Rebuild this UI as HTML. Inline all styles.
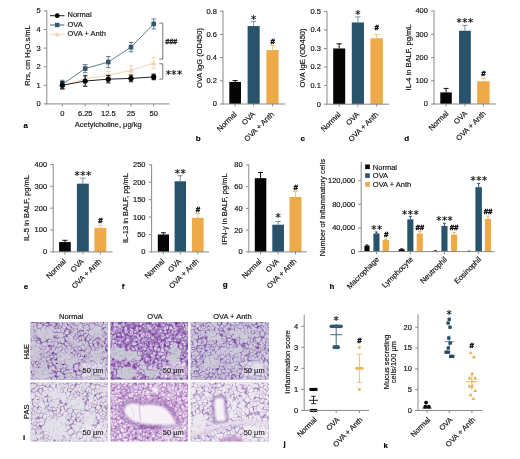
<!DOCTYPE html>
<html><head><meta charset="utf-8"><title>Figure</title>
<style>
html,body{margin:0;padding:0;background:#fff;}
body{width:520px;height:459px;overflow:hidden;}
svg{display:block;font-family:'Liberation Sans', 'DejaVu Sans', sans-serif;filter:blur(0.25px);}
text{stroke:#161616;stroke-width:0.18px;}
</style></head><body>
<svg width="520" height="459" viewBox="0 0 520 459">
<defs><filter id="sb"><feGaussianBlur stdDeviation="0.5"/></filter><filter id="sb2" x="-20%" y="-20%" width="140%" height="140%"><feGaussianBlur stdDeviation="0.9"/></filter><filter id="m0" x="0" y="0" width="1" height="1" color-interpolation-filters="sRGB"><feTurbulence type="fractalNoise" baseFrequency="0.38" numOctaves="2" seed="11"/><feColorMatrix type="matrix" values="0.854 0 0 0 0.196  0.910 0 0 0 0.043  0.672 0 0 0 0.393  0 0 0 0 1"/><feGaussianBlur stdDeviation="0.3"/></filter><filter id="m1" x="0" y="0" width="1" height="1" color-interpolation-filters="sRGB"><feTurbulence type="fractalNoise" baseFrequency="0.36" numOctaves="2" seed="12"/><feColorMatrix type="matrix" values="0.771 0 0 0 0.238  0.810 0 0 0 0.058  0.588 0 0 0 0.439  0 0 0 0 1"/><feGaussianBlur stdDeviation="0.3"/></filter><filter id="m2" x="0" y="0" width="1" height="1" color-interpolation-filters="sRGB"><feTurbulence type="fractalNoise" baseFrequency="0.38" numOctaves="2" seed="13"/><feColorMatrix type="matrix" values="0.854 0 0 0 0.189  0.910 0 0 0 0.051  0.672 0 0 0 0.401  0 0 0 0 1"/><feGaussianBlur stdDeviation="0.3"/></filter><filter id="m3" x="0" y="0" width="1" height="1" color-interpolation-filters="sRGB"><feTurbulence type="fractalNoise" baseFrequency="0.4" numOctaves="2" seed="14"/><feColorMatrix type="matrix" values="0.714 0 0 0 0.361  0.910 0 0 0 0.176  0.560 0 0 0 0.496  0 0 0 0 1"/><feGaussianBlur stdDeviation="0.3"/></filter><filter id="m4" x="0" y="0" width="1" height="1" color-interpolation-filters="sRGB"><feTurbulence type="fractalNoise" baseFrequency="0.4" numOctaves="2" seed="15"/><feColorMatrix type="matrix" values="0.575 0 0 0 0.473  0.784 0 0 0 0.216  0.458 0 0 0 0.583  0 0 0 0 1"/><feGaussianBlur stdDeviation="0.3"/></filter><filter id="m5" x="0" y="0" width="1" height="1" color-interpolation-filters="sRGB"><feTurbulence type="fractalNoise" baseFrequency="0.4" numOctaves="2" seed="16"/><feColorMatrix type="matrix" values="0.665 0 0 0 0.422  0.875 0 0 0 0.231  0.511 0 0 0 0.554  0 0 0 0 1"/><feGaussianBlur stdDeviation="0.3"/></filter></defs>
<rect width="520" height="459" fill="#fff"/>
<line x1="46.80" y1="10.40" x2="46.80" y2="104.40" stroke="#8a8a8a" stroke-width="1"/>
<line x1="43.80" y1="103.90" x2="46.80" y2="103.90" stroke="#8a8a8a" stroke-width="1"/>
<text x="40.70" y="106.30" font-size="7.5" text-anchor="end" fill="#161616">0</text>
<line x1="43.80" y1="85.30" x2="46.80" y2="85.30" stroke="#8a8a8a" stroke-width="1"/>
<text x="40.70" y="87.70" font-size="7.5" text-anchor="end" fill="#161616">1</text>
<line x1="43.80" y1="66.70" x2="46.80" y2="66.70" stroke="#8a8a8a" stroke-width="1"/>
<text x="40.70" y="69.10" font-size="7.5" text-anchor="end" fill="#161616">2</text>
<line x1="43.80" y1="48.10" x2="46.80" y2="48.10" stroke="#8a8a8a" stroke-width="1"/>
<text x="40.70" y="50.50" font-size="7.5" text-anchor="end" fill="#161616">3</text>
<line x1="43.80" y1="29.50" x2="46.80" y2="29.50" stroke="#8a8a8a" stroke-width="1"/>
<text x="40.70" y="31.90" font-size="7.5" text-anchor="end" fill="#161616">4</text>
<line x1="43.80" y1="10.90" x2="46.80" y2="10.90" stroke="#8a8a8a" stroke-width="1"/>
<text x="40.70" y="13.30" font-size="7.5" text-anchor="end" fill="#161616">5</text>
<line x1="46.30" y1="103.90" x2="169.50" y2="103.90" stroke="#8a8a8a" stroke-width="1"/>
<line x1="62.30" y1="103.90" x2="62.30" y2="106.40" stroke="#8a8a8a" stroke-width="1"/>
<line x1="85.20" y1="103.90" x2="85.20" y2="106.40" stroke="#8a8a8a" stroke-width="1"/>
<line x1="108.30" y1="103.90" x2="108.30" y2="106.40" stroke="#8a8a8a" stroke-width="1"/>
<line x1="131.00" y1="103.90" x2="131.00" y2="106.40" stroke="#8a8a8a" stroke-width="1"/>
<line x1="153.70" y1="103.90" x2="153.70" y2="106.40" stroke="#8a8a8a" stroke-width="1"/>
<text x="62.30" y="115.60" font-size="7.5" text-anchor="middle" fill="#161616">0</text>
<text x="85.20" y="115.60" font-size="7.5" text-anchor="middle" fill="#161616">6.25</text>
<text x="108.30" y="115.60" font-size="7.5" text-anchor="middle" fill="#161616">12.5</text>
<text x="131.00" y="115.60" font-size="7.5" text-anchor="middle" fill="#161616">25</text>
<text x="153.70" y="115.60" font-size="7.5" text-anchor="middle" fill="#161616">50</text>
<text x="108.20" y="126.70" font-size="7.5" text-anchor="middle" fill="#161616">Acetylcholine, μg/kg</text>
<text x="29.80" y="55.50" font-size="7.5" text-anchor="middle" fill="#161616" transform="rotate(-90 29.80 55.50)">Rrs, cm H<tspan font-size="5" dy="1.5">2</tspan><tspan dy="-1.5">O.s/mL</tspan></text>
<text x="23.50" y="127.90" font-size="8" text-anchor="start" fill="#000" font-weight="bold">a</text>
<polyline points="62.30,85.30 85.20,78.79 108.30,75.07 131.00,70.42 153.70,62.98" fill="none" stroke="#f5dcc2" stroke-width="1.2"/>
<line x1="62.30" y1="81.95" x2="62.30" y2="88.65" stroke="#f2d3b0" stroke-width="1"/>
<line x1="60.10" y1="81.95" x2="64.50" y2="81.95" stroke="#f2d3b0" stroke-width="1"/>
<line x1="60.10" y1="88.65" x2="64.50" y2="88.65" stroke="#f2d3b0" stroke-width="1"/>
<path d="M59.50,87.30 L65.10,87.30 L62.30,82.70Z" fill="#f2d3b0"/>
<line x1="85.20" y1="74.70" x2="85.20" y2="82.88" stroke="#f2d3b0" stroke-width="1"/>
<line x1="83.00" y1="74.70" x2="87.40" y2="74.70" stroke="#f2d3b0" stroke-width="1"/>
<line x1="83.00" y1="82.88" x2="87.40" y2="82.88" stroke="#f2d3b0" stroke-width="1"/>
<path d="M82.40,80.79 L88.00,80.79 L85.20,76.19Z" fill="#f2d3b0"/>
<line x1="108.30" y1="71.35" x2="108.30" y2="78.79" stroke="#f2d3b0" stroke-width="1"/>
<line x1="106.10" y1="71.35" x2="110.50" y2="71.35" stroke="#f2d3b0" stroke-width="1"/>
<line x1="106.10" y1="78.79" x2="110.50" y2="78.79" stroke="#f2d3b0" stroke-width="1"/>
<path d="M105.50,77.07 L111.10,77.07 L108.30,72.47Z" fill="#f2d3b0"/>
<line x1="131.00" y1="65.77" x2="131.00" y2="75.07" stroke="#f2d3b0" stroke-width="1"/>
<line x1="128.80" y1="65.77" x2="133.20" y2="65.77" stroke="#f2d3b0" stroke-width="1"/>
<line x1="128.80" y1="75.07" x2="133.20" y2="75.07" stroke="#f2d3b0" stroke-width="1"/>
<path d="M128.20,72.42 L133.80,72.42 L131.00,67.82Z" fill="#f2d3b0"/>
<line x1="153.70" y1="57.40" x2="153.70" y2="68.56" stroke="#f2d3b0" stroke-width="1"/>
<line x1="151.50" y1="57.40" x2="155.90" y2="57.40" stroke="#f2d3b0" stroke-width="1"/>
<line x1="151.50" y1="68.56" x2="155.90" y2="68.56" stroke="#f2d3b0" stroke-width="1"/>
<path d="M150.90,64.98 L156.50,64.98 L153.70,60.38Z" fill="#f2d3b0"/>
<polyline points="62.30,84.37 85.20,68.56 108.30,62.05 131.00,47.17 153.70,23.92" fill="none" stroke="#5f7d8f" stroke-width="1"/>
<line x1="62.30" y1="80.28" x2="62.30" y2="88.46" stroke="#5f7d8f" stroke-width="1"/>
<line x1="60.10" y1="80.28" x2="64.50" y2="80.28" stroke="#5f7d8f" stroke-width="1"/>
<line x1="60.10" y1="88.46" x2="64.50" y2="88.46" stroke="#5f7d8f" stroke-width="1"/>
<rect x="60.00" y="82.07" width="4.60" height="4.60" fill="#34566c"/>
<line x1="85.20" y1="64.47" x2="85.20" y2="72.65" stroke="#5f7d8f" stroke-width="1"/>
<line x1="83.00" y1="64.47" x2="87.40" y2="64.47" stroke="#5f7d8f" stroke-width="1"/>
<line x1="83.00" y1="72.65" x2="87.40" y2="72.65" stroke="#5f7d8f" stroke-width="1"/>
<rect x="82.90" y="66.26" width="4.60" height="4.60" fill="#34566c"/>
<line x1="108.30" y1="56.47" x2="108.30" y2="67.63" stroke="#5f7d8f" stroke-width="1"/>
<line x1="106.10" y1="56.47" x2="110.50" y2="56.47" stroke="#5f7d8f" stroke-width="1"/>
<line x1="106.10" y1="67.63" x2="110.50" y2="67.63" stroke="#5f7d8f" stroke-width="1"/>
<rect x="106.00" y="59.75" width="4.60" height="4.60" fill="#34566c"/>
<line x1="131.00" y1="42.52" x2="131.00" y2="51.82" stroke="#5f7d8f" stroke-width="1"/>
<line x1="128.80" y1="42.52" x2="133.20" y2="42.52" stroke="#5f7d8f" stroke-width="1"/>
<line x1="128.80" y1="51.82" x2="133.20" y2="51.82" stroke="#5f7d8f" stroke-width="1"/>
<rect x="128.70" y="44.87" width="4.60" height="4.60" fill="#34566c"/>
<line x1="153.70" y1="18.90" x2="153.70" y2="28.94" stroke="#5f7d8f" stroke-width="1"/>
<line x1="151.50" y1="18.90" x2="155.90" y2="18.90" stroke="#5f7d8f" stroke-width="1"/>
<line x1="151.50" y1="28.94" x2="155.90" y2="28.94" stroke="#5f7d8f" stroke-width="1"/>
<rect x="151.40" y="21.62" width="4.60" height="4.60" fill="#34566c"/>
<polyline points="62.30,85.30 85.20,81.02 108.30,79.16 131.00,78.42 153.70,76.93" fill="none" stroke="#222" stroke-width="1"/>
<line x1="62.30" y1="81.58" x2="62.30" y2="89.02" stroke="#111" stroke-width="1"/>
<line x1="60.10" y1="81.58" x2="64.50" y2="81.58" stroke="#111" stroke-width="1"/>
<line x1="60.10" y1="89.02" x2="64.50" y2="89.02" stroke="#111" stroke-width="1"/>
<circle cx="62.30" cy="85.30" r="2.6" fill="#000"/>
<line x1="85.20" y1="75.81" x2="85.20" y2="86.23" stroke="#111" stroke-width="1"/>
<line x1="83.00" y1="75.81" x2="87.40" y2="75.81" stroke="#111" stroke-width="1"/>
<line x1="83.00" y1="86.23" x2="87.40" y2="86.23" stroke="#111" stroke-width="1"/>
<circle cx="85.20" cy="81.02" r="2.6" fill="#000"/>
<line x1="108.30" y1="75.44" x2="108.30" y2="82.88" stroke="#111" stroke-width="1"/>
<line x1="106.10" y1="75.44" x2="110.50" y2="75.44" stroke="#111" stroke-width="1"/>
<line x1="106.10" y1="82.88" x2="110.50" y2="82.88" stroke="#111" stroke-width="1"/>
<circle cx="108.30" cy="79.16" r="2.6" fill="#000"/>
<line x1="131.00" y1="75.07" x2="131.00" y2="81.77" stroke="#111" stroke-width="1"/>
<line x1="128.80" y1="75.07" x2="133.20" y2="75.07" stroke="#111" stroke-width="1"/>
<line x1="128.80" y1="81.77" x2="133.20" y2="81.77" stroke="#111" stroke-width="1"/>
<circle cx="131.00" cy="78.42" r="2.6" fill="#000"/>
<line x1="153.70" y1="74.14" x2="153.70" y2="79.72" stroke="#111" stroke-width="1"/>
<line x1="151.50" y1="74.14" x2="155.90" y2="74.14" stroke="#111" stroke-width="1"/>
<line x1="151.50" y1="79.72" x2="155.90" y2="79.72" stroke="#111" stroke-width="1"/>
<circle cx="153.70" cy="76.93" r="2.6" fill="#000"/>
<line x1="50.00" y1="15.70" x2="64.40" y2="15.70" stroke="#222" stroke-width="1"/>
<circle cx="57.2" cy="15.7" r="2.4" fill="#000"/>
<line x1="50.00" y1="25.00" x2="64.40" y2="25.00" stroke="#5f7d8f" stroke-width="1.2"/>
<rect x="55.00" y="22.80" width="4.40" height="4.40" fill="#34566c"/>
<line x1="50.00" y1="34.40" x2="64.40" y2="34.40" stroke="#f5dcc2" stroke-width="1.2"/>
<path d="M54.6,36.199999999999996 L59.8,36.199999999999996 L57.2,32.0Z" fill="#f2d3b0"/>
<text x="67.50" y="17.30" font-size="7.5" text-anchor="start" fill="#161616">Normal</text>
<text x="67.50" y="26.80" font-size="7.5" text-anchor="start" fill="#161616">OVA</text>
<text x="67.50" y="36.40" font-size="7.5" text-anchor="start" fill="#161616">OVA + Anth</text>
<path d="M159.3,23.1 H162.8 V59.1 H159.3" fill="none" stroke="#666" stroke-width="0.9"/>
<path d="M159.3,63.8 H162.8 V79.1 H159.3" fill="none" stroke="#666" stroke-width="0.9"/>
<text x="165.30" y="44.30" font-size="7.4" text-anchor="start" fill="#161616" font-weight="bold" font-style="italic" letter-spacing="-0.2" style="stroke-width:0.3px">###</text>
<text x="164.90" y="74.50" font-size="8.0" text-anchor="start" fill="#161616" font-family="DejaVu Sans" letter-spacing="-1.0">∗∗∗</text>
<rect x="229.30" y="81.96" width="11.70" height="22.04" fill="#050505"/>
<line x1="235.15" y1="80.57" x2="235.15" y2="81.96" stroke="#111" stroke-width="1"/>
<line x1="232.58" y1="80.57" x2="237.72" y2="80.57" stroke="#111" stroke-width="1"/>
<rect x="247.60" y="26.05" width="12.10" height="77.95" fill="#28536b"/>
<line x1="253.65" y1="21.41" x2="253.65" y2="26.05" stroke="#7f919e" stroke-width="1"/>
<line x1="250.99" y1="21.41" x2="256.31" y2="21.41" stroke="#7f919e" stroke-width="1"/>
<rect x="266.40" y="50.06" width="12.20" height="53.94" fill="#eeaa48"/>
<line x1="272.50" y1="45.42" x2="272.50" y2="50.06" stroke="#f2c87e" stroke-width="1"/>
<line x1="269.82" y1="45.42" x2="275.18" y2="45.42" stroke="#f2c87e" stroke-width="1"/>
<text x="253.15" y="19.50" font-size="8.0" text-anchor="middle" fill="#161616" font-family="DejaVu Sans" letter-spacing="-1.0">∗</text>
<text x="272.50" y="43.50" font-size="7.6" text-anchor="middle" fill="#161616" font-weight="bold" font-style="italic" style="stroke-width:0.5px">#</text>
<line x1="223.00" y1="10.70" x2="223.00" y2="104.50" stroke="#8a8a8a" stroke-width="1"/>
<line x1="220.00" y1="104.00" x2="223.00" y2="104.00" stroke="#8a8a8a" stroke-width="1"/>
<text x="216.90" y="106.40" font-size="7.5" text-anchor="end" fill="#161616">0</text>
<line x1="220.00" y1="80.80" x2="223.00" y2="80.80" stroke="#8a8a8a" stroke-width="1"/>
<text x="216.90" y="83.20" font-size="7.5" text-anchor="end" fill="#161616">0.2</text>
<line x1="220.00" y1="57.60" x2="223.00" y2="57.60" stroke="#8a8a8a" stroke-width="1"/>
<text x="216.90" y="60.00" font-size="7.5" text-anchor="end" fill="#161616">0.4</text>
<line x1="220.00" y1="34.40" x2="223.00" y2="34.40" stroke="#8a8a8a" stroke-width="1"/>
<text x="216.90" y="36.80" font-size="7.5" text-anchor="end" fill="#161616">0.6</text>
<line x1="220.00" y1="11.20" x2="223.00" y2="11.20" stroke="#8a8a8a" stroke-width="1"/>
<text x="216.90" y="13.60" font-size="7.5" text-anchor="end" fill="#161616">0.8</text>
<line x1="222.50" y1="104.00" x2="285.60" y2="104.00" stroke="#8a8a8a" stroke-width="1"/>
<line x1="235.15" y1="104.00" x2="235.15" y2="106.50" stroke="#8a8a8a" stroke-width="1"/>
<line x1="253.65" y1="104.00" x2="253.65" y2="106.50" stroke="#8a8a8a" stroke-width="1"/>
<line x1="272.50" y1="104.00" x2="272.50" y2="106.50" stroke="#8a8a8a" stroke-width="1"/>
<text x="237.15" y="114.80" font-size="7.5" text-anchor="end" fill="#161616" transform="rotate(-45 237.15 114.80)">Normal</text>
<text x="255.65" y="114.80" font-size="7.5" text-anchor="end" fill="#161616" transform="rotate(-45 255.65 114.80)">OVA</text>
<text x="274.50" y="114.80" font-size="7.5" text-anchor="end" fill="#161616" transform="rotate(-45 274.50 114.80)">OVA + Anth</text>
<text x="202.00" y="58.00" font-size="7.5" text-anchor="middle" fill="#161616" transform="rotate(-90 202.00 58.00)">OVA IgG (OD450)</text>
<text x="195.80" y="141.00" font-size="8" text-anchor="start" fill="#000" font-weight="bold">b</text>
<rect x="333.20" y="48.46" width="12.00" height="55.74" fill="#050505"/>
<line x1="339.20" y1="43.81" x2="339.20" y2="48.46" stroke="#111" stroke-width="1"/>
<line x1="336.56" y1="43.81" x2="341.84" y2="43.81" stroke="#111" stroke-width="1"/>
<rect x="351.80" y="22.45" width="12.20" height="81.75" fill="#28536b"/>
<line x1="357.90" y1="16.87" x2="357.90" y2="22.45" stroke="#7f919e" stroke-width="1"/>
<line x1="355.22" y1="16.87" x2="360.58" y2="16.87" stroke="#7f919e" stroke-width="1"/>
<rect x="370.40" y="38.24" width="12.50" height="65.96" fill="#eeaa48"/>
<line x1="376.65" y1="34.52" x2="376.65" y2="38.24" stroke="#f2c87e" stroke-width="1"/>
<line x1="373.90" y1="34.52" x2="379.40" y2="34.52" stroke="#f2c87e" stroke-width="1"/>
<text x="357.40" y="15.30" font-size="8.0" text-anchor="middle" fill="#161616" font-family="DejaVu Sans" letter-spacing="-1.0">∗</text>
<text x="376.65" y="30.30" font-size="7.6" text-anchor="middle" fill="#161616" font-weight="bold" font-style="italic" style="stroke-width:0.5px">#</text>
<line x1="327.00" y1="10.80" x2="327.00" y2="104.70" stroke="#8a8a8a" stroke-width="1"/>
<line x1="324.00" y1="104.20" x2="327.00" y2="104.20" stroke="#8a8a8a" stroke-width="1"/>
<text x="320.90" y="106.60" font-size="7.5" text-anchor="end" fill="#161616">0</text>
<line x1="324.00" y1="85.62" x2="327.00" y2="85.62" stroke="#8a8a8a" stroke-width="1"/>
<text x="320.90" y="88.02" font-size="7.5" text-anchor="end" fill="#161616">0.1</text>
<line x1="324.00" y1="67.04" x2="327.00" y2="67.04" stroke="#8a8a8a" stroke-width="1"/>
<text x="320.90" y="69.44" font-size="7.5" text-anchor="end" fill="#161616">0.2</text>
<line x1="324.00" y1="48.46" x2="327.00" y2="48.46" stroke="#8a8a8a" stroke-width="1"/>
<text x="320.90" y="50.86" font-size="7.5" text-anchor="end" fill="#161616">0.3</text>
<line x1="324.00" y1="29.88" x2="327.00" y2="29.88" stroke="#8a8a8a" stroke-width="1"/>
<text x="320.90" y="32.28" font-size="7.5" text-anchor="end" fill="#161616">0.4</text>
<line x1="324.00" y1="11.30" x2="327.00" y2="11.30" stroke="#8a8a8a" stroke-width="1"/>
<text x="320.90" y="13.70" font-size="7.5" text-anchor="end" fill="#161616">0.5</text>
<line x1="326.50" y1="104.20" x2="389.00" y2="104.20" stroke="#8a8a8a" stroke-width="1"/>
<line x1="339.20" y1="104.20" x2="339.20" y2="106.70" stroke="#8a8a8a" stroke-width="1"/>
<line x1="357.90" y1="104.20" x2="357.90" y2="106.70" stroke="#8a8a8a" stroke-width="1"/>
<line x1="376.65" y1="104.20" x2="376.65" y2="106.70" stroke="#8a8a8a" stroke-width="1"/>
<text x="341.20" y="115.00" font-size="7.5" text-anchor="end" fill="#161616" transform="rotate(-45 341.20 115.00)">Normal</text>
<text x="359.90" y="115.00" font-size="7.5" text-anchor="end" fill="#161616" transform="rotate(-45 359.90 115.00)">OVA</text>
<text x="378.65" y="115.00" font-size="7.5" text-anchor="end" fill="#161616" transform="rotate(-45 378.65 115.00)">OVA + Anth</text>
<text x="304.50" y="58.00" font-size="7.5" text-anchor="middle" fill="#161616" transform="rotate(-90 304.50 58.00)">OVA IgE (OD450)</text>
<text x="300.40" y="140.60" font-size="8" text-anchor="start" fill="#000" font-weight="bold">c</text>
<rect x="440.30" y="92.38" width="11.50" height="11.62" fill="#050505"/>
<line x1="446.05" y1="88.42" x2="446.05" y2="92.38" stroke="#111" stroke-width="1"/>
<line x1="443.52" y1="88.42" x2="448.58" y2="88.42" stroke="#111" stroke-width="1"/>
<rect x="459.00" y="30.76" width="11.80" height="73.24" fill="#28536b"/>
<line x1="464.90" y1="25.41" x2="464.90" y2="30.76" stroke="#7f919e" stroke-width="1"/>
<line x1="462.30" y1="25.41" x2="467.50" y2="25.41" stroke="#7f919e" stroke-width="1"/>
<rect x="477.20" y="81.22" width="12.40" height="22.78" fill="#eeaa48"/>
<line x1="483.40" y1="78.42" x2="483.40" y2="81.22" stroke="#f2c87e" stroke-width="1"/>
<line x1="480.67" y1="78.42" x2="486.13" y2="78.42" stroke="#f2c87e" stroke-width="1"/>
<text x="464.40" y="23.40" font-size="8.0" text-anchor="middle" fill="#161616" font-family="DejaVu Sans" letter-spacing="-1.0">∗∗∗</text>
<text x="483.40" y="76.10" font-size="7.6" text-anchor="middle" fill="#161616" font-weight="bold" font-style="italic" style="stroke-width:0.5px">#</text>
<line x1="434.00" y1="10.50" x2="434.00" y2="104.50" stroke="#8a8a8a" stroke-width="1"/>
<line x1="431.00" y1="104.00" x2="434.00" y2="104.00" stroke="#8a8a8a" stroke-width="1"/>
<text x="427.90" y="106.40" font-size="7.5" text-anchor="end" fill="#161616">0</text>
<line x1="431.00" y1="80.75" x2="434.00" y2="80.75" stroke="#8a8a8a" stroke-width="1"/>
<text x="427.90" y="83.15" font-size="7.5" text-anchor="end" fill="#161616">100</text>
<line x1="431.00" y1="57.50" x2="434.00" y2="57.50" stroke="#8a8a8a" stroke-width="1"/>
<text x="427.90" y="59.90" font-size="7.5" text-anchor="end" fill="#161616">200</text>
<line x1="431.00" y1="34.25" x2="434.00" y2="34.25" stroke="#8a8a8a" stroke-width="1"/>
<text x="427.90" y="36.65" font-size="7.5" text-anchor="end" fill="#161616">300</text>
<line x1="431.00" y1="11.00" x2="434.00" y2="11.00" stroke="#8a8a8a" stroke-width="1"/>
<text x="427.90" y="13.40" font-size="7.5" text-anchor="end" fill="#161616">400</text>
<line x1="433.50" y1="104.00" x2="496.00" y2="104.00" stroke="#8a8a8a" stroke-width="1"/>
<line x1="446.05" y1="104.00" x2="446.05" y2="106.50" stroke="#8a8a8a" stroke-width="1"/>
<line x1="464.90" y1="104.00" x2="464.90" y2="106.50" stroke="#8a8a8a" stroke-width="1"/>
<line x1="483.40" y1="104.00" x2="483.40" y2="106.50" stroke="#8a8a8a" stroke-width="1"/>
<text x="448.85" y="114.00" font-size="7.5" text-anchor="end" fill="#161616" transform="rotate(-45 448.85 114.00)">Normal</text>
<text x="467.70" y="114.00" font-size="7.5" text-anchor="end" fill="#161616" transform="rotate(-45 467.70 114.00)">OVA</text>
<text x="486.20" y="114.00" font-size="7.5" text-anchor="end" fill="#161616" transform="rotate(-45 486.20 114.00)">OVA + Anth</text>
<text x="411.20" y="57.50" font-size="7.5" text-anchor="middle" fill="#161616" transform="rotate(-90 411.20 57.50)">IL-4 in BALF, pg/mL</text>
<text x="404.20" y="140.60" font-size="8" text-anchor="start" fill="#000" font-weight="bold">d</text>
<rect x="59.10" y="242.06" width="11.70" height="9.84" fill="#050505"/>
<line x1="64.95" y1="240.31" x2="64.95" y2="242.06" stroke="#111" stroke-width="1"/>
<line x1="62.38" y1="240.31" x2="67.52" y2="240.31" stroke="#111" stroke-width="1"/>
<rect x="76.90" y="183.65" width="11.90" height="68.25" fill="#28536b"/>
<line x1="82.85" y1="178.18" x2="82.85" y2="183.65" stroke="#7f919e" stroke-width="1"/>
<line x1="80.23" y1="178.18" x2="85.47" y2="178.18" stroke="#7f919e" stroke-width="1"/>
<rect x="94.40" y="227.84" width="11.90" height="24.06" fill="#eeaa48"/>
<line x1="100.35" y1="225.21" x2="100.35" y2="227.84" stroke="#f2c87e" stroke-width="1"/>
<line x1="97.73" y1="225.21" x2="102.97" y2="225.21" stroke="#f2c87e" stroke-width="1"/>
<text x="82.35" y="176.10" font-size="8.0" text-anchor="middle" fill="#161616" font-family="DejaVu Sans" letter-spacing="-1.0">∗∗∗</text>
<text x="100.35" y="223.10" font-size="7.6" text-anchor="middle" fill="#161616" font-weight="bold" font-style="italic" style="stroke-width:0.5px">#</text>
<line x1="53.20" y1="163.90" x2="53.20" y2="252.40" stroke="#8a8a8a" stroke-width="1"/>
<line x1="50.20" y1="251.90" x2="53.20" y2="251.90" stroke="#8a8a8a" stroke-width="1"/>
<text x="47.10" y="254.30" font-size="7.5" text-anchor="end" fill="#161616">0</text>
<line x1="50.20" y1="230.03" x2="53.20" y2="230.03" stroke="#8a8a8a" stroke-width="1"/>
<text x="47.10" y="232.43" font-size="7.5" text-anchor="end" fill="#161616">100</text>
<line x1="50.20" y1="208.15" x2="53.20" y2="208.15" stroke="#8a8a8a" stroke-width="1"/>
<text x="47.10" y="210.55" font-size="7.5" text-anchor="end" fill="#161616">200</text>
<line x1="50.20" y1="186.28" x2="53.20" y2="186.28" stroke="#8a8a8a" stroke-width="1"/>
<text x="47.10" y="188.68" font-size="7.5" text-anchor="end" fill="#161616">300</text>
<line x1="50.20" y1="164.40" x2="53.20" y2="164.40" stroke="#8a8a8a" stroke-width="1"/>
<text x="47.10" y="166.80" font-size="7.5" text-anchor="end" fill="#161616">400</text>
<line x1="52.70" y1="251.90" x2="112.50" y2="251.90" stroke="#8a8a8a" stroke-width="1"/>
<line x1="64.95" y1="251.90" x2="64.95" y2="254.40" stroke="#8a8a8a" stroke-width="1"/>
<line x1="82.85" y1="251.90" x2="82.85" y2="254.40" stroke="#8a8a8a" stroke-width="1"/>
<line x1="100.35" y1="251.90" x2="100.35" y2="254.40" stroke="#8a8a8a" stroke-width="1"/>
<text x="66.45" y="261.90" font-size="7.5" text-anchor="end" fill="#161616" transform="rotate(-45 66.45 261.90)">Normal</text>
<text x="84.35" y="261.90" font-size="7.5" text-anchor="end" fill="#161616" transform="rotate(-45 84.35 261.90)">OVA</text>
<text x="101.85" y="261.90" font-size="7.5" text-anchor="end" fill="#161616" transform="rotate(-45 101.85 261.90)">OVA + Anth</text>
<text x="28.90" y="208.00" font-size="7.5" text-anchor="middle" fill="#161616" transform="rotate(-90 28.90 208.00)">IL-5 in BALF, pg/mL</text>
<text x="23.80" y="288.50" font-size="8" text-anchor="start" fill="#000" font-weight="bold">e</text>
<rect x="157.80" y="234.50" width="11.20" height="17.40" fill="#050505"/>
<line x1="163.40" y1="232.76" x2="163.40" y2="234.50" stroke="#111" stroke-width="1"/>
<line x1="160.94" y1="232.76" x2="165.86" y2="232.76" stroke="#111" stroke-width="1"/>
<rect x="174.60" y="181.26" width="11.40" height="70.64" fill="#28536b"/>
<line x1="180.30" y1="175.69" x2="180.30" y2="181.26" stroke="#7f919e" stroke-width="1"/>
<line x1="177.79" y1="175.69" x2="182.81" y2="175.69" stroke="#7f919e" stroke-width="1"/>
<rect x="191.90" y="217.80" width="11.70" height="34.10" fill="#eeaa48"/>
<line x1="197.75" y1="213.62" x2="197.75" y2="217.80" stroke="#f2c87e" stroke-width="1"/>
<line x1="195.18" y1="213.62" x2="200.32" y2="213.62" stroke="#f2c87e" stroke-width="1"/>
<text x="179.80" y="173.90" font-size="8.0" text-anchor="middle" fill="#161616" font-family="DejaVu Sans" letter-spacing="-1.0">∗∗</text>
<text x="197.75" y="211.60" font-size="7.6" text-anchor="middle" fill="#161616" font-weight="bold" font-style="italic" style="stroke-width:0.5px">#</text>
<line x1="151.60" y1="164.40" x2="151.60" y2="252.40" stroke="#8a8a8a" stroke-width="1"/>
<line x1="148.60" y1="251.90" x2="151.60" y2="251.90" stroke="#8a8a8a" stroke-width="1"/>
<text x="145.50" y="254.30" font-size="7.5" text-anchor="end" fill="#161616">0</text>
<line x1="148.60" y1="234.50" x2="151.60" y2="234.50" stroke="#8a8a8a" stroke-width="1"/>
<text x="145.50" y="236.90" font-size="7.5" text-anchor="end" fill="#161616">50</text>
<line x1="148.60" y1="217.10" x2="151.60" y2="217.10" stroke="#8a8a8a" stroke-width="1"/>
<text x="145.50" y="219.50" font-size="7.5" text-anchor="end" fill="#161616">100</text>
<line x1="148.60" y1="199.70" x2="151.60" y2="199.70" stroke="#8a8a8a" stroke-width="1"/>
<text x="145.50" y="202.10" font-size="7.5" text-anchor="end" fill="#161616">150</text>
<line x1="148.60" y1="182.30" x2="151.60" y2="182.30" stroke="#8a8a8a" stroke-width="1"/>
<text x="145.50" y="184.70" font-size="7.5" text-anchor="end" fill="#161616">200</text>
<line x1="148.60" y1="164.90" x2="151.60" y2="164.90" stroke="#8a8a8a" stroke-width="1"/>
<text x="145.50" y="167.30" font-size="7.5" text-anchor="end" fill="#161616">250</text>
<line x1="151.10" y1="251.90" x2="209.00" y2="251.90" stroke="#8a8a8a" stroke-width="1"/>
<line x1="163.40" y1="251.90" x2="163.40" y2="254.40" stroke="#8a8a8a" stroke-width="1"/>
<line x1="180.30" y1="251.90" x2="180.30" y2="254.40" stroke="#8a8a8a" stroke-width="1"/>
<line x1="197.75" y1="251.90" x2="197.75" y2="254.40" stroke="#8a8a8a" stroke-width="1"/>
<text x="164.90" y="261.90" font-size="7.5" text-anchor="end" fill="#161616" transform="rotate(-45 164.90 261.90)">Normal</text>
<text x="181.80" y="261.90" font-size="7.5" text-anchor="end" fill="#161616" transform="rotate(-45 181.80 261.90)">OVA</text>
<text x="199.25" y="261.90" font-size="7.5" text-anchor="end" fill="#161616" transform="rotate(-45 199.25 261.90)">OVA + Anth</text>
<text x="128.00" y="208.00" font-size="7.5" text-anchor="middle" fill="#161616" transform="rotate(-90 128.00 208.00)">IL-13 in BALF, pg/mL</text>
<text x="121.80" y="289.00" font-size="8" text-anchor="start" fill="#000" font-weight="bold">f</text>
<rect x="254.80" y="178.17" width="11.50" height="73.73" fill="#050505"/>
<line x1="260.55" y1="172.51" x2="260.55" y2="178.17" stroke="#111" stroke-width="1"/>
<line x1="258.02" y1="172.51" x2="263.08" y2="172.51" stroke="#111" stroke-width="1"/>
<rect x="272.30" y="224.71" width="11.70" height="27.19" fill="#28536b"/>
<line x1="278.15" y1="221.45" x2="278.15" y2="224.71" stroke="#7f919e" stroke-width="1"/>
<line x1="275.58" y1="221.45" x2="280.72" y2="221.45" stroke="#7f919e" stroke-width="1"/>
<rect x="289.50" y="196.98" width="12.00" height="54.92" fill="#eeaa48"/>
<line x1="295.50" y1="191.54" x2="295.50" y2="196.98" stroke="#f2c87e" stroke-width="1"/>
<line x1="292.86" y1="191.54" x2="298.14" y2="191.54" stroke="#f2c87e" stroke-width="1"/>
<text x="277.65" y="218.00" font-size="8.0" text-anchor="middle" fill="#161616" font-family="DejaVu Sans" letter-spacing="-1.0">∗</text>
<text x="295.50" y="190.00" font-size="7.6" text-anchor="middle" fill="#161616" font-weight="bold" font-style="italic" style="stroke-width:0.5px">#</text>
<line x1="248.80" y1="164.40" x2="248.80" y2="252.40" stroke="#8a8a8a" stroke-width="1"/>
<line x1="245.80" y1="251.90" x2="248.80" y2="251.90" stroke="#8a8a8a" stroke-width="1"/>
<text x="242.70" y="254.30" font-size="7.5" text-anchor="end" fill="#161616">0</text>
<line x1="245.80" y1="230.15" x2="248.80" y2="230.15" stroke="#8a8a8a" stroke-width="1"/>
<text x="242.70" y="232.55" font-size="7.5" text-anchor="end" fill="#161616">20</text>
<line x1="245.80" y1="208.40" x2="248.80" y2="208.40" stroke="#8a8a8a" stroke-width="1"/>
<text x="242.70" y="210.80" font-size="7.5" text-anchor="end" fill="#161616">40</text>
<line x1="245.80" y1="186.65" x2="248.80" y2="186.65" stroke="#8a8a8a" stroke-width="1"/>
<text x="242.70" y="189.05" font-size="7.5" text-anchor="end" fill="#161616">60</text>
<line x1="245.80" y1="164.90" x2="248.80" y2="164.90" stroke="#8a8a8a" stroke-width="1"/>
<text x="242.70" y="167.30" font-size="7.5" text-anchor="end" fill="#161616">80</text>
<line x1="248.30" y1="251.90" x2="307.00" y2="251.90" stroke="#8a8a8a" stroke-width="1"/>
<line x1="260.55" y1="251.90" x2="260.55" y2="254.40" stroke="#8a8a8a" stroke-width="1"/>
<line x1="278.15" y1="251.90" x2="278.15" y2="254.40" stroke="#8a8a8a" stroke-width="1"/>
<line x1="295.50" y1="251.90" x2="295.50" y2="254.40" stroke="#8a8a8a" stroke-width="1"/>
<text x="262.05" y="261.90" font-size="7.5" text-anchor="end" fill="#161616" transform="rotate(-45 262.05 261.90)">Normal</text>
<text x="279.65" y="261.90" font-size="7.5" text-anchor="end" fill="#161616" transform="rotate(-45 279.65 261.90)">OVA</text>
<text x="297.00" y="261.90" font-size="7.5" text-anchor="end" fill="#161616" transform="rotate(-45 297.00 261.90)">OVA + Anth</text>
<text x="227.00" y="209.00" font-size="7.5" text-anchor="middle" fill="#161616" transform="rotate(-90 227.00 209.00)">IFN-γ in BALF, pg/mL</text>
<text x="222.70" y="287.30" font-size="8" text-anchor="start" fill="#000" font-weight="bold">g</text>
<line x1="361.20" y1="162.00" x2="361.20" y2="252.10" stroke="#8a8a8a" stroke-width="1"/>
<line x1="358.20" y1="251.60" x2="361.20" y2="251.60" stroke="#8a8a8a" stroke-width="1"/>
<text x="355.10" y="254.00" font-size="7.5" text-anchor="end" fill="#161616">0</text>
<line x1="358.20" y1="227.97" x2="361.20" y2="227.97" stroke="#8a8a8a" stroke-width="1"/>
<text x="355.10" y="230.37" font-size="7.5" text-anchor="end" fill="#161616">40,000</text>
<line x1="358.20" y1="204.33" x2="361.20" y2="204.33" stroke="#8a8a8a" stroke-width="1"/>
<text x="355.10" y="206.73" font-size="7.5" text-anchor="end" fill="#161616">80,000</text>
<line x1="358.20" y1="180.70" x2="361.20" y2="180.70" stroke="#8a8a8a" stroke-width="1"/>
<text x="355.10" y="183.10" font-size="7.5" text-anchor="end" fill="#161616">120,000</text>
<rect x="364.40" y="245.69" width="5.20" height="5.91" fill="#050505"/>
<line x1="367.00" y1="244.98" x2="367.00" y2="245.69" stroke="#050505" stroke-width="1"/>
<line x1="365.50" y1="244.98" x2="368.50" y2="244.98" stroke="#050505" stroke-width="1"/>
<rect x="373.40" y="233.46" width="6.10" height="18.14" fill="#28536b"/>
<line x1="376.45" y1="231.98" x2="376.45" y2="233.46" stroke="#28536b" stroke-width="1"/>
<line x1="374.95" y1="231.98" x2="377.95" y2="231.98" stroke="#28536b" stroke-width="1"/>
<rect x="382.60" y="240.05" width="6.40" height="11.55" fill="#eeaa48"/>
<line x1="385.80" y1="239.16" x2="385.80" y2="240.05" stroke="#eeaa48" stroke-width="1"/>
<line x1="384.30" y1="239.16" x2="387.30" y2="239.16" stroke="#eeaa48" stroke-width="1"/>
<text x="376.30" y="230.40" font-size="8.0" text-anchor="middle" fill="#161616" font-family="DejaVu Sans" letter-spacing="-1.0">∗∗</text>
<text x="386.20" y="236.50" font-size="7.6" text-anchor="middle" fill="#161616" font-weight="bold" font-style="italic" style="stroke-width:0.5px">#</text>
<rect x="398.70" y="249.24" width="6.00" height="2.36" fill="#050505"/>
<line x1="401.70" y1="248.88" x2="401.70" y2="249.24" stroke="#050505" stroke-width="1"/>
<line x1="400.20" y1="248.88" x2="403.20" y2="248.88" stroke="#050505" stroke-width="1"/>
<rect x="407.30" y="219.34" width="6.10" height="32.26" fill="#28536b"/>
<line x1="410.35" y1="216.39" x2="410.35" y2="219.34" stroke="#28536b" stroke-width="1"/>
<line x1="408.85" y1="216.39" x2="411.85" y2="216.39" stroke="#28536b" stroke-width="1"/>
<rect x="416.70" y="233.48" width="6.10" height="18.12" fill="#eeaa48"/>
<line x1="419.75" y1="231.41" x2="419.75" y2="233.48" stroke="#eeaa48" stroke-width="1"/>
<line x1="418.25" y1="231.41" x2="421.25" y2="231.41" stroke="#eeaa48" stroke-width="1"/>
<text x="409.80" y="214.70" font-size="8.0" text-anchor="middle" fill="#161616" font-family="DejaVu Sans" letter-spacing="-1.0">∗∗∗</text>
<text x="419.80" y="229.70" font-size="7.6" text-anchor="middle" fill="#161616" font-weight="bold" font-style="italic" style="stroke-width:0.5px">##</text>
<rect x="432.40" y="251.01" width="6.00" height="0.59" fill="#050505"/>
<line x1="435.40" y1="250.83" x2="435.40" y2="251.01" stroke="#050505" stroke-width="1"/>
<line x1="433.90" y1="250.83" x2="436.90" y2="250.83" stroke="#050505" stroke-width="1"/>
<rect x="441.40" y="225.91" width="6.10" height="25.69" fill="#28536b"/>
<line x1="444.45" y1="223.31" x2="444.45" y2="225.91" stroke="#28536b" stroke-width="1"/>
<line x1="442.95" y1="223.31" x2="445.95" y2="223.31" stroke="#28536b" stroke-width="1"/>
<rect x="451.00" y="234.67" width="6.10" height="16.93" fill="#eeaa48"/>
<line x1="454.05" y1="232.37" x2="454.05" y2="234.67" stroke="#eeaa48" stroke-width="1"/>
<line x1="452.55" y1="232.37" x2="455.55" y2="232.37" stroke="#eeaa48" stroke-width="1"/>
<text x="444.00" y="221.30" font-size="8.0" text-anchor="middle" fill="#161616" font-family="DejaVu Sans" letter-spacing="-1.0">∗∗∗</text>
<text x="454.10" y="229.70" font-size="7.6" text-anchor="middle" fill="#161616" font-weight="bold" font-style="italic" style="stroke-width:0.5px">##</text>
<rect x="466.00" y="251.30" width="6.00" height="0.30" fill="#050505"/>
<line x1="469.00" y1="251.19" x2="469.00" y2="251.30" stroke="#050505" stroke-width="1"/>
<line x1="467.50" y1="251.19" x2="470.50" y2="251.19" stroke="#050505" stroke-width="1"/>
<rect x="475.40" y="187.20" width="6.50" height="64.40" fill="#28536b"/>
<line x1="478.65" y1="183.42" x2="478.65" y2="187.20" stroke="#28536b" stroke-width="1"/>
<line x1="477.15" y1="183.42" x2="480.15" y2="183.42" stroke="#28536b" stroke-width="1"/>
<rect x="484.90" y="219.05" width="6.10" height="32.55" fill="#eeaa48"/>
<line x1="487.95" y1="216.09" x2="487.95" y2="219.05" stroke="#eeaa48" stroke-width="1"/>
<line x1="486.45" y1="216.09" x2="489.45" y2="216.09" stroke="#eeaa48" stroke-width="1"/>
<text x="478.30" y="180.80" font-size="8.0" text-anchor="middle" fill="#161616" font-family="DejaVu Sans" letter-spacing="-1.0">∗∗∗</text>
<text x="488.00" y="214.40" font-size="7.6" text-anchor="middle" fill="#161616" font-weight="bold" font-style="italic" style="stroke-width:0.5px">##</text>
<line x1="360.70" y1="251.60" x2="494.70" y2="251.60" stroke="#8a8a8a" stroke-width="1"/>
<line x1="376.45" y1="251.60" x2="376.45" y2="254.10" stroke="#8a8a8a" stroke-width="1"/>
<line x1="410.35" y1="251.60" x2="410.35" y2="254.10" stroke="#8a8a8a" stroke-width="1"/>
<line x1="444.45" y1="251.60" x2="444.45" y2="254.10" stroke="#8a8a8a" stroke-width="1"/>
<line x1="478.65" y1="251.60" x2="478.65" y2="254.10" stroke="#8a8a8a" stroke-width="1"/>
<text x="379.45" y="259.90" font-size="7.5" text-anchor="end" fill="#161616" transform="rotate(-45 379.45 259.90)">Macrophage</text>
<text x="413.35" y="259.90" font-size="7.5" text-anchor="end" fill="#161616" transform="rotate(-45 413.35 259.90)">Lymphocyte</text>
<text x="447.45" y="259.90" font-size="7.5" text-anchor="end" fill="#161616" transform="rotate(-45 447.45 259.90)">Neutrophil</text>
<text x="481.65" y="259.90" font-size="7.5" text-anchor="end" fill="#161616" transform="rotate(-45 481.65 259.90)">Eosinophil</text>
<text x="324.60" y="207.60" font-size="7.5" text-anchor="middle" fill="#161616" transform="rotate(-90 324.60 207.60)">Number of inflammatory cells</text>
<rect x="365.20" y="164.50" width="4.60" height="4.60" fill="#050505"/>
<text x="372.80" y="169.50" font-size="7.5" text-anchor="start" fill="#161616">Normal</text>
<rect x="365.20" y="173.30" width="4.60" height="4.60" fill="#28536b"/>
<text x="372.80" y="178.30" font-size="7.5" text-anchor="start" fill="#161616">OVA</text>
<rect x="365.20" y="182.10" width="4.60" height="4.60" fill="#eeaa48"/>
<text x="372.80" y="187.10" font-size="7.5" text-anchor="start" fill="#161616">OVA + Anth</text>
<text x="329.40" y="288.80" font-size="8" text-anchor="start" fill="#000" font-weight="bold">h</text>
<clipPath id="c0"><rect x="30.6" y="322.1" width="77.2" height="57.7"/></clipPath>
<g clip-path="url(#c0)">
<rect x="30.6" y="322.1" width="77.2" height="57.7" filter="url(#m0)"/>
<g filter="url(#sb)"><path d="M68.1,348.7 67.0,347.8 67.0,346.8 67.7,346.3 69.7,345.9 70.7,346.5 71.2,347.6ZM98.3,345.5 98.9,347.2 99.4,347.5 101.1,345.8 100.8,345.4ZM65.5,367.8 66.5,365.3 65.3,364.3 63.0,365.4 63.3,367.3 63.5,367.4ZM41.7,381.6 45.6,383.4 46.9,382.2 45.1,379.5 41.7,381.4ZM109.9,342.1 109.8,342.6 106.7,343.3 106.1,342.5 106.0,342.1 108.5,341.6ZM46.1,346.2 47.0,345.5 47.0,344.7 46.7,343.3 45.9,342.1 42.2,342.9 41.5,343.9 42.6,345.7ZM65.1,353.7 64.7,349.5 62.7,349.2 61.0,351.7ZM45.7,347.1 45.0,348.7 43.5,349.8 42.0,349.3 43.0,347.6ZM82.2,330.1 80.4,329.9 80.3,329.6 82.6,327.2 83.3,328.4 83.5,329.4 82.9,330.1ZM34.3,338.9 34.7,338.4 36.5,338.3 36.7,339.7 36.5,340.0 35.5,340.8 34.5,340.2ZM87.7,366.5 89.7,367.1 91.0,367.2 91.4,365.2 88.0,364.9 87.4,365.3 87.5,366.0ZM98.5,361.7 98.8,361.6 100.6,363.3 100.6,363.3 100.3,363.5 97.6,364.0 97.6,364.0 97.4,363.0ZM52.9,357.2 53.0,356.9 52.8,356.2 51.9,355.3 50.5,356.1 50.4,357.9 50.5,358.0 52.7,357.8ZM102.6,374.4 103.1,374.1 104.8,374.1 104.9,374.3 105.2,376.8 103.9,377.3 102.9,376.7ZM97.2,345.0 94.8,345.9 94.2,345.7 94.1,344.7 96.6,343.3ZM40.8,353.9 40.2,353.1 38.6,354.5 38.6,355.5 40.3,355.2ZM87.5,362.1 88.2,363.7 87.8,364.6 87.3,364.9 86.1,364.1 87.4,362.1ZM57.8,345.4 56.2,347.1 58.1,347.6 58.2,346.0ZM69.7,372.8 68.6,370.2 69.5,369.6 71.6,369.8 72.9,370.0 73.4,370.9 70.4,373.0ZM70.5,342.8 70.1,343.6 70.4,344.7 71.2,345.2 71.5,344.8 71.5,342.9ZM29.9,364.3 28.2,367.8 27.7,362.8 29.9,364.1ZM58.4,328.0 58.8,326.5 59.0,326.2 60.7,327.1 60.7,327.4 60.0,329.0ZM71.3,381.2 69.6,383.5 71.3,384.4 72.1,381.6ZM77.4,350.1 77.4,349.2 76.4,346.8 74.0,348.3 75.1,349.9 76.2,350.5 76.8,350.5ZM48.1,354.2 47.7,354.9 47.9,355.4 49.3,355.3 48.9,354.0ZM94.3,374.3 92.1,373.2 92.3,370.9 95.3,373.3 95.4,373.5ZM102.7,368.2 102.7,367.6 103.2,366.8 104.4,366.7 104.6,367.4 104.3,368.0 102.7,368.3ZM75.3,344.1 75.8,344.2 76.3,345.8 76.1,346.2 73.5,347.8 73.2,347.7ZM29.2,379.4 30.5,379.3 29.8,375.4 29.0,375.0 26.3,375.8 26.9,376.8ZM75.5,330.4 76.8,329.1 74.2,329.1 74.8,330.4ZM70.1,351.3 71.8,348.1 71.7,347.9 68.1,349.2 68.4,351.1ZM56.9,341.7 55.7,341.6 55.3,341.1 55.7,338.9 55.8,338.8 56.3,338.6 57.0,338.9ZM76.6,362.6 74.3,358.2 70.4,360.1 71.9,363.9 73.4,364.3 76.6,362.7ZM79.7,349.7 80.8,349.3 80.5,347.8 80.2,346.9 79.5,346.7 79.3,346.7 78.3,349.1 78.3,349.9ZM40.2,358.7 38.0,357.9 37.8,357.1 38.5,356.1 40.4,355.8 40.9,356.3 41.7,357.7 41.0,358.8ZM99.4,372.4 102.5,371.3 102.6,373.3 102.0,373.6 101.1,373.5 99.5,372.7ZM95.9,373.9 96.9,371.8 95.4,373.3 95.4,373.5ZM84.8,321.9 86.0,320.5 83.4,319.8 81.4,320.5ZM55.6,322.7 53.7,322.1 54.4,318.2 59.0,319.5 59.3,320.3 57.9,322.2ZM90.3,348.1 88.5,346.2 86.4,348.7 86.9,348.8 90.2,348.4ZM50.9,348.3 51.6,349.1 54.3,350.3 55.0,349.7 54.9,347.6 53.9,346.9ZM60.7,329.5 61.6,327.8 62.8,328.4 61.5,331.7 61.3,331.6ZM32.4,378.5 34.4,379.9 34.8,379.0 32.8,378.0ZM77.0,374.1 76.2,372.0 78.8,371.1 79.5,371.6 80.7,374.0 80.5,374.8ZM37.4,365.4 36.7,367.5 37.0,367.9 37.5,367.7 38.1,366.4ZM40.1,364.2 38.8,363.9 37.4,364.6 37.6,365.1 38.4,366.2 38.9,366.0 40.1,364.2ZM85.1,354.9 86.0,354.3 85.2,352.7ZM42.4,361.1 44.7,363.1 46.1,361.6 46.2,361.3 46.2,360.6 45.8,359.9 42.4,361.0ZM59.8,355.3 60.7,356.6 59.8,357.1 58.4,357.4 58.4,357.3ZM53.1,359.0 51.6,361.0 51.9,362.1 52.5,362.6 54.3,360.5 53.5,359.4ZM50.0,374.9 50.0,376.4 51.0,377.3 52.5,376.7 52.6,376.4 50.8,374.3 50.1,374.6ZM50.8,380.3 54.0,380.9 53.2,386.4 53.1,386.6 49.4,382.5 50.3,380.6ZM91.3,347.0 89.6,345.2 89.6,345.1 89.9,343.8 92.0,343.9 92.6,344.8 92.6,345.6 91.5,346.9ZM77.1,328.7 77.8,328.5 77.6,326.1 75.5,325.5 73.7,328.5 73.9,328.7ZM85.0,350.9 86.0,349.8 86.0,349.8 86.5,349.9 89.7,352.6 89.6,353.1 88.8,353.0 85.5,351.4ZM57.5,341.8 57.6,338.9 58.4,338.8 59.4,341.8 59.4,342.0 58.2,342.2ZM42.0,361.0 44.8,363.4 44.6,364.5 44.1,365.1 42.9,365.9 42.5,365.8 40.4,364.0 40.4,363.9 41.2,362.1ZM61.7,331.9 63.2,332.9 65.6,328.5 65.6,328.4 63.1,328.4ZM34.7,361.9 34.8,361.9 34.8,362.7 32.8,364.0 31.8,363.4 31.7,363.2 31.9,362.9ZM50.2,349.2 49.5,350.7 51.5,351.3 51.1,349.8 50.7,349.3ZM52.7,376.8 53.4,378.0 55.1,376.7 54.0,376.0 52.9,376.5ZM44.3,336.7 40.9,338.4 40.8,340.3 41.9,341.8 45.7,341.0 46.0,339.5ZM55.8,329.5 54.3,328.9 52.8,330.5 54.2,332.2 56.2,331.7ZM86.0,373.9 85.2,372.5 82.1,374.4 81.8,375.5 82.1,376.3 84.7,376.4ZM108.3,340.9 106.0,341.5 105.7,341.1 105.8,340.5 106.2,339.6 106.7,339.0 107.0,338.9 109.3,338.1 109.4,338.2ZM103.0,362.7 102.0,363.6 102.0,363.7 103.0,365.5 104.3,365.4 105.1,364.7ZM44.2,365.3 46.1,367.2 44.3,368.0 43.3,366.0ZM32.7,326.6 30.1,326.1 29.9,326.6 32.7,329.3 33.1,329.3 32.9,326.9ZM106.5,333.3 108.0,333.1 108.6,330.5 107.8,329.5 104.8,330.0 105.0,332.4ZM98.2,341.6 98.1,341.2 100.0,340.2 101.4,341.4 99.4,342.3ZM101.4,357.0 102.0,356.6 104.0,358.0 102.7,359.8 101.6,359.2ZM109.1,380.5 107.8,377.9 109.6,376.5 113.6,382.4 109.2,380.6ZM30.0,375.7 32.8,375.9 32.2,377.5 31.8,378.0 30.9,378.8 30.5,378.7ZM95.9,374.7 95.2,375.0 94.5,374.2 95.3,373.7 95.7,374.0 96.0,374.6ZM96.1,342.7 93.9,343.9 93.1,342.9 93.6,341.5 95.2,340.4 96.3,341.4 96.4,341.8ZM75.6,330.6 77.5,332.5 76.4,333.8 75.8,334.0 75.7,334.0 74.1,332.1 74.5,330.7ZM30.4,333.3 32.3,333.4 32.5,334.9 30.2,334.8 29.8,334.5ZM103.0,352.4 105.5,352.2 107.0,352.8 107.2,353.6 106.9,357.2 106.8,357.3 104.6,357.6 102.3,355.8 102.6,353.0ZM84.7,322.0 81.7,320.7 81.5,320.8 81.3,321.1 81.5,323.1 85.2,322.9ZM33.6,375.8 36.7,377.8 34.9,378.9 32.8,377.7 33.4,375.9ZM27.6,331.7 29.2,330.4 29.5,330.6 30.1,332.9 29.3,334.5 28.5,334.8 28.5,334.8 27.3,332.1ZM33.3,326.9 33.5,329.3 34.9,330.4 35.6,330.3 36.2,330.1 37.2,328.9 36.5,326.2ZM46.1,367.5 46.6,367.5 45.7,369.0 44.8,369.5 44.7,368.2ZM31.8,379.5 32.5,378.9 34.2,380.0 34.3,382.1 34.0,382.5 32.7,381.7ZM106.3,334.3 106.5,338.1 106.2,338.3 105.1,335.8ZM46.3,347.0 45.5,349.0 47.5,351.1 48.4,350.7 48.5,350.5 49.5,348.2 47.6,345.9 46.6,346.7ZM34.6,361.5 32.7,360.7 31.7,362.7ZM77.1,346.4 78.8,346.6 77.8,348.9 77.0,346.7ZM51.6,323.0 49.9,321.5 50.5,319.3 53.5,317.0 54.3,317.7 53.5,322.4ZM42.3,360.7 45.7,359.6 45.5,358.2 45.0,357.9 43.0,357.8 42.3,358.1 41.6,359.1ZM47.8,353.3 47.1,352.4 45.9,353.1 47.5,354.9 47.8,354.1ZM32.9,336.2 33.1,335.8 32.7,335.1 30.0,335.0 31.4,337.4ZM82.3,360.6 82.5,359.9 83.0,359.5 84.0,361.0 84.0,361.4 83.6,362.3 83.0,362.4ZM107.2,343.7 110.0,344.2 109.8,342.8 107.0,343.4ZM52.6,339.6 52.6,338.0 49.6,337.9 49.0,338.5 52.4,340.0ZM52.8,376.2 51.0,374.3 53.1,373.1 53.8,375.8ZM105.2,338.5 105.6,338.0 104.8,336.2 103.8,336.5ZM76.5,362.6 74.2,358.2 74.1,357.8 74.9,356.3 77.0,355.9 78.6,357.5 78.3,359.6ZM45.7,319.7 44.4,320.8 44.0,322.5 44.9,323.6 47.1,321.7ZM31.0,362.2 30.8,362.5 28.7,361.3 26.9,360.0 29.7,358.2 30.0,358.0 31.3,358.2 31.6,358.7 32.0,360.3ZM50.0,373.5 50.6,373.3 52.3,372.2 52.7,371.7 50.5,369.5 49.5,373.0ZM68.9,377.3 66.8,377.2 66.7,377.2 69.8,375.8ZM94.2,322.7 97.2,320.3 96.7,319.5 95.6,318.8 95.4,318.9 93.6,322.4ZM107.9,329.4 107.5,327.5 108.5,326.1 114.4,328.3 108.9,330.5ZM106.5,334.4 106.7,338.0 109.2,337.2 109.2,335.2 107.9,334.0 106.7,334.2ZM105.3,325.2 103.7,324.3 102.0,326.6 102.6,327.2 103.4,327.4 105.3,326.7ZM51.5,380.0 53.5,380.4 53.8,380.1 53.0,378.8 51.8,379.0ZM95.5,378.3 97.6,379.7 95.8,381.1 95.1,378.4ZM97.7,367.4 97.5,367.8 97.2,369.0 97.8,369.6 101.5,368.4 101.4,367.6 99.3,367.1ZM88.3,326.7 84.7,328.2 84.8,329.4 88.7,329.9 89.1,329.4ZM61.6,327.2 61.5,326.8 62.8,325.6 66.1,327.1 66.0,327.9 63.1,327.9ZM87.7,362.0 88.4,363.6 90.5,362.2 90.5,361.0 89.7,360.7 87.7,361.9ZM46.6,319.1 45.8,319.2 45.8,319.3 47.5,321.7 48.5,321.3 47.0,319.1ZM109.9,373.5 110.4,374.3 111.3,374.3 112.7,373.3 110.9,371.2ZM73.1,354.4 74.0,354.7 74.4,353.8 73.0,353.7 73.0,354.3ZM101.2,346.4 101.6,346.6 101.9,347.0 101.8,347.8 99.8,347.7 99.8,347.7ZM62.4,337.0 59.9,342.1 58.6,338.4 59.9,337.7ZM81.4,345.8 82.3,343.9 83.9,345.2 83.8,345.4ZM74.8,320.0 75.3,321.4 77.3,320.6 75.2,318.9ZM36.2,335.3 35.6,331.2 35.1,331.3 34.6,332.1 34.9,334.9ZM70.6,351.3 71.1,352.1 72.2,352.2 74.1,350.7 72.9,348.9 72.6,348.8 72.0,348.6ZM80.5,346.4 81.1,347.7 84.5,346.2 84.5,345.5 81.0,346.0ZM86.3,370.0 87.4,366.7 87.2,366.2 84.0,367.6 84.2,368.8 85.9,370.1ZM43.8,350.4 44.9,352.4 45.3,352.5 45.5,352.4 46.7,351.8 47.2,351.2 45.4,349.3ZM65.0,334.3 67.7,334.2 68.8,333.7 69.0,333.1 67.8,330.1 66.7,329.3 64.6,333.3ZM106.3,381.6 104.6,379.2 104.6,378.9 105.9,378.4 106.7,378.7 107.8,380.9 106.5,381.5ZM47.2,361.3 50.6,362.4 51.0,362.4 50.7,361.2 49.7,360.1 47.1,360.6ZM27.8,321.5 27.4,321.6 29.1,319.0 29.4,319.0 29.6,319.2 29.5,321.0ZM69.0,377.7 70.4,379.7 72.2,376.9 70.7,375.0 70.5,375.3ZM101.9,336.2 103.4,336.3 105.3,339.3 104.8,340.3 101.7,336.7ZM86.7,374.5 86.8,374.5 87.2,376.1 86.2,376.9 85.8,376.7ZM57.3,363.8 58.5,364.6 58.2,366.1 58.1,366.3 57.2,366.3 56.0,366.0 55.4,365.2ZM90.9,360.1 90.8,360.1 90.0,359.9 88.8,358.4 88.6,357.5 90.5,355.0 90.7,355.2 91.5,356.7ZM108.4,357.0 108.6,354.1 110.9,355.3 111.8,355.9 111.0,357.0 108.7,357.2ZM43.2,356.9 44.7,357.0 44.6,356.7 43.7,354.6 43.5,354.8 43.3,355.1ZM92.6,322.4 94.9,318.1 90.0,317.6 89.5,318.6 89.3,320.5 89.9,322.4ZM84.2,367.3 84.0,367.1 85.4,364.7 85.7,364.7 86.9,365.5 87.0,366.1ZM58.2,351.9 55.3,350.3 54.7,350.8 54.0,352.2 56.3,353.5ZM48.0,378.9 46.4,379.1 46.3,379.4 47.6,381.4 48.3,381.6 49.0,381.6 49.6,380.4ZM108.7,324.9 111.4,324.9 116.4,327.3 115.0,327.8 113.8,327.9 108.8,326.0ZM95.1,375.3 93.8,377.4 91.8,377.5 91.2,376.0 91.2,375.9 92.3,373.4 94.3,374.4ZM83.0,363.1 84.0,362.9 85.5,364.2 83.6,367.3 83.1,367.0 80.3,364.4ZM64.9,378.3 65.6,381.3 64.2,383.5 63.1,380.0ZM97.7,345.0 97.7,345.1 96.5,347.7 96.3,347.8 94.4,346.2 97.7,345.0ZM36.2,381.0 36.7,378.1 36.7,378.1 35.1,379.1 34.7,380.0 34.9,382.6 35.9,382.1ZM109.1,324.0 109.1,322.4 110.6,323.6 111.2,324.5 109.3,324.5ZM79.5,342.0 77.1,342.5 76.0,343.8 76.7,345.8 79.3,346.1 79.6,346.0ZM34.3,336.9 36.3,336.2 35.8,335.9 34.8,335.6 33.8,336.0 33.7,336.4ZM48.5,368.4 47.3,367.5 46.8,367.6 45.9,369.2 48.1,368.8ZM81.1,356.2 78.9,357.6 78.6,359.4 82.1,359.1 82.7,358.6 83.0,357.3ZM51.5,354.6 51.5,353.5 49.8,352.9 49.3,353.8 49.3,353.9 49.6,355.1 50.1,355.3ZM49.6,356.3 49.2,356.1 48.1,356.3 47.7,356.7 47.5,357.3 49.6,357.7ZM45.0,364.4 47.2,365.2 47.8,364.3 47.9,364.0 46.6,362.1 45.1,363.5ZM97.1,371.6 97.7,370.8 97.2,370.0 96.4,369.2 92.5,370.2 92.3,370.6 92.3,370.9 95.3,373.3ZM65.0,375.6 65.5,377.2 66.1,377.3 70.2,375.5 70.4,375.2 70.2,374.0 69.4,373.8 67.2,374.3 65.0,375.5ZM58.1,332.9 57.2,335.0 59.9,337.5 62.8,336.7 63.9,335.9 64.0,335.6 63.4,334.2 61.3,332.7 61.1,332.6ZM31.8,371.2 32.5,370.8 34.1,371.1 35.1,373.3 33.6,374.6ZM36.3,368.0 36.6,368.4 36.2,369.5 34.2,370.1 32.4,369.7 33.7,366.8 34.7,366.8ZM77.2,338.0 75.5,339.0 74.2,338.8 73.9,337.3 75.3,336.3 77.2,337.9ZM68.3,341.1 69.5,339.6 69.6,339.6 69.8,341.8ZM65.6,346.9 63.6,345.1 62.9,345.2 62.4,346.6 63.0,348.4 64.7,348.6 65.6,347.8ZM47.6,344.6 53.7,344.9 51.4,342.2 47.2,342.9ZM94.8,362.6 93.5,364.4 96.2,364.2 96.0,363.4ZM57.8,328.5 59.9,329.7 60.6,332.3 58.1,332.5 57.0,331.8 56.5,329.2ZM75.5,377.8 75.5,377.6 75.6,377.4 81.0,377.3 80.9,378.4ZM98.2,344.9 98.2,344.9 98.6,345.1 100.4,345.0 100.4,344.3 99.7,343.9ZM48.7,327.4 51.3,325.4 53.8,328.0 53.9,328.1 52.0,330.0 51.1,330.1ZM80.7,354.3 79.9,351.5 78.6,351.7 78.2,352.1 78.5,353.1 80.7,354.5ZM58.5,343.7 58.4,344.1 58.1,345.2 58.5,345.8 59.8,346.7 61.1,346.1 61.7,344.6 59.7,343.4ZM63.8,375.7 61.1,377.2 59.0,376.4 61.8,373.6 62.2,373.7 63.8,375.6ZM77.9,364.8 76.6,364.0 74.4,365.2 74.4,365.4 74.7,369.1 75.0,369.9 75.5,370.1 78.2,369.3 78.3,368.7 78.4,365.2ZM105.0,367.7 106.3,368.9 105.9,369.5 105.3,369.8 104.6,369.5 104.8,368.2ZM66.8,369.1 66.9,369.1 68.3,369.6 69.2,369.1 69.1,367.9 68.3,365.6 67.7,365.6 66.6,368.3ZM81.9,360.7 79.6,362.9 80.1,363.3 80.9,363.3 82.6,362.5ZM80.6,346.4 79.6,346.0 79.5,342.0 80.4,341.2 81.3,341.1 82.2,343.4 81.0,346.1ZM81.6,360.3 81.8,359.6 79.1,359.8 77.9,361.8 77.9,361.9 79.2,362.6ZM108.2,371.7 106.8,370.2 107.3,369.4 109.1,368.4 110.5,369.3 110.5,370.3ZM98.3,370.6 97.9,370.0 101.6,368.8 101.6,368.8 101.9,369.5 99.2,371.6ZM56.6,332.5 54.3,333.0 53.8,334.5 56.4,335.6 57.0,334.9 57.8,333.1ZM89.3,379.6 87.6,379.7 86.7,377.3 87.6,376.6 89.9,376.5 90.3,377.6ZM71.9,327.1 73.7,324.2 73.7,324.1 73.8,324.1 75.0,325.5 73.4,328.2 72.4,328.2ZM102.0,351.2 97.7,350.5 98.4,349.4 99.4,348.6 101.8,350.8ZM69.5,369.2 71.8,369.3 70.2,368.0 69.4,367.8ZM63.5,336.8 64.6,341.3 63.1,343.4 62.4,343.5 60.4,342.3 60.4,342.1 62.6,337.5ZM70.4,380.1 71.5,380.9 69.4,383.7 68.7,383.5 68.4,381.4 69.2,380.6ZM88.0,342.4 88.5,343.2 88.1,344.8 84.9,345.0 86.1,341.6ZM84.4,357.4 84.4,357.5 86.4,359.1 87.7,358.5 87.6,357.8 86.6,357.3ZM103.5,333.4 104.6,333.2 105.8,333.9 105.7,334.1 104.6,335.4 103.5,335.7 102.3,335.6 102.0,334.7ZM68.2,364.8 72.0,363.7 73.5,364.2 73.5,364.5 70.2,367.9 69.3,367.8ZM40.5,362.0 40.1,363.1 39.0,362.9 38.6,361.7 39.2,361.4ZM88.7,371.7 88.8,374.0 88.1,373.8 88.1,371.7ZM49.7,358.3 49.6,359.5 47.1,360.0 46.7,359.4 46.5,358.2 47.0,357.8 49.7,358.2ZM45.2,353.2 44.8,353.2 43.8,354.0 45.2,356.9 45.5,354.6ZM101.6,336.9 104.6,340.4 104.4,341.1 102.7,341.2 102.2,341.0 100.3,339.4 100.5,338.1ZM90.2,375.8 88.7,374.6 87.9,374.4 87.1,374.5 87.5,376.0 90.2,375.9ZM80.8,336.4 79.7,336.9 78.8,338.1 78.8,338.1 80.4,340.0 80.9,340.0 81.2,339.8 80.9,336.5ZM62.4,371.7 61.1,370.6 61.3,369.6 62.9,368.3 63.1,368.4 63.5,370.7 62.7,371.8ZM83.0,326.3 83.0,326.2 80.7,323.3 77.8,325.9 78.1,328.6 79.3,330.2ZM106.9,365.0 107.9,364.9 108.2,365.0 108.6,367.8 107.0,368.7 105.3,367.1 105.0,366.2 105.8,365.4ZM80.3,335.0 79.1,335.4 77.3,333.9 77.9,333.1 79.0,332.4 80.3,334.9ZM69.6,325.5 70.4,324.6 72.9,324.2 73.1,324.2 71.6,326.7ZM37.2,365.3 36.5,367.6 35.1,366.4 36.7,364.7 37.0,364.7ZM44.0,365.0 44.6,364.4 47.3,365.5 47.7,367.0 47.0,367.2 46.2,367.2ZM89.1,337.9 90.0,335.8 88.7,334.7 88.7,334.8 86.9,337.5ZM68.0,324.6 68.7,324.5 69.4,323.7 69.3,321.9 69.2,321.8 69.2,321.7 68.5,321.2 68.4,321.2 67.1,322.0ZM38.1,321.5 42.4,322.7 42.9,320.6 39.6,314.5 38.1,319.6 37.8,321.2ZM75.5,377.9 80.9,378.5 80.9,379.7 76.5,378.7 75.5,378.0ZM86.3,370.3 86.9,370.4 88.0,370.8 88.0,374.2 86.8,374.3 86.8,374.3 86.1,373.8 85.1,372.2 85.9,370.4ZM108.6,358.4 110.7,360.2 112.1,360.0 112.7,359.6 111.1,357.7 108.5,358.0ZM33.2,364.7 33.9,365.9 34.8,365.9 36.1,364.4 35.3,363.3ZM69.7,342.4 69.6,342.2 69.5,342.1 68.3,341.5 67.4,341.8 67.1,341.9 67.9,342.7 69.3,343.3ZM99.3,348.4 99.2,347.8 99.2,347.8 98.7,347.4 97.2,347.8 98.2,349.2ZM78.3,330.6 78.1,331.1 77.0,331.8 75.9,330.6 76.9,329.5 77.4,329.4 78.2,330.3ZM89.7,339.4 88.5,341.0 86.9,340.3 86.4,339.7 86.7,338.3 86.9,338.1 89.0,338.5ZM76.6,379.0 77.8,381.2 79.5,381.0 80.5,380.2 80.5,379.9ZM96.2,375.1 96.5,377.1 95.5,377.7 95.1,377.8 94.2,377.4 95.3,375.5ZM52.8,341.4 51.8,342.3 53.5,344.3 53.5,344.3 54.7,342.5 54.2,341.9ZM75.3,378.2 74.2,381.1 75.7,382.5 77.6,381.4 76.3,379.0ZM61.0,377.4 60.4,379.0 57.8,377.2 58.9,376.6ZM95.5,325.7 91.6,329.2 90.5,329.2 89.7,326.2 89.6,324.4 89.6,324.3 90.1,323.6 92.6,323.5 93.3,324.0ZM38.2,363.2 37.8,362.0 36.8,361.2 36.1,361.9 36.1,362.7 36.9,363.6 37.2,363.7ZM30.9,341.3 31.0,342.3 30.3,344.1 28.7,344.0 28.3,341.2 28.4,340.9 30.7,341.0ZM100.9,381.4 101.2,381.2 99.8,378.0 99.3,378.0 98.7,379.6 99.3,380.7ZM83.3,367.8 83.1,367.5 82.7,367.2 79.6,369.0 79.5,369.6 80.4,370.1 83.5,368.8ZM86.8,374.2 85.5,377.0 84.6,376.7 86.1,373.7ZM85.7,341.2 84.4,344.9 84.4,344.9 82.5,343.4 81.7,341.4 82.1,341.2 85.1,340.6ZM81.3,334.9 81.4,335.0 82.6,334.8 83.7,333.1 83.2,331.2 82.2,331.2 81.3,334.9ZM27.5,381.6 27.7,382.3 29.2,383.1 31.9,382.4 30.7,379.8 30.3,379.7 29.3,379.7ZM79.6,341.0 77.8,338.7 75.9,339.8 77.2,342.0 78.9,341.6ZM80.5,355.2 77.8,353.5 77.4,355.8 78.6,357.0 80.6,355.7ZM72.2,318.8 69.5,321.1 69.6,321.2 72.4,320.9 72.5,320.3ZM57.2,342.5 55.4,342.3 53.7,344.9 53.9,346.2 58.1,343.6 58.3,343.0ZM61.1,362.0 61.3,363.6 62.1,364.2 62.4,364.3 64.9,363.1 64.3,360.0 64.2,360.1ZM87.1,369.5 87.4,369.6 89.3,367.6 87.9,367.1ZM87.6,369.9 88.3,370.2 88.9,370.3 91.3,370.1 91.5,369.8 90.6,367.7 89.6,367.7ZM36.6,381.1 39.0,379.5 40.5,381.1 40.6,381.1 40.5,381.3 40.3,381.7 36.3,382.1ZM101.0,374.3 100.4,377.0 102.2,376.9 101.8,374.5ZM30.2,322.9 28.0,321.9 29.6,321.5 30.3,322.7ZM97.5,350.1 97.5,350.2 96.9,350.1 96.3,349.9 96.2,349.4 96.5,348.0 96.7,347.9 97.2,348.0 98.1,349.2ZM30.2,351.5 25.3,350.1 29.0,357.1 29.6,356.8ZM63.2,325.1 63.1,322.5 65.7,326.2 65.7,326.3ZM61.6,364.9 60.8,364.2 59.1,364.6 58.7,366.4 60.7,365.8ZM73.1,323.4 73.4,323.4 73.5,323.4 72.2,321.1 69.9,321.3 70.0,321.5ZM96.2,324.1 97.0,324.2 97.3,320.7 97.2,320.7 94.6,322.8ZM92.0,336.9 91.1,336.3 90.4,335.9 89.5,338.1 90.3,339.1 90.6,339.0ZM96.4,375.2 96.6,377.0 98.1,376.8 97.8,374.9 96.4,375.1ZM45.3,353.1 45.6,354.5 47.0,356.4 47.5,355.7 47.4,355.1 45.6,353.1ZM52.8,339.7 55.3,338.4 54.6,341.3 52.9,340.8 52.7,340.1ZM77.8,321.3 79.6,321.3 79.9,323.3 79.9,323.3 77.6,325.3 75.7,324.8 74.5,323.5 75.6,322.2ZM83.8,349.9 83.6,349.9 81.9,349.3 81.6,347.6 84.1,346.4 84.8,348.8 83.9,349.9ZM97.4,366.9 97.3,364.5 100.7,363.9 99.2,366.6ZM71.0,379.8 71.7,380.4 72.4,380.7 73.5,380.5 74.4,378.2 74.4,378.1 74.4,377.9 72.2,377.5 71.0,379.5ZM37.4,340.8 38.7,342.9 39.7,343.1 40.0,342.9 40.5,342.2 39.7,341.1 37.6,340.6ZM70.2,323.8 70.1,321.7 72.8,323.4ZM56.1,354.8 53.7,356.0 53.9,356.7 56.9,357.3ZM28.9,374.7 30.3,371.0 28.1,369.9 13.8,370.9 26.6,375.3ZM81.8,336.3 82.1,339.7 84.4,339.3 84.7,337.9 82.8,336.2ZM52.0,340.3 49.4,339.2 48.1,339.9 47.9,341.1 48.6,342.1 51.3,341.7 52.2,340.8ZM54.1,366.1 54.8,366.9 54.5,370.7 53.6,370.9 51.3,368.6 51.2,368.3 52.0,367.1 53.1,365.8ZM70.2,351.4 70.9,352.4 69.6,354.9 65.9,355.4 65.6,355.4 65.4,354.5 68.3,351.2ZM37.8,378.5 37.4,378.4 37.2,378.5 36.7,380.9 38.8,379.5 38.1,378.7ZM53.0,339.4 53.0,338.3 53.5,337.8 54.7,338.4 54.7,338.5ZM66.2,378.0 68.9,380.5 68.2,381.2 66.3,381.2 65.5,378.0 65.5,377.8 66.0,378.0ZM96.3,381.3 97.7,380.1 98.1,380.0 98.7,381.0 97.7,381.6 96.7,381.8 96.3,381.3ZM108.1,373.1 105.9,373.4 105.8,373.2 106.0,371.1 106.7,370.7 107.9,371.9ZM96.5,366.7 96.3,367.1 93.1,364.9 93.3,364.8 96.5,364.6 96.5,364.6ZM92.9,341.2 92.3,342.9 89.4,342.7 88.9,341.8 90.5,339.9 90.9,339.8ZM108.2,358.8 110.3,360.7 109.2,363.5 108.7,363.8 108.4,363.6 108.2,362.7ZM59.9,351.2 60.4,351.1 62.0,348.8 61.4,346.7 60.1,347.3 59.2,348.3 59.5,351.1ZM42.8,325.7 42.7,325.5 41.8,324.3 37.8,323.3 37.5,326.1 38.1,328.3 40.0,328.3ZM85.4,355.2 84.7,355.8 84.4,356.5 86.5,356.4 86.5,354.8 86.2,354.7ZM105.1,329.6 103.9,328.3 105.6,327.6 107.0,327.9 107.2,329.1ZM60.4,369.2 62.6,367.5 62.2,365.2 61.9,365.2 61.0,366.0 60.2,368.7ZM30.2,323.1 27.8,322.1 27.5,322.1 26.4,322.6 29.4,324.5ZM70.6,334.0 70.3,334.7 73.1,336.6 74.8,335.3 75.3,334.1 75.3,334.0 70.7,333.9ZM33.3,335.6 32.9,334.9 32.7,333.2 34.3,332.0 34.6,335.0ZM81.1,354.4 80.2,351.2 81.4,350.7 83.1,351.3ZM33.4,321.6 31.1,322.3 30.4,321.0 30.4,319.4 31.8,319.9 33.5,321.5ZM99.2,360.2 101.2,359.7 102.6,360.5 102.8,361.4 102.5,362.0 101.2,363.2 99.0,360.9ZM99.4,366.6 101.6,367.2 102.3,366.1 101.2,363.8 100.8,364.0ZM49.7,376.9 50.6,377.7 50.9,378.7 50.6,379.9 50.2,380.2 48.2,378.2ZM76.1,377.1 80.4,377.1 80.6,376.6 80.4,376.0 76.7,375.2ZM104.1,346.4 104.8,344.0 105.1,343.6 105.6,344.3 105.7,344.6 105.8,346.0 105.2,346.8ZM85.0,354.9 84.3,355.5 84.3,351.5 84.4,351.5 84.9,352.0 85.2,352.7ZM109.3,373.6 110.6,370.7 110.5,370.5 108.4,371.9 108.5,373.2ZM90.6,375.3 89.2,374.1 89.0,371.5 91.7,371.2 91.7,371.4 91.5,373.2ZM69.4,343.8 67.5,343.0 67.4,345.8 69.7,345.3ZM104.9,371.1 104.7,373.0 103.1,373.0 103.0,371.4 103.2,370.6 104.1,370.7ZM102.2,350.9 102.3,347.9 99.3,347.8 99.4,348.5ZM34.8,337.7 34.3,337.1 36.3,336.4 36.4,336.5 36.6,336.8 36.2,337.7ZM102.3,368.5 102.6,369.2 103.2,369.7 104.2,369.9 104.5,368.1ZM76.5,352.5 76.0,352.5 75.1,354.0 74.8,355.0 75.2,355.7 76.5,355.5 76.9,353.6ZM72.2,354.4 70.3,354.6 70.2,354.6 71.1,352.9 72.0,353.0 72.2,353.7ZM98.5,383.2 96.3,383.4 96.2,382.1 97.7,381.9ZM39.9,359.4 37.9,358.7 37.1,360.0 37.0,360.3 38.3,361.4 39.0,361.0ZM59.7,382.5 60.9,380.9 61.2,383.9ZM103.7,362.0 104.7,362.1 106.2,363.8 105.3,364.2 103.5,362.4ZM106.3,382.0 104.1,378.8 102.7,381.4 104.4,382.8ZM99.8,343.6 100.9,344.3 102.9,341.6 102.3,341.3 99.2,342.6ZM65.1,374.0 66.6,373.2 66.2,370.3 66.2,370.3 64.6,371.6 63.8,372.6ZM59.9,369.5 59.7,370.8 57.6,371.1 57.1,367.1 58.2,367.1 59.7,369.0ZM65.3,337.0 67.8,336.9 68.3,338.5 67.0,340.7 66.8,340.8 66.1,340.7 65.2,337.2ZM63.0,321.8 66.4,326.5 67.3,325.5 66.0,321.9 63.5,321.4 63.0,321.6ZM57.4,345.0 57.7,343.9 54.4,346.0 54.4,346.3 55.3,346.9 55.8,346.8ZM77.8,337.5 75.8,335.7 76.2,334.5 76.7,334.4 78.7,336.1ZM72.8,369.3 72.6,365.5 70.2,367.9 71.6,369.1ZM85.5,349.3 85.4,349.3 84.4,346.2 84.4,345.5 84.5,345.2 84.5,345.2 88.7,345.0 88.7,345.3ZM92.5,348.9 92.4,349.2 92.5,350.1 94.5,350.7 95.3,350.1 95.2,349.8 92.7,348.8ZM90.7,349.0 86.7,349.6 90.1,352.4 90.1,352.3 90.8,350.2ZM34.2,322.5 31.2,323.3 31.1,323.5 30.1,325.2 30.2,325.6 32.8,326.2ZM60.0,368.7 58.6,366.8 58.7,366.6 60.8,366.0ZM98.1,325.2 101.0,320.9 98.2,320.4 97.8,325.0ZM72.7,353.5 72.5,352.7 74.5,351.1 75.8,351.7 74.6,353.6ZM72.3,347.3 71.8,346.0 72.1,345.6 74.3,343.8 75.1,344.0 73.0,347.6 72.4,347.3ZM85.2,323.4 87.7,323.9 87.7,324.0 83.5,325.6 81.9,323.6 81.9,323.6ZM67.1,373.5 66.6,369.9 68.1,370.4 69.1,373.1ZM99.8,371.7 102.0,370.1 102.4,370.4 102.1,371.2 99.9,371.9ZM84.8,321.9 86.1,320.3 88.8,320.6 89.6,323.0 89.1,323.9 85.4,323.1ZM58.7,360.9 58.0,360.7 57.5,363.1 59.0,364.1 60.7,363.8 60.5,362.0ZM51.6,351.5 52.1,352.4 51.7,352.9 50.1,352.3 49.1,351.0 49.2,350.9ZM105.2,321.6 105.5,321.6 107.6,321.8 107.6,321.9 107.5,323.9 105.6,324.7 103.9,323.8 104.1,322.0ZM101.6,321.1 101.4,321.2 98.5,325.4 98.7,325.6 101.1,326.1 102.8,323.6 103.1,321.8ZM60.3,379.3 60.5,379.8 57.9,381.3 56.7,379.9 57.4,377.4 57.5,377.4ZM43.2,350.7 44.3,352.8 43.4,353.6 43.1,353.8 41.4,353.5 40.8,352.6 40.6,351.6 41.1,350.2 41.6,350.1ZM63.9,376.2 64.3,377.6 64.3,377.7 62.5,379.4 61.3,379.6 61.0,379.5 60.8,379.0 61.3,377.6ZM69.0,377.6 70.5,379.7 70.5,380.2 69.2,380.6 65.9,377.6ZM72.1,331.7 73.8,331.6 74.1,330.7 73.5,329.5 73.4,329.4 72.6,329.4 72.4,329.8ZM94.8,339.5 93.1,340.7 91.2,339.5 92.7,337.3 93.0,337.3 94.7,339.0ZM48.0,353.4 48.8,353.7 48.8,353.8 48.0,354.1ZM65.7,369.3 65.6,368.5 63.3,368.1 63.8,371.0ZM59.5,325.2 59.3,323.2 60.4,321.7 62.1,322.2 62.1,322.4 62.2,325.2 61.3,326.2ZM42.7,354.8 42.8,354.4 41.4,354.2 40.9,355.5 41.3,355.9ZM73.9,357.9 71.9,357.2 71.5,357.3 71.1,357.8 70.2,359.4 70.6,360.0 74.0,358.3ZM51.4,363.8 50.9,363.4 50.5,363.4 48.5,364.3 48.5,364.5 50.8,366.0 51.9,364.8ZM58.8,351.1 58.4,348.5 57.9,348.2 56.1,347.7 55.7,347.8 55.8,349.6 58.5,351.1ZM53.7,357.5 55.1,358.5 53.9,358.9 53.5,358.6 53.4,358.1ZM85.5,352.5 85.2,351.8 88.7,353.5 86.8,354.3 86.3,354.2ZM30.7,340.2 28.4,340.1 27.8,339.5 28.6,337.9 30.9,338.0 31.0,338.3ZM87.5,361.9 87.4,362.0 84.5,361.5 84.6,361.0 86.1,360.1 87.6,361.8ZM96.7,377.5 98.5,377.2 99.0,377.6 98.2,379.5 97.8,379.6 95.5,378.1ZM52.1,351.2 52.5,352.0 53.2,351.7 53.9,350.5 51.7,349.6ZM54.7,325.0 51.9,325.0 52.1,323.4 53.6,322.9 55.3,323.4ZM38.3,333.6 37.2,335.9 37.0,335.8 36.4,335.4 35.8,331.0 36.4,330.7 38.3,333.4ZM86.9,356.5 88.0,356.9 89.7,354.7 89.5,354.0 88.8,354.0 87.0,354.8ZM84.6,332.8 88.0,333.2 88.0,333.2 88.7,330.7 84.7,330.2 84.0,331.0ZM42.7,357.1 42.8,354.9 41.3,356.1 42.1,357.3ZM103.8,346.3 102.9,346.2 102.7,345.9 104.5,344.0ZM29.7,330.8 30.2,332.7 32.4,332.9 34.1,331.6 34.6,330.8 33.2,329.8 32.8,329.8ZM56.6,358.0 56.6,358.1 56.6,358.4 55.1,358.4 53.9,357.5 54.0,357.3 56.5,357.8ZM54.8,325.2 51.8,325.2 51.8,325.2 54.1,327.5 54.8,326.2ZM30.9,364.6 29.0,368.4 28.9,368.6 30.9,369.5 30.9,369.5 31.7,369.2 32.9,366.5 32.1,365.3ZM34.0,338.7 34.4,338.1 33.9,337.3 33.2,336.7 31.9,337.7 31.8,337.8 31.9,338.2ZM47.0,318.8 49.0,321.6 50.0,321.5 50.6,319.3 48.9,317.7ZM81.3,334.6 79.9,331.8 80.1,331.3 82.1,331.4ZM83.7,335.2 85.6,336.9 85.9,336.7 87.5,334.2 84.6,333.8ZM110.0,341.6 111.7,339.9 109.8,338.5 108.8,341.0ZM101.5,344.9 101.7,345.3 102.1,345.5 104.1,343.4 104.5,343.0 104.4,342.7 104.1,342.4 102.7,342.4 101.4,344.3ZM84.1,357.8 86.1,359.5 85.9,359.9 84.8,360.5 83.8,358.9 84.0,357.9ZM72.7,354.7 71.8,357.1 71.4,357.2 69.6,354.9 72.6,354.6ZM72.0,342.9 73.0,342.3 73.7,343.4 71.9,344.9ZM106.8,358.0 104.7,358.3 103.2,360.4 103.3,361.2 104.8,361.4 105.8,360.7ZM72.8,318.9 73.2,318.3 74.2,317.8 74.5,318.8 74.2,319.8 72.9,320.0 72.8,319.1ZM67.4,328.1 67.5,327.4 67.5,327.3 68.4,326.4 69.1,326.2 71.2,327.5 71.7,328.5 71.3,328.8 68.6,329.0 67.4,328.1ZM45.4,346.6 43.0,347.1 42.7,345.9 45.7,346.4ZM70.5,333.7 75.4,333.8 74.0,332.3 71.8,332.4ZM48.1,353.2 47.4,352.3 47.9,351.8 48.6,351.5 49.5,352.7 48.9,353.5ZM66.5,345.8 64.5,344.0 65.8,342.4 66.5,342.5 67.2,343.3 67.2,345.4ZM84.0,351.0 83.7,351.0 81.3,354.9 81.3,355.1 81.4,355.7 83.4,356.8 83.4,356.7 83.5,356.7 83.9,355.7ZM71.0,374.0 74.1,371.8 74.6,372.0 75.5,374.7 74.8,376.9 74.7,377.1 72.4,376.6 71.2,375.1ZM88.5,364.5 90.7,364.6 90.8,364.6 90.2,362.9 88.7,363.8ZM88.3,324.5 83.5,326.3 83.5,326.4 84.4,327.9 88.4,326.3ZM107.8,324.2 105.7,325.1 105.7,326.9 107.4,327.2 108.2,326.0 108.1,325.0ZM102.2,330.4 102.4,329.0 103.1,329.2 104.2,330.3 104.3,332.0 103.3,332.1ZM99.2,373.2 100.8,374.1 100.1,377.1 99.8,377.2 99.3,377.2 98.8,376.8 98.4,374.6ZM54.5,380.0 56.0,379.7 56.6,377.4 56.5,377.3 55.2,377.0 53.6,378.2 53.5,378.4ZM58.4,346.1 59.6,346.9 58.7,347.9 58.2,347.6ZM47.2,361.7 47.2,362.0 48.3,363.6 50.2,362.8ZM107.1,358.6 106.2,360.9 107.7,362.5 107.7,359.0 107.6,358.8 107.2,358.5ZM59.5,352.4 59.6,354.8 57.7,357.5 57.5,357.3 56.7,354.5 56.8,354.2 58.9,352.4 59.2,352.3ZM102.7,350.5 103.0,350.9 105.1,350.7 105.0,347.6 103.8,347.1 102.8,347.1 102.6,347.9 102.6,350.1ZM61.8,384.7 62.7,386.1 63.9,384.3 64.0,384.0 62.7,380.0 61.3,380.2 61.3,380.6ZM29.8,350.7 26.5,349.8 24.8,348.9 26.7,347.8 31.3,348.2 31.4,348.8 30.4,350.3ZM27.9,367.9 16.4,368.7 -1.9,366.8 -12.3,365.3 25.8,361.7 27.5,362.9 28.0,367.7ZM34.5,323.2 33.3,326.1 33.5,326.4 35.9,325.9 36.2,323.2 36.0,323.0 34.6,323.1ZM70.0,341.9 71.2,340.1 69.6,339.7 69.8,341.7ZM106.0,361.0 104.9,361.6 106.9,364.0 107.9,363.9 107.6,362.9ZM96.3,374.3 97.5,374.1 98.0,373.1 97.9,372.9 97.9,372.6 97.2,371.9 96.8,372.3 96.1,373.8ZM46.8,356.4 46.4,357.1 45.9,357.6 45.4,357.3 45.3,356.9 45.6,354.6ZM57.3,327.8 57.8,326.1 55.5,326.5 54.9,327.7 54.9,327.8 56.3,328.4ZM94.9,378.1 95.7,381.4 95.7,381.5 92.7,382.1 90.3,381.3 90.0,380.8 91.5,377.7 93.8,377.6ZM51.5,377.6 52.5,377.1 53.0,378.0 53.0,378.2 51.7,378.4ZM57.1,360.6 57.1,360.8 56.7,362.8 54.6,364.4 53.6,364.1 53.1,363.0 54.8,361.0ZM31.2,347.0 31.1,347.3 27.0,347.0 28.3,345.5 28.8,345.2 30.0,345.2ZM59.2,337.1 58.3,337.6 57.6,337.6 57.0,337.3 57.1,336.1 57.5,335.5ZM97.7,345.7 96.9,347.3 97.3,347.4 98.4,347.1 98.0,345.9ZM87.6,361.8 90.0,360.4 88.5,358.6 86.5,359.5 86.1,360.1ZM82.4,379.5 82.4,379.7 84.1,380.9 85.6,380.8 86.7,380.2 85.7,377.7 85.3,377.5 84.7,377.2 82.6,377.2 82.5,377.7 82.4,378.5ZM41.7,361.0 41.0,362.0 39.2,361.2 40.1,359.3 40.9,359.4 41.7,361.0ZM67.0,341.1 68.6,338.3 69.2,339.5 68.1,340.8ZM61.3,373.3 59.7,371.9 57.9,372.2 57.1,372.5 57.4,376.4 57.5,376.5 57.6,376.5 58.7,376.0ZM40.4,364.4 42.0,365.9 40.5,367.5 39.2,366.2ZM33.9,339.0 31.7,338.4 31.3,340.4 31.6,340.7 34.1,340.4ZM93.0,348.1 94.1,346.8 94.6,347.0 95.7,347.9 95.4,349.1ZM68.0,351.1 65.6,353.8 65.6,353.8 65.3,349.4 66.4,348.4 67.7,349.3ZM92.2,367.1 93.0,369.0 95.5,368.3 95.7,367.3 93.0,365.5 92.5,365.6 92.4,365.7ZM42.4,347.2 41.5,348.6 41.1,348.7 39.9,347.7 39.8,347.3 40.9,344.9 41.3,344.7 42.1,346.1ZM72.8,354.9 72.0,356.9 74.0,357.5 74.6,356.3 74.1,355.3ZM109.1,374.1 109.8,375.1 109.3,375.9 107.2,377.4 106.1,377.1 105.7,374.0 108.3,373.6ZM28.7,329.0 28.9,327.8 29.7,326.7 32.6,329.4 29.7,330.3 29.5,330.2ZM93.4,361.1 91.7,361.3 91.6,361.4 91.6,362.3 92.2,364.2 92.8,364.1 93.0,364.0 94.3,362.2 93.8,361.2ZM98.5,383.0 97.8,382.0 99.1,381.2 100.8,382.0 99.9,383.8ZM80.7,365.6 82.4,367.2 79.8,368.6 79.9,365.5Z" fill="#cccad7"/>
<path d="M37.6,373.3 35.5,373.5 33.3,375.4 33.2,375.5 37.0,378.0 37.1,378.0 37.4,377.9ZM92.8,336.8 91.3,335.8 93.8,331.1 96.6,332.3 93.2,336.8ZM45.8,328.7 47.5,333.1 44.5,335.7 42.9,334.4 42.5,333.1ZM96.3,355.3 96.9,355.9 98.8,357.0 101.2,356.6 102.1,355.9 102.5,352.4 98.3,353.4ZM64.9,357.3 65.4,355.2 65.7,355.2 71.1,357.8 70.0,359.7 65.0,358.3ZM96.3,355.1 94.8,352.8 90.3,352.8 90.2,352.9 90.0,353.5 90.2,354.5 90.5,354.7 96.3,355.1ZM101.0,330.4 100.4,334.4 101.2,334.9 103.5,332.9 101.4,329.8ZM96.0,355.2 96.7,350.3 97.5,350.4 98.5,353.6 96.5,355.5 96.3,355.5 96.1,355.2ZM49.9,374.7 44.6,376.8 43.6,375.0 48.5,373.1 49.3,373.5 50.0,374.2ZM91.3,329.6 93.8,331.1 91.4,335.8 90.3,335.4 88.4,333.7 89.3,330.2 89.9,329.5ZM35.4,361.6 35.5,361.6 36.6,360.3 36.7,359.9 31.8,357.6 32.4,360.3ZM37.2,353.6 38.0,354.6 40.6,352.6 40.4,351.3 37.4,352.1ZM38.4,333.5 37.1,336.3 37.3,336.8 39.4,337.0 41.4,334.9ZM96.1,355.2 94.6,352.9 94.7,351.2 96.1,350.0 96.8,350.3ZM93.7,360.5 90.8,360.8 91.7,356.3 93.4,357.1ZM37.5,357.3 38.3,356.0 38.2,354.5 37.4,353.5 34.6,353.6 34.1,354.1 33.8,355.7ZM49.1,373.8 50.7,368.4 50.4,368.1 49.4,368.1 48.8,368.7 47.4,371.5 48.3,373.4ZM49.1,333.1 50.4,335.2 53.0,335.2 53.6,334.6 54.2,332.8 52.1,330.2 50.9,330.2ZM37.2,352.0 37.3,349.3 39.0,347.9 41.1,349.6 40.5,351.5 37.5,352.3ZM34.3,354.3 34.8,353.8 35.3,351.6 34.7,349.9 32.4,348.5 30.8,350.9ZM58.5,360.7 57.5,360.5 57.4,360.3 57.4,358.6 57.4,358.0 59.9,357.5 61.1,359.3ZM59.6,351.7 60.3,351.6 65.7,354.4 65.8,354.4 66.1,355.3 65.6,357.4 61.3,357.0 59.7,354.7ZM37.5,368.1 40.5,368.6 40.8,369.5 37.7,371.6 36.3,369.7 36.8,368.3ZM42.9,333.0 43.3,334.3 41.4,335.0 38.3,333.6 38.3,333.4 41.6,331.7ZM95.0,359.7 96.8,358.9 99.0,359.8 99.1,360.1 98.9,361.0 98.5,361.3ZM101.2,330.5 96.2,332.6 97.9,325.9 101.2,326.7 102.0,327.6 101.6,330.0ZM96.3,354.9 90.5,354.6 91.6,356.5 93.4,357.2 95.8,356.1 96.6,355.2ZM35.1,351.7 34.5,349.9 37.4,349.3 37.3,352.0ZM64.7,359.1 65.5,363.6 67.4,365.1 68.2,365.1 72.2,364.0 70.6,360.0 70.1,359.4 65.1,358.0ZM102.6,351.3 103.1,351.9 102.6,352.7 98.4,353.7 97.4,350.5 97.4,350.4ZM99.0,356.7 98.9,360.0 96.7,359.1 97.0,355.6ZM46.0,328.8 42.7,333.2 41.3,331.9 40.0,329.0 44.3,325.2 46.2,326.9ZM70.0,342.5 70.0,342.2 71.4,339.8 73.4,339.4 73.4,341.7 71.8,342.7ZM42.9,374.1 43.3,371.7 40.7,369.4 37.6,371.5 37.8,373.3 40.8,374.1ZM96.2,325.2 97.7,325.5 98.1,325.8 98.3,326.0 96.5,332.6 96.5,332.7 96.5,332.7 93.6,331.5 91.1,329.9ZM35.7,342.5 33.1,342.9 33.8,346.7 35.3,346.0 36.1,343.5ZM32.5,347.6 30.3,344.5 31.3,342.1 33.1,342.9 33.9,346.7ZM40.3,328.9 37.5,328.9 36.1,330.3 38.3,333.5 41.6,331.8ZM39.0,347.5 35.1,345.6 33.6,346.3 32.3,347.3 32.1,347.9 32.2,348.8 34.5,350.1 37.5,349.5 39.2,348.1ZM45.0,376.5 45.6,378.6 45.4,379.2 41.3,381.6 41.2,381.5 41.3,376.3 42.7,373.7 44.0,374.7ZM37.7,373.6 35.6,373.8 34.0,370.4 36.5,369.5 38.0,371.4 38.1,373.3ZM101.4,334.6 101.9,336.0 101.7,336.6 100.4,338.1 97.4,336.8 97.6,333.4 100.6,334.1ZM35.1,351.6 37.3,351.8 37.6,352.1 37.4,353.6 34.6,353.7ZM42.9,373.8 41.5,376.4 38.2,378.2 37.7,377.9 40.8,373.7 42.8,373.7ZM42.5,365.6 43.0,365.6 44.3,368.2 44.4,370.2 44.1,371.0 43.1,371.9 40.5,369.6 40.2,368.8 40.5,367.8ZM91.2,350.1 90.3,353.0 94.8,352.9 94.9,351.2ZM43.2,334.0 41.3,334.7 39.3,336.8 40.6,338.5 45.0,336.3 44.8,335.3ZM58.4,360.6 61.1,359.2 65.1,359.2 60.7,362.0ZM52.7,338.0 53.6,337.2 53.0,334.9 50.4,334.9 49.1,337.8ZM71.6,357.1 69.7,354.8 69.6,354.7 65.7,355.2 71.1,357.8ZM75.4,343.9 76.1,344.0 77.3,342.6 75.5,339.5 73.2,339.2 73.1,339.4 73.1,341.7 74.3,343.5ZM49.9,374.6 49.9,376.5 47.8,378.3 45.2,378.8 44.6,376.7ZM44.3,335.5 44.5,336.4 46.6,339.9 48.7,338.7 49.4,337.9 50.7,335.0 49.4,332.9 47.3,332.9ZM101.1,330.4 96.1,332.4 96.1,332.5 97.5,333.8 100.5,334.4ZM39.1,343.5 40.7,343.9 38.9,347.8 35.0,345.9 35.8,343.4ZM45.6,328.8 47.3,333.2 49.4,333.3 51.2,330.4 48.3,327.1 45.7,326.9ZM41.4,376.3 41.4,381.5 39.2,379.4 38.2,378.1ZM34.1,355.7 34.4,354.1 31.0,350.7 30.0,351.4 29.4,357.0 31.4,357.4ZM47.5,371.6 43.7,370.9 44.0,370.1 45.4,369.4 49.0,368.8ZM69.4,334.4 73.2,337.1 73.6,339.4 73.4,339.6 71.5,340.0 69.5,339.5 69.4,339.5 68.6,337.9 67.7,335.3ZM93.9,360.4 94.8,362.1 96.7,363.3 98.5,361.2 95.0,359.7 94.8,359.7ZM98.8,356.7 101.1,356.3 101.4,359.6 98.9,360.2 98.7,359.9ZM34.3,340.5 35.8,341.3 35.8,342.6 33.1,343.0 31.3,342.3 31.1,340.9ZM40.9,373.8 37.9,373.0 37.5,373.3 37.2,377.9 37.8,378.0ZM37.8,358.1 36.7,360.0 31.7,357.8 31.2,357.0 33.9,355.4 37.6,357.0ZM96.4,355.0 95.6,355.9 94.8,359.9 95.0,359.9 96.9,359.1 97.2,355.6 96.6,355.0ZM93.5,360.5 93.3,357.1 95.7,356.0 94.9,359.9 94.0,360.6ZM61.1,359.3 59.8,357.6 61.3,356.7 65.6,357.2 65.7,358.2 65.3,359.3 65.1,359.4ZM48.5,373.3 47.6,371.4 43.7,370.7 42.8,371.5 42.3,374.0 42.4,374.1 43.7,375.1ZM97.8,333.4 96.4,332.1 96.4,332.1 92.9,336.6 95.3,339.0 97.6,336.8Z" fill="#cccad7"/>
</g>
<rect x="81.3" y="362.8" width="25" height="15.5" rx="2" fill="#fff" opacity="0.42" filter="url(#sb2)"/>
<text x="103.5" y="373.2" font-size="7.5" text-anchor="end" fill="#1a1a1a" style="stroke-width:0.1px">50 μm</text>
<line x1="91.3" y1="375.8" x2="101.0" y2="375.8" stroke="#8a8a8a" stroke-width="0.8"/>
</g>
<clipPath id="c1"><rect x="110.4" y="322.1" width="77.7" height="57.7"/></clipPath>
<g clip-path="url(#c1)">
<rect x="110.4" y="322.1" width="77.7" height="57.7" filter="url(#m1)"/>
<g filter="url(#sb)"><path d="M188.2,382.2 188.2,382.4 189.5,383.1 190.3,381.5 189.5,381.1 188.6,381.5ZM110.0,320.8 108.3,321.6 108.2,321.6 108.3,321.7 109.0,322.5 109.8,322.9 110.0,320.8ZM158.7,358.8 158.9,358.1 158.7,357.9 158.0,358.3ZM157.4,326.7 156.7,326.7 155.4,327.7 154.9,328.4 156.6,328.6 157.1,328.5ZM145.2,334.6 145.0,334.2 144.6,334.0 143.7,334.9 143.7,335.3 144.8,335.5ZM146.5,337.9 146.7,338.1 145.9,338.9 145.0,338.5 145.5,337.9ZM140.0,377.1 138.8,376.7 137.9,377.1 137.4,379.0 138.8,379.3 140.3,377.4ZM152.2,354.0 150.4,354.6 151.4,356.7 153.4,355.9ZM185.4,371.1 184.0,370.7 183.4,371.1 183.2,371.5 184.9,372.5 185.1,372.3 185.7,371.4ZM170.7,371.9 170.7,371.4 172.6,370.1 174.1,370.2 174.2,370.4 171.9,372.1 170.9,372.1ZM145.5,352.2 145.2,353.5 145.9,354.6 145.9,354.6 146.6,352.1 146.5,351.5 145.7,351.8ZM148.6,379.9 148.4,379.7 147.5,380.2 148.6,381.4 148.8,380.8ZM136.4,376.6 136.1,376.6 135.3,379.2 135.9,379.1 136.7,378.7 137.2,376.9ZM184.8,349.2 184.8,347.1 184.9,347.1 186.0,348.8 185.4,349.3ZM155.7,379.5 154.1,380.0 154.1,381.0 156.3,382.3ZM167.0,329.1 167.2,329.2 168.1,328.8 168.4,326.4 167.3,325.8 166.7,326.1 166.1,326.8ZM187.5,336.8 187.4,336.7 185.8,336.8 183.8,338.4 183.8,338.4 185.4,339.6ZM189.3,365.7 190.7,364.7 191.2,365.2 191.1,365.4 190.0,365.7ZM164.7,355.9 164.0,355.2 161.6,356.3 161.6,357.7 162.1,359.0 162.3,359.1 164.9,358.1 165.1,358.0 165.3,356.9ZM132.8,329.3 132.5,329.2 132.3,331.2 133.0,331.3 133.5,330.5ZM149.8,381.1 149.6,381.7 149.6,381.8 150.8,381.9 151.4,381.5 150.3,380.7ZM178.2,366.7 178.1,367.0 176.8,366.0 177.2,365.4 177.4,365.3 177.8,365.5ZM184.3,328.1 184.1,328.3 183.4,328.9 184.1,330.4 186.1,330.1 186.5,329.1ZM170.6,318.8 171.4,318.1 171.6,318.4 172.5,321.4 172.4,321.5 170.3,320.6ZM164.4,334.7 163.6,335.7 162.9,335.7 161.5,334.1 162.8,333.4 164.4,334.4ZM177.0,328.0 176.8,326.9 177.8,327.0 177.1,328.0 177.1,328.1ZM136.7,317.7 137.6,314.8 139.1,317.1 139.6,320.2 137.1,318.8ZM107.0,340.4 105.1,338.7 105.5,338.6 108.7,340.4 108.2,340.7ZM173.3,366.9 173.9,367.0 174.0,368.4 172.8,368.3 172.4,367.4ZM181.1,366.4 180.9,366.2 180.4,364.8 181.6,363.7 183.4,365.9 183.3,366.1 181.7,366.4ZM147.4,332.5 146.6,332.5 146.3,331.5 147.6,331.0 147.9,330.9 147.5,332.4ZM162.9,339.2 164.4,338.9 163.6,337.8 162.5,338.2 162.7,338.8ZM113.3,345.5 114.5,347.3 114.4,347.8 112.0,347.0 112.0,347.0 112.7,345.6 112.8,345.5ZM183.5,326.9 183.3,327.1 182.0,324.5 182.6,323.8 183.1,323.6 183.5,324.0 184.2,325.8ZM149.8,325.4 151.6,325.4 151.6,325.4 151.8,327.0 149.5,326.3ZM195.5,335.8 189.6,336.0 188.9,335.6 188.8,335.5 188.5,333.5 188.7,333.2 189.9,332.2 190.6,332.2 198.4,335.0 198.0,335.1ZM160.2,373.2 159.9,373.4 159.3,372.6 160.6,370.9 160.8,370.8 160.9,371.1ZM139.5,324.8 141.2,325.3 142.2,324.0 142.2,323.4 142.0,322.6 141.9,322.6 140.8,322.7 139.6,323.9 139.3,324.6ZM124.9,330.9 125.7,331.6 125.6,331.7 125.1,331.9 124.8,330.9ZM149.3,348.7 149.4,348.4 152.2,347.8 152.2,348.2 150.7,349.0 150.0,349.1 149.3,348.9ZM131.8,360.8 131.7,360.7 131.7,360.6 132.6,359.6 133.5,359.5 133.7,360.4 133.6,361.0 132.9,361.1ZM124.0,378.6 125.6,379.5 125.0,380.6 124.0,380.4 122.8,378.7ZM190.3,366.5 191.3,366.1 191.4,366.3 191.4,367.0 190.8,367.6 190.8,367.6ZM142.8,351.5 143.4,351.1 144.2,351.3 144.1,351.6 143.2,352.0 142.9,351.8ZM156.0,321.1 157.0,319.9 155.5,317.4 155.3,320.1 156.0,321.1ZM142.0,351.8 141.9,351.8 141.3,352.0 141.3,354.0 141.9,353.5 142.2,352.1ZM150.6,379.6 151.0,379.3 151.9,378.9 152.3,380.0 152.4,381.2 152.0,381.4 150.5,380.3ZM113.0,336.8 113.0,336.8 112.9,338.6 113.2,338.6 114.5,337.9ZM179.8,364.1 181.1,363.1 181.1,362.6 179.8,360.8 178.4,362.2 177.8,363.6 178.4,363.9ZM141.3,349.6 140.2,350.2 140.1,350.3 141.0,350.8 141.6,350.7ZM112.5,335.4 111.0,334.3 110.3,334.6 110.2,334.8 110.0,336.4 110.3,336.7 112.1,336.3 112.1,336.3ZM111.2,367.2 111.6,369.0 111.0,369.3 110.4,368.0 110.6,367.5ZM170.6,344.3 170.4,342.9 172.3,341.6 172.3,341.6 173.1,342.5 173.1,342.6 172.7,344.2ZM115.1,326.4 113.7,325.7 113.5,325.2 113.4,324.6 114.4,322.5 115.0,322.8 116.5,326.3ZM163.6,370.9 162.5,369.9 162.5,369.8 164.1,369.7ZM137.5,347.4 137.6,347.7 137.3,349.7 136.7,350.1 134.8,346.9 136.2,346.5 137.5,347.4ZM150.8,349.5 152.9,350.0 152.6,348.5ZM189.0,372.2 190.1,372.4 190.8,371.5 190.6,371.1 190.6,371.0 189.5,371.1 188.5,371.6ZM131.2,333.1 131.0,331.8 131.4,332.0 131.3,333.1ZM147.7,334.7 148.0,333.5 148.1,333.5 149.1,334.3 148.1,335.0ZM163.1,326.0 162.5,324.7 161.0,324.9 161.0,325.0 162.3,326.5 163.0,326.1ZM130.9,333.9 131.2,333.5 131.0,331.5 129.6,330.7 129.5,330.8 129.5,331.2 129.5,331.9ZM165.2,363.2 165.7,364.0 164.7,364.8 164.4,364.7 163.2,363.5 163.2,363.5 163.3,363.3ZM143.4,352.5 143.5,353.1 144.2,353.3 144.5,352.0ZM168.8,335.1 168.3,334.5 168.4,333.6 169.9,334.7 169.3,335.6ZM168.0,345.3 167.1,343.5 166.5,343.6 166.1,344.1 166.0,344.6 166.1,345.7 166.4,345.7 167.0,345.7ZM155.6,326.0 156.2,326.3 155.3,327.0ZM167.7,380.3 167.4,380.9 168.0,382.3 168.9,382.0 169.3,381.5 168.2,380.3ZM168.1,349.0 167.2,348.0 166.7,348.0 167.8,349.5ZM174.3,374.8 171.7,374.0 170.5,374.0 170.9,375.2 173.7,376.0 173.8,375.9 174.3,374.9ZM124.9,359.5 124.5,358.8 123.5,359.5 123.5,359.9 123.5,359.9 124.6,360.2ZM185.7,376.5 185.1,376.1 183.9,376.8 185.2,378.4 185.9,378.3ZM173.0,329.0 171.8,330.4 171.9,330.5 173.6,330.6 173.6,330.6 173.3,329.1ZM142.8,333.3 142.6,333.8 143.4,334.5 144.3,333.7 143.6,332.7ZM153.9,347.7 154.1,347.2 154.7,346.7 155.8,347.0 156.6,347.9 156.1,349.9 154.8,350.2 154.3,350.1 154.2,349.8 153.9,348.2ZM164.4,369.1 165.1,368.7 164.5,366.9 164.0,366.8 162.4,367.9 162.1,369.1 162.1,369.2ZM134.4,333.9 133.8,335.1 134.8,335.7 135.6,335.6 136.4,334.1ZM113.0,366.7 111.2,366.5 111.1,366.6 111.8,369.1 112.5,369.0 113.3,367.7 113.1,366.9ZM120.6,367.0 120.1,366.8 119.3,367.0 118.7,369.2 121.5,369.2 121.5,369.2 121.5,368.2 120.6,367.0ZM164.0,371.3 164.1,371.6 165.4,373.0 165.8,373.0 166.4,372.9 167.7,372.2 167.7,371.5 167.3,370.6 165.5,369.3 164.8,369.8ZM120.0,343.4 120.7,342.3 120.6,342.1 119.7,341.5 118.9,341.7 118.7,341.7 118.0,342.8 119.5,343.7ZM191.6,340.9 191.3,340.9 190.3,341.8 190.3,342.2 191.2,342.1 191.3,342.1ZM131.8,361.1 132.7,361.3 132.0,361.5ZM187.7,321.0 186.3,322.1 185.7,321.3 187.6,320.9ZM163.9,344.1 162.5,343.7 162.6,342.6 163.9,343.7ZM131.7,333.4 133.0,332.6 132.9,332.0 132.2,331.8 131.8,331.9ZM116.1,373.0 115.8,372.2 114.5,372.4 114.4,374.1 115.0,375.0 115.1,375.0 115.8,374.6ZM139.2,340.7 140.0,340.8 140.0,341.0 139.5,342.1 139.1,342.5 138.0,342.5 137.8,342.1 137.8,341.9ZM132.0,321.2 131.9,320.4 132.8,319.8 133.3,321.4 133.1,322.1ZM146.6,327.5 145.2,328.6 144.9,328.7 144.2,328.0 145.5,326.8 145.5,326.8 145.7,326.9ZM144.5,336.7 144.5,337.0 144.1,337.5 143.0,337.8 142.8,337.1 143.7,336.1 144.5,336.2 144.5,336.2ZM184.8,379.5 185.1,381.2 184.1,381.2 183.7,380.1ZM113.5,334.0 114.3,333.6 113.3,332.1 112.7,331.8 112.2,332.6 112.0,333.1 113.3,334.0ZM122.5,363.5 122.1,362.0 121.0,363.0 120.9,363.4 121.8,363.9ZM138.9,340.5 137.6,341.5 137.5,340.9 137.9,340.3ZM175.2,332.6 176.0,333.1 176.9,332.9 177.0,332.3 176.2,331.4 175.3,331.8ZM139.2,373.0 141.0,372.8 140.7,373.8 139.2,373.1ZM186.6,352.7 186.2,350.4 186.9,349.8 188.6,349.5 189.8,350.8 189.7,350.9 187.1,352.8 187.1,352.8ZM182.4,380.4 181.0,380.9 181.0,381.0 181.1,381.9 182.3,382.4 183.1,381.6 182.7,380.6ZM140.5,329.2 141.0,328.2 140.5,327.5 139.0,327.1 139.3,329.7 139.8,329.6ZM146.8,377.1 147.9,377.3 147.9,377.9 147.8,378.6 146.9,379.1 146.2,379.1 145.9,379.0 145.8,378.9ZM128.0,361.8 128.0,361.8 129.9,359.9 130.9,360.5 130.8,360.7 129.1,362.0ZM119.1,338.4 118.1,337.9 117.7,337.9 118.3,339.4 119.2,339.2ZM129.4,340.8 129.1,341.5 126.0,341.6 125.5,341.2 126.7,338.8 128.7,339.0 129.4,340.2 129.5,340.4ZM126.3,332.4 126.7,333.8 126.9,333.7 127.9,332.2 127.8,331.5 126.4,332.3ZM137.6,371.3 137.2,371.2 137.2,371.2 136.9,370.2 136.9,367.4 138.8,367.7 139.8,368.9ZM179.1,347.1 179.1,346.8 179.5,345.7 180.9,344.9 181.5,345.3 181.8,345.7 179.3,347.2ZM172.6,325.4 173.8,323.9 173.9,323.9 174.3,323.9 175.1,324.9 174.9,325.7 173.3,326.1ZM146.4,357.4 146.8,357.5 148.6,359.0 148.6,359.3 148.5,359.4 147.6,359.8 146.0,359.4 145.4,358.2 146.4,357.4ZM157.6,357.7 157.6,357.7 156.7,357.6 156.4,356.7 156.9,356.2 158.3,355.6 158.4,355.8 158.3,357.3ZM145.0,345.2 145.8,344.9 145.8,344.8 144.8,344.7ZM115.4,382.1 115.5,382.1 116.7,381.3 115.9,379.4 115.8,379.4 115.0,379.9ZM111.9,337.1 110.8,337.3 111.3,338.6 111.4,338.6 111.9,338.2ZM114.7,342.5 113.3,342.9 112.6,342.9 112.1,340.4 113.0,339.6 113.3,339.6 114.8,340.6ZM120.9,325.7 120.3,325.2 119.2,325.0 118.7,325.9 121.1,327.1 121.3,326.9ZM165.5,322.2 164.1,322.0 163.7,322.2 163.9,323.1 165.4,323.7 165.9,323.5 165.9,322.7ZM149.4,321.5 148.3,319.7 149.9,319.8 150.5,321.0 150.4,321.1ZM122.3,379.2 121.4,378.9 121.5,380.3 122.5,380.7 123.3,380.6ZM164.7,376.1 165.0,375.5 165.5,375.1 165.9,375.1 165.7,377.7ZM117.6,325.3 118.1,324.3 117.9,323.7 117.0,323.0 115.3,322.7 116.7,326.2 116.9,326.2 117.0,326.2ZM114.4,330.1 112.8,330.7 112.8,331.1 113.5,331.4 115.0,331.5 115.0,330.6ZM169.9,352.2 168.3,350.8 168.3,350.8 167.7,351.1 168.0,351.5ZM187.6,326.7 187.7,327.5 187.5,328.2 186.7,328.4 184.9,327.6 185.5,326.7 187.3,326.3ZM113.5,374.0 114.1,372.2 114.3,372.2 114.1,374.5ZM159.3,330.4 159.7,331.8 160.1,332.4 160.4,332.5 160.8,332.4 161.9,331.8 162.0,330.7 161.4,329.4ZM137.9,335.3 137.3,336.5 137.5,337.4 139.6,336.9 139.0,335.8 138.1,335.2ZM138.6,372.4 138.2,372.1 140.6,369.4 143.3,370.5 141.3,372.1ZM146.7,336.3 146.8,336.4 147.5,335.8 147.5,335.7 147.1,335.4 146.9,335.4 146.5,336.1ZM155.6,359.4 157.5,361.3 157.2,362.4 155.0,361.7 155.0,360.4 155.1,360.1ZM160.5,367.1 161.3,367.7 161.1,368.6 160.2,368.2 160.2,367.2ZM167.1,350.4 167.8,350.0 167.9,349.8 166.2,347.5 165.8,347.5 165.1,348.2 165.7,350.4ZM109.7,369.9 109.7,370.3 108.0,370.7 107.5,369.6 109.1,368.5ZM124.5,323.2 124.4,322.7 124.0,322.5 122.3,322.8 121.1,324.3 121.6,324.7ZM163.5,354.3 161.1,355.4 159.7,354.4 159.5,354.2 159.8,353.0 160.4,352.6 163.3,353.3ZM120.0,382.6 120.0,382.4 120.8,381.4 122.1,382.0 121.8,382.6ZM168.5,335.8 165.9,334.9 167.0,337.1 167.1,337.4 169.1,336.5 169.1,336.5ZM185.5,354.6 183.8,354.8 184.0,355.2 184.9,356.8 185.3,356.3ZM140.9,345.6 141.4,346.3 142.1,345.1 142.1,344.8 141.0,343.7 140.4,344.2 140.5,344.8ZM164.6,325.5 165.2,324.8 163.4,324.0 163.0,324.4 163.7,326.0ZM168.4,335.6 166.1,334.9 166.0,334.7 166.0,334.5 166.5,334.2 167.8,335.0ZM139.3,351.3 138.4,351.4 137.8,351.7 137.8,351.8 138.2,354.7 140.0,355.0 140.4,354.1 140.4,352.0ZM187.8,329.3 188.7,330.9 187.7,331.7 186.6,330.3 186.9,329.4ZM172.1,364.0 173.6,365.6 174.7,365.8 175.2,365.1 175.7,364.1 173.7,362.5 173.2,362.9 172.2,363.9ZM144.5,340.9 143.7,340.3 143.6,340.1 143.7,339.8 144.7,339.5 145.4,339.9 146.0,340.5 145.9,340.5ZM147.2,334.6 146.9,334.6 146.0,334.3 145.9,333.9 146.6,333.3 147.5,333.3ZM161.0,362.0 161.0,360.8 160.9,360.8 159.6,360.9 158.9,361.4 158.7,361.6 158.4,362.6 158.6,363.1 160.9,362.8 160.9,362.6ZM184.0,365.5 182.2,363.3 182.3,362.8 184.5,362.1 185.8,364.5 185.7,364.9ZM131.3,330.9 130.0,330.1 130.4,328.4 132.4,329.1 132.1,331.2 131.8,331.2ZM179.2,337.9 181.7,338.2 181.1,336.1 178.7,335.2 178.4,335.6ZM168.0,339.0 169.8,338.2 171.2,340.3 169.5,341.5 169.0,341.3 167.9,339.3ZM143.8,345.8 144.2,346.4 144.6,345.6 144.2,344.7 144.1,344.5 143.8,344.6ZM136.8,320.2 138.2,322.6 139.6,321.3 139.3,320.8 136.7,319.3ZM156.8,379.0 156.8,379.0 156.6,379.3 157.2,381.8 157.3,381.9 158.2,380.4 158.6,379.5ZM163.7,352.3 160.5,351.5 161.6,348.4 163.6,348.5 164.3,350.8ZM176.3,379.2 176.6,379.6 176.6,380.0 175.9,380.8 175.1,380.2 175.6,379.7ZM117.7,337.3 117.4,337.1 117.6,336.5 118.3,336.6 118.1,337.3ZM123.5,365.3 122.2,365.6 123.0,364.1 123.5,364.4ZM183.8,357.5 182.7,355.9 182.1,358.2 183.7,358.1 183.8,357.7ZM110.6,364.2 109.5,362.8 110.6,361.5 111.0,361.6ZM166.0,321.1 164.1,320.8 164.2,319.2 165.9,319.8 166.0,319.9ZM169.0,345.1 168.2,345.3 167.2,343.3 168.4,342.9 169.0,343.1 169.1,344.5ZM150.2,351.5 149.7,353.2 150.9,351.9ZM167.6,365.7 167.2,365.8 166.1,366.7 166.5,368.0 168.0,369.1 168.7,366.8 168.6,366.3ZM147.6,326.3 148.0,325.8 148.2,325.0 147.9,324.5 146.7,325.7 147.4,326.2ZM117.7,339.4 117.8,339.4 117.3,338.2 117.0,338.0 116.5,338.4 116.7,338.9ZM153.7,359.4 151.7,358.3 151.0,358.9 151.0,359.1 152.1,359.5 153.6,359.6ZM143.5,327.2 144.7,326.0 143.4,324.9 142.3,326.2 142.9,327.1ZM132.7,363.9 133.6,363.6 133.8,362.8 133.7,361.7 132.9,361.7 132.1,361.9 131.9,363.0ZM146.7,380.8 146.0,380.7 147.0,382.9 147.9,382.2 147.9,382.2 147.9,382.1ZM137.3,339.6 136.5,338.7 134.8,339.9 136.7,340.4ZM187.4,357.8 187.8,358.0 188.0,358.4 187.8,359.0 187.7,359.1 186.1,359.2 185.7,358.6 185.8,358.2ZM115.8,370.5 115.1,370.0 113.6,370.7 113.5,371.1 114.2,371.3 114.3,371.3 115.7,371.0ZM139.4,383.7 136.2,380.5 135.5,380.6 134.2,381.1 134.3,381.9 139.0,383.6 139.4,383.7ZM160.9,372.9 161.3,372.8 161.7,372.1 161.5,371.8ZM182.7,321.1 181.4,320.2 180.7,320.7 180.8,321.4 181.1,322.0 182.1,322.5 182.5,322.4ZM174.5,328.0 175.9,328.5 175.7,327.0 175.6,326.9ZM110.3,357.1 109.7,355.9 108.0,356.7 107.6,358.9 107.7,359.0 107.9,358.9ZM166.1,337.5 165.1,335.3 165.0,335.2 164.2,336.1 164.1,336.9ZM185.2,342.4 186.3,344.2 184.7,345.4 184.7,345.4 183.8,345.4 183.4,345.0 183.2,344.5 185.1,342.4ZM187.3,325.1 187.4,325.0 186.1,323.2 184.4,323.6 185.1,325.5ZM125.0,329.9 126.9,329.7 127.0,329.6 127.2,328.4 127.1,328.2 126.3,327.7 124.8,328.6 124.7,329.0 124.8,329.8 124.8,329.8ZM148.4,335.6 148.4,335.6 149.6,337.8 150.7,336.3 150.2,334.8 149.7,334.7ZM151.1,352.2 151.8,352.4 151.7,353.2 150.4,353.6 150.2,353.5 150.1,353.4 150.1,353.3ZM115.9,344.0 116.9,346.6 115.4,346.9 113.8,344.5 115.3,344.0ZM144.9,342.8 145.9,343.0 146.5,341.3 144.4,341.8ZM144.4,381.9 144.5,380.5 144.3,380.3 143.5,380.3 141.5,382.7 141.3,383.7 141.3,383.7 142.3,385.9 143.9,382.9ZM116.0,341.7 116.3,341.6 117.0,340.6 116.0,340.0 115.6,340.6 115.6,341.7ZM145.2,350.0 146.3,349.6 146.7,349.0 146.7,348.9 144.2,347.3 142.7,347.9 142.8,348.2 143.6,349.7ZM143.0,335.4 141.8,336.7 141.4,336.2 140.7,334.8 142.2,334.2 143.0,334.9ZM189.7,374.2 189.3,373.6 189.0,372.8 190.0,373.0 190.0,373.1ZM155.0,363.0 154.3,363.7 154.0,364.2 154.2,364.5 156.2,364.5 156.4,364.3 156.6,363.9 156.4,363.5ZM137.7,373.7 137.3,373.5 137.0,373.4 137.0,373.4 136.8,375.7 137.5,375.9 138.2,375.6 137.7,373.8ZM154.0,351.9 153.3,352.5 153.2,353.5 154.2,355.0 154.7,355.1 155.2,354.6 154.4,352.0ZM145.2,382.0 145.3,381.0 145.5,381.1 146.5,383.1 146.5,383.1 145.7,382.5ZM149.2,379.0 148.9,378.8 149.0,378.0 150.5,378.8 150.1,379.1ZM190.3,342.9 189.3,344.0 189.9,344.6 190.7,344.5 191.2,342.9ZM160.3,369.7 160.5,369.5 160.5,369.4 160.5,369.3 159.8,369.0 159.0,369.1 158.6,369.3 158.5,369.7 160.2,369.8ZM166.8,340.1 167.7,341.8 166.8,342.1 166.3,342.3 166.1,340.6ZM175.5,339.5 174.2,340.5 174.8,341.2 176.8,340.5 176.6,340.0ZM161.8,345.2 161.8,345.3 161.9,346.0 162.0,346.0 163.3,346.1 163.8,345.6 163.8,344.7 162.3,344.2 162.1,344.5ZM176.3,345.6 176.0,345.4 176.1,343.6 177.2,343.5 177.2,343.5ZM185.9,354.6 185.7,356.4 186.4,356.0 186.5,354.6 186.2,354.5ZM165.2,362.4 163.2,362.2 163.1,362.9 165.2,362.8ZM145.3,325.0 145.3,325.0 144.3,324.1 144.3,323.6 145.7,324.0ZM133.5,322.5 133.4,322.2 133.6,321.5 134.1,321.9ZM134.0,348.2 133.0,348.0 132.5,349.0 132.5,349.7 133.0,350.4 135.1,350.2 135.2,350.2ZM183.6,359.8 183.9,360.3 183.8,361.0 182.3,361.5 181.4,360.3 181.4,360.1 182.3,359.8ZM153.8,365.8 153.9,366.7 156.2,367.3 156.4,365.8ZM146.2,335.9 146.5,335.3 145.9,335.1 145.6,335.7 145.6,335.8ZM181.1,355.8 180.5,357.5 180.9,358.1 181.7,357.8 182.1,356.0 182.0,355.7 181.7,355.5 181.3,355.7ZM148.5,327.5 149.3,329.4 151.0,329.6 152.5,328.8 152.1,327.5 149.1,326.7ZM136.4,327.9 137.0,327.2 137.2,327.2 137.4,327.3 137.7,329.9 137.4,330.2 136.8,329.7ZM122.6,364.1 122.0,364.4 121.4,365.7 121.4,365.7 122.1,365.4 122.8,364.2ZM116.0,330.7 116.0,331.3 116.5,332.0 116.8,331.9 116.9,331.2 116.5,330.4ZM111.7,371.7 110.9,370.6 110.9,370.0 111.9,369.7 112.6,369.5 112.8,370.6 112.7,371.1ZM139.0,373.6 139.4,375.2 140.3,375.5 140.5,374.5 140.4,374.3ZM188.8,328.6 189.9,330.4 190.5,330.4 190.9,328.3 189.0,327.8ZM177.9,376.6 176.6,378.1 175.4,376.9 175.1,376.5 175.7,375.4ZM148.8,321.9 147.7,320.1 147.2,319.8 146.5,320.6 147.5,322.5 148.2,322.7ZM145.1,329.5 145.3,329.5 147.4,330.2 145.9,330.8 145.2,330.6ZM106.4,338.9 108.6,340.1 109.1,339.9 107.2,338.7ZM173.4,327.8 173.1,326.8 175.4,326.2 175.5,326.5 174.0,328.0 173.8,328.0ZM125.0,359.4 125.8,358.6 125.2,358.0 125.2,358.0 124.5,358.6ZM160.6,373.5 161.6,371.6 161.2,371.0 160.5,373.5ZM149.2,379.7 150.0,379.7 150.0,380.3 149.4,380.7ZM188.1,366.4 189.1,366.4 190.0,366.4 190.8,368.0 190.1,367.8 188.4,366.8ZM180.8,368.6 181.9,369.8 181.6,367.3 181.1,367.3 180.6,368.3ZM117.5,368.6 117.9,366.9 117.5,366.6 115.3,366.7 115.4,367.4 116.3,368.5 117.0,369.0ZM147.0,336.7 147.9,335.9 149.1,338.1 149.1,338.3 147.2,337.5 147.0,337.3ZM111.0,360.5 111.5,358.3 111.1,358.0 108.5,359.9 110.6,360.5 111.0,360.5ZM190.9,325.0 190.9,325.0 192.3,323.7 190.9,322.8 190.2,322.7 189.9,323.5ZM179.3,377.1 179.1,378.5 177.4,379.1 177.0,378.5 177.0,378.5 178.3,377.0ZM136.5,373.2 135.3,375.5 136.0,375.7 136.4,375.7ZM152.4,324.0 151.4,321.8 151.5,321.7 153.5,321.0 154.5,322.6 154.1,323.1 152.4,324.1ZM187.1,354.2 187.2,354.2 188.1,355.1 187.6,356.6 187.0,356.0ZM134.0,323.1 135.1,323.4 134.7,322.2 134.4,322.3 134.0,322.8ZM110.1,364.7 109.0,363.2 107.7,362.4 107.7,364.1 108.6,365.1 109.3,365.5 110.1,365.0 110.2,365.0ZM171.5,331.1 171.6,332.0 172.1,333.8 172.4,333.8 172.9,333.3 173.7,331.2ZM185.8,322.4 185.8,322.6 184.7,322.9 184.4,322.6 184.6,321.5 184.6,321.5 184.7,321.5 185.3,321.6ZM180.2,366.5 179.7,365.1 178.2,364.9 178.7,366.6ZM160.3,365.9 160.8,364.7 160.8,364.6 159.2,364.8 159.1,365.2 159.9,365.9 160.0,366.0ZM151.1,338.4 151.9,337.2 152.2,337.2 153.4,338.5 153.3,339.3 151.2,339.3 151.1,338.5ZM144.8,343.6 144.6,344.3 144.7,344.5 146.0,344.7 146.0,344.1 145.7,343.8ZM136.5,343.0 136.9,343.5 135.9,345.1 134.3,345.5 132.6,345.1 132.2,343.0 132.6,342.0ZM134.5,331.2 134.1,331.9 134.1,332.3 134.6,332.7 136.2,332.8 136.3,332.7 136.4,331.9 135.7,331.5ZM121.1,327.2 118.6,326.0 118.0,326.9 119.4,327.8 120.4,327.9ZM113.6,335.7 114.9,337.7 114.6,337.8 113.0,336.7 113.4,335.7ZM140.6,337.8 140.9,338.9 140.8,339.4 139.6,339.3 138.0,339.0 137.2,338.0 137.2,337.9 140.2,337.2ZM119.7,335.4 118.5,335.5 117.6,335.4 117.2,334.4 117.4,334.1 117.7,333.9 119.4,334.1 119.7,334.3 119.7,335.4ZM129.4,335.3 127.7,334.2 128.5,332.9 129.6,334.5 129.6,334.9ZM177.6,338.1 177.3,338.5 176.2,338.0 176.2,338.0 177.3,337.3ZM141.9,350.6 141.9,350.6 141.5,349.6 142.1,348.8 142.8,350.0ZM180.1,369.1 179.4,370.5 178.4,370.2 178.3,369.9 179.1,369.1 180.0,368.8ZM177.2,336.8 175.6,337.8 175.5,337.4 176.9,335.9 177.6,335.7ZM146.0,323.0 144.5,322.6 144.3,321.9 145.7,321.3 146.4,322.8ZM180.4,353.0 181.0,352.8 181.3,350.3 181.2,350.2 179.0,349.3 179.0,351.6ZM147.2,360.9 147.7,360.3 145.7,359.9 145.7,360.2 146.9,361.0ZM177.7,367.8 177.7,367.3 176.7,366.5 176.4,366.8 176.6,368.1 176.6,368.2 177.1,368.5ZM150.5,377.2 149.7,376.8 149.5,376.9 149.0,377.1 149.1,377.8 150.6,378.6 151.4,378.1 151.5,377.9ZM119.9,321.3 119.4,319.3 118.2,321.8 118.8,322.4ZM148.5,369.3 147.4,368.9 147.7,367.1 150.7,365.2 151.7,365.4 152.1,365.8 152.2,366.9 151.9,369.1 150.0,369.6 150.0,369.6ZM165.8,330.6 163.9,331.0 163.8,332.1 165.2,333.0 165.6,332.8 166.4,332.0 166.5,330.8 166.3,330.7ZM174.3,320.7 174.7,320.7 175.6,320.0 176.1,319.4 175.9,319.0 173.6,318.1ZM153.6,377.7 155.8,378.4 155.6,378.8 153.7,379.4 153.2,378.3 153.2,378.0ZM154.1,336.2 152.4,336.7 153.9,338.3 154.0,338.0 154.4,336.3ZM187.7,356.6 188.2,355.2 189.0,355.6 188.4,357.2 187.9,356.9ZM160.6,345.2 160.6,345.4 159.5,344.4 160.0,343.3ZM173.8,328.8 174.1,328.9 175.9,329.4 176.0,329.6 176.1,330.2 174.9,330.7 174.2,330.6ZM109.9,341.1 110.2,342.7 110.1,342.8 108.4,342.3 108.6,341.4 108.9,341.2 109.4,341.1 109.8,341.1ZM109.9,339.3 109.4,339.3 107.7,338.2 109.0,337.6 109.3,337.8ZM141.5,330.8 143.0,332.0 143.0,332.1 142.3,332.6 140.7,331.3ZM139.0,362.9 137.1,363.6 137.0,364.4 137.6,364.8 139.0,365.0 139.6,364.3 139.6,363.9ZM117.4,364.0 116.2,363.4 114.9,364.9 114.8,365.3 115.0,365.4 117.5,365.3ZM129.5,362.3 131.1,361.0 131.2,361.1 131.6,361.8 131.3,363.4ZM141.8,372.8 143.9,371.1 144.4,371.1 144.2,373.5 141.3,374.6 141.3,374.2ZM181.2,370.1 181.1,370.0 180.4,369.2 179.6,370.6 180.4,370.9 181.0,370.5ZM140.6,331.8 140.1,332.0 139.8,332.3 139.7,333.1 140.6,333.7 141.7,333.2 141.9,332.9ZM183.4,377.6 184.4,378.9 184.4,379.0 183.4,379.5 183.1,379.3 183.1,377.7ZM170.1,353.2 170.7,353.3 170.9,353.6 168.8,355.4 167.2,355.9 166.7,354.9 168.2,353.5ZM125.3,362.6 125.4,362.5 125.5,362.5 124.2,361.9 123.2,361.6 123.1,362.1 123.4,363.1 123.5,363.2 123.9,363.3ZM166.0,329.6 164.1,327.4 164.2,327.3 165.4,326.8 166.5,329.6ZM166.7,378.3 166.0,378.0 166.0,377.9 166.2,374.7 166.8,374.6 167.0,377.4ZM125.1,325.5 124.5,324.1 122.1,325.4 122.4,326.3 123.5,326.5ZM173.5,333.8 173.1,334.2 174.3,334.8 175.9,333.6 174.9,333.0ZM121.9,331.1 121.7,332.0 121.0,332.3 120.8,332.1 120.6,331.1 121.1,330.5 121.4,330.6ZM132.8,323.1 131.6,323.6 131.9,321.8 132.7,322.5 132.8,322.7ZM147.2,361.5 147.3,362.1 146.9,362.4 146.7,361.8 147.0,361.5ZM157.7,341.0 158.1,340.4 158.9,340.6 159.3,341.5 158.5,341.6ZM153.4,360.6 152.0,360.5 152.7,362.3 153.4,361.5ZM157.4,350.2 158.9,351.4 159.5,351.1 160.4,348.3 160.3,348.2 157.9,348.2ZM118.6,328.9 118.4,329.9 118.2,330.0 117.5,329.4 117.7,328.3 117.7,328.3ZM138.8,361.6 138.7,361.1 136.6,360.7 136.6,361.4 136.7,362.6 138.7,361.9ZM108.3,325.3 108.5,325.4 110.0,324.3 109.5,323.8 108.4,323.3 108.2,324.6ZM188.6,367.6 189.1,368.6 189.6,368.3ZM172.4,328.2 172.1,327.2 171.1,326.1 169.8,326.2 169.5,329.1 170.9,329.9ZM186.2,379.2 186.8,380.0 187.1,380.8 186.7,381.5 185.6,381.1 185.4,379.4 185.4,379.3 186.0,379.2ZM177.9,320.5 179.4,320.7 179.5,321.4 178.6,322.5 177.3,321.3ZM146.8,361.1 145.8,360.4 145.7,361.1 146.3,361.4ZM134.3,321.6 133.8,321.2 133.4,319.8 134.7,318.7 135.1,319.7 135.2,320.5 134.6,321.6ZM184.0,334.1 185.1,336.0 183.3,337.4 183.3,337.4 182.8,335.7 183.8,334.3ZM171.4,376.1 172.7,376.8 173.2,376.3 171.4,375.8ZM120.3,328.8 120.6,329.8 119.8,330.6 119.0,330.2 119.3,328.7ZM184.0,341.8 182.4,343.5 181.9,343.2 181.5,341.9 182.6,340.7 183.8,341.6ZM181.7,348.8 182.6,346.5 182.2,345.9 179.2,347.7 179.5,348.0ZM146.7,347.6 144.9,346.5 144.9,346.5 145.2,345.8 146.1,345.5 146.9,346.5 146.8,347.3ZM168.5,363.4 169.0,361.3 169.5,361.4 169.7,361.9 169.9,362.4ZM176.4,345.6 177.2,343.6 178.0,345.0 177.5,346.4ZM160.7,375.8 160.7,375.7 163.0,376.0 162.4,377.6 161.3,377.7ZM114.2,335.5 115.0,335.1 115.8,334.9 116.2,336.0 116.0,336.8 115.4,337.3 115.4,337.3ZM170.8,377.2 170.9,376.8 172.3,377.6 172.0,378.6 170.8,377.5ZM184.4,373.5 184.1,374.5 183.1,375.0 182.8,375.0 182.0,374.7 181.8,373.0 182.5,372.4ZM118.7,364.0 119.1,363.7 119.7,364.0 119.6,365.0 119.1,365.1 118.8,364.9ZM182.3,369.9 182.1,369.7 181.9,367.4 183.3,367.1 183.1,369.3ZM139.9,346.1 138.8,346.7 138.8,346.6 139.6,345.6ZM117.8,360.7 117.7,360.5 115.9,360.2 115.8,360.7 116.3,361.5ZM179.5,380.4 179.2,378.9 177.5,379.4 177.6,380.0 179.4,380.5ZM136.6,323.5 136.8,322.8 135.9,321.1 135.4,322.0 135.8,323.2 136.3,323.5ZM181.9,323.3 180.7,322.6 179.4,324.3 179.8,324.8 181.3,324.0ZM124.3,335.0 124.2,335.7 123.6,335.8 121.9,335.3 121.9,334.2 122.6,333.8 123.8,334.1ZM190.4,381.7 190.7,381.8 190.5,383.5 189.7,383.0ZM107.8,344.0 107.5,344.1 107.4,345.0 109.0,345.4 109.5,344.4 107.9,343.9ZM152.0,362.8 151.3,362.7 151.0,361.9 150.8,360.5 150.8,360.4 151.7,360.7 152.3,362.4ZM114.5,348.8 111.8,349.5 111.4,349.5 111.1,348.8 111.4,347.2 114.5,348.3ZM178.0,328.6 179.9,328.2 179.1,327.2 178.7,327.5ZM115.0,329.5 115.2,327.9 116.4,327.8 116.6,327.8 116.5,329.3 116.2,329.6 115.5,330.0ZM160.9,345.2 160.2,343.2 160.2,342.8 161.3,344.2ZM187.7,365.3 187.8,364.9 189.0,364.0 190.3,364.0 190.8,364.5 189.1,365.8 188.3,365.8 188.0,365.7ZM110.8,372.8 108.9,374.3 108.8,374.3 107.6,373.2 107.9,371.8 110.1,371.3 110.9,372.3Z" fill="#d2cede"/>
<path d="M147.4,369.9 149.2,376.3 149.5,376.2 150.8,373.6 149.8,370.3ZM168.0,350.4 167.9,350.4 168.0,350.0 168.7,348.9 170.7,348.6 171.1,350.5ZM124.3,378.2 123.7,375.7 124.5,375.2 129.4,378.3 127.3,380.0ZM115.7,351.3 114.0,351.4 113.0,353.7 113.1,353.7 116.4,352.4ZM121.3,376.0 123.8,375.7 124.4,378.2 122.0,378.4 120.1,377.7 119.8,377.3ZM144.7,370.4 145.4,370.4 146.3,369.9 146.8,367.1 146.0,365.6 145.3,365.0 144.5,364.9 140.2,365.0 139.0,366.7 140.7,368.8ZM125.2,357.5 126.1,358.5 127.2,359.3 129.7,357.0 129.6,356.6 129.4,356.5ZM121.5,358.1 121.4,357.7 123.2,355.5 125.0,354.7 125.1,354.7 125.1,356.0 121.8,358.6ZM121.5,357.8 120.4,356.9 119.4,355.2 119.6,354.6 123.4,355.6ZM171.1,353.0 172.1,353.2 171.9,352.1 171.1,350.4 168.0,350.3 171.0,352.9ZM141.5,363.0 144.4,365.1 145.3,365.2 144.2,362.2 142.9,361.6 141.6,362.9ZM116.4,352.3 116.4,352.3 116.1,354.6 114.4,354.6 113.0,353.6ZM113.0,353.7 110.4,354.2 109.7,352.5 110.4,349.9 111.0,349.9 114.1,351.4ZM123.0,351.7 118.8,350.8 118.4,352.1 119.8,354.0 123.2,352.5 123.2,352.0ZM171.7,364.0 173.3,362.4 169.9,361.3 170.3,362.4ZM141.7,363.1 140.4,364.5 139.1,362.2 139.4,361.6 140.6,361.8 141.8,363.0ZM168.8,356.1 172.3,359.3 169.5,360.6 168.6,360.5 165.8,358.4 166.1,356.8ZM172.3,353.1 172.5,353.2 173.2,359.3 173.2,359.3 172.1,359.4 168.7,356.2ZM124.2,370.9 121.8,373.6 120.1,372.6 122.1,369.5 122.2,369.4 124.2,370.8ZM116.2,357.9 114.6,358.9 114.7,359.2 117.7,359.0 117.3,357.9ZM144.9,373.9 146.3,376.2 148.5,376.6 149.3,376.2 147.5,369.8 145.9,369.2 145.0,369.8 144.8,373.3ZM173.4,345.4 174.0,346.0 175.7,345.9 175.9,343.1 173.7,341.8 173.0,344.5ZM152.2,374.1 150.7,376.7 152.4,377.9 153.1,377.4 154.6,374.8 154.6,374.2 153.2,374.1ZM176.8,357.5 177.1,357.6 176.2,360.6 173.4,360.8 172.8,359.1 172.8,359.0 176.7,357.4ZM177.0,357.6 176.1,360.5 178.0,362.0 180.0,359.9 180.1,359.5 179.1,358.0ZM129.7,357.0 133.2,358.1 131.2,360.5 129.8,359.7ZM173.6,345.2 174.2,345.8 173.4,348.1 170.8,347.9 170.5,346.9ZM152.2,374.1 150.6,373.6 149.4,376.1 150.7,376.7ZM134.0,373.5 132.5,373.4 132.2,374.2 132.5,377.2 134.0,376.0ZM177.8,354.1 180.7,354.4 181.1,354.0 178.9,351.9 177.1,351.6 177.6,354.1ZM119.3,348.9 119.1,350.9 118.6,352.2 116.2,352.5 116.2,352.5 115.4,351.5 115.4,349.7 119.2,348.4ZM139.4,360.8 141.8,357.5 140.3,356.0 137.4,355.5 135.1,357.1 134.6,358.0 135.1,360.0ZM177.9,353.9 176.7,357.8 176.6,357.8 174.8,354.2 177.7,353.8ZM124.1,370.8 121.7,373.4 121.8,373.7 124.8,374.3 125.1,373.7 124.3,371.0ZM137.7,356.0 136.9,351.2 131.2,351.6 131.2,352.8 135.4,357.5ZM178.2,347.9 178.1,347.4 176.2,346.0 175.7,345.7 174.0,345.7 173.2,348.1 173.5,348.5 176.3,349.7ZM122.6,350.8 119.0,349.0 118.9,348.5 118.9,348.4 122.8,349.3ZM122.8,349.4 118.9,348.4 118.9,348.2 123.4,347.2 123.6,347.7ZM121.8,358.0 118.9,359.0 118.9,358.4 120.6,356.7 121.6,357.6ZM119.0,358.4 118.0,357.1 117.2,357.9 117.6,359.1 118.7,360.2 119.1,359.0ZM114.7,359.2 117.7,359.0 118.8,360.1 118.8,360.4 114.9,359.8ZM153.2,374.3 149.6,370.4 152.4,369.6 155.6,371.4 154.6,374.4ZM176.8,357.7 172.9,359.3 172.2,353.2 173.3,353.1 175.0,354.1ZM113.0,353.5 110.3,354.0 110.3,354.8 111.4,357.1 112.2,357.7 113.1,357.8 114.5,354.5 113.1,353.5ZM137.0,372.0 134.9,375.9 133.9,376.0 133.9,373.5 135.0,372.3 137.0,372.0 137.0,372.0ZM123.8,371.0 124.0,371.2 128.9,372.4 128.9,370.8 125.4,369.4 123.8,370.9ZM176.5,364.3 173.5,362.0 173.4,360.7 176.2,360.4 178.0,362.0 177.0,364.1ZM119.6,355.1 118.2,355.7 117.9,357.2 118.9,358.4 120.6,356.8ZM125.4,366.7 126.3,367.6 125.6,369.6 124.0,371.1 122.0,369.7 122.0,368.1 124.6,366.5ZM132.3,374.2 128.6,373.8 128.9,378.5 131.1,379.1 132.6,377.1ZM169.4,345.6 170.5,347.0 173.6,345.3 173.3,344.4 169.7,344.6ZM169.4,360.3 172.1,359.0 173.1,359.0 173.8,360.7 173.9,362.0 173.3,362.4 169.9,361.3ZM122.0,373.6 121.6,376.3 120.1,377.6 116.8,376.5 117.5,372.8 120.2,372.4 121.9,373.4ZM132.3,374.3 128.6,373.8 128.6,373.7 128.8,373.0 131.6,372.2 132.6,373.4ZM124.5,374.2 124.4,375.3 129.3,378.5 129.4,378.5 129.0,373.7 129.0,373.7 124.9,373.6ZM124.0,371.1 124.9,373.8 129.0,373.8 129.2,373.1 128.9,372.3ZM158.5,373.3 155.8,371.3 156.7,370.0 160.9,370.2ZM129.3,357.1 129.2,356.7 129.5,355.5 131.4,352.7 135.6,357.4 135.2,358.2 133.1,358.4 129.6,357.3ZM177.7,354.0 177.2,351.6 175.8,350.4 173.1,353.4 174.8,354.4ZM116.6,355.3 116.4,355.2 113.0,357.7 114.7,359.0 116.3,358.0ZM125.1,354.9 123.1,352.2 119.7,353.8 119.6,354.7 123.3,355.7ZM156.5,378.3 156.4,378.4 152.8,377.2 154.4,374.7 156.6,376.2ZM141.7,363.0 143.0,361.8 142.4,360.3 140.5,361.8ZM131.6,351.6 130.2,349.8 127.6,351.3 126.7,353.1 129.8,355.7 131.7,352.8ZM157.0,370.3 157.3,369.2 157.0,367.8 152.8,366.6 152.2,370.0 155.4,371.8 156.2,371.5ZM124.7,354.9 126.8,353.1 129.9,355.6 129.6,356.8 129.3,356.7ZM141.6,363.0 144.5,365.0 140.2,365.2 140.3,364.4ZM124.9,355.1 124.9,355.1 127.0,353.3 127.9,351.5 125.0,350.6 122.9,351.9 122.8,352.4 124.8,355.1ZM177.1,351.7 175.7,350.5 176.0,349.4 177.9,347.6 178.3,347.8 178.8,348.2 178.9,352.0ZM120.2,372.7 122.3,369.5 117.8,369.5 116.9,370.4 116.9,371.4 117.5,373.1ZM171.7,352.2 173.7,348.3 173.4,347.9 170.9,347.7 170.4,348.7 170.9,350.6ZM115.7,351.5 115.7,349.7 115.0,348.9 111.0,350.0 114.0,351.5ZM177.8,353.9 180.7,354.2 179.0,358.4 176.9,357.9 176.6,357.8ZM119.1,347.4 117.4,346.7 115.2,347.2 114.8,348.2 114.8,349.0 115.5,349.8 119.3,348.6 119.3,348.4 119.3,348.2ZM118.4,355.7 116.6,355.3 116.2,358.0 117.3,358.0 118.1,357.2ZM130.1,367.6 128.6,370.8 128.5,372.4 128.8,373.3 131.7,372.4 132.8,370.9 132.6,369.2 131.9,367.2ZM121.8,373.6 121.4,376.2 123.9,375.9 124.6,375.4 124.8,374.3ZM113.0,357.8 114.4,354.5 116.1,354.5 116.5,355.3 113.1,357.8ZM158.7,373.0 156.0,371.0 155.2,371.3 154.2,374.3 154.2,374.9 156.5,376.4 159.7,375.5 159.7,375.4 159.9,374.3ZM127.0,359.1 129.6,356.8 129.8,357.0 129.9,359.7 127.1,362.4ZM135.2,372.4 132.6,370.7 131.5,372.3 132.5,373.5 134.0,373.7ZM128.7,367.0 130.4,367.8 128.8,370.9 125.4,369.5 126.0,367.5ZM123.0,351.7 118.8,350.9 119.0,348.9 122.6,350.6ZM122.8,351.8 122.4,350.7 122.7,349.3 123.4,347.6 125.1,348.6 125.1,350.7 123.0,352.1ZM152.2,374.3 150.6,373.7 149.6,370.4 149.6,370.4 153.2,374.3ZM121.7,357.9 118.9,359.0 118.5,360.2 118.5,360.4 118.7,360.7 118.9,360.9 122.5,360.5 122.6,359.6 122.1,358.4ZM120.0,354.8 120.1,353.8 118.6,351.9 116.1,352.2 115.9,354.6 116.2,355.4 116.5,355.6 118.3,356.0 119.7,355.3ZM137.0,372.3 136.5,370.6 132.3,369.3 132.5,370.9 135.1,372.6ZM124.8,354.8 124.8,354.8 129.4,356.5 125.2,357.5 125.1,357.5 124.8,356.0ZM121.8,358.5 122.3,359.7 124.4,358.4 125.4,357.5 125.1,355.9ZM173.4,353.6 172.3,353.8 172.1,353.7 171.8,353.2 171.6,352.2 173.6,348.3 176.4,349.5 176.1,350.6Z" fill="#c8c9d4"/>
</g>
<rect x="161.6" y="362.8" width="25" height="15.5" rx="2" fill="#fff" opacity="0.42" filter="url(#sb2)"/>
<text x="183.8" y="373.2" font-size="7.5" text-anchor="end" fill="#1a1a1a" style="stroke-width:0.1px">50 μm</text>
<line x1="171.6" y1="375.8" x2="181.3" y2="375.8" stroke="#8a8a8a" stroke-width="0.8"/>
</g>
<clipPath id="c2"><rect x="190.7" y="322.1" width="78.3" height="57.7"/></clipPath>
<g clip-path="url(#c2)">
<rect x="190.7" y="322.1" width="78.3" height="57.7" filter="url(#m2)"/>
<g filter="url(#sb)"><path d="M204.5,353.4 204.6,353.2 205.9,351.5 206.7,352.5 208.1,355.7 206.6,356.1ZM217.7,358.1 217.5,359.2 218.0,359.5 218.2,358.0ZM241.4,322.5 240.1,322.2 239.3,321.1 241.1,319.8 242.4,321.8ZM206.0,332.5 206.0,332.2 206.1,331.5 206.1,331.4 208.2,330.6 208.3,330.6 209.5,331.6 209.1,333.7ZM260.7,350.8 260.8,348.4 259.5,348.5 258.9,349.8 258.8,350.2 258.8,350.8 259.5,351.0 260.5,351.0ZM242.0,324.8 241.4,326.6 241.6,327.9 243.4,327.7 243.9,326.2ZM231.2,369.8 230.9,370.0 230.5,369.5 231.6,366.2 232.0,366.4 232.3,367.4ZM247.0,321.1 246.1,318.0 244.5,316.1 244.1,317.0 243.7,321.8 243.7,321.8 247.0,321.1ZM252.9,361.2 255.3,357.8 254.0,356.0 252.6,355.9 252.3,356.2 251.7,358.5 252.5,361.1 252.8,361.3ZM262.5,348.1 262.2,348.1 262.5,349.1 264.1,350.1 264.6,350.1 264.5,349.4 263.9,348.6ZM249.7,379.9 248.3,380.8 248.4,381.0 249.2,381.8 250.2,381.2 250.4,380.7ZM222.2,373.0 221.0,373.5 217.6,371.6 219.3,369.5 220.3,370.0ZM223.8,381.2 223.7,380.3 225.1,379.7 226.9,381.3 226.8,381.8 225.2,382.5ZM265.1,323.4 265.1,321.5 262.9,321.8 262.5,322.4 262.5,322.4 264.8,323.5ZM195.8,328.8 195.2,330.0 195.1,330.6 195.4,332.0 197.0,332.9 198.0,332.2 198.6,331.2 196.9,328.9ZM271.4,345.6 270.6,345.9 270.6,346.8 271.8,347.5 272.9,347.2 273.5,346.6 273.1,346.3ZM231.2,344.1 232.0,343.2 232.4,342.3 232.4,340.9 229.6,342.3 229.5,343.8 230.0,344.2ZM213.9,356.8 216.4,357.7 217.2,357.1 218.1,355.3 215.4,354.1 213.4,355.6ZM236.3,380.2 236.3,380.2 236.7,380.4 238.5,379.6 239.1,378.8 239.0,378.7 236.4,378.9 236.1,379.6ZM246.3,381.9 247.6,381.3 247.6,380.9 246.7,379.2 245.8,379.8 245.7,381.8ZM245.3,326.0 244.4,326.4 244.0,327.8 245.2,329.2 246.4,328.8 247.5,328.1 247.6,327.9 245.9,326.2ZM266.7,353.8 265.2,355.2 268.5,357.9 269.0,354.5ZM250.5,332.8 251.4,329.6 251.3,329.3 249.3,327.6 248.1,328.0 248.0,328.2 249.1,333.2ZM258.7,356.4 259.6,356.8 261.2,356.4 261.5,356.0 259.8,355.5 258.7,356.4ZM210.7,319.6 211.3,320.0 210.5,321.8 210.5,321.8 209.1,321.4 208.9,320.8 209.2,319.7ZM194.0,371.0 193.5,372.7 191.2,373.1 190.1,372.3 189.9,371.9 191.2,370.5ZM221.8,324.6 221.7,324.6 220.3,325.8 220.4,326.4 223.2,327.8 223.8,326.9 223.9,326.6 222.6,325.1ZM212.3,368.6 212.4,369.2 211.9,372.2 210.1,372.2 209.4,370.9 210.7,367.9 211.4,367.9ZM250.2,339.4 250.6,338.5 249.0,338.2 248.4,339.0 250.2,339.4ZM215.1,319.5 214.0,322.6 212.6,324.1 210.6,322.8 211.9,319.7 213.4,319.4ZM203.9,344.6 202.9,345.5 202.6,345.4 202.3,344.0ZM240.1,328.6 240.9,327.7 240.7,326.7 239.4,326.3 238.8,328.0 238.9,328.3ZM189.9,378.8 187.6,378.1 187.5,376.4 188.4,375.7 190.0,378.4ZM229.8,351.1 229.1,350.1 226.7,350.7 224.8,351.9 225.6,353.2 229.5,352.2ZM241.7,358.7 241.2,358.3 240.8,357.4 242.2,355.4 244.5,356.2 244.1,357.3 241.8,358.6ZM237.4,357.5 234.5,358.1 233.0,359.0 234.1,362.0 234.5,362.2 236.8,361.1ZM268.6,350.5 269.5,353.1 271.1,351.6 271.2,351.4 269.2,350.4 268.8,350.3ZM220.1,356.1 222.3,354.7 222.6,354.7 224.7,356.3 224.7,356.4 222.1,358.7 221.2,358.8 220.3,356.8ZM243.1,321.6 243.4,317.4 241.9,318.7 241.3,319.7 242.6,321.8ZM242.8,349.8 241.8,351.5 241.1,352.2 239.7,351.6 237.4,347.8 237.6,346.6 237.8,346.3 239.0,345.1 239.5,344.8 242.1,347.6ZM247.1,341.8 247.4,340.1 247.2,339.3 244.5,338.8 244.1,339.2 244.0,341.3 244.0,342.8 244.5,343.0 246.3,342.7ZM249.8,369.3 249.5,366.4 247.1,365.8 246.4,366.1 249.5,369.6ZM207.0,345.6 208.2,347.2 206.7,349.9 206.2,350.2 205.5,349.3 206.8,345.6ZM239.0,337.5 239.4,338.2 238.4,339.3 236.0,338.9 236.1,338.7 236.8,337.8ZM212.5,341.2 210.7,342.2 211.3,343.9 211.6,343.8 212.9,342.0 212.8,341.4ZM236.5,370.4 234.6,368.5 234.4,366.2 235.5,365.0 237.3,365.5 238.0,369.1ZM214.0,330.9 213.8,330.4 212.3,330.3 211.2,331.2 212.3,332.1ZM256.3,333.2 255.5,332.9 255.8,331.1 255.9,331.0 259.1,332.4 259.1,333.1ZM202.2,347.8 202.4,346.2 202.2,346.0 201.1,345.6 199.0,346.5 199.0,346.6 201.7,347.9ZM247.1,323.3 247.4,321.8 247.4,321.7 248.4,321.9 248.6,322.2 248.2,323.9 247.6,323.8ZM260.8,347.4 260.9,347.3 260.9,345.9 259.3,344.6 258.6,345.3 259.4,347.6ZM260.8,327.1 262.7,328.8 263.3,326.8 263.1,326.5 261.6,325.9 260.6,326.6ZM264.5,346.4 264.7,346.0 264.9,345.9 265.2,346.1 265.6,347.5 264.9,348.7 264.4,348.1ZM204.0,323.9 203.1,324.9 203.0,325.0 203.5,325.2 205.2,325.6 206.2,323.6 205.7,323.5ZM231.1,329.3 232.8,329.6 232.5,328.6 231.4,328.3 231.3,328.5ZM257.1,372.1 258.3,372.2 258.4,372.3 258.5,376.2 257.7,376.2 255.7,373.7 256.8,372.2ZM200.6,334.9 200.2,335.7 201.8,336.8 203.1,336.6 203.3,335.8 203.1,335.6ZM259.3,337.4 255.7,338.1 256.2,340.8 258.7,342.9 260.8,340.4 261.6,338.2 260.2,337.3ZM197.6,338.7 196.6,339.5 195.9,339.3 195.8,339.1 195.2,336.2 197.0,334.2 198.0,336.0ZM259.1,336.7 255.6,337.5 255.3,337.3 254.6,335.3 254.3,334.1 255.1,333.2 256.0,333.6ZM216.4,344.0 216.2,343.7 215.3,344.8 215.5,346.4 215.8,346.3ZM222.5,343.6 221.0,346.2 223.5,346.0 223.4,344.0ZM268.8,327.0 267.5,325.7 267.1,327.4 268.0,327.4ZM222.1,384.2 223.4,381.1 225.4,382.9 223.0,385.7ZM269.8,333.2 270.4,331.5 269.5,330.4 269.1,330.4 268.0,330.6 266.6,332.9 266.7,333.5ZM254.8,373.6 249.5,371.7 248.8,372.4 248.8,374.3 251.5,376.6 254.2,375.0ZM242.8,351.8 242.3,352.2 242.4,352.4 245.0,352.4 244.9,351.6ZM204.4,321.0 204.3,320.9 204.6,319.9 204.7,319.7 204.9,319.6 205.8,320.5 204.8,321.3ZM256.9,320.5 257.3,321.0 258.1,320.7 259.0,318.5 258.4,318.2 258.0,318.2 256.9,320.1ZM265.9,361.5 264.7,362.2 263.7,363.6 264.4,365.0 264.5,365.2 266.8,365.7 268.3,363.7 267.7,361.4ZM268.3,376.6 268.6,376.6 269.4,377.3 268.8,380.1 268.1,380.6 266.3,379.6 266.3,377.7 268.3,376.6ZM268.0,357.5 267.9,359.4 267.7,359.6 265.8,359.7 264.2,356.1 265.4,355.4ZM199.8,338.3 201.3,337.0 200.0,336.1 198.9,336.3 198.6,338.3ZM245.5,355.2 245.0,355.3 242.3,354.3 241.6,352.5 245.1,352.5 245.5,353.3ZM222.1,383.6 221.2,383.0 220.0,381.9 219.9,381.3 220.2,380.3 220.8,379.8 223.0,380.3 223.0,381.3ZM240.2,340.1 239.6,340.6 239.1,339.8 240.0,338.8 240.6,339.1ZM206.1,377.7 208.5,375.4 208.4,374.8 207.9,374.8 205.8,377.1ZM225.5,371.9 228.6,372.6 230.3,371.1 230.4,371.0 230.3,370.6 229.9,370.0 228.7,369.3 225.5,371.1ZM215.9,331.2 217.5,329.3 215.8,328.1 215.1,329.9 215.3,330.3ZM233.7,374.2 234.2,372.3 231.5,371.7 231.5,371.8 232.6,374.3ZM199.1,373.3 201.7,371.3 201.2,370.6 199.9,370.4 198.5,371.5 199.1,373.2ZM268.1,370.7 269.3,370.9 269.7,372.3 268.5,374.3 268.2,374.3 267.7,371.6ZM242.5,375.3 241.3,374.5 240.7,374.8 239.9,376.0 240.5,377.6 240.6,377.7 240.7,377.8 240.9,377.7ZM189.4,333.5 189.8,336.1 187.9,336.6 186.0,335.0 187.7,333.3 189.3,333.3ZM210.4,354.5 210.3,353.3 209.9,352.5 207.5,352.3 208.7,355.1 209.2,355.2ZM222.6,350.4 220.7,349.9 220.2,349.0 220.5,347.4 220.6,347.4 223.8,347.2 224.2,347.4 224.1,348.5ZM188.9,323.7 188.0,325.7 188.2,326.7 189.3,326.7 191.2,325.5 191.0,324.6 189.9,322.8ZM197.1,322.2 195.9,322.7 194.8,322.0 194.0,320.9 194.8,320.3 196.4,320.2 197.4,321.7ZM191.6,352.3 192.7,350.1 194.6,350.1 192.3,352.6ZM239.1,343.6 238.8,341.2 238.2,340.3 235.7,339.8 235.5,339.9 238.6,343.9 239.0,343.7ZM196.0,354.2 197.8,355.1 195.9,356.4 195.2,355.8 195.3,354.0 195.4,354.0ZM250.7,342.7 250.5,343.4 250.1,343.6 248.8,342.2 249.2,342.1 250.6,342.6ZM194.6,327.2 191.9,326.1 189.5,327.6 190.0,328.4 193.1,329.3 194.1,329.4 194.9,327.8ZM218.3,358.0 218.1,359.5 219.1,360.2 220.1,358.8 219.4,357.4ZM256.9,343.8 256.8,343.8 254.7,342.9 254.7,342.9 254.5,342.4 255.8,341.5 257.5,343.0 257.5,343.1ZM256.9,360.3 256.8,358.3 257.9,359.2 257.6,360.1ZM223.0,342.6 223.7,343.0 224.9,342.2 225.1,341.3 222.8,341.3 222.8,342.2 222.9,342.6ZM229.1,365.9 229.0,363.5 230.0,363.2 230.7,363.6 231.1,365.7 229.3,366.1ZM219.4,364.5 219.3,364.9 219.7,365.7 221.9,365.9 223.8,364.9 225.1,363.4 220.1,363.2ZM224.8,331.7 227.6,333.2 226.0,335.1 224.6,332.3ZM232.0,366.1 234.5,366.2 235.6,365.1 234.5,362.1 234.2,361.9 231.0,363.1 231.4,365.9 231.4,365.9ZM190.8,344.9 192.7,345.0 191.1,346.5ZM223.2,378.9 224.3,378.4 224.4,378.0 222.8,377.0 221.6,377.7 221.6,378.5ZM269.6,341.2 269.6,342.7 269.3,343.2 268.7,342.5ZM267.4,370.2 266.9,371.2 266.0,372.1 264.5,370.7 264.6,370.3 264.9,370.1 267.1,370.0ZM208.4,347.4 209.1,347.8 209.1,349.5 206.9,350.0ZM194.9,373.5 194.7,373.0 195.1,371.5 195.6,371.2 196.8,372.2 197.4,373.7ZM245.5,379.3 244.2,379.4 243.7,378.2 245.2,376.6 246.7,377.0 246.8,377.9 246.5,378.7ZM251.8,355.9 249.6,355.7 250.6,354.0 250.9,354.0 251.8,355.2 252.0,355.7ZM193.0,356.0 191.4,357.8 194.9,359.0 195.4,357.0 194.7,356.4ZM252.5,318.9 254.8,318.5 255.7,319.1 256.0,320.3 256.0,320.7 253.1,320.1ZM191.1,321.5 191.3,321.4 192.5,321.2 193.4,321.6 194.0,322.4 192.0,324.0 191.0,322.3ZM263.1,330.2 263.9,330.6 265.9,328.2 264.1,326.9 263.8,326.8 263.1,329.1ZM198.0,375.3 197.8,374.4 197.8,374.4 194.7,374.2 194.2,375.9 196.5,376.5 197.6,376.0ZM244.0,374.6 246.3,372.7 247.8,373.1 247.8,374.4 246.6,376.1 245.4,375.8 244.1,374.9ZM269.1,354.4 273.3,355.4 275.9,357.7 271.4,359.8 268.3,360.2 268.4,357.9 268.9,354.5ZM254.2,350.7 256.7,352.0 256.2,352.8 255.2,353.2 254.3,353.0 253.1,352.3 253.4,351.2ZM249.0,322.0 248.5,324.2 249.9,325.6 251.6,324.2 249.1,322.0ZM254.1,382.2 253.8,382.5 252.8,382.6 251.4,381.5 251.5,381.1 252.5,380.4 254.1,382.0ZM190.9,339.9 190.5,337.3 190.1,337.2 188.2,337.8 188.4,339.0ZM234.5,374.5 235.1,372.5 235.9,372.0 236.5,375.3 235.8,375.6 235.6,375.5ZM205.7,330.5 207.8,329.7 207.2,327.4 206.0,327.2 205.4,328.6ZM251.7,343.0 251.5,343.6 252.2,344.2 253.8,343.2 253.6,342.6 253.0,342.3ZM219.0,343.0 218.1,341.5 217.5,341.4 216.4,343.2 216.5,343.5 216.7,343.8 218.7,345.9 219.2,346.0 219.2,343.9ZM217.8,345.9 216.0,346.0 216.4,344.4ZM191.5,352.4 190.9,352.2 190.4,351.8 190.4,351.8 191.3,349.9 192.6,350.0ZM252.1,325.4 252.1,325.4 252.9,325.7 253.3,326.8 251.6,328.5 250.5,327.5 250.9,326.4ZM248.8,369.9 248.6,370.6 248.1,370.9 246.9,370.6 244.7,368.5 244.9,367.8 245.9,366.8 246.1,366.8ZM245.1,351.4 245.2,352.5 245.6,353.2 247.4,350.0ZM226.6,362.4 226.5,361.6 227.2,360.1 229.4,359.8 229.6,362.2 228.7,362.4 226.7,362.4ZM267.3,325.0 267.3,325.1 266.7,327.7 266.3,328.2 266.1,328.2 264.1,326.7ZM190.6,368.6 190.6,369.8 194.7,370.6 195.6,370.0 196.2,367.0 192.4,366.7ZM268.0,350.8 266.2,351.3 266.2,351.9 267.0,353.3 268.5,353.8 268.6,353.7 268.8,353.2ZM226.0,367.0 224.6,368.1 224.4,367.8 224.2,365.3 225.4,363.9 225.5,363.9 225.6,363.9 226.0,365.5ZM200.8,334.4 201.1,334.2 202.6,335.0 202.9,335.4 200.8,334.8ZM246.7,383.0 246.6,382.3 247.7,381.8 248.6,382.6 248.5,382.7 247.3,383.4ZM220.5,377.7 220.6,377.9 222.5,376.7 224.0,374.3 220.6,376.5ZM228.7,343.6 227.3,343.6 226.7,342.5 226.8,341.6 227.1,341.3 228.8,342.3ZM199.8,339.8 201.4,341.0 201.4,341.4 201.0,341.9 198.5,342.0 197.9,340.4 198.6,339.8ZM213.0,369.5 212.7,371.7 213.7,372.1 215.4,371.2 215.6,371.0 215.2,370.6ZM227.9,356.9 225.9,357.0 226.8,359.4 229.6,359.1 230.1,358.4ZM225.0,373.7 225.1,374.1 225.7,375.0 228.2,374.9 228.1,373.4 225.8,372.9ZM259.1,352.7 259.6,355.2 258.5,356.1 257.8,356.0 257.3,353.6 257.8,352.8 258.2,352.5ZM229.0,366.0 226.4,365.3 226.4,367.2 228.4,368.2 229.3,366.3ZM264.1,344.7 261.4,341.0 259.4,343.4 259.4,343.5 261.5,345.2ZM228.7,331.1 228.1,332.7 227.6,332.9 225.1,331.5 225.1,331.5 227.8,330.8ZM261.0,335.6 262.1,336.2 263.4,335.9 264.5,334.0 264.4,333.4 263.2,331.6 262.6,331.3 262.1,331.4 260.5,332.4 260.4,332.5 260.4,333.1ZM201.0,334.1 201.7,332.6 203.0,335.1ZM202.0,366.7 199.2,365.8 199.0,365.7 202.3,363.3 203.2,362.9 203.3,362.9 203.4,363.9 202.9,366.3ZM264.7,377.6 264.2,377.3 261.5,377.1 260.5,377.8 260.4,378.7 262.0,380.8 263.6,380.7 264.7,379.8ZM211.7,344.8 211.6,344.9 211.9,346.3 212.5,346.5 213.7,346.6 213.4,344.9 213.4,344.9 212.0,344.7ZM249.3,321.9 252.1,321.4 251.8,324.0 251.8,324.0ZM193.6,375.8 192.4,376.4 191.1,373.7 193.7,373.3 194.1,374.0ZM212.4,340.9 212.0,340.2 209.3,340.8 209.9,341.5 210.5,341.9ZM238.2,362.3 238.6,362.9 238.6,364.1 237.2,364.8 236.0,364.5 235.3,362.5 236.9,361.7ZM222.6,350.7 224.3,348.3 224.8,349.6 223.8,351.7ZM203.2,355.9 203.3,359.3 203.7,359.7 205.2,357.1ZM271.0,344.6 270.0,344.9 269.9,344.8 269.9,344.2 272.3,341.7 272.8,342.2 272.1,343.5ZM234.3,322.7 235.1,325.3 234.8,325.8 232.9,325.3ZM194.1,376.9 193.2,377.4 192.4,379.0 192.3,379.4 193.0,380.9 193.3,381.3 194.6,380.8 196.1,377.4ZM267.3,324.4 267.5,324.3 268.5,322.7 268.1,320.7 266.9,320.0 265.7,321.1 265.7,323.6ZM269.7,341.1 269.7,342.8 271.3,341.0 270.9,340.3 270.1,340.4ZM243.3,374.2 246.1,371.9 243.2,369.1 242.7,369.5 241.6,373.3 243.2,374.2ZM209.9,367.9 209.2,367.3 208.3,367.3 208.1,367.4 206.9,368.7 206.9,369.4 209.0,370.4ZM269.1,360.8 271.5,360.5 272.6,363.2 271.2,365.0 271.1,364.9 269.6,363.3 268.9,361.0ZM234.1,322.7 234.1,322.3 230.5,321.6 230.2,322.1 230.2,322.8 231.7,325.1 232.8,325.1ZM231.8,340.3 231.9,340.1 230.4,338.8 227.8,339.1 227.6,339.4 227.4,340.4 229.3,341.6ZM252.2,361.6 252.4,363.9 252.3,364.1 249.9,365.3 246.9,364.6 248.7,361.4 252.0,361.5ZM237.9,328.9 237.7,328.5 237.4,328.2 235.3,326.9 234.7,328.4 235.0,330.4 236.3,330.5ZM242.2,360.5 241.9,359.4 242.0,359.4 243.8,359.7 244.1,360.1 243.5,361.5ZM199.7,378.7 199.1,377.0 199.4,376.3 199.8,376.4 201.4,378.0 201.4,378.4ZM244.9,324.0 243.6,322.6 243.6,322.6 243.1,322.8 242.1,323.5 242.4,324.5 244.1,325.8 245.0,325.4ZM269.8,325.6 268.2,325.0 268.0,325.1 267.9,325.4 268.0,325.4 269.1,326.6 269.6,326.6 270.0,325.6ZM240.6,353.0 241.2,354.6 239.7,356.8 237.7,356.8 237.6,356.5 238.1,353.3 239.5,352.3 240.5,352.7ZM244.7,348.1 243.0,349.0 242.6,347.8 244.4,347.5ZM214.8,327.3 214.7,327.1 212.9,326.1 211.5,327.4 212.3,329.5 213.9,329.6ZM189.2,365.1 190.8,364.6 191.2,364.7 191.8,366.5 190.7,367.6 189.0,365.5ZM252.8,352.7 251.1,353.3 252.4,355.0 254.1,353.4ZM250.8,341.2 251.2,342.3 251.3,342.5 252.8,341.7 252.6,340.6 251.7,340.6ZM209.3,342.1 208.8,341.5 208.3,341.1 207.7,341.0 207.6,341.0 207.6,341.1 207.0,343.8 207.4,344.2 207.6,344.2 208.3,344.0ZM233.1,333.2 231.1,335.5 229.7,334.5 228.5,332.9 229.2,330.8 229.8,330.6 233.0,332.8ZM253.4,340.6 253.8,339.4 254.8,339.0 255.0,339.0 255.3,340.8 254.0,341.6 253.5,341.4ZM214.0,344.4 215.0,344.5 215.6,343.8 215.5,343.5 214.5,343.5 214.0,344.4ZM231.6,370.2 231.4,370.4 231.4,370.8 234.5,371.4 235.5,370.9 235.8,370.7 235.8,370.3 234.4,368.8 233.3,369.1ZM216.0,376.5 217.3,374.5 216.6,373.0 214.6,374.0 214.6,374.3ZM196.2,334.2 194.8,335.6 193.5,335.1 193.5,334.4 194.7,333.4 196.2,334.2ZM194.5,325.9 192.4,325.1 192.2,324.3 194.3,322.8 195.1,323.4ZM201.3,327.4 200.2,330.6 200.6,330.7 202.2,329.8 202.2,328.8ZM223.8,368.8 223.8,368.4 223.7,368.2 221.9,366.8 220.1,366.6 220.1,367.8 220.1,368.7 220.9,369.1ZM237.9,327.6 238.0,325.0 238.6,324.6 239.0,326.0 238.2,327.9ZM220.1,331.0 222.6,329.5 222.6,329.3 219.9,328.6 219.3,329.3ZM233.4,355.1 231.6,355.3 232.7,356.2 233.2,355.5ZM202.9,334.8 201.9,332.8 201.9,332.8 204.8,332.4 204.9,332.7 204.4,334.7 203.6,335.4 203.4,335.3ZM258.8,379.1 259.4,378.6 259.5,377.6 258.5,377.0 257.6,376.9 255.8,378.1 256.2,379.1ZM272.1,341.6 271.7,341.0 269.9,343.0 269.6,343.6 269.7,344.0ZM234.4,355.4 234.5,355.3 236.3,356.9 236.4,357.2 236.4,357.2 234.6,357.7 234.1,355.9ZM248.5,337.6 248.3,335.1 247.8,334.1 243.9,334.2 244.0,338.4 247.5,339.0 247.6,338.9ZM261.4,351.1 263.9,350.3 262.4,349.3ZM241.8,367.0 241.6,367.8 241.2,368.1 238.4,368.3 237.9,366.0 239.2,365.3ZM245.4,348.9 246.9,349.7 246.6,349.9 244.9,351.0 242.7,351.1 243.3,350.0ZM202.3,354.2 200.6,354.5 200.4,354.3 200.3,353.3 201.1,352.4 201.4,352.1 203.4,353.0 203.4,353.2ZM183.5,348.8 181.3,348.5 171.8,350.7 185.3,353.3 189.3,351.7 189.3,351.6 189.2,351.6ZM266.8,325.1 264.4,326.4 264.1,326.3 263.8,325.9 265.2,324.3 265.5,324.1 266.9,324.9ZM254.3,360.5 256.2,360.5 256.6,360.1 256.6,358.6 256.4,358.4 255.7,358.5ZM190.8,341.2 188.8,342.5 187.2,342.3 188.2,340.0 190.4,340.8ZM204.8,321.5 206.1,320.5 207.7,321.1 207.8,321.9 206.9,322.8 206.6,322.9 205.9,322.8ZM233.5,380.9 235.1,380.8 235.1,380.9 233.1,383.3 232.0,381.3ZM214.1,378.7 215.5,377.5 215.3,377.0 213.8,374.6 212.6,376.8ZM263.2,356.7 262.6,356.4 262.2,356.6 261.9,357.0 261.5,358.5 263.5,360.3 264.5,359.6ZM270.6,365.5 267.6,367.0 267.2,366.1 268.9,363.7ZM250.8,339.6 251.4,338.3 251.4,338.3 253.2,338.7 252.7,340.5 251.7,340.5ZM258.5,380.5 258.5,382.8 257.3,383.1 255.4,382.6 255.4,382.2 255.9,381.2ZM264.0,345.8 264.3,345.2 264.2,345.2 261.6,345.6 261.6,347.5 262.1,347.7 262.4,347.6ZM253.9,350.3 253.2,350.7 251.1,349.0 252.4,348.4 253.8,349.7ZM192.7,329.6 193.4,329.7 193.3,330.2 192.1,330.6 190.8,330.7 190.7,329.9ZM197.9,351.1 199.2,352.4 199.9,351.5 197.8,348.5 197.5,348.7 197.0,350.1ZM220.7,362.3 224.6,362.5 224.7,362.5 224.6,361.7 222.3,359.9 221.7,360.0 220.7,361.3ZM212.2,347.1 212.6,349.8 211.3,349.6 211.4,347.0 211.5,346.9ZM253.8,343.4 252.3,344.3 253.3,345.6 253.9,343.4ZM202.3,381.4 201.5,378.5 199.5,378.9 199.8,381.7 201.9,381.8ZM218.0,355.4 215.4,354.2 215.5,353.4 215.8,352.4 219.5,352.5 218.5,355.4ZM257.2,326.2 256.2,324.4 254.2,325.3 254.6,326.3 255.9,327.6 256.7,327.0ZM224.1,328.4 223.8,329.3 223.8,329.5 224.7,331.1 227.8,330.3 227.0,328.7 224.8,327.4ZM202.9,326.0 204.1,328.2 202.6,328.5 201.7,327.0 201.5,326.1 202.4,325.8ZM222.9,328.1 222.6,328.7 220.1,328.0 220.3,326.8ZM201.1,349.4 198.1,348.1 197.9,348.2 200.2,351.4 200.6,351.1ZM224.1,343.8 224.3,346.2 224.7,346.4 225.7,346.3 226.5,344.2 225.6,342.9ZM247.6,320.5 246.9,318.3 249.7,319.2 248.5,320.6ZM222.0,343.3 220.4,345.8 220.3,345.9 220.0,345.5 220.0,343.9 221.9,343.2ZM203.9,322.0 203.8,323.4 205.5,322.9 204.6,321.9 204.1,321.6ZM225.0,327.2 227.1,328.5 228.3,327.5 226.9,325.5 225.1,326.7ZM240.5,340.3 242.9,341.2 243.1,339.2 241.0,338.9ZM196.3,317.0 196.6,317.5 196.3,319.9 194.9,320.0ZM251.0,336.0 248.6,335.1 248.2,334.3 248.5,333.9 249.3,333.4 250.4,333.1 252.0,334.1ZM257.1,349.9 255.5,348.7 255.4,347.3 255.7,347.2 257.2,349.5ZM265.5,338.6 270.2,339.5 271.6,339.3 272.7,336.6 270.4,334.0 265.7,334.5 264.0,337.4 264.9,338.2ZM205.6,332.8 209.2,334.2 209.5,335.1 208.0,336.2 205.1,334.9ZM257.8,360.1 259.1,361.1 259.2,359.4 258.9,359.3 258.1,359.3ZM215.4,320.2 215.2,320.3 214.4,322.5 216.9,323.4 217.4,321.6ZM188.5,364.0 187.4,361.5 189.8,358.8 189.9,358.8 190.0,359.2 190.6,363.3ZM264.3,330.8 265.7,332.8 267.4,330.1 266.2,328.6 266.1,328.6ZM258.1,380.3 256.3,380.8 256.5,379.7 258.4,379.6ZM270.2,322.7 272.1,321.4 271.1,320.7 269.0,321.0 269.3,322.5 269.5,322.6ZM209.8,375.1 209.6,374.5 210.4,373.6 211.7,373.6 212.8,374.2 212.8,374.4 211.8,376.3 210.5,376.7 210.2,376.5ZM197.2,342.5 196.9,346.1 196.9,346.2 196.6,346.4 196.2,346.6 196.0,346.6 193.5,344.6 193.0,341.6 194.0,341.0 195.7,340.4 196.4,340.5ZM269.1,327.4 268.2,327.8 269.1,329.3 269.6,329.3 269.9,328.1 269.6,327.4ZM250.8,369.3 252.2,368.6 252.8,367.5 252.5,365.2 250.5,366.3ZM260.5,352.9 261.8,354.3 261.9,355.2 261.5,355.5 259.9,355.1 259.5,352.9ZM266.3,339.2 269.7,339.9 269.3,340.7 268.2,342.4 267.5,342.1ZM257.2,351.1 256.8,351.4 254.5,350.2 254.4,349.6 255.2,349.0 257.2,350.4ZM208.7,326.4 208.5,326.4 207.6,327.2 208.3,329.7 208.4,329.7 210.7,327.2 209.7,326.8ZM251.4,359.9 249.1,359.8 248.6,359.1 248.5,357.3 249.0,357.1 251.0,358.5ZM248.7,342.5 248.0,342.4 247.3,343.2 249.0,344.4 249.8,343.6ZM228.9,324.0 227.5,325.7 228.5,327.2 229.9,327.5 230.0,327.4 230.3,326.0ZM227.9,368.5 228.3,369.0 225.7,370.5 225.2,369.1 225.3,368.8 226.5,367.8ZM246.6,323.2 246.9,321.5 243.9,322.2 245.3,323.6ZM205.0,376.4 205.4,376.7 207.4,374.4 206.1,374.0 204.7,375.8ZM242.9,376.8 243.2,378.0 241.6,378.0ZM264.1,346.3 263.9,348.1 262.8,347.7ZM267.0,368.5 266.8,367.2 266.5,366.6 264.7,366.2 264.9,368.5ZM213.8,341.4 215.6,340.6 216.1,340.9 216.4,341.3 215.6,342.6 214.6,342.5 213.8,341.9ZM190.1,344.3 189.6,343.7 191.6,342.3 192.0,342.3 192.3,344.4 192.3,344.5 190.8,344.4ZM235.8,322.0 235.0,322.3 235.0,322.7 235.7,325.0 236.6,324.4ZM191.3,362.8 190.8,359.7 192.5,361.8 191.7,362.8 191.6,362.9ZM207.3,316.0 204.7,319.1 206.2,320.4 208.1,321.0 208.5,319.3ZM198.9,361.4 197.3,362.6 196.6,360.6 196.6,360.4 198.7,360.0ZM203.5,355.5 205.4,356.6 206.0,356.2 204.2,353.9 203.1,355.1ZM223.6,372.6 224.4,371.7 224.4,371.0 223.9,369.6 221.0,369.9 222.6,372.4ZM237.3,370.6 238.3,369.7 241.5,369.5 240.6,372.8 239.9,373.1 237.2,371.0ZM234.1,330.2 233.0,329.5 232.7,328.6 233.9,328.6 234.1,330.2ZM198.9,321.3 199.4,320.4 201.0,320.0 201.3,320.4 201.5,320.7 201.5,321.6 200.4,322.2ZM259.8,325.5 260.8,324.8 260.9,322.7 260.9,322.7 258.6,322.3 257.7,322.5 257.5,323.5 258.7,325.6ZM202.5,380.9 203.1,380.6 204.8,379.4 204.8,378.9 204.6,378.4 204.3,377.8 204.0,377.5 202.0,378.1 201.9,378.5ZM194.5,349.2 195.0,347.7 194.8,347.7 191.0,348.1 191.5,349.2 192.6,349.3 194.3,349.3 194.5,349.2ZM203.6,375.0 205.2,372.9 205.8,373.6 204.3,375.6ZM241.4,360.8 241.0,359.5 240.6,359.2 239.1,361.6 239.6,362.3 240.0,362.1ZM252.9,378.3 254.9,377.8 254.0,375.4 251.9,376.6 252.0,377.3ZM214.6,357.3 216.2,357.8 216.4,359.1 216.0,359.2 214.7,359.0ZM225.8,322.4 227.5,322.3 227.5,322.8 226.1,324.6 224.8,325.5 223.6,324.2ZM259.7,357.1 260.1,358.6 260.9,358.5 261.3,356.8ZM259.2,331.5 259.2,331.5 258.8,329.8 257.8,328.8 257.0,329.3 256.5,330.4ZM249.2,321.7 249.0,321.3 250.5,319.5 251.5,319.1 251.6,319.3 252.3,320.5 252.1,321.3 249.3,321.7ZM214.4,349.7 215.9,351.7 218.0,349.5 214.9,348.7ZM250.3,344.0 248.9,345.2 249.2,348.8 250.2,348.7 252.1,347.8 253.4,346.4 253.4,346.4 251.9,344.4 251.0,343.6ZM241.7,358.9 244.1,359.2 244.3,357.4ZM204.0,338.6 206.5,340.1 206.4,340.2 203.0,341.5 202.5,341.3 202.4,340.8ZM222.5,322.9 223.1,320.5 225.0,321.5ZM203.3,326.3 204.9,326.6 205.3,327.1 204.8,328.2 204.2,328.0ZM268.4,368.8 269.9,369.0 271.4,367.4 270.5,365.9 270.4,365.8 267.8,367.0 268.1,368.6ZM239.6,382.8 241.6,381.6 241.6,381.2 240.2,379.5 240.0,379.5 239.4,380.3ZM232.6,345.9 233.8,345.6 232.7,344.1 232.1,344.8ZM270.0,377.2 270.7,377.4 271.0,377.6 272.2,379.4 271.5,380.3 269.3,380.4ZM269.5,350.0 271.3,349.5 271.6,350.6 271.3,350.9ZM255.4,346.1 257.2,344.6 254.3,343.3 253.5,346.1 253.6,346.1 255.0,346.2ZM212.5,380.9 211.3,382.3 209.4,381.4 210.5,380.5ZM201.9,324.1 201.8,324.3 201.2,324.6 201.2,324.6 200.7,322.4 201.5,322.0 201.7,322.3ZM251.0,337.6 251.0,337.6 250.9,336.6 250.8,336.3 248.7,335.5 248.9,337.3ZM231.9,359.2 232.6,359.6 233.3,361.6 231.2,362.4 230.6,362.1 230.4,359.7 230.8,359.2 231.0,359.1ZM188.0,366.1 187.3,366.5 187.3,369.4 187.9,370.6 188.6,370.7 189.9,369.3 189.9,368.5ZM210.7,346.5 210.7,346.6 209.4,347.1 208.8,346.8 207.8,345.5 208.6,345.3 210.5,345.2ZM214.3,367.9 214.6,368.3 219.1,367.7 219.1,365.9 218.7,365.0 217.6,365.2 214.4,367.8ZM251.4,336.5 254.0,335.5 253.7,334.3 252.2,334.2 251.3,336.1ZM195.0,336.1 192.7,335.2 192.1,336.0 195.8,339.7ZM198.0,370.7 196.7,369.8 197.0,367.9 197.7,367.2 198.2,367.2 198.3,367.4 199.2,369.7ZM218.2,328.7 218.6,328.7 219.3,328.0 219.5,326.5 219.4,325.9 217.6,325.5 216.1,326.8 216.1,327.1ZM213.6,347.5 213.9,347.6 214.0,348.4 213.7,349.2 212.8,349.5 212.7,349.4 212.4,347.4ZM216.3,376.5 217.5,374.8 217.8,375.2 217.8,375.7 216.5,376.9 216.5,376.9ZM210.3,349.7 209.6,349.4 209.6,347.8 211.1,347.2 211.0,349.4ZM264.2,371.1 263.5,372.3 264.4,373.3 265.7,372.7 265.7,372.5ZM196.1,354.0 197.2,351.3 195.7,349.5 195.6,349.6 195.3,353.7ZM232.8,326.3 231.9,326.3 231.6,327.7 232.7,328.0 233.9,328.1 234.4,326.8 234.4,326.7ZM189.9,329.9 190.0,330.8 189.3,331.9 187.6,331.9 187.4,328.9 188.1,328.2 189.2,328.3 189.6,328.9ZM255.0,346.9 253.6,346.8 252.5,347.9 254.2,349.4 255.0,348.7ZM222.6,340.5 221.7,339.3 221.8,338.9 225.9,339.0 225.7,340.1 225.4,340.5ZM189.7,352.8 185.8,354.3 189.2,356.3 190.1,353.1ZM195.1,339.2 195.1,339.3 193.7,339.9 191.9,336.8 192.4,336.4ZM206.3,373.2 207.8,373.6 208.4,373.6 209.2,372.5 208.6,371.4 206.3,370.2 205.2,371.4 205.7,372.5ZM183.3,347.2 180.9,346.9 186.6,344.0 188.6,344.2 189.2,345.0 189.5,347.2 187.6,347.7ZM240.2,362.7 239.7,362.9 239.7,364.2 242.9,366.3 244.3,364.9 243.4,363.0ZM206.8,323.9 207.1,323.8 208.0,325.9 207.3,326.6 206.2,326.4 205.8,325.9ZM251.1,370.5 252.7,369.8 255.7,371.5 254.7,372.9 254.4,373.0 250.5,371.7 250.8,370.8ZM231.4,375.3 231.9,374.7 230.7,371.9 229.2,373.2 229.3,374.9 229.9,375.9 230.1,376.1ZM241.2,378.2 243.4,378.1 243.6,378.2 244.2,379.6 242.4,381.2 240.2,378.6 240.4,378.5ZM267.6,349.5 266.0,350.0 265.7,349.7 265.6,349.1 266.3,347.9 267.9,348.5 267.7,349.4ZM245.5,381.8 245.5,379.7 244.2,379.8 242.8,381.1 242.8,381.8 243.7,382.6ZM257.3,358.1 257.1,357.8 257.7,356.9 258.3,357.1 258.3,357.1 258.8,358.7 258.1,358.8ZM222.6,350.6 220.2,350.1 220.1,351.7 222.3,354.4 222.7,354.4 223.8,351.8 223.8,351.7ZM200.8,326.6 200.8,326.6 200.3,326.7 197.8,328.1 199.6,330.5 199.9,330.4 201.0,327.4ZM233.0,343.7 233.3,342.8 236.7,345.8 236.6,346.0 234.2,345.4ZM215.2,348.3 217.9,348.9 218.7,348.6 218.9,347.3 218.6,346.9 218.2,346.8 215.9,346.9 215.7,346.9 215.0,347.4ZM270.8,325.9 270.4,327.0 270.7,327.7 282.5,326.1 282.8,326.0 277.8,324.9 271.4,325.5ZM213.4,355.1 215.0,353.9 215.1,353.2 212.8,351.7 211.4,353.3 211.5,354.8ZM221.0,376.2 221.0,375.0 221.4,374.4 222.3,374.0 223.3,374.1 223.4,374.5 223.2,374.7ZM258.9,380.7 258.9,382.4 260.0,382.7 261.2,381.2 259.8,379.5 259.3,379.9ZM237.6,353.3 237.1,356.3 235.0,354.5 235.1,353.6ZM230.4,337.3 227.4,337.6 226.7,336.1 229.4,334.7 230.5,335.5ZM249.8,379.6 248.0,380.8 247.1,378.9 247.4,378.1 249.6,379.0ZM194.9,361.1 193.2,362.2 192.3,363.4 195.8,363.9 195.8,363.3ZM220.0,350.4 219.3,349.4 218.4,349.8 216.3,352.1 216.2,352.4 219.3,352.5 219.9,351.8ZM242.1,332.8 243.2,333.0 244.9,329.6 243.5,328.1 241.6,328.4 240.6,329.5ZM268.0,327.9 267.0,327.9 266.6,328.3 267.8,329.8 269.0,329.5ZM218.2,374.1 217.5,372.6 217.6,372.4 217.8,372.3 220.5,373.8 220.2,374.5 218.6,374.5ZM268.6,381.6 268.9,383.1 272.1,383.9 271.5,380.9 269.4,381.0ZM213.2,342.1 214.2,343.1 213.5,344.4 211.9,344.1ZM210.8,326.7 210.8,326.7 209.9,326.3 210.2,323.8 210.5,323.3 210.5,323.3 212.1,324.3 212.4,325.3ZM190.4,332.5 191.6,332.9 192.1,331.3 190.9,331.4 190.3,332.3ZM203.3,321.6 202.2,321.9 202.0,321.6 202.0,320.8 203.5,321.2 203.5,321.3ZM231.4,369.6 232.9,368.6 232.3,367.5ZM260.1,359.1 259.7,359.4 259.6,361.2 260.1,363.1 262.4,362.8 263.6,361.2 261.0,359.0ZM189.8,333.2 190.3,336.2 190.7,336.3 191.4,336.1 191.9,335.7 192.3,335.1 192.4,334.2 191.4,333.7ZM228.4,333.5 229.2,334.6 226.8,335.8 226.7,335.6 226.8,335.2 228.0,333.7ZM198.9,379.0 198.2,376.9 197.0,377.4 195.1,381.8 198.9,381.9 199.3,381.7ZM244.0,362.1 244.8,360.2 247.3,359.9 248.0,360.9 246.2,364.3 245.4,364.6 245.1,364.7 244.2,362.7ZM197.6,321.4 196.7,320.0 197.0,317.5 197.9,318.4 198.8,320.1 198.3,320.9ZM255.3,330.6 251.3,329.6 251.2,329.3 253.9,326.6 256.2,328.7 255.5,330.5ZM200.2,374.9 199.8,374.8 199.6,374.0 202.2,372.0 202.5,372.1 202.5,374.6ZM262.5,320.9 262.4,320.0 264.2,318.9 266.1,318.1 266.3,319.5 265.2,320.6ZM271.6,352.2 272.5,353.6 272.7,354.8 269.9,354.1 270.1,353.6ZM218.6,322.0 219.9,322.6 220.8,323.7 219.5,324.8 218.0,324.4 218.0,323.6 218.4,322.1ZM209.1,325.8 210.1,324.0 209.9,326.1ZM197.4,322.8 196.1,323.4 195.3,326.7 195.7,327.3 197.0,327.5 200.1,325.7ZM214.2,380.2 214.5,379.4 216.1,378.1 216.2,378.1 219.1,379.8 218.8,381.0 214.9,381.2 214.2,380.5ZM192.7,329.4 190.3,328.7 190.7,329.7ZM218.6,382.1 217.2,383.9 215.4,383.5 215.2,381.7 218.5,381.5ZM228.9,365.8 228.8,363.5 226.4,363.6 226.9,365.3ZM254.5,356.0 255.5,354.3 256.3,354.0 256.7,356.1 256.1,357.0 255.3,357.1ZM229.0,352.4 225.8,353.3 225.5,355.6 229.0,353.3ZM224.1,352.3 224.8,352.3 225.3,353.2 225.1,355.2 224.9,355.4 223.2,354.1ZM260.8,329.4 262.0,330.5 259.8,332.0 259.2,329.5ZM238.7,383.9 236.7,381.1 239.0,380.0 239.2,383.3ZM260.8,327.5 262.3,328.9 262.3,329.7 261.9,329.7 261.1,329.0ZM200.4,334.4 198.8,333.1 197.8,334.0 197.8,334.0 198.6,335.6 199.9,335.4 200.3,334.8ZM202.0,320.0 203.7,319.6 203.8,319.3 202.7,318.6 202.1,318.9 201.8,319.7ZM264.8,323.9 262.1,322.6 262.0,325.0 263.4,325.5ZM248.1,349.3 248.7,349.3 249.0,350.6 245.6,355.6 245.6,355.6 245.6,353.4 247.6,349.6ZM252.8,321.6 253.0,320.8 255.8,321.4 256.3,322.0 256.0,323.1 253.4,324.3 252.5,323.9ZM235.7,347.4 235.8,347.4 235.9,346.7 233.9,346.2 232.8,346.5 232.7,346.8 233.1,347.3ZM199.3,355.9 199.0,355.7 198.4,355.9 196.4,357.2 195.9,359.3 196.0,359.5 198.6,359.1 199.7,358.2ZM213.2,350.5 213.1,351.5 215.0,352.7 215.2,352.1 215.2,351.9 214.0,350.2ZM217.2,357.3 216.5,357.7 216.7,359.3 217.2,359.4 217.4,358.0ZM263.6,374.0 264.1,376.1 261.7,375.9 261.6,373.3 262.7,372.9ZM208.4,322.6 210.2,323.2 209.9,323.7 208.8,325.8 208.6,325.8 207.6,323.5ZM229.4,366.5 231.2,366.1 231.2,366.1 230.2,369.4 229.1,368.7 228.7,368.0ZM224.5,348.5 224.7,347.3 225.9,347.2 228.3,348.8 228.6,350.1 226.6,350.5 224.9,349.6ZM225.4,357.3 226.3,359.5 225.4,361.4 222.6,359.1 225.0,356.9ZM189.8,344.9 190.1,347.1 190.3,347.2 191.0,346.4 190.7,345.0ZM263.3,369.9 260.8,369.1 260.7,369.1 259.1,371.3 259.2,371.4 261.1,372.2 262.4,371.8 263.2,370.4ZM190.8,378.6 191.7,376.7 190.5,374.1 189.3,373.2 188.7,375.2ZM216.2,331.7 218.1,329.7 218.4,329.7 219.2,331.4 218.9,332.7 218.5,333.3 217.0,333.3 216.5,332.6ZM235.2,379.4 235.6,378.6 235.6,376.4 235.4,376.4 233.7,377.4 233.1,378.7ZM223.9,374.8 224.1,374.5 224.8,375.6 225.2,377.4 225.0,377.9 222.7,376.7ZM248.7,341.9 247.6,341.9 248.0,340.2 249.7,340.7 249.1,341.8ZM212.4,350.6 212.4,351.4 211.3,352.6 211.0,351.9 210.9,350.7 211.4,350.4 212.3,350.5ZM222.2,342.4 219.2,342.9 218.1,340.9 221.0,339.2 222.2,340.7ZM243.5,375.8 244.7,376.7 243.6,377.9 243.5,377.8 243.2,376.8ZM237.7,327.6 235.7,326.3 235.7,326.2 236.0,325.8 237.0,325.2 237.8,325.0ZM203.1,341.7 206.6,340.5 205.8,344.0 205.1,344.0ZM241.2,323.8 239.8,323.5 239.1,324.5 239.5,325.9 241.0,326.4 241.5,324.8ZM191.9,340.8 192.5,340.9 193.6,340.2 191.6,336.7 190.9,336.9 191.3,340.2ZM233.5,380.7 235.1,380.7 234.8,379.9 233.1,379.3 232.2,379.5ZM232.6,367.4 232.4,366.7 233.9,366.7 233.9,368.1 233.1,368.3ZM260.5,373.5 259.0,372.9 259.1,375.8 259.9,376.3 260.6,375.8ZM269.3,345.6 269.2,345.5 265.7,345.5 266.3,347.4 268.5,348.2 269.4,347.0ZM246.6,323.7 245.6,324.0 245.7,325.2 246.2,325.4 247.1,324.2ZM264.6,344.5 264.9,344.5 265.0,344.3 264.9,338.9 264.1,338.3 262.5,338.7 261.8,340.8 264.5,344.5ZM229.8,379.4 227.7,380.7 225.6,378.9 225.7,378.2 225.9,377.7 229.2,376.9 229.5,377.1 230.0,379.1ZM210.8,327.8 210.8,327.8 209.1,329.8 210.1,330.6 210.7,330.5 211.6,329.6ZM259.1,359.1 259.5,359.2 260.1,358.9 259.5,357.0 258.3,356.4ZM260.3,327.3 260.7,329.2 259.3,329.3 258.1,328.0 258.7,327.0 260.1,326.8ZM210.1,342.4 209.6,342.0 208.4,344.4 210.6,344.3 210.7,344.1ZM231.9,346.3 231.3,344.9 230.1,345.1 229.3,348.0 231.8,346.7ZM241.7,360.9 243.4,362.2 243.5,362.8 240.1,362.5ZM221.8,323.9 222.9,324.6 226.3,321.6 225.3,321.4 222.3,323.1ZM191.4,346.8 192.7,345.6 192.8,345.6 194.7,347.1 191.0,347.5 190.9,347.4ZM228.6,348.0 228.6,348.0 226.4,346.6 227.1,344.4 228.9,344.4 229.4,344.9ZM267.2,374.9 265.9,373.2 264.7,373.8 265.1,375.6 265.4,375.8ZM214.2,346.7 214.5,346.8 215.2,346.3 215.1,344.9 213.8,344.7ZM236.2,378.5 236.2,376.6 237.0,376.3 238.6,376.3 239.3,378.2ZM202.4,342.2 202.8,342.3 204.3,344.0 203.9,344.2 202.4,343.6 202.0,343.4 202.0,342.7ZM194.5,360.5 192.8,361.6 190.9,359.3 190.8,359.0 191.2,358.9 194.4,360.1 194.5,360.3ZM231.3,355.2 230.7,355.1 231.0,357.9 232.1,357.9 232.7,356.5ZM191.5,333.5 192.8,334.2 194.8,332.4 194.3,330.3 192.3,330.9ZM226.1,377.0 228.6,376.4 228.2,375.5 225.8,375.6ZM233.3,334.4 234.3,337.6 234.2,337.8 234.1,338.0 233.2,338.2 231.9,337.0 232.0,335.6 233.2,334.2ZM233.0,332.8 229.8,330.6 230.3,329.4 233.0,329.7 234.8,330.9ZM213.0,379.7 210.8,378.1 210.7,379.6 212.7,380.0 213.0,379.9ZM196.2,353.9 198.2,354.9 198.9,354.7 198.8,353.5 197.1,351.6ZM243.0,342.9 243.0,341.3 240.4,340.4 239.5,341.1 239.9,344.1ZM255.3,380.9 254.9,381.8 252.9,379.7 253.1,378.9 255.0,378.4 255.1,378.5 255.5,379.4ZM263.2,368.9 261.3,368.2 263.1,366.1 263.2,366.3 263.5,368.7ZM201.7,320.2 204.1,319.6 203.7,320.9 201.9,320.4ZM225.3,336.8 225.9,338.1 225.7,338.4 222.0,338.3 221.9,337.1 223.2,336.6 225.2,336.7ZM201.8,377.8 204.2,377.0 203.8,376.3 203.0,375.6 202.8,375.4 199.8,375.8ZM203.4,375.0 205.1,372.8 204.6,371.7 203.2,371.9 203.1,374.8ZM270.1,325.2 268.1,324.4 268.9,323.1 269.2,323.2ZM267.3,342.7 268.0,342.9 268.8,343.9 268.9,344.4 269.0,345.0 266.0,344.9 265.6,344.7 265.6,344.5ZM202.9,328.8 203.0,329.6 204.8,330.4 204.8,330.3 204.6,328.7 204.0,328.5ZM183.1,348.5 189.4,351.6 187.4,349.0ZM218.5,375.7 220.2,377.1 220.3,376.3 220.3,374.9 218.5,375.0ZM261.1,321.5 258.7,321.1 259.7,318.7 261.0,318.3 261.3,319.4 261.5,320.1 261.6,320.8ZM222.1,343.0 219.7,343.8 219.6,342.9 221.9,342.5ZM200.6,334.0 199.3,332.9 199.8,332.0 200.1,332.0 200.4,332.0 201.3,332.9 201.3,333.0 200.9,333.8ZM212.9,325.4 212.6,324.1 213.9,322.5 217.3,323.7 217.4,325.0 215.4,326.7ZM248.1,333.0 248.8,332.6 248.0,329.0 247.0,329.7ZM245.6,356.1 247.2,356.9 247.3,359.5 244.8,359.8 244.4,359.3 244.6,357.4 245.1,356.1 245.6,356.1ZM199.9,369.7 198.6,366.4 202.0,367.5 201.6,370.0ZM219.2,354.8 219.8,353.0 220.2,352.5 221.6,354.1 220.0,355.2ZM240.7,358.5 238.6,362.0 236.7,361.1 237.3,357.5 237.4,357.3 240.1,357.3ZM255.2,373.9 257.4,376.5 255.5,377.8 255.3,377.7 254.4,375.2 254.9,374.0ZM230.2,357.8 230.0,357.9 228.2,356.7 229.6,354.9 229.9,355.3ZM206.7,379.0 209.4,377.6 209.8,377.9 209.8,378.1 209.7,379.6 208.6,380.6 208.3,380.6 206.7,379.5ZM248.0,333.3 246.6,329.6 245.5,330.0 243.9,333.2 244.5,333.8 247.6,333.7ZM250.0,340.4 249.8,340.5 248.0,339.9 247.8,339.0 247.9,339.0 250.4,339.6ZM251.8,356.4 249.5,356.2 249.3,356.4 251.4,357.9ZM194.9,353.4 194.8,353.4 193.3,353.6 193.0,353.0 194.9,351.0 195.1,350.9ZM261.1,351.0 261.2,350.9 262.1,349.2 261.9,348.4 261.5,348.2 261.3,348.3ZM233.5,377.0 234.8,376.2 233.8,375.3 232.7,375.4 232.3,375.9ZM224.1,351.4 224.1,351.4 224.9,351.6 226.3,350.6 224.9,349.8ZM236.3,371.7 236.6,371.4 239.6,373.8 238.6,375.3 236.9,375.3ZM203.5,321.9 202.2,322.2 202.5,324.5 203.4,323.5ZM252.7,355.7 252.5,355.1 254.2,353.5 255.2,353.7 253.9,355.8ZM213.4,379.8 213.6,379.1 212.1,377.2 210.6,377.6 210.7,377.8ZM265.3,352.2 263.0,354.1 263.2,355.1 263.9,355.6 265.1,354.9 266.3,353.9ZM251.5,336.5 251.6,337.5 253.1,337.8 254.3,337.3 253.8,335.6ZM250.7,341.2 251.7,340.5 250.7,339.7 250.6,339.7 250.2,340.6ZM229.0,353.9 226.0,355.9 225.9,356.1 225.9,356.1 226.3,356.5 227.9,356.5 229.3,354.7ZM193.3,354.2 194.9,354.1 194.8,355.6 193.3,355.3ZM198.5,342.8 198.3,345.5 200.6,344.5 201.0,343.5 201.0,342.8ZM201.7,343.7 201.2,344.9 202.5,345.4 202.2,344.0ZM239.2,322.9 238.5,324.0 237.7,324.4 236.9,324.6 235.8,321.5 236.8,320.8 237.8,321.2 238.3,321.6ZM187.7,348.6 189.8,348.1 190.0,348.2 190.2,348.3 190.8,349.7 189.9,351.5 189.8,351.5ZM204.4,350.2 202.7,349.5 202.2,349.6 201.5,351.5 203.8,352.4 204.9,351.0 205.0,350.9ZM197.9,322.6 200.3,325.2 200.8,325.1 200.2,322.5 198.9,321.6 198.1,322.2ZM233.4,380.7 232.3,379.7 231.6,379.8 231.5,380.0 232.2,381.0ZM265.2,351.0 264.8,350.6 264.2,350.6 261.3,351.6 261.1,351.8 260.9,352.0 262.6,353.9 265.2,351.8ZM218.8,321.1 220.4,321.9 222.0,319.3 222.0,318.9 219.1,320.7ZM270.2,324.9 269.4,323.3 270.1,323.5 270.9,324.7 270.3,325.0ZM224.2,332.5 225.6,335.3 225.6,335.8 223.1,335.7 223.4,333.1ZM270.6,328.2 284.6,326.2 271.3,331.2 270.2,329.7ZM202.6,330.2 200.7,331.3 201.8,332.4 204.9,332.1 205.0,331.3ZM250.3,379.4 250.9,380.2 252.0,379.6 252.1,378.8 251.4,378.0 250.2,379.0ZM192.2,364.3 192.3,364.2 195.6,364.7 195.9,365.6 195.2,366.4 192.8,366.2ZM254.4,330.9 251.8,330.3 251.2,332.4 252.3,333.1 253.5,333.2 254.1,332.5ZM214.3,368.2 214.5,368.5 215.8,370.6 212.9,369.1 212.8,368.6ZM199.3,361.8 202.1,362.4 198.2,365.4 197.6,365.3 197.1,364.2 197.1,363.4ZM210.1,352.2 207.3,352.0 206.5,351.1 206.5,350.9 207.0,350.7 209.3,350.2 210.0,350.5ZM219.1,378.7 216.9,377.4 218.3,376.2 219.7,377.4 219.7,377.5 219.6,378.3ZM253.0,351.1 252.7,352.3 251.0,352.8 250.7,352.7 249.6,350.8 249.3,349.7 249.8,349.2 250.5,349.1ZM246.2,347.3 247.6,348.0 247.9,348.0 248.3,347.6 248.1,345.5 246.5,344.3 245.2,344.5 245.8,346.7ZM259.2,336.4 256.2,333.5 259.2,333.4 260.0,336.4ZM219.1,320.1 221.3,318.8 221.9,314.3 219.5,317.2ZM202.0,360.4 200.2,359.2 199.2,359.9 199.5,361.3 201.7,361.8 202.6,361.5 202.4,360.8ZM203.0,371.1 202.7,370.9 202.1,370.0 202.5,367.6 203.5,367.0 205.8,368.7 205.8,369.6 204.5,370.9ZM231.3,381.6 232.5,383.8 232.5,384.0 228.8,384.0 228.1,382.1 228.2,381.5 230.3,380.2Z" fill="#cdcad9"/>
<path d="M240.0,334.5 239.3,337.0 239.9,338.2 241.0,338.7 243.8,339.0 244.3,338.4 244.2,334.0 243.5,333.3 242.1,333.0 240.5,333.8ZM218.9,334.2 219.4,334.8 216.9,340.6 216.0,340.0 215.2,337.8 215.1,336.3 216.6,334.1ZM212.7,341.0 212.2,340.1 212.0,339.1 215.5,337.7 216.3,339.8 213.0,341.2ZM213.7,359.6 215.9,362.0 216.0,362.7 213.0,362.4 212.3,361.0ZM256.7,360.5 256.0,361.2 259.9,364.0 260.1,363.9 259.5,361.5 257.6,360.1ZM211.4,338.0 207.8,340.2 208.8,340.9 212.4,340.0 212.3,339.1ZM240.3,334.6 239.6,337.0 235.8,337.6 236.1,335.7ZM215.5,337.8 212.1,339.2 211.2,338.1 211.2,336.3 215.5,336.3ZM215.8,362.0 215.9,362.7 218.9,364.7 219.8,363.0 219.8,361.2 218.1,360.1 217.3,359.6 216.7,359.5 216.1,359.6ZM252.6,361.0 256.2,361.0 260.0,363.9 258.8,365.3 257.9,365.6 252.8,364.1 252.5,361.1ZM209.5,356.1 208.7,355.9 206.7,356.3 205.8,357.0 203.5,360.9 203.8,362.1 203.8,362.2 206.5,362.2 210.0,359.9ZM215.7,332.0 216.1,333.5 212.7,333.7 212.1,332.3 214.7,330.6ZM213.4,364.7 213.1,364.2 209.9,364.2 209.3,366.7 210.5,367.7 211.4,367.8ZM240.3,334.7 236.1,335.8 235.8,334.7 237.4,332.8 240.8,333.9ZM208.0,366.9 204.0,363.0 203.3,366.7 206.1,368.9ZM209.8,359.6 206.3,361.9 207.2,362.8 210.0,364.2 211.3,360.6ZM252.3,369.3 256.7,371.8 257.1,371.6 256.6,368.3 253.3,367.4ZM212.6,360.8 213.3,362.3 213.1,364.4 209.9,364.4 209.8,364.1 211.2,360.6ZM214.4,367.9 217.8,365.1 213.5,364.8ZM253.3,367.6 252.8,364.0 252.9,363.8 258.0,365.3 256.6,368.5ZM256.3,368.4 257.8,365.2 258.6,364.8 260.6,368.7 258.4,371.8 256.8,371.6ZM232.9,347.5 232.2,346.7 228.5,348.7 228.5,348.7 228.8,350.3 229.6,351.4 232.2,351.3ZM240.7,334.2 242.3,333.4 240.3,329.3 238.4,328.8 236.2,330.8 237.4,333.0ZM214.0,356.6 214.2,359.5 214.0,359.8 212.5,361.2 211.1,361.0 209.6,360.0 209.1,356.2 211.1,355.0 213.6,355.4ZM213.1,364.8 212.8,364.3 213.0,362.2 216.0,362.6 219.0,364.5 218.9,365.1 217.8,365.4 213.5,365.0ZM237.6,347.8 233.5,351.5 232.1,351.2 232.8,347.5ZM233.6,351.1 234.7,353.2 234.5,354.6 234.4,354.7 231.0,355.0 230.2,354.9 229.7,354.3 229.2,353.2 229.3,352.1 229.6,350.9 232.2,350.8ZM212.2,332.2 210.7,331.0 209.8,331.2 209.3,334.3 209.7,335.4 210.5,335.6 212.8,333.6ZM236.4,335.7 236.1,337.7 235.0,339.1 233.2,333.2 236.0,334.6ZM212.7,333.4 210.3,335.5 211.2,336.5 215.5,336.6 217.0,334.3 216.1,333.3ZM216.8,340.5 217.4,341.1 218.1,341.2 221.2,339.3 221.3,338.7 221.2,336.6 219.3,334.8ZM213.7,359.6 215.8,362.0 216.1,359.6 214.0,359.3ZM210.0,364.0 207.3,362.6 208.2,366.8 209.5,366.8 210.2,364.3ZM235.9,334.8 233.1,333.4 232.8,333.2 232.8,332.8 234.7,330.7 234.7,330.7 236.5,330.7 237.6,332.9ZM208.3,366.8 207.9,367.0 203.9,363.1 203.8,361.7 206.5,361.7 207.4,362.6ZM214.4,368.0 212.4,368.5 211.3,367.6 213.2,364.6 213.6,364.7 214.5,367.9ZM208.0,336.3 207.0,340.1 207.9,340.3 211.5,338.1 211.5,336.3 210.6,335.2 209.9,335.0ZM237.4,347.6 237.5,347.5 240.0,351.5 238.1,353.0 234.4,353.4 233.2,351.3ZM260.6,368.8 260.4,368.8 258.4,364.9 259.6,363.5 259.9,363.4 262.9,363.0 263.8,365.0Z" fill="#cdcad9"/>
</g>
<rect x="242.5" y="362.8" width="25" height="15.5" rx="2" fill="#fff" opacity="0.42" filter="url(#sb2)"/>
<text x="264.7" y="373.2" font-size="7.5" text-anchor="end" fill="#1a1a1a" style="stroke-width:0.1px">50 μm</text>
<line x1="252.5" y1="375.8" x2="262.2" y2="375.8" stroke="#8a8a8a" stroke-width="0.8"/>
</g>
<clipPath id="c3"><rect x="30.6" y="382.5" width="77.2" height="59.1"/></clipPath>
<g clip-path="url(#c3)">
<rect x="30.6" y="382.5" width="77.2" height="59.1" filter="url(#m3)"/>
<g filter="url(#sb)"><path d="M45.3,381.8 46.1,383.9 45.7,385.5 44.2,385.6 43.5,384.5 43.5,384.3 43.6,383.8 44.6,382.4ZM61.6,387.3 61.2,388.4 59.9,388.9 56.8,388.1 56.3,387.7 56.4,387.7 61.2,386.4 61.3,386.4ZM31.8,401.2 32.3,404.5 30.3,405.9 29.4,406.1 28.0,403.6 29.2,402.6ZM104.8,434.5 106.7,431.8 107.0,431.8 108.2,434.1 105.2,434.8ZM92.4,394.0 94.0,394.8 94.4,394.7 94.2,390.8 93.7,390.0 92.4,389.9 91.2,392.7ZM73.7,395.5 73.5,395.2 72.1,395.2 72.5,396.8 73.7,396.1ZM42.2,384.8 38.7,385.2 37.4,384.5 39.6,383.3 42.2,384.5ZM43.7,443.1 42.2,442.2 43.1,441.6 43.8,441.5ZM99.0,435.4 100.1,433.8 99.9,432.9 98.5,433.0 97.8,433.6 97.7,433.8 97.8,434.8ZM96.9,389.9 96.6,390.8 94.9,390.4 94.5,389.8 95.5,388.9ZM91.0,437.0 90.3,439.2 88.6,437.1 90.2,436.7ZM102.6,382.9 104.5,380.7 104.9,381.1 103.9,383.1ZM77.4,422.5 79.8,422.3 79.6,427.5 76.9,424.9ZM70.1,388.2 71.5,389.7 70.9,390.5 70.0,391.0 68.0,390.6 67.9,389.1 68.5,388.5ZM106.5,437.6 108.3,437.0 110.0,437.9 108.3,440.2 107.1,439.8 106.5,437.8ZM74.1,396.5 72.7,397.3 72.2,397.8 72.1,399.5 73.8,399.6 75.4,398.5 75.5,398.2ZM105.0,417.7 106.3,419.5 107.4,419.6 106.4,416.4 105.8,415.4 105.7,415.5 104.9,416.7ZM103.6,435.5 104.0,435.3 104.2,435.3 104.5,435.6 105.3,437.3 105.3,437.5 103.1,438.3 103.0,438.3ZM71.6,404.8 68.9,407.9 68.5,407.9 66.7,404.3 68.0,403.4 70.2,402.9ZM38.8,399.0 37.5,399.1 35.9,398.3 36.6,397.0 38.8,396.8 39.6,397.9ZM27.4,423.2 30.0,422.0 30.0,421.9 26.6,418.3 25.2,419.1 27.4,423.2ZM50.4,411.4 50.9,411.3 51.4,411.8 51.4,411.8 50.7,414.7 48.9,416.1 47.9,416.0 47.6,415.0ZM67.0,398.8 66.8,398.6 65.0,403.0 65.0,403.0 66.7,403.1 67.6,402.6ZM62.7,390.6 63.3,391.8 61.7,392.3 60.8,391.7 60.4,390.3 60.3,389.7 61.4,389.2ZM79.7,395.4 79.2,396.2 80.9,397.9 81.5,398.0 82.3,397.2 81.2,395.4 80.5,395.4ZM54.1,416.3 53.4,417.7 52.7,417.7 52.3,416.4 52.3,416.3 53.3,415.6ZM104.7,383.5 105.6,381.5 106.2,381.7 107.4,384.3 107.3,384.4 104.8,383.8ZM29.8,391.0 30.7,391.1 31.4,392.4 29.7,394.5 29.7,394.4 27.9,391.9 28.1,391.5 29.1,391.1ZM43.6,401.0 44.1,401.8 44.5,401.9 44.5,401.9 46.9,400.9 47.2,397.9 47.0,397.2 44.6,397.8 43.9,398.8ZM41.0,410.1 40.7,410.4 39.8,409.3 40.6,407.2 40.6,407.2 41.5,408.3ZM27.4,424.2 29.6,426.3 28.8,428.6 27.0,428.1 26.9,424.7 27.4,424.2ZM62.3,442.0 61.9,442.3 60.2,444.6 60.3,444.9 63.7,444.6 63.8,444.4 62.9,442.5ZM81.0,433.3 80.9,433.0 79.3,431.9 77.1,433.0 77.7,434.7 80.6,435.4 81.4,435.1ZM49.2,392.0 52.8,390.2 53.4,388.7 50.0,387.2 48.8,387.9 48.6,389.7ZM64.1,384.5 64.7,384.8 65.3,386.0 65.2,386.7 63.9,385.9ZM28.8,390.1 27.5,390.6 26.5,388.5 28.6,387.5ZM94.4,400.6 96.7,400.8 96.8,404.2 94.2,403.5 94.3,400.7ZM51.2,382.9 48.9,382.8 50.0,385.6 51.6,383.4ZM44.5,379.9 41.5,379.3 41.7,379.9 43.7,381.4 44.5,380.8 44.6,380.7ZM29.6,389.8 28.9,389.8 28.8,387.6 29.1,387.1 29.6,389.5ZM83.4,387.4 85.1,389.8 87.9,387.1 85.4,385.2ZM28.9,409.5 28.5,409.2 27.3,409.3 26.5,412.7 27.2,413.6 29.6,412.4ZM36.4,413.9 36.0,413.1 35.3,412.8 33.4,414.3 33.4,414.5 34.6,415.2ZM96.1,404.9 96.2,405.1 94.7,407.2 93.2,406.9 93.4,404.4 94.0,404.4ZM27.6,404.4 27.6,404.4 26.5,406.1 26.1,407.4 27.3,408.0 28.2,408.0 28.6,406.4ZM47.9,439.2 47.5,440.9 46.3,441.8 44.9,440.6 46.5,438.8 47.6,438.7ZM100.1,412.4 99.5,413.3 98.0,412.3 98.6,410.8 98.7,410.8ZM48.5,392.4 47.9,389.9 43.8,390.8 47.9,394.7ZM44.1,437.1 44.6,440.2 44.7,440.2 46.2,438.6 45.0,437.7ZM39.1,378.3 36.4,379.7 36.4,382.2 37.7,381.3 39.2,378.3ZM107.9,420.1 108.7,420.4 111.0,417.6 110.7,417.2 106.7,416.2ZM103.1,421.9 103.8,421.2 106.4,420.2 107.9,420.4 108.8,420.8 108.8,420.8 108.6,422.1 107.4,424.6 103.5,424.5 103.1,422.0ZM97.0,430.0 97.3,429.3 96.7,428.3 96.4,428.4 94.5,429.7ZM69.5,381.4 68.0,382.6 67.9,383.5 68.0,383.6 70.5,382.9 70.0,381.5ZM102.9,442.9 103.0,443.1 105.7,443.6 105.9,443.1 105.9,442.8 103.8,441.6 103.7,441.6ZM93.7,423.6 96.3,424.2 97.3,420.7 97.2,420.6 94.6,422.1ZM99.2,415.2 96.5,416.3 96.3,416.2 96.0,415.8 96.4,413.1 97.4,412.9 99.2,414.0ZM81.8,426.3 85.3,425.1 84.8,424.3 82.8,423.7ZM48.9,441.8 47.8,441.3 46.5,442.2 46.6,443.3 48.4,444.5 48.7,444.4 49.1,442.3ZM109.5,380.2 110.0,382.2 111.0,381.2 110.1,379.7ZM85.3,379.2 84.7,376.9 84.0,375.9 82.9,378.4 84.0,379.8ZM103.9,386.1 105.3,387.0 107.2,385.5 107.3,385.1 104.6,384.4ZM29.8,389.8 30.0,386.8 29.5,386.2 29.2,386.9ZM81.2,415.1 82.5,415.5 83.2,417.4 83.1,417.6 81.2,418.5 79.9,417.1 81.1,415.3ZM91.6,443.8 92.2,443.6 92.4,442.4 92.0,441.4 90.8,441.2 90.2,441.8 91.3,443.6ZM102.3,383.4 104.0,383.6 104.2,384.1 103.4,386.1 100.7,386.1 100.3,385.2 101.2,383.5ZM97.6,433.4 95.9,431.6 97.0,430.8 98.3,432.7ZM104.4,416.4 105.2,414.9 103.4,414.5 101.1,416.1 101.3,416.5ZM102.8,390.1 102.3,392.2 103.5,392.3 105.0,392.0 104.1,390.8ZM82.8,400.3 82.9,400.8 83.2,402.3 83.6,402.6 85.9,398.9 85.1,398.9ZM102.7,430.5 103.3,430.3 106.1,431.3 106.2,431.4 103.2,432.1 102.6,431.1ZM68.1,413.4 66.5,411.7 65.5,411.8 66.9,415.2 67.2,415.0ZM78.5,412.3 77.9,409.5 76.3,409.3 77.8,412.5ZM102.9,421.4 103.4,420.9 102.3,418.9 101.5,418.4 100.9,419.5 101.6,420.7ZM37.8,403.3 37.7,403.6 36.9,403.5 33.0,400.8 33.2,400.1 34.4,399.5ZM93.9,415.5 93.5,412.0 92.7,412.1 93.2,415.3ZM100.3,383.0 100.1,381.4 99.6,381.0 98.4,381.0 98.0,381.2 97.4,382.2 97.8,384.0 99.5,384.5ZM94.5,399.7 96.5,399.9 97.0,399.2 94.8,396.2 94.8,396.2 94.5,396.3 93.5,398.0ZM44.3,410.5 44.0,413.2 44.9,413.2 45.6,412.5 46.2,408.9 46.0,408.7 45.5,408.6 45.1,408.7ZM34.0,421.5 34.5,419.0 35.3,418.8 35.9,419.3 35.8,421.1ZM106.4,412.9 105.3,414.3 105.2,414.4 103.5,414.0 102.5,412.1 102.8,411.6ZM63.5,436.5 64.7,436.5 64.5,437.7 62.4,439.3 62.3,439.2 62.5,437.9ZM94.0,377.3 91.0,382.3 91.5,383.4 91.9,383.4 94.5,381.9 94.5,378.4ZM102.9,390.0 104.1,390.7 103.5,389.4 102.9,389.6ZM37.8,438.6 40.5,438.1 39.5,440.5 37.7,438.7ZM41.7,385.7 39.1,386.0 39.7,388.2 41.7,388.0 42.3,386.6ZM70.2,402.5 71.2,400.1 67.4,398.2 68.1,403.1 70.1,402.7ZM74.2,440.9 72.3,442.8 71.3,442.9 70.3,440.9 71.1,438.6 72.7,439.1ZM53.4,415.2 52.7,412.4 51.8,411.3 50.9,414.8 51.9,416.4ZM67.2,425.8 68.1,429.6 70.8,428.0 68.4,425.7ZM69.3,381.1 65.6,379.4 65.5,379.6 66.1,380.6 67.8,382.3ZM47.9,436.3 45.4,437.2 46.5,438.1 47.4,438.0ZM51.4,441.7 52.9,442.9 53.0,440.9 51.4,441.5ZM66.0,440.5 67.9,441.3 65.7,443.7 65.0,443.7 64.2,442.0ZM50.9,438.9 51.3,439.3 53.5,439.1 53.6,439.1 53.7,438.6 52.4,437.5 51.1,437.7ZM95.9,417.8 96.9,420.2 94.4,421.5 94.2,419.0 95.7,417.7ZM94.1,400.7 94.0,403.4 93.3,403.5 91.2,402.6ZM83.6,383.3 84.2,383.2 84.3,383.3 84.4,383.3 85.2,385.3 83.5,387.2 82.6,386.8 82.3,386.4 82.2,386.3ZM30.1,386.7 32.5,388.5 32.8,388.4 32.8,387.3 30.4,383.5 29.1,384.0 29.4,385.9ZM99.3,388.6 95.7,388.0 95.4,388.5 97.2,389.7 99.3,388.7ZM104.2,405.6 108.1,403.9 108.2,403.7 108.0,403.1 105.3,401.7 103.8,402.9 103.6,405.6ZM81.9,382.6 80.4,380.8 79.6,381.1 77.2,382.2 77.0,383.5 79.4,384.3ZM61.6,442.3 60.1,444.5 59.0,443.4 59.0,443.3ZM44.7,422.4 44.6,422.2 39.4,421.9 39.1,422.3 39.9,425.0 42.1,425.1 44.1,424.0 44.4,423.6ZM110.7,437.1 110.5,434.5 110.3,434.4 109.0,434.7 108.7,436.4 110.2,437.2ZM97.3,434.8 95.0,436.2 94.6,435.7 94.4,434.3 94.5,433.8 95.1,433.4 97.3,433.8ZM108.5,386.1 108.7,385.7 108.8,385.5 109.1,385.5 110.7,385.9 111.3,387.5 111.2,388.0 110.9,388.8 109.3,388.2ZM77.7,412.6 76.1,413.8 75.8,413.7 73.7,411.5 74.0,410.4 75.7,409.2 76.1,409.4ZM77.6,442.6 77.7,443.0 75.5,445.6 74.5,443.9 74.6,443.8ZM33.9,422.5 33.2,424.5 33.8,424.9 34.2,424.9 35.2,422.7ZM84.9,430.8 85.7,429.4 85.3,428.3 84.3,428.7 84.6,430.7ZM78.1,438.7 80.8,435.6 76.6,434.5 77.1,437.4ZM51.3,441.9 52.6,443.1 52.9,443.7 50.9,443.3 50.9,442.5ZM104.8,427.6 105.0,427.6 105.1,426.5 103.9,426.0 103.8,426.3ZM58.3,404.4 60.8,406.3 62.9,405.1 63.3,404.3 63.3,404.3 62.7,403.7 58.6,404.1ZM95.5,395.5 97.9,398.8 98.6,398.5 99.4,397.6 99.8,396.1 99.1,394.3 98.2,394.3ZM42.5,414.1 41.9,416.8 40.2,416.8 40.1,416.7 39.9,414.2 40.7,413.4 41.0,413.2ZM57.3,443.0 56.3,443.1 55.3,444.4 55.4,444.4 57.1,445.5 58.0,443.8 57.9,443.7ZM80.0,385.9 79.4,387.6 79.9,387.8 80.8,387.7 81.8,386.7 81.8,386.6ZM30.1,395.3 30.1,396.1 30.4,396.9 32.4,399.0 33.6,398.3 34.2,397.9 35.1,396.3 35.0,395.4 34.4,393.3 32.1,392.6ZM43.9,443.1 44.1,443.5 44.9,443.8 45.6,443.2 45.6,442.4 44.4,441.4 44.3,441.4 44.1,441.5ZM104.4,434.1 106.3,431.5 106.3,431.5 103.3,432.2 104.3,434.1ZM39.0,392.9 37.7,391.3 36.6,391.7 35.6,393.1 36.1,394.9ZM51.2,446.2 49.4,444.7 50.8,443.6 52.8,444.1 53.0,444.3ZM38.7,434.7 36.8,434.8 36.0,434.2 36.1,434.0 37.1,432.8 38.9,432.2 40.7,432.3 39.3,434.3ZM110.4,397.6 114.4,396.6 116.2,395.9 111.4,392.5 109.9,393.1 109.5,395.5ZM70.7,387.8 72.0,389.3 72.4,389.1 73.9,386.6 73.8,385.7 72.0,385.3 70.9,386.2ZM55.6,383.6 55.3,387.3 55.3,387.3 55.3,387.3 53.9,387.9 50.3,386.4 50.3,385.9 52.0,383.7 55.1,382.7 55.4,383.3ZM50.8,440.9 51.1,439.6 50.6,439.2 49.3,439.4 50.0,440.8ZM85.7,427.6 86.7,426.1 87.9,426.1 89.0,429.1 88.3,430.3 86.3,429.1ZM102.6,429.5 103.1,429.3 104.2,428.0 103.3,426.6 101.7,428.4ZM73.2,424.7 72.0,427.9 73.6,429.0 76.1,425.2ZM70.0,387.7 70.2,386.1 68.9,386.3 68.4,388.0ZM102.0,411.1 101.7,411.7 100.6,412.3 98.9,410.3 101.8,407.8ZM102.2,392.9 100.6,393.3 100.3,393.8 101.0,395.7 103.4,396.0 103.4,393.0ZM102.7,399.9 102.7,399.9 100.3,400.1 99.5,399.3 100.3,398.3 102.4,399.2ZM58.1,405.0 58.0,407.0 58.2,407.4 59.7,407.9 60.4,406.7 58.1,405.0ZM37.3,385.4 38.4,386.0 39.0,388.5 37.9,389.4 36.6,386.6 36.8,385.3ZM102.0,435.2 100.4,434.1 99.4,435.5 99.6,436.2 101.6,435.7ZM43.6,414.0 42.8,417.4 45.1,419.8 47.2,416.2 46.9,415.2 44.9,413.9 44.1,413.8ZM65.7,428.2 66.6,431.0 66.7,431.1 68.0,430.0 67.0,425.6 65.5,425.4ZM41.1,437.0 41.1,435.1 39.7,434.8 39.2,435.2 41.0,437.1ZM106.0,443.2 105.8,443.8 108.0,447.9 110.0,442.8 109.5,442.3ZM100.9,418.0 100.2,419.1 98.0,419.9 98.0,419.9 97.9,419.8 96.8,417.3 99.7,416.1 100.4,416.6 100.7,417.0ZM33.7,421.5 32.2,420.3 32.3,419.8 32.5,419.6 34.4,419.3 34.0,421.4ZM105.5,399.1 108.6,398.7 107.3,397.5 104.9,397.3ZM82.9,438.4 82.5,438.2 79.4,439.5 82.1,442.6 83.4,440.3 83.1,439.2ZM79.8,395.1 80.0,393.3 82.1,393.8 80.6,395.1ZM99.8,423.5 99.5,424.7 99.9,424.9 103.0,424.8 103.3,424.4 102.9,422.2ZM51.3,441.4 53.0,440.7 53.8,439.4 51.3,439.6 51.0,441.0ZM100.3,442.1 100.1,442.1 98.1,440.6 99.7,438.6 100.3,438.9ZM102.8,438.8 103.4,441.4 103.5,441.4 106.5,440.5 106.9,440.1 106.0,437.6ZM83.8,427.6 81.1,427.6 81.9,426.5 85.3,425.3 85.7,425.8 84.9,427.1ZM80.6,414.3 80.1,413.0 78.7,412.8 78.0,413.0 76.6,414.1 76.8,414.4 80.4,414.5ZM32.6,428.6 33.0,425.9 32.5,425.5 32.3,425.5 30.3,426.6 29.6,428.8 30.4,429.8 31.0,429.5ZM69.8,413.9 69.3,416.1 67.8,415.4 68.8,413.8ZM78.5,395.5 78.5,395.5 78.9,394.9 79.1,393.4 78.8,392.6 78.1,392.3 77.2,392.9 77.1,394.1ZM41.2,379.9 41.1,381.7 42.6,383.5 43.8,381.8ZM96.2,440.7 95.9,442.5 93.2,442.1 92.5,440.6 95.0,438.7ZM85.3,383.4 88.8,382.9 89.3,383.2 89.8,384.1 89.0,386.0 87.5,386.3 85.9,385.0ZM99.5,421.7 98.5,420.5 100.4,419.9 101.0,421.0ZM67.7,388.0 67.1,388.7 65.8,387.3 65.9,386.9 66.0,386.1 67.8,385.5 68.4,385.9ZM57.7,440.5 57.2,441.5 56.2,441.6 55.0,439.6 55.2,439.2 55.7,438.8ZM91.8,435.8 93.2,435.6 93.0,434.5 90.6,433.8ZM49.1,403.9 49.1,404.4 53.2,406.2 54.3,403.8 54.3,403.8 51.5,403.0ZM91.6,437.2 91.0,439.3 91.1,439.5 92.2,439.7 94.0,438.3 94.0,438.1 93.8,437.2 93.4,436.8 92.0,437.0ZM63.0,387.6 64.3,387.8 63.3,390.1 62.0,388.6 62.4,387.7ZM109.2,398.4 110.0,397.8 109.2,395.7 107.0,395.0 107.6,397.1 109.1,398.4ZM90.6,403.5 91.9,407.1 92.6,406.9 92.9,404.3 91.0,403.5ZM78.9,438.0 80.8,435.9 81.6,435.6 82.0,436.0 81.9,437.7 79.9,438.6 79.2,438.6ZM49.5,411.0 45.9,412.7 45.3,413.4 47.2,414.8 50.0,411.2ZM51.1,441.7 50.7,442.3 49.3,442.2 49.1,441.7 50.0,441.1 50.8,441.1 51.1,441.6ZM37.3,429.4 37.0,429.0 35.2,430.0 35.4,431.2 35.7,432.9 36.5,432.0ZM38.2,381.9 39.6,382.3 39.4,383.0 37.7,384.0 37.3,383.9 36.8,383.2 37.2,382.6ZM43.7,443.2 43.8,443.7 40.6,444.3 40.4,444.0 41.0,442.8 42.0,442.2ZM85.1,440.6 84.9,441.0 83.7,440.3 83.5,439.5ZM70.6,383.2 71.6,384.4 70.3,385.3 68.8,385.5 68.2,385.0 68.1,384.0ZM53.7,407.3 54.9,407.9 55.8,409.6 55.7,410.0 52.9,410.5 52.5,410.1 52.7,409.0ZM48.0,436.2 45.3,437.2 44.3,436.6 44.3,436.5 44.6,435.6 48.0,435.2 48.1,436.0ZM51.7,416.5 49.8,416.8 51.1,418.5 51.5,418.4 52.1,418.1ZM82.6,442.2 83.5,440.6 84.7,441.4 84.6,442.6 82.6,442.3ZM28.7,437.4 30.6,440.5 30.8,440.4 33.5,434.5 31.8,433.8ZM40.9,392.8 42.3,390.7 41.9,389.4 39.8,389.6 38.7,390.4 38.6,390.6 39.9,392.2ZM108.1,425.5 108.5,426.5 109.3,427.0 110.1,425.7 110.0,424.3 108.9,422.9 108.0,424.8ZM105.2,427.6 105.3,426.5 106.9,425.9 107.2,426.9 106.2,427.8ZM86.2,436.7 85.5,437.8 83.4,437.9 83.1,437.7 83.1,436.1 85.9,435.4ZM32.0,390.5 32.9,389.2 33.0,389.1 33.7,389.2 35.2,390.8 34.3,392.1 32.6,391.6ZM37.3,411.5 37.8,410.3 37.5,409.2 37.4,409.0 35.0,410.6 35.5,411.9 36.5,412.3ZM73.0,416.0 75.0,414.3 73.3,412.5 73.0,412.7 72.0,413.7 72.4,415.9ZM101.9,430.3 100.8,429.0 100.7,428.9 98.1,429.4 100.1,432.2 101.7,430.9ZM28.4,387.3 26.5,388.3 22.5,384.3 25.8,383.9 28.8,384.7 29.1,386.2 28.8,386.8ZM41.6,393.6 43.3,391.0 43.6,391.1 47.5,394.9 47.5,395.0 47.1,395.4 44.1,396.2 41.6,393.8ZM76.5,391.7 77.6,391.1 77.5,390.3 76.9,388.8 76.0,388.0 75.6,391.1 76.2,391.7ZM108.3,389.8 110.7,390.5 110.8,390.0 110.6,389.4 109.1,388.9ZM43.5,435.2 43.1,434.5 41.2,435.1 41.2,437.1 41.5,437.1 43.2,436.3ZM90.1,444.1 88.4,443.4 89.2,442.1 89.7,441.9 90.9,444.0ZM61.5,386.2 55.6,387.8 55.6,387.7 60.6,385.1ZM57.9,408.0 59.6,408.6 60.0,410.1 59.0,411.3 56.9,410.8 56.5,410.4 56.6,409.9ZM57.2,407.5 55.3,407.6 56.3,409.5 57.4,407.9ZM94.4,429.5 96.2,428.3 94.5,427.9 93.3,429.6 94.0,429.7ZM63.3,384.0 62.5,381.9 60.6,384.1 60.9,384.9 61.6,385.7 61.6,385.8ZM51.5,416.3 50.9,415.3 49.5,416.3 49.9,416.6 51.5,416.3ZM107.2,411.7 106.4,412.2 103.2,411.0 103.1,408.2 103.1,408.1 103.5,408.0 104.1,408.0 107.2,411.5ZM40.1,418.5 39.3,419.4 39.7,421.2 43.7,421.4 43.5,420.4 41.8,418.6ZM42.6,397.9 43.4,396.7 41.1,394.5 39.3,396.3 40.2,397.5ZM66.3,396.9 62.4,401.3 60.2,399.4 59.5,397.6 65.8,396.3ZM81.0,388.8 81.4,389.2 82.0,387.4 81.8,387.2 81.0,388.0ZM106.8,392.8 109.5,393.1 109.2,395.4 107.1,394.8 106.7,394.4ZM54.5,415.8 55.5,415.3 55.6,414.7 55.4,414.4 53.2,413.2 53.7,415.1ZM102.5,390.0 102.0,392.1 100.4,392.5 100.1,389.0 100.1,388.9 100.5,388.3 102.5,389.6ZM67.4,384.2 67.5,385.0 66.1,385.5 65.5,384.5 66.5,384.0 67.2,384.1ZM104.3,418.3 105.4,419.8 103.8,420.4 102.9,418.7ZM29.0,432.9 29.8,432.4 31.3,434.1 28.8,437.0 28.3,436.8ZM102.3,383.0 104.6,380.3 104.2,379.8 101.1,381.3 101.3,383.0ZM110.3,433.7 109.4,430.9 107.3,431.6 108.5,433.9 108.7,434.0ZM80.5,414.7 76.7,414.7 77.1,416.7 78.5,416.8 79.2,416.7ZM49.7,380.2 48.4,381.7 45.9,380.7 45.9,379.7 46.5,378.4 48.8,376.1 50.1,378.5 50.3,379.0ZM67.5,434.3 70.3,435.7 70.6,437.5 65.9,439.2 65.2,437.6 65.4,435.8ZM44.0,410.4 41.5,410.4 42.3,408.2 44.8,408.7ZM111.0,438.0 112.3,438.5 111.8,440.6 110.4,442.3 110.1,442.3 109.6,441.9 108.7,440.5 110.4,438.2ZM48.9,405.8 51.0,408.0 52.0,406.3 52.0,406.2 49.5,405.0ZM101.7,436.0 99.8,436.6 99.7,437.5 100.1,438.0 100.6,438.2 101.6,438.1ZM32.1,408.3 30.4,406.4 29.6,406.6 29.1,408.4 29.5,408.7ZM32.4,407.9 33.1,406.6 33.0,406.5 32.2,405.2 30.7,406.3 32.2,407.9ZM100.4,442.7 100.3,442.7 98.1,444.7 99.2,450.1 102.3,444.5 102.3,443.5 102.2,443.2ZM99.5,388.9 99.8,392.7 99.4,393.2 98.2,393.2 96.9,391.1 97.3,389.9ZM106.0,442.8 106.0,443.2 109.5,442.3 108.4,440.6 106.8,440.1 106.4,440.4ZM71.8,405.5 71.7,408.1 69.4,407.6 71.4,405.2ZM33.4,422.3 32.7,424.2 32.5,424.2 30.9,422.2 30.9,422.1 31.9,420.6 33.4,421.9ZM85.4,421.2 85.7,421.9 85.2,423.5 83.0,422.9 82.5,422.3 84.0,420.4ZM71.4,416.1 71.0,413.9 70.1,414.0 69.6,416.2 70.5,417.5ZM85.0,382.2 86.0,379.9 87.9,380.4 88.6,381.7 85.1,382.3ZM64.0,383.9 63.8,385.9 62.8,387.3 61.9,387.3 61.5,386.3 63.9,383.8ZM34.5,429.9 33.0,429.3 31.4,430.3 34.6,431.4ZM52.1,400.4 54.1,402.9 55.3,399.8 55.3,399.5 53.1,399.4ZM50.6,419.4 50.9,419.0 49.3,417.0 48.9,416.7 47.8,416.6 45.7,420.2 46.0,421.4 46.1,421.7 46.7,421.7 47.0,421.6ZM34.1,422.3 35.1,422.5 35.8,422.1 35.6,421.5 34.3,421.8 34.1,422.0ZM32.3,445.0 31.5,445.5 28.6,445.0 28.5,444.2 28.5,442.8 30.2,441.9 32.4,444.5ZM38.0,429.4 38.8,431.8 37.1,432.4 38.0,429.4ZM75.3,406.7 74.3,405.2 72.2,405.3 72.2,408.3 73.6,409.7 75.2,408.6 75.4,406.9ZM51.4,400.7 50.7,401.4 51.5,402.8 53.8,403.4 53.8,403.2 51.8,400.7ZM93.0,415.2 92.3,415.2 91.0,414.1 89.6,412.0 92.6,412.3ZM73.4,394.6 72.1,394.6 71.2,394.4 70.9,392.5 71.8,392.0 73.4,393.6ZM80.0,388.9 79.8,387.9 80.9,387.8 80.9,389.1ZM68.8,423.5 68.2,424.5 67.2,424.6 66.0,424.5 65.9,424.4 65.7,424.2 66.8,420.7 68.7,420.9ZM73.3,420.0 74.6,419.6 74.6,419.4 75.0,418.2 73.0,416.8 72.3,416.8 71.3,418.1 71.2,419.0ZM75.1,386.9 73.2,389.8 75.5,391.2 76.0,387.8ZM110.1,424.2 111.2,425.1 110.2,425.8ZM89.9,444.5 88.4,443.9 87.5,444.6 87.5,447.8 89.3,446.0ZM66.9,397.3 67.0,397.5 64.2,404.1 63.5,403.4 62.4,401.3 66.3,396.9ZM51.4,400.0 51.5,396.9 52.7,399.0 51.8,400.0 51.4,400.0ZM51.3,399.9 48.9,397.4 48.7,396.7 49.0,396.3 51.2,396.6 51.4,397.0ZM44.0,410.5 43.8,413.2 43.3,413.4 41.3,412.3 41.2,411.1 41.2,411.0 41.5,410.5ZM48.7,402.0 50.5,401.5 51.3,403.0 49.3,403.7ZM103.3,434.6 103.8,434.4 102.8,432.5 102.1,431.4 100.5,432.7 100.4,432.8 100.6,433.7 102.3,434.8ZM39.9,382.2 39.6,383.1 42.2,384.3 42.2,383.8 40.8,382.0ZM73.9,393.2 72.0,391.4 72.6,390.5 73.1,390.2 75.2,391.6 75.9,392.1ZM50.2,380.5 48.8,382.1 48.8,382.6 48.9,382.7 51.2,382.8ZM94.8,382.4 92.9,383.6 95.5,384.6 96.7,384.1 96.3,382.5 95.7,382.3ZM70.3,443.3 70.0,444.2 67.8,444.8 66.4,444.2 68.4,441.8 69.4,441.6ZM62.1,381.3 62.1,380.8 62.0,380.8 56.6,382.9 56.7,383.2 60.0,383.6ZM33.5,408.8 34.4,407.1 37.1,407.8 37.1,408.8 34.9,410.2 33.6,409.2ZM92.1,430.0 91.4,429.4 89.6,429.6 89.0,430.5 89.0,432.1 90.0,432.3 91.9,430.8ZM105.1,399.8 102.9,399.9 102.6,399.1 104.3,396.9 104.5,397.1 105.3,399.4ZM85.3,440.7 83.3,439.3 83.1,438.6 85.8,438.5 86.1,439.6ZM59.8,439.7 61.5,440.2 61.6,440.3 62.3,441.6 61.8,441.9 58.6,443.0 57.8,442.2 58.5,440.9ZM33.0,443.8 35.4,443.1 34.7,441.2 33.8,440.8 31.6,441.0 31.5,441.0 31.2,441.6ZM100.9,428.6 99.7,425.1 99.2,424.7 97.3,425.3 96.9,428.1 97.7,429.2 97.8,429.3ZM104.2,417.7 102.7,418.2 101.9,417.8 101.8,417.0 104.1,416.9ZM78.0,441.0 78.7,439.9 79.6,439.9 81.8,442.6 81.9,442.7 80.5,444.9 78.3,442.8 78.2,442.4ZM51.1,400.3 48.3,397.5 48.0,401.2 48.6,401.6 50.3,401.1 51.1,400.4ZM79.8,428.3 80.2,428.1 81.3,426.6 82.8,423.1 82.2,422.4 80.5,421.7 79.9,422.1 79.6,428.0ZM45.7,387.0 47.8,387.8 47.6,389.6 43.9,390.5 43.7,390.4 43.2,388.8 44.0,387.0ZM66.2,439.2 69.8,437.9 70.0,438.4 69.3,440.4 68.2,440.7 66.3,439.9ZM53.5,406.4 55.1,407.3 57.4,407.1 57.4,404.6 54.5,404.1 53.5,406.2ZM37.0,438.4 36.2,435.7 35.4,435.1 34.9,435.3 34.2,439.8 35.3,440.3 37.0,438.6ZM93.5,411.5 94.3,411.2 95.0,408.8 94.9,408.3 92.8,407.9 91.9,408.0 90.0,409.6 89.1,411.1 89.3,411.2 92.6,411.6ZM92.4,394.3 94.2,395.2 92.8,397.9 88.9,399.2 88.3,398.4 88.3,397.2ZM36.9,399.5 34.4,398.4 33.8,398.8 38.1,403.5 38.5,402.8ZM73.8,421.7 75.1,421.3 76.5,422.7 76.2,424.5 75.9,424.6 73.6,424.2 73.4,423.6ZM107.3,430.9 109.0,430.2 109.9,429.0 108.8,428.1 107.9,427.7 106.8,428.6 106.9,430.7 107.0,430.8 107.0,430.8ZM55.8,413.8 53.5,412.5 52.8,411.7 52.8,411.7 56.0,411.2 56.4,411.5ZM92.3,431.1 90.1,432.9 90.3,433.0 90.3,433.1 93.7,434.1 93.9,433.6ZM104.7,428.3 105.1,428.3 106.3,428.4 106.4,430.9 103.3,430.0ZM83.1,394.3 83.8,395.7 84.1,395.7 86.7,393.8 86.8,393.3 84.8,391.7 84.7,391.8 83.1,393.8ZM78.9,390.7 78.8,390.1 80.1,389.1 80.6,389.3 81.0,389.6 81.2,390.1 79.5,391.0ZM82.5,387.3 81.7,389.4 81.9,390.1 84.2,390.6 84.3,390.6 84.5,389.5 83.2,387.7ZM29.0,432.4 28.2,437.2 27.3,437.0 27.3,437.0 25.8,433.7ZM95.0,387.7 95.1,385.9 92.0,384.7 91.7,384.7 90.8,386.8 91.1,387.4 92.6,389.0 93.7,389.1 94.8,388.1ZM76.6,396.9 75.9,397.6 74.7,396.0 74.7,395.5 75.9,395.0ZM32.2,381.9 32.2,382.0 30.3,383.2 29.2,383.6 25.8,382.7 28.8,378.8 30.3,378.8ZM80.3,392.7 80.0,392.0 81.7,391.0 83.7,391.5 82.4,393.2 82.1,393.2ZM95.0,378.5 95.8,381.7 96.8,382.0 97.5,380.8ZM77.2,388.4 78.0,390.4 80.1,388.9 79.8,387.9 79.3,387.6ZM94.9,394.3 94.7,390.9 96.5,391.3 97.7,393.2 95.0,394.3ZM56.0,419.6 56.4,416.3 56.0,415.8 54.7,416.4 53.9,418.3 54.0,418.3ZM76.3,425.0 73.4,429.5 75.5,432.1 75.8,432.2 79.0,430.6 79.9,428.3 79.7,427.9 76.7,424.9ZM105.4,399.9 105.5,401.1 108.6,402.7 108.9,399.1 108.8,399.1 105.5,399.6ZM83.1,383.3 81.9,386.1 80.2,385.5 79.6,384.7 82.2,382.9ZM45.7,381.4 45.7,381.5 46.5,383.9 48.2,382.7 48.1,382.3ZM102.8,400.0 100.2,400.2 100.8,401.1 102.4,401.5ZM87.9,437.2 87.2,437.0 86.3,438.4 86.5,439.5 88.8,441.2 89.4,440.9 90.2,440.1 90.2,439.8ZM49.2,410.8 46.3,409.2 45.8,412.3ZM99.7,422.1 101.2,421.4 102.3,422.0 102.3,422.0 100.0,423.0ZM103.6,434.8 102.8,438.8 101.8,438.5 101.9,435.7 102.3,435.1ZM89.8,433.9 89.7,433.8 88.8,433.6 88.0,434.1 87.7,434.9 87.7,435.0 88.0,436.2 88.5,436.3 89.9,436.0ZM89.0,408.8 88.3,410.0 87.7,410.1 87.3,410.0 86.1,409.0 85.3,407.4 85.1,406.1 85.4,405.0 87.8,404.3ZM99.9,442.3 97.8,444.3 96.7,443.6 96.3,442.5 96.7,440.8 97.9,440.9ZM35.9,384.9 35.6,386.3 33.8,388.0 33.0,388.0 33.0,387.1 34.3,383.8 35.2,384.1ZM40.3,407.3 39.2,407.2 38.2,408.0 38.3,408.8 38.3,409.0 39.6,409.2ZM102.1,412.4 103.0,414.2 101.0,415.7 100.3,415.2 100.3,414.0 101.0,413.0ZM102.3,405.2 102.5,402.7 102.1,402.0 100.9,401.6 100.1,404.4 101.9,405.3ZM75.6,394.4 74.5,394.8 74.3,394.5 74.3,393.6 75.9,392.8 76.1,392.8 76.0,394.0ZM82.4,396.9 82.4,396.9 83.2,396.0 82.6,394.6 81.4,395.4ZM77.7,440.8 78.6,439.4 78.2,438.7 77.2,437.4 72.6,438.7 74.4,440.9 75.7,441.2ZM50.5,442.4 50.5,443.2 49.1,444.2 49.1,444.2 49.4,442.4ZM99.5,385.6 97.5,385.1 95.8,385.8 95.7,387.8 99.4,388.4 99.8,387.8 100.0,386.5ZM94.1,444.4 95.7,443.7 95.4,442.9 93.5,442.6 93.2,443.8ZM111.3,428.0 112.2,425.6 111.2,425.2 110.3,425.9 109.6,427.1 110.8,428.1 111.0,428.1ZM59.3,416.6 59.0,416.3 58.8,415.1 60.3,414.4 61.7,415.6 61.7,415.8 60.1,416.4ZM83.6,418.2 83.8,420.3 82.2,422.2 80.8,421.5 80.8,420.9 81.3,419.2ZM41.2,438.1 41.4,438.1 42.4,440.6 41.5,441.3 40.3,442.0 40.0,440.7 40.9,438.3 41.1,438.1ZM70.8,381.1 72.0,378.9 74.0,377.8 75.9,381.9 75.6,383.3 74.5,384.4 72.4,383.9 71.4,382.6ZM50.6,380.7 51.5,382.6 51.8,383.0 54.4,382.2 54.4,381.9 51.1,379.6ZM64.3,383.7 65.1,384.1 66.4,383.5 65.6,380.8 64.9,379.7 63.3,380.9 63.3,381.3 64.2,383.6ZM72.3,396.9 71.9,395.2 70.9,395.0 70.9,395.0 71.7,397.3 71.8,397.4ZM99.9,432.4 100.0,432.3 98.0,429.6 97.9,429.6 97.5,430.2 97.3,430.7 98.5,432.5ZM40.0,434.5 41.1,432.9 41.8,432.5 42.3,432.7 42.7,434.3 41.1,434.8ZM76.8,396.8 76.1,395.0 76.6,394.5 78.1,396.0ZM41.0,411.2 38.0,410.3 37.4,411.7 40.7,412.7 41.1,412.5ZM104.9,400.0 105.1,401.2 103.3,402.6 102.7,401.6 103.0,400.1 103.1,400.0ZM87.8,391.9 89.6,388.2 89.3,387.6 87.9,387.9 86.0,389.7 85.8,390.7 87.6,392.0ZM38.1,429.1 40.9,430.2 41.6,431.4 40.7,432.0 39.0,431.8ZM43.8,430.8 43.0,431.3 42.3,431.0 41.5,429.8 42.6,425.9 44.7,424.8 45.1,427.1ZM64.5,417.9 64.4,417.8 62.9,416.2 62.8,415.9 64.7,410.9 65.1,410.9 67.0,415.7ZM37.3,389.6 37.1,389.9 36.0,390.3 34.3,388.5 35.9,386.9ZM56.4,414.2 56.2,413.9 56.8,411.5 58.6,412.0 58.7,412.3 57.6,413.8ZM101.4,407.3 98.4,409.8 98.3,409.8 95.9,408.6 95.8,408.1 97.5,405.6 99.2,406.1 101.4,407.2ZM85.1,431.3 87.1,433.0 88.1,432.3 88.2,430.5 86.2,429.3ZM97.2,411.9 97.8,410.5 95.8,409.4 95.3,411.2 96.3,412.1ZM48.3,383.1 48.3,383.1 46.8,384.1 46.3,385.8 48.1,386.5 49.2,385.9 49.3,385.5ZM84.3,431.1 81.5,431.8 79.6,430.5 80.4,428.5 80.7,428.3 83.9,428.4ZM105.8,442.6 104.1,441.6 106.1,441.0ZM70.0,413.1 71.1,412.9 72.4,411.6 67.9,409.9 66.9,410.9 68.8,412.9ZM58.5,416.4 58.4,415.1 57.8,414.4 56.7,414.8 56.6,415.5 56.9,415.9ZM76.2,420.3 77.6,421.6 79.4,421.4 79.8,421.2 79.8,420.7 78.6,419.7 76.2,420.1ZM39.9,412.7 37.8,412.0 37.1,412.6 37.5,413.4 37.6,413.5 39.1,413.4ZM41.4,401.4 38.5,402.8 38.1,403.5 37.9,403.9 39.0,406.3 40.7,406.4 40.9,406.4 43.5,402.7 42.7,401.5ZM41.2,401.1 39.1,399.5 40.1,398.0 42.7,398.4 42.3,401.2ZM40.7,410.8 39.6,409.5 37.9,409.1 38.2,410.2 40.7,411.0ZM85.1,398.7 85.9,398.6 86.6,398.3 84.0,396.3 83.7,396.3 82.8,397.4ZM49.5,409.5 47.2,408.2 47.0,408.1 48.2,406.4 48.4,406.3 50.5,408.4 50.3,409.6 49.9,409.6ZM84.4,382.9 85.9,379.5 85.6,379.1 83.9,380.0 84.2,382.9ZM104.3,390.9 105.3,392.3 106.3,392.3 106.6,390.5 105.4,387.6 103.5,389.2ZM66.0,393.0 66.3,396.1 66.7,396.5 67.2,396.9 68.6,396.1 70.2,394.6 70.2,394.6 69.9,392.4 67.4,391.9ZM95.1,431.5 94.5,432.6 94.1,433.0 92.9,431.1 93.1,430.4 93.3,430.4 93.9,430.5ZM36.1,379.8 36.1,381.8 35.6,382.4 34.7,382.2 33.5,381.6 33.5,381.5 34.7,379.1 35.8,379.3ZM89.9,403.4 91.4,407.5 89.6,408.9 88.2,403.9 89.2,403.1ZM58.2,402.4 59.7,399.8 59.1,398.4 59.0,398.4 56.5,399.4 56.3,399.7 56.2,399.9ZM56.9,419.7 56.4,419.3 56.8,416.5 58.3,417.0 58.7,417.3 57.2,420.0 57.1,420.0ZM59.8,384.4 57.0,384.0 56.8,387.0 60.1,385.2ZM93.0,429.1 94.0,427.7 92.8,425.3 92.3,425.3 92.2,428.6 92.8,429.2ZM34.7,431.5 35.2,433.8 35.2,434.1 34.7,434.2 33.4,434.2 32.0,433.6 30.5,431.8 30.5,430.6 31.2,430.3ZM36.6,421.8 37.1,422.2 38.6,421.9 38.9,421.5 38.5,419.3 36.4,419.5 36.3,421.1ZM67.6,431.5 68.7,430.5 71.3,429.0 71.4,429.0 72.7,430.0 74.3,431.9 70.3,434.8 68.2,433.7ZM28.1,423.9 29.9,425.6 31.6,424.7 30.2,423.0ZM37.5,404.3 38.3,406.0 37.2,406.9 34.8,406.3 34.8,406.1 36.8,404.3ZM97.3,433.3 96.1,432.0 96.0,432.0 95.4,433.1 97.2,433.4ZM75.7,441.2 74.4,440.8 72.2,443.1 74.3,444.0 74.3,443.9ZM99.1,438.7 97.9,440.1 97.0,440.1 96.2,438.7 96.2,438.5 98.8,438.3ZM80.6,395.1 81.2,395.2 82.5,394.4 82.4,393.9 82.1,393.9ZM91.7,424.5 91.5,428.8 89.4,429.0 88.2,425.9 91.2,424.4ZM106.6,390.5 107.8,389.9 109.1,388.5 107.9,385.5 105.3,387.7 105.3,387.7ZM48.1,402.3 47.5,401.9 44.7,403.1 47.7,405.4 48.0,405.2 48.7,404.3 48.7,403.9ZM27.1,418.3 27.4,418.0 27.5,418.0 31.3,419.6 31.2,420.1 30.2,421.5ZM65.5,392.6 65.8,396.4 59.5,397.7 59.4,397.6 59.4,397.5 61.9,392.9 64.2,392.2ZM34.8,417.2 34.9,418.3 34.3,418.5 32.3,418.8 32.2,415.9 32.6,415.3 34.1,416.1ZM34.9,434.6 33.9,440.1 30.7,440.4 33.4,434.5ZM49.1,441.4 48.0,441.0 48.4,439.4 49.1,439.6 49.8,440.9ZM32.8,401.3 33.3,404.3 34.3,405.9 36.6,403.9 32.8,401.3ZM95.9,412.9 94.5,411.6 93.6,411.9 94.0,415.5 95.4,416.1ZM65.0,438.1 62.6,439.9 63.1,441.0 63.7,441.4 65.6,439.9 65.5,439.3ZM41.1,437.6 40.9,437.8 37.3,438.5 36.3,435.1 38.7,435.1ZM70.6,395.1 71.4,397.4 69.1,396.5ZM72.8,421.4 70.4,420.3 69.5,420.7 69.6,423.5 72.3,423.5ZM101.1,428.2 102.9,426.1 103.0,425.8 102.9,425.2 100.1,425.3 101.0,428.1ZM85.8,441.0 85.6,441.4 85.5,442.6 86.4,443.5 87.3,442.7 88.1,441.4 86.4,440.1ZM58.0,414.1 59.2,412.4 60.4,414.1 58.7,414.9ZM94.3,400.3 92.8,397.8 88.8,399.1 89.0,402.4 89.9,402.8 90.5,402.8 94.3,400.3ZM80.6,419.1 80.1,420.5 78.8,419.4 78.7,417.7 79.3,417.6ZM60.9,409.7 63.9,410.1 63.3,406.1 61.3,407.2 60.6,408.4ZM81.7,413.8 81.2,412.6 81.5,411.8 84.8,410.6 85.9,411.6 82.9,414.2ZM102.4,439.2 102.4,439.3 102.8,441.0 102.1,442.1 100.8,441.7 100.8,439.2 101.7,439.0ZM96.6,430.4 95.7,431.1 95.6,431.1 94.2,430.0 94.6,429.8 96.8,430.0ZM105.3,392.2 103.5,392.6 103.5,396.4 104.2,396.7 106.3,394.3 106.4,392.3 106.3,392.2ZM107.0,391.8 107.0,391.9 109.6,392.2 110.9,391.7 110.9,390.8 108.1,390.0 107.2,390.5ZM33.2,410.0 34.3,410.9 34.7,412.0 32.7,413.5 31.9,412.7ZM40.7,393.8 39.4,393.1 35.9,395.4 35.9,396.2 38.8,396.0 40.8,393.9ZM79.6,386.0 79.1,387.3 77.7,387.9 76.9,387.2 76.2,386.5 76.1,385.6 76.9,384.7 79.1,385.4ZM106.5,380.8 109.2,379.5 109.9,382.6 109.9,382.9 108.7,384.8 108.4,384.9ZM69.2,408.2 68.9,408.2 68.1,409.7 72.3,411.3 72.6,411.1 72.9,410.1 71.6,408.8ZM40.6,401.3 38.6,402.3 37.4,400.0 38.9,400.0ZM54.2,403.5 55.7,399.5 58.4,402.8 58.1,403.9 57.7,404.3 57.6,404.4 54.2,403.8 54.2,403.8ZM75.4,417.8 76.2,416.8 75.8,414.9 75.7,414.6 75.4,414.5 73.2,416.3ZM65.5,409.8 66.3,409.7 67.1,409.0 67.7,407.8 66.6,405.6 65.0,405.5 64.6,406.2 65.1,409.7 65.2,409.8ZM78.8,412.1 80.2,412.3 80.5,411.4 79.8,409.7 79.2,409.3 78.2,409.6ZM36.1,422.4 36.5,422.8 36.1,425.0 34.5,424.8 35.4,422.9ZM37.2,413.9 37.4,415.8 35.3,417.2 34.2,415.8 37.0,413.7ZM77.2,441.3 75.7,441.6 74.6,443.7 77.4,442.6ZM39.7,417.2 37.5,415.7 37.4,414.1 39.4,414.0ZM48.0,434.4 49.2,432.2 49.0,432.0 44.3,431.6 43.5,432.1 44.0,434.0 44.4,434.8ZM37.7,425.7 39.2,424.8 38.6,422.7 37.4,423.0 37.0,425.1ZM107.0,425.6 105.2,426.3 103.8,425.7 103.7,425.1 103.9,424.8 106.9,424.9ZM106.5,436.7 107.9,436.2 108.2,434.7 108.0,434.6 105.7,435.1ZM71.6,397.8 71.4,397.6 68.9,396.6 67.4,397.4 67.4,397.5 67.7,397.9 71.3,399.7 71.5,399.6ZM90.7,392.4 91.8,389.8 90.3,388.2 88.2,392.5ZM91.4,436.7 90.2,436.4 89.9,433.1 90.0,433.1 92.1,436.4ZM32.6,383.3 31.1,384.3 32.7,386.9 33.8,383.9ZM31.7,418.9 31.6,415.9 27.7,417.4 31.6,419.0ZM100.3,386.4 100.1,387.8 102.6,389.5 103.6,389.2 105.4,387.7 105.4,387.7 103.5,386.4ZM81.3,411.0 84.4,409.9 83.6,408.3 80.7,409.5ZM83.4,382.1 83.9,382.1 83.7,380.1 82.6,378.7 81.5,379.9 81.3,380.3 82.6,381.8ZM84.8,431.6 86.8,433.3 86.3,434.5 81.7,432.5 81.6,432.2 84.4,431.5ZM99.9,400.6 99.0,399.8 98.3,400.0 97.6,400.8 97.7,404.1 97.8,404.3 99.6,404.7 100.5,401.3ZM29.8,413.1 27.7,414.2 27.4,416.8 27.5,416.8 31.3,415.3 31.8,414.7 31.7,414.5 30.9,413.5ZM108.2,413.6 109.9,416.8 107.1,416.1 106.5,415.2 107.4,414.1ZM94.6,378.2 94.6,382.0 95.7,381.8 94.8,378.5ZM59.9,412.1 59.9,411.9 60.8,410.9 63.6,411.3 63.8,411.4 62.5,414.8 61.0,413.6ZM76.6,437.3 76.2,435.0 75.5,433.0 75.2,433.0 71.0,436.0 71.3,437.4 71.4,438.0 73.0,438.4ZM69.7,418.7 69.9,417.8 69.1,416.5 67.6,415.8 67.4,416.0 65.6,417.5 67.0,418.9 68.9,419.1ZM48.8,436.3 48.1,438.4 48.4,438.9 49.2,439.2 50.6,438.9 50.8,437.5 48.9,436.1ZM45.1,408.5 45.5,408.4 43.9,402.8 43.4,402.7 40.8,406.4 42.1,408.0ZM59.4,439.4 58.1,440.5 55.6,438.3 55.8,437.9 58.0,438.4 59.1,438.9ZM91.6,394.5 88.9,396.5 88.2,394.1 88.2,393.6 88.4,393.5 90.7,393.5ZM63.4,390.3 64.2,391.8 65.3,392.2 66.8,391.0 66.7,389.2 65.4,387.7 64.5,387.8ZM34.7,429.3 36.9,428.1 36.8,427.0 36.0,426.3 34.2,426.0 33.8,426.0 33.3,428.7ZM85.6,434.6 82.9,435.2 82.6,434.8 82.1,433.0 85.7,434.5ZM32.3,409.4 32.5,409.7 31.2,412.3 30.3,411.9 29.8,409.7 32.1,409.4Z" fill="#e3e1ea"/>
<path d="M52.9,421.5 51.6,418.8 51.2,418.9 50.7,419.4 52.3,423.1 52.6,423.2 52.9,422.9ZM75.5,406.9 75.3,409.0 75.8,409.1 77.9,409.3 79.4,409.0 80.0,406.4 78.9,405.3ZM53.9,428.6 52.9,430.8 56.9,430.5 56.1,428.5ZM92.6,424.4 91.8,424.4 91.2,424.1 90.0,421.2 90.6,419.1 94.0,418.5 94.3,422.1 93.0,424.2ZM53.0,425.2 52.7,424.7 52.4,423.1 52.7,422.7 57.3,420.8 57.4,420.9 58.1,421.8 57.9,422.3ZM74.5,405.1 72.0,405.3 71.5,404.9 70.0,402.9 70.1,402.7 75.2,403.0ZM52.4,431.9 52.8,437.3 50.9,437.5 48.5,435.7 48.4,434.6 50.0,431.6 52.2,431.7ZM59.8,435.0 59.2,434.4 59.5,431.2 59.5,431.1 60.0,430.4 63.2,431.0 62.7,435.4ZM52.9,430.7 51.8,432.1 52.0,432.3 53.4,433.1 59.9,431.4 59.9,431.3 56.9,430.4ZM83.6,417.7 83.9,420.3 85.6,421.3 86.4,418.2 86.2,417.6 83.8,417.4ZM73.8,400.0 75.0,403.2 77.1,403.0 78.0,400.4 75.9,398.5ZM51.3,396.2 51.0,395.5 53.2,394.9 56.3,399.0 56.0,399.4 53.0,399.2ZM60.5,416.8 63.1,415.9 64.7,417.6 60.6,422.5 60.3,422.5ZM47.9,395.5 47.8,395.4 48.6,392.6 53.4,390.0 54.3,394.2 53.3,395.3 51.1,395.9ZM53.3,421.0 56.9,420.6 57.3,421.0 52.8,422.9 52.8,421.5ZM86.3,418.1 88.5,420.9 86.0,422.1 85.5,421.2ZM76.8,397.3 75.8,398.4 75.7,398.7 77.8,400.6 78.6,400.6 81.0,398.2 78.9,396.1 78.8,396.1ZM83.8,417.7 86.2,417.9 87.4,417.0 88.0,411.2 87.3,411.0 82.7,414.9ZM89.4,417.8 90.6,414.1 88.7,411.1 88.5,411.0 87.7,411.1 87.1,417.0ZM57.4,423.2 57.4,425.2 59.9,428.6 60.7,427.8 62.8,424.6 60.8,422.1 60.4,422.0 57.7,421.7 57.5,422.2ZM60.1,435.0 59.5,439.0 58.0,438.3 58.1,434.7 59.5,434.1 60.1,434.7ZM81.6,398.2 82.7,400.4 82.8,400.9 78.5,400.5 78.4,400.4 80.8,398.0ZM53.6,426.2 50.3,427.2 50.3,424.9 53.0,424.5 53.3,425.0ZM53.3,421.0 53.7,418.3 53.7,418.3 52.5,418.3 51.5,418.8 52.8,421.5ZM78.6,400.3 78.6,400.3 77.8,400.3 76.9,402.9 77.4,403.4 78.8,404.3 80.9,402.8ZM60.1,428.4 60.5,430.7 59.9,431.5 56.8,430.6 56.0,428.5 57.0,428.2ZM78.5,400.5 82.8,400.9 83.3,402.8 80.8,403.0ZM56.0,426.1 57.0,428.4 60.1,428.6 60.1,428.5 57.6,425.1ZM53.8,426.2 54.0,426.6 54.2,428.8 53.3,430.9 52.2,432.4 50.0,432.3 49.7,432.0 49.6,431.6 49.8,427.6 50.3,427.1 53.6,426.0ZM62.6,435.4 63.1,431.0 63.2,431.0 66.7,431.2 66.9,431.4 67.8,434.4 65.6,436.0 63.6,435.9ZM53.5,426.5 57.7,423.2 57.8,422.2 53.0,425.1 53.3,426.2ZM71.6,399.7 71.4,399.9 70.1,402.8 75.2,403.1 75.2,403.1 74.0,399.9ZM90.4,421.3 88.4,421.0 86.2,418.2 86.0,417.6 87.2,416.7 89.5,417.5 90.7,418.5 91.0,419.2ZM50.4,424.9 46.0,422.0 45.3,422.0 44.9,423.5 49.9,427.8 50.4,427.2ZM55.7,437.8 56.2,435.3 53.6,432.7 52.2,431.9 52.6,437.3 54.4,438.9 55.3,438.2ZM57.3,392.8 56.9,394.0 59.4,397.8 62.1,392.9 60.6,392.0ZM64.1,428.3 63.5,428.9 63.2,431.3 66.7,431.6 65.7,428.2ZM90.5,418.8 89.3,417.8 90.5,414.0 92.3,415.5ZM53.4,426.4 53.7,426.8 56.1,426.3 57.7,425.2 57.7,423.2ZM96.1,416.9 94.0,418.7 90.6,419.3 90.4,418.7 92.2,415.4 93.2,415.4 94.1,415.6 95.8,416.4ZM59.6,428.4 60.4,427.5 63.3,428.1 63.5,428.9 63.3,431.4 63.1,431.4 60.0,430.8 59.6,428.4ZM57.3,392.6 60.1,390.0 60.6,392.2 57.4,392.9ZM63.5,428.1 63.3,428.2 60.4,427.6 62.5,424.4 65.0,424.5 65.3,424.8ZM59.8,435.1 62.1,438.1 63.7,435.6 62.8,435.1 59.8,434.7ZM45.0,423.4 44.7,423.9 45.2,426.8 49.9,431.6 50.1,427.6ZM63.4,428.1 65.3,424.8 65.4,424.9 65.7,428.3 64.1,428.4ZM57.3,392.7 56.0,388.0 60.0,389.1 60.1,390.0ZM59.2,417.1 56.9,421.2 57.6,422.1 60.3,422.5 60.5,416.8ZM80.7,402.6 78.7,404.1 78.7,405.5 79.8,406.6 84.4,405.8 84.9,404.3 83.7,402.9 83.3,402.5ZM59.9,431.2 59.6,434.4 58.2,435.0 56.0,435.6 53.4,432.9ZM53.0,395.0 54.0,394.0 57.2,393.8 59.7,397.5 59.7,397.6 56.2,399.1ZM80.0,409.5 84.6,407.6 84.3,405.6 79.7,406.4 79.1,408.9ZM52.4,422.9 52.7,423.0 53.0,424.6 50.3,425.0 45.9,422.1 46.3,422.0ZM53.3,421.0 53.6,418.3 56.3,419.9 56.9,420.6ZM58.1,438.3 58.2,434.7 55.9,435.3 55.4,437.7ZM57.6,392.6 56.3,388.0 55.7,387.4 54.0,388.1 53.1,390.1 54.0,394.3 57.2,394.1 57.7,392.9ZM75.5,406.8 77.6,403.2 79.0,404.1 79.0,405.4 75.6,407.1ZM59.9,435.0 59.3,438.9 59.6,439.6 61.8,440.2 62.2,438.0ZM52.4,423.1 46.3,422.2 50.8,419.4ZM60.4,422.3 64.5,417.5 64.6,417.5 66.7,419.6 64.9,425.0 62.5,424.8ZM63.5,428.1 63.3,428.2 63.5,428.9 64.1,428.3ZM91.7,424.0 88.0,425.9 86.5,425.9 85.8,425.1 85.1,424.0 85.9,421.9 88.4,420.8 90.4,421.0ZM75.5,406.9 74.3,405.1 74.9,402.9 75.0,402.9 77.1,402.7 77.6,403.3ZM53.7,426.6 53.9,428.8 56.1,428.7 57.1,428.4 56.1,426.1ZM50.2,431.9 43.7,431.4 45.4,426.7 50.0,431.5Z" fill="#e3e1ea"/>
</g>
<rect x="81.3" y="424.6" width="25" height="15.5" rx="2" fill="#fff" opacity="0.42" filter="url(#sb2)"/>
<text x="103.5" y="435.0" font-size="7.5" text-anchor="end" fill="#1a1a1a" style="stroke-width:0.1px">50 μm</text>
<line x1="91.3" y1="437.6" x2="101.0" y2="437.6" stroke="#8a8a8a" stroke-width="0.8"/>
</g>
<clipPath id="c4"><rect x="110.4" y="382.5" width="77.7" height="59.1"/></clipPath>
<g clip-path="url(#c4)">
<rect x="110.4" y="382.5" width="77.7" height="59.1" filter="url(#m4)"/>
<g filter="url(#sb)"><path d="M161.2,429.2 160.3,428.5 159.3,428.9 159.7,429.9 160.9,429.8ZM174.6,447.6 176.4,443.5 175.3,442.0 175.2,442.0 174.5,446.3 174.6,447.5ZM188.6,421.7 189.5,422.6 189.4,423.0 188.0,423.4 188.0,423.4 188.1,422.2 188.1,422.1ZM146.4,395.1 145.3,394.6 144.7,393.7 145.0,393.4 150.0,394.1 149.9,394.4 147.4,395.1ZM154.5,415.8 154.6,416.3 154.6,417.3 153.0,418.5 152.6,418.7 151.9,416.6 153.6,415.3ZM130.0,439.9 130.0,439.8 129.0,439.6 128.5,441.4 128.5,441.5 129.8,442.0ZM172.5,386.8 172.0,387.1 171.8,387.5 171.8,388.0 172.7,389.6 173.9,389.6 173.9,387.4 173.7,386.9ZM154.4,425.1 152.7,426.3 152.4,426.3 151.3,423.4 151.8,423.2 153.9,423.9ZM123.9,443.4 122.8,444.0 122.6,444.0 122.0,442.7 122.2,441.4 122.4,441.3 123.2,442.1ZM184.9,397.0 182.4,397.4 183.2,399.5 183.7,400.0 184.4,399.2ZM135.9,388.7 136.0,388.9 137.2,389.5 137.4,388.7 137.4,388.2 137.1,388.1 136.5,388.0 135.9,388.6ZM130.8,417.8 130.9,417.7 132.1,417.6 132.6,419.3 131.3,420.7 131.0,420.6ZM134.1,397.2 133.0,398.3 133.8,399.9 135.5,399.6 135.7,397.2 135.0,397.0ZM177.4,411.1 177.3,411.1 177.5,410.2 178.0,409.9 178.1,410.5 178.0,410.8ZM132.1,410.3 131.9,411.4 132.0,411.6 133.1,412.1 134.2,410.4 134.1,409.6 134.1,409.6 132.2,410.2ZM168.3,380.6 168.1,380.2 166.8,380.9 165.9,381.4 166.0,381.5 166.8,381.9ZM172.3,437.5 170.2,437.8 170.0,437.7 169.9,437.2 172.2,435.1 172.6,436.1 172.7,436.7ZM138.4,416.7 136.0,416.4 136.4,417.7 138.6,418.3 139.0,418.1 139.0,417.2ZM121.5,444.5 119.3,445.6 119.1,445.2 120.9,443.2ZM122.6,428.5 123.7,429.3 123.8,431.0 122.0,432.3 121.3,431.9 120.3,429.5 122.0,428.3ZM188.0,443.1 187.8,442.0 187.3,441.7 186.2,442.5 186.1,443.0 187.5,443.6ZM150.6,432.6 150.2,431.8 150.2,431.5 151.5,430.2 151.7,430.1 151.9,430.2 152.4,431.2 152.5,431.3ZM160.1,442.3 160.1,442.6 158.7,443.1 157.8,442.3 158.1,440.1 160.1,441.5ZM133.6,442.3 133.7,440.8 135.3,440.2 136.2,440.3 136.5,440.6 135.1,444.2 134.5,444.6 134.2,444.1ZM118.5,380.3 119.1,381.0 119.9,381.1 120.1,380.9 119.5,379.0 118.3,379.5 118.3,379.5ZM139.5,394.2 139.5,393.8 141.1,392.6 142.1,393.6 142.1,393.6 140.4,394.6ZM157.9,436.4 157.5,436.8 157.3,433.8 158.6,434.6 158.6,434.7 158.5,435.5ZM144.2,406.4 144.4,405.5 145.9,405.6 147.6,406.1 147.7,406.5 144.7,407.0ZM111.1,442.2 110.7,442.5 109.7,442.3 109.2,441.9 109.0,440.9 109.5,440.2 110.0,440.3 110.5,440.8ZM107.5,412.6 107.5,412.6 105.6,411.4 108.1,411.0 108.1,411.0ZM180.3,386.2 178.5,385.0 179.1,386.4ZM169.7,442.9 171.1,443.5 172.4,447.8 172.5,449.6 169.0,445.6 168.7,444.7 169.7,442.9ZM161.7,431.8 161.2,433.1 160.3,432.4 160.3,432.4 161.5,431.6ZM115.5,408.3 115.2,406.8 113.4,407.1 114.1,408.4 114.9,408.7ZM117.0,436.9 117.5,435.4 117.9,435.3 118.9,437.8 117.9,438.0ZM131.4,409.2 131.5,409.4 131.3,409.6 130.4,409.1 130.5,408.1ZM148.6,427.4 150.6,428.3 148.3,430.5 147.0,429.1 146.9,428.1 147.2,427.9ZM147.3,396.5 147.7,395.9 150.2,395.2 150.2,395.3 149.7,397.3 147.0,398.9 146.4,398.9ZM140.5,387.9 141.5,387.0 141.2,386.3 140.1,387.5ZM189.2,420.4 190.0,419.0 191.7,419.4 194.1,420.4 190.4,422.0 189.1,420.8ZM149.2,402.1 150.2,400.2 148.3,400.7ZM113.1,396.6 113.6,396.5 114.1,396.1 114.0,394.8 112.2,394.8 112.1,395.9ZM174.7,439.9 174.6,439.8 173.2,438.0 173.6,437.2 174.7,437.3 175.5,439.3 174.9,439.8ZM174.3,427.2 175.1,425.5 174.1,424.9 173.2,426.4ZM163.9,429.6 164.4,430.2 164.3,430.6 164.0,431.4 163.5,431.1ZM135.6,428.3 135.4,427.6 136.4,425.4 139.4,427.4 138.4,427.9 136.1,428.3ZM129.2,410.3 128.5,411.7 130.0,412.1 130.8,411.8 130.8,411.6ZM172.3,425.8 173.1,426.2 173.9,424.9 173.5,424.6 172.3,425.8ZM130.6,443.2 131.6,443.1 132.1,444.3 130.4,443.6ZM161.7,418.0 161.4,416.7 161.6,416.0 162.3,415.9 162.9,416.3 162.8,418.3ZM145.5,435.4 146.4,435.6 147.8,435.1 147.6,434.3 147.1,433.3 145.5,433.6ZM162.3,432.3 161.9,433.3 161.9,433.8 162.8,434.4 163.6,433.3 163.2,432.7 162.8,432.4ZM136.8,422.1 136.2,421.1 134.8,421.6 134.2,422.8 135.9,423.8 137.0,422.9ZM169.4,435.7 169.4,435.2 171.4,434.9 171.4,434.9 169.8,436.4ZM121.1,434.3 121.7,437.2 121.7,437.2 121.1,438.1 120.8,438.2 119.7,438.2 118.4,434.7 120.4,433.9ZM188.2,412.2 188.9,411.7 189.4,410.5 189.3,410.4 187.8,410.2 187.5,410.7 187.7,411.4 188.1,412.1ZM166.4,427.8 167.3,427.3 167.0,426.6 166.8,426.6 165.0,426.8 165.0,427.4 165.3,427.6ZM168.3,388.9 169.1,389.9 170.3,388.6ZM173.9,417.4 174.2,417.2 174.9,418.7 174.6,419.0 173.8,418.1ZM164.8,406.8 165.2,405.3 165.2,405.3 165.0,405.0 164.3,405.4 163.7,407.2 163.9,407.6 164.2,407.4ZM161.1,430.6 159.6,430.6 159.2,431.4 160.1,432.1 161.4,431.2ZM162.7,426.8 161.3,426.1 161.1,426.1 160.9,427.8 161.7,428.5 162.6,427.9 162.8,427.4 162.8,426.8ZM124.9,424.9 123.3,426.7 122.7,426.5 122.4,424.7 124.7,424.7ZM161.0,379.6 161.2,380.7 160.9,380.5 160.7,379.2ZM147.6,390.0 145.3,392.3 145.1,393.0 150.0,393.7 150.2,393.4 147.7,390.0ZM134.1,389.2 134.2,389.5 132.9,390.9 132.4,390.9 132.5,389.5ZM160.2,418.3 160.0,417.0 159.0,417.8 159.0,419.7 159.1,419.7 159.9,419.4ZM127.1,441.1 127.8,438.7 127.7,438.6 123.6,438.6 123.0,439.6 124.1,440.8ZM130.8,406.2 131.1,405.9 130.1,404.5 129.6,404.1 128.9,404.4 128.7,406.6 130.1,406.6ZM115.1,436.3 113.9,435.5 113.9,434.8 114.6,434.4 115.2,434.5 115.8,434.9 115.3,436.4ZM160.9,383.9 161.3,382.9 160.8,382.6 160.3,382.4 158.9,382.1 158.9,383.5 159.1,384.2ZM152.8,401.5 153.4,401.5 154.6,400.1 153.1,400.1ZM157.4,444.1 157.4,444.5 155.9,444.7 155.8,444.6 155.9,443.8 156.9,443.6ZM176.3,421.5 176.6,421.2 176.9,421.1 177.6,422.0 177.3,423.0 176.2,421.6ZM138.1,387.1 137.9,386.6 137.5,386.0 137.3,386.0 137.5,387.2 137.8,387.3ZM159.2,415.7 158.8,415.4 157.8,415.3 156.6,415.8 156.6,416.2 158.2,416.9 158.3,416.9 159.1,416.3ZM159.2,401.9 159.1,402.3 158.2,402.5 158.0,400.7 158.6,400.2ZM115.5,417.0 115.8,416.2 113.2,416.2 113.0,416.4 113.0,416.7 114.9,417.2ZM159.3,386.4 160.6,386.6 160.6,386.7 159.7,387.8 159.0,387.8ZM161.4,440.1 161.9,438.5 160.1,439.1 160.9,440.4ZM136.1,406.2 135.8,406.6 136.1,407.7 138.9,407.9 139.5,406.8 139.5,406.5 138.0,406.1ZM142.2,399.9 142.1,399.6 141.2,398.5 140.9,398.9 142.1,399.9ZM130.1,409.7 129.3,410.0 129.2,410.0 131.0,411.4 131.2,410.1ZM115.9,420.1 115.0,420.4 114.9,420.4 115.4,421.4 115.9,421.4 116.1,420.7ZM145.1,398.6 143.4,397.2 143.4,397.2 144.3,396.9ZM129.6,442.7 129.6,442.6 128.3,442.2 128.2,442.4 129.2,443.5 129.4,443.3ZM173.4,394.1 173.4,394.0 175.3,392.2 175.9,394.2 173.5,394.4ZM161.3,418.5 162.7,418.9 164.3,420.0 164.2,420.3 162.6,420.8 160.9,419.9ZM172.1,397.2 171.4,397.7 171.5,399.0 172.7,398.6 172.9,398.3 173.1,397.2 173.0,397.1ZM131.2,413.1 132.2,413.6 132.7,414.8 131.8,415.5 130.8,415.6 130.5,414.8 130.6,413.4ZM146.8,402.7 145.9,400.3 145.7,400.4 144.9,401.1 144.9,402.5 145.7,402.7ZM171.2,417.6 169.7,418.0 170.1,418.7 171.3,419.1 171.9,418.4ZM108.3,394.2 107.5,393.9 107.5,393.9 107.4,395.4 108.1,395.8 108.4,394.3ZM145.1,440.5 146.0,441.1 146.1,441.9 145.0,442.7 144.9,440.6 145.1,440.5ZM184.8,414.6 183.3,417.1 183.2,416.9 182.4,415.3 183.2,414.1ZM181.9,390.7 182.2,390.1 182.1,389.8 181.2,389.1 178.8,389.8 178.7,389.9 179.2,390.5 180.4,391.2ZM130.8,436.8 130.7,436.9 129.8,436.7 129.8,436.7 129.8,436.4 130.3,435.3 131.9,435.0 132.0,435.1ZM111.5,435.7 111.4,435.0 111.0,434.8 110.2,434.9 109.4,436.5 109.9,437.1 110.6,437.2ZM166.1,407.2 166.4,406.2 167.2,407.1 166.8,407.7ZM185.2,386.7 185.2,386.4 186.6,385.9 187.2,386.8 187.4,387.3 186.9,388.1 185.3,387.3ZM146.1,416.5 146.2,416.6 147.7,415.9 148.0,415.6 146.7,413.7 146.2,413.9 145.7,415.6 145.8,415.7ZM148.4,400.5 150.0,400.0 150.1,399.9 150.2,399.0 150.0,398.3 147.6,399.7ZM119.0,418.8 117.4,418.5 117.2,417.6 117.5,416.9 117.5,416.8 118.9,416.8 120.5,418.3 120.6,418.3 119.4,418.8ZM174.9,381.0 175.0,380.7 175.5,380.2 177.1,380.2 178.7,382.1 177.5,383.1 177.0,383.1 176.3,383.0 176.1,382.8ZM123.1,433.9 123.6,436.7 126.2,434.0 126.0,433.1 124.9,432.7ZM175.0,422.4 176.3,424.0 176.4,424.2 175.4,424.4 174.8,424.0 174.5,423.7 174.4,422.8ZM167.9,379.5 166.7,380.6 168.0,380.0ZM168.6,385.5 168.7,386.7 167.4,387.7 167.1,387.5 167.0,387.5 167.6,385.1ZM130.3,442.3 130.2,442.2 130.5,439.4 132.4,440.5 132.2,442.2ZM141.1,388.4 141.4,389.0 142.0,388.8 142.3,388.4 142.1,387.8 141.7,387.5 141.0,388.1ZM160.3,379.2 158.5,375.3 157.9,379.5 157.9,379.5 159.4,380.6 160.5,380.8ZM115.5,404.5 113.7,404.3 113.4,403.9 114.6,402.7 115.8,404.2ZM111.3,381.4 111.2,381.6 110.0,380.9 110.1,380.3 111.2,379.8 111.7,380.4 111.7,380.5ZM156.1,427.4 156.9,428.7 156.5,429.3 154.9,429.9 154.2,428.7 156.1,427.4ZM182.5,386.7 183.6,385.4 184.2,386.2 184.1,386.5ZM143.9,400.0 142.9,399.9 142.8,399.5 142.9,398.6 144.6,399.4ZM117.4,420.9 117.3,420.9 117.1,422.0 117.9,422.9 118.4,422.8 118.6,421.0ZM149.0,441.0 149.1,442.3 149.3,442.3 150.5,440.6ZM155.3,420.8 154.7,422.0 152.3,421.2 153.1,419.9 153.5,419.8ZM128.1,417.2 127.1,415.6 129.2,415.5 129.3,415.5 129.7,416.4 129.6,416.6ZM152.7,386.0 151.6,386.7 149.2,387.8 149.1,387.8 149.1,387.7 148.9,386.7 149.7,385.0 151.3,385.1 152.6,385.8ZM124.5,404.6 123.8,402.1 125.7,402.1 126.5,403.4 126.5,403.4 124.8,404.7 124.7,404.7 124.6,404.6ZM112.2,423.1 111.7,423.6 112.2,425.0 113.0,424.7 113.0,423.5 112.4,423.1ZM113.3,385.1 114.4,386.0 113.6,387.0 111.8,385.7 111.9,385.3ZM158.1,393.9 157.9,393.2 157.0,392.0 155.7,393.4 156.6,394.0ZM133.1,434.2 133.0,434.0 132.3,432.9 132.8,431.5 134.2,430.9 134.8,433.7 133.9,434.3ZM187.5,425.3 187.8,424.6 189.9,423.9 190.3,424.6 187.9,426.0ZM124.9,384.3 125.8,385.1 124.7,386.7 124.4,386.6 123.1,385.8 122.9,385.4 124.4,384.2ZM177.3,385.1 177.8,385.0 177.9,385.3 178.5,386.6 178.0,388.2 177.2,387.0ZM123.6,400.7 123.8,401.0 125.7,401.1 126.9,400.0 126.9,399.6 125.6,399.3 124.2,399.7 123.6,400.2ZM160.6,399.2 159.5,402.0 158.6,399.7 158.7,399.6 160.5,399.2ZM139.3,386.9 139.6,385.8 139.5,385.8 138.6,386.4 138.8,387.0ZM179.4,422.0 178.5,422.1 178.1,423.5 178.2,423.7 178.7,424.0 179.6,422.2ZM182.0,413.4 181.9,412.9 181.0,412.1 180.4,412.3 180.2,412.5 181.0,414.5 181.3,414.6ZM156.0,417.2 156.9,418.4 158.3,417.3 156.0,416.3ZM171.9,406.3 171.2,405.8 169.8,404.3 169.8,404.3 171.5,403.9 172.4,404.7ZM184.7,410.6 183.7,409.6 183.7,409.6 183.6,411.6 183.9,411.5ZM145.5,439.8 146.5,438.6 147.2,440.0 146.5,440.5ZM147.6,383.5 147.5,383.0 146.1,381.4 145.8,381.3 144.3,383.1 144.9,384.1ZM118.4,389.2 118.7,389.2 120.5,387.2 120.2,386.7 120.0,386.5 117.3,386.4 118.1,389.1ZM138.3,402.5 138.0,402.6 136.6,404.3 136.6,404.9 138.0,404.8 138.8,402.9ZM126.9,396.3 127.7,395.7 128.2,396.9 127.8,397.2ZM137.4,441.1 137.7,441.2 138.2,444.0 136.2,444.3ZM164.9,425.2 165.7,423.5 166.6,425.1 165.0,425.2ZM146.7,442.9 147.6,443.2 146.3,445.4 145.6,443.8 145.8,443.4ZM115.9,423.0 116.8,423.9 115.9,425.7 114.2,424.9 114.2,423.4 115.2,422.9ZM129.7,424.3 131.7,423.3 132.1,423.5 131.5,425.6 129.7,426.0ZM124.6,380.9 125.2,381.3 125.8,381.9 125.3,383.3 124.6,383.1 124.0,381.4 124.6,380.9ZM170.6,427.0 169.3,427.4 169.3,427.5 170.2,427.7 170.6,427.0ZM118.9,394.3 118.2,393.6 119.8,392.9 120.1,393.1 120.5,393.9ZM162.3,406.1 161.8,406.0 161.6,406.3 161.5,408.4 162.8,408.6 163.2,407.9 163.1,407.5ZM110.5,430.5 111.0,432.9 109.9,433.0 109.0,432.3 108.9,432.2 109.3,430.7ZM142.2,381.7 142.3,381.6 143.9,379.7 143.7,379.2 140.3,379.6ZM150.2,402.3 151.3,402.0 151.6,401.7 150.8,400.7 150.8,400.8 150.2,402.0ZM112.1,381.9 111.9,382.2 112.1,382.6 112.8,382.7 114.0,382.2 114.1,382.0 113.1,381.6ZM184.9,410.9 185.6,411.0 185.9,411.2 186.2,412.0 184.2,411.6ZM188.2,381.0 189.3,380.3 189.3,380.2 187.2,380.0 187.4,380.7 187.7,380.9ZM126.7,378.9 127.7,379.8 127.6,380.2 125.6,380.7 125.1,380.4ZM127.4,407.1 126.7,407.1 125.1,405.7 127.2,404.2 128.3,404.3 128.1,406.6ZM119.4,411.8 120.0,414.0 121.6,413.0 121.9,411.7ZM111.7,398.2 112.9,399.1 112.9,399.2 111.9,399.5 110.7,398.5 111.5,398.2ZM113.4,415.4 113.5,414.5 115.2,414.5 115.6,415.4 115.5,415.4ZM147.3,418.5 147.0,418.1 146.7,417.2 148.0,416.6 148.4,417.2 147.5,418.7ZM169.5,441.9 168.0,440.9 168.0,440.8 169.4,439.8 169.5,439.9 169.9,440.6ZM178.6,391.0 178.1,390.4 176.6,391.3 179.2,393.4ZM113.9,399.3 114.1,399.4 116.4,398.0 116.4,398.0 115.0,396.9 114.4,397.4 113.9,399.2ZM177.0,398.2 177.0,397.9 177.6,397.5 178.9,397.5 179.0,397.7 177.6,399.7ZM115.5,382.3 115.7,381.8 116.3,382.0 116.3,382.0 116.8,382.5 116.4,383.9 116.3,383.9 115.4,382.5ZM127.3,382.3 127.5,383.4 127.3,383.8 126.8,384.0 125.9,383.2 126.2,382.2ZM167.7,379.6 166.7,380.5 166.0,380.9 165.9,380.9 166.0,379.6 166.2,378.3 167.7,379.4ZM137.5,384.4 137.0,384.2 136.9,384.1 138.0,382.6 138.7,383.2 138.0,384.3 137.7,384.4ZM142.5,399.6 141.1,397.9 141.2,397.8 142.2,397.8 142.5,398.5ZM171.1,415.1 171.6,416.6 172.0,416.3 172.1,415.2 171.1,415.1ZM183.4,422.3 183.5,423.2 184.6,424.3 184.9,424.4 185.7,424.4 186.0,423.9 185.9,423.8 183.7,421.8ZM172.3,416.9 173.0,417.1 172.8,417.9 172.3,417.9 171.8,417.3 171.9,417.2ZM144.6,435.5 144.6,433.6 143.3,433.1 142.8,433.8 144.1,435.6ZM170.5,426.3 170.6,426.2 170.6,426.1 169.7,425.2 168.9,425.6 168.5,426.1 168.8,426.7 168.9,426.9ZM137.7,385.4 138.2,385.2 139.6,385.6 138.4,386.3ZM111.6,388.9 109.7,388.7 109.7,388.6 110.5,388.0 111.7,388.9ZM128.1,423.1 128.1,423.1 128.9,424.3 129.0,425.9 128.8,426.1 128.2,426.3 127.7,426.3 127.3,425.6ZM128.8,381.4 131.1,381.7 130.2,379.7 130.0,379.7 128.9,380.0 128.8,380.5ZM172.6,415.4 173.7,415.2 173.9,415.6 173.5,416.3 173.2,416.5 172.5,416.4ZM115.2,401.1 115.9,400.9 117.5,403.5 117.5,403.5 116.5,403.8 115.2,402.1 115.1,401.8ZM180.3,442.9 182.1,450.0 182.3,450.8 183.1,448.5 183.5,444.0 181.7,443.0 180.6,442.5ZM144.0,402.5 143.3,403.7 141.8,403.4 141.2,402.4 142.7,401.2 142.8,401.1 144.0,401.2ZM114.6,399.5 114.5,399.4 116.0,398.5 116.2,398.9 116.1,399.3 115.5,399.8 115.0,399.9ZM186.2,409.9 185.8,408.4 185.9,408.1 186.9,408.5 186.8,409.5 186.4,410.1ZM144.2,408.5 144.1,407.5 143.6,406.8 143.2,407.0 143.0,408.9ZM173.2,446.0 172.3,443.1 172.7,442.2 173.9,441.8 174.0,441.8ZM157.2,384.0 158.2,383.8 158.4,384.3 158.2,384.6 158.2,384.6ZM176.7,406.4 177.5,407.1 177.3,404.6 176.9,404.3ZM140.8,391.9 138.9,393.4 138.1,392.2 138.2,391.2 140.6,391.0ZM155.1,400.7 154.1,402.0 155.5,403.8 156.1,403.0 155.9,400.7 155.3,400.6ZM172.5,394.0 172.5,393.9 171.2,392.4 170.1,392.8 170.7,393.8 171.4,394.2ZM137.5,394.5 137.4,394.2 136.8,393.1 135.3,393.6 135.5,395.5 136.0,395.6 136.3,395.6ZM180.2,419.9 180.9,421.0 180.4,421.1 180.2,420.9 179.9,420.0ZM140.0,387.4 141.1,386.2 140.8,385.5 140.2,385.8 139.7,387.2ZM178.8,411.8 179.1,412.1 179.5,411.8 179.7,411.6 178.7,410.8 178.5,411.1ZM112.3,427.0 112.2,427.3 112.3,428.3 112.7,428.4 112.7,428.4 115.2,427.5 115.1,427.0 113.5,426.3 112.7,426.6 112.6,426.6ZM187.1,392.1 187.3,392.0 187.0,389.9 184.0,390.4 185.1,391.8ZM176.0,401.2 175.5,400.7 175.2,399.7 175.6,399.0 175.9,398.6 176.6,400.2 176.5,400.6 176.0,401.2ZM166.1,439.1 165.7,437.3 164.3,437.0 164.2,437.4 164.2,437.6 165.7,439.2 165.9,439.2 166.0,439.2ZM159.5,434.0 160.1,432.7 160.9,433.4 161.0,434.0 159.6,434.1ZM149.9,420.5 150.0,420.5 150.6,420.2 151.4,418.9 150.9,417.0 150.5,417.0 150.2,417.3 149.3,419.9ZM119.8,403.9 121.3,404.9 122.5,404.9 121.9,402.9 121.7,402.7 120.1,403.5ZM133.7,404.6 133.5,404.9 132.2,404.8 131.6,403.8 133.0,403.2 133.7,404.2ZM177.3,442.9 177.9,442.7 178.1,442.5 177.0,440.8 176.9,440.8 176.6,440.9 176.1,441.3ZM151.3,434.2 151.2,433.6 153.1,432.3 153.7,433.1 153.6,433.1 151.5,434.4ZM136.8,419.6 138.2,418.8 138.3,418.7 136.4,418.2 136.4,418.9ZM163.7,414.8 162.9,414.3 164.4,412.0 164.9,412.0 166.3,414.2 164.1,415.0ZM129.1,381.8 130.8,382.0 131.2,382.4 129.1,383.2 129.0,382.0ZM112.5,402.5 112.3,402.8 111.3,402.1 111.8,401.3 112.5,401.5ZM169.4,397.5 166.9,396.9 166.2,397.6 167.8,399.9 169.0,399.9 169.8,399.6 169.9,399.4 169.7,397.7ZM170.1,381.7 167.4,383.2 166.9,382.7 168.8,380.8ZM191.4,440.2 190.6,439.0 189.5,440.8ZM164.4,436.1 164.4,435.9 165.4,434.7 166.8,434.5 167.2,435.6 167.3,436.0 165.9,436.5ZM170.1,419.2 171.0,419.6 171.4,421.0 170.5,421.2 170.1,420.9ZM183.1,393.8 185.5,394.5 186.8,393.0 185.0,392.7 183.3,393.5ZM185.8,419.5 185.3,419.0 184.4,419.2 184.4,420.3 186.5,421.0 186.6,420.9ZM167.5,416.9 167.8,415.1 167.7,415.0 166.5,414.8 164.5,415.6 166.0,417.7 167.4,417.0ZM167.1,404.0 166.9,403.6 166.8,403.4 167.9,401.8 168.9,401.8 169.0,403.7 169.0,403.7 168.8,403.9ZM183.1,392.6 184.5,392.0 183.7,391.0 183.2,390.8 183.1,391.2ZM133.2,396.3 132.1,397.4 131.2,397.2 131.1,397.2 131.4,394.9 132.7,395.4ZM160.4,441.0 158.5,439.7 158.4,439.3 159.9,439.2 160.8,440.6ZM120.0,419.9 121.6,419.3 122.3,420.2 120.8,423.2 118.9,423.1 119.0,421.0ZM173.0,393.3 171.9,392.1 172.8,391.4 173.7,391.3 174.5,391.8 174.4,392.0ZM111.6,416.8 111.4,417.5 111.1,417.8 109.4,417.5 108.9,415.8 109.0,415.5 111.6,416.4ZM179.5,439.6 180.0,439.0 178.4,437.7 177.7,439.3 177.7,439.3ZM171.0,406.6 170.5,406.2 169.4,405.9 169.1,406.6 170.0,407.3 171.0,406.7ZM143.5,413.3 144.0,413.5 143.6,414.8 142.2,414.9 142.1,413.8ZM185.6,396.9 185.9,397.2 186.0,398.4 184.7,399.4 185.3,397.0ZM128.6,418.8 129.4,420.6 130.3,420.5 130.1,418.0 128.7,418.6ZM155.2,417.8 153.5,419.2 155.8,420.5 156.4,420.0 156.2,419.0ZM157.3,421.0 158.4,421.3 158.5,421.3 158.8,423.7 156.8,424.4 156.8,424.4 156.1,422.9 156.8,421.5ZM166.4,428.1 165.3,427.9 166.3,428.8ZM109.5,411.2 111.3,412.0 111.0,410.1 110.2,409.3 110.0,409.4 109.1,410.4 109.1,410.6 109.1,410.6ZM131.9,437.5 133.7,436.7 133.5,436.0 133.0,436.0ZM162.4,441.9 162.5,442.7 161.4,442.7 161.3,442.7 161.3,442.4ZM126.4,426.1 126.7,426.8 124.8,427.9 123.6,427.1 125.2,425.2 125.7,425.4ZM179.1,409.3 179.0,409.4 179.1,410.4 180.1,411.2 180.6,411.0 180.7,409.7 179.9,408.8ZM118.1,383.0 117.7,384.3 117.7,384.3 119.6,384.3 119.5,382.7 118.8,382.6ZM118.8,419.7 117.5,420.5 118.5,420.5 119.2,419.8ZM112.8,429.6 114.1,431.6 114.4,430.8 114.0,430.0 112.8,429.6ZM169.5,432.9 168.9,433.9 169.2,434.8 171.4,434.5 171.6,433.6 171.1,432.9 170.7,432.8ZM175.2,428.2 178.6,428.8 178.6,427.8 178.3,426.5 177.8,426.0 177.2,425.6 175.9,426.0 175.1,427.5ZM188.1,444.8 188.0,444.9 184.8,448.2 185.2,444.2 185.7,443.3 187.3,444.0ZM111.4,390.5 109.4,390.4 109.0,390.8 109.7,391.7 110.9,392.2 111.5,390.9ZM166.0,429.3 166.1,429.5 165.1,429.7 164.5,429.0 164.4,428.6 164.6,428.1 164.9,428.3ZM137.7,423.8 137.7,423.8 140.0,424.4 140.1,424.6 140.0,426.5 139.8,426.9 139.8,426.9 136.7,424.8 136.7,424.6ZM188.7,382.1 191.0,382.1 191.2,381.9 189.8,380.8 188.5,381.6ZM172.0,427.1 172.1,427.0 172.7,427.3 173.3,427.7 173.3,428.1 173.1,428.3 172.6,428.8 172.0,427.2ZM130.7,385.8 130.0,385.1 132.2,384.4 132.3,384.6 131.8,385.6ZM146.5,400.5 146.5,400.5 146.5,400.5 147.2,402.4 148.3,403.1 148.5,402.7 148.5,402.3 147.7,401.1 147.1,400.4 146.6,400.4ZM170.0,442.1 170.9,441.3 170.5,440.9 170.0,442.0 170.0,442.1ZM174.9,415.8 176.8,416.9 176.8,417.2 176.7,418.2 176.0,418.9 175.6,419.1 174.4,416.7ZM130.9,398.8 130.4,401.6 132.5,400.6 132.6,400.5 131.8,399.0ZM179.5,412.8 180.1,412.4 181.0,414.8 179.3,414.7 179.1,413.7ZM110.0,405.5 109.5,405.2 107.5,406.1 107.6,406.8 109.7,408.0 109.9,408.0 110.5,406.8ZM114.2,410.0 114.0,410.7 112.6,411.4 112.6,411.4 112.4,410.1 113.6,409.8ZM138.8,444.1 138.8,444.1 138.2,440.8 139.2,440.8 140.7,441.7 141.0,442.8 140.6,443.2ZM113.5,401.9 112.7,401.5 112.6,401.5 112.7,402.5ZM145.6,403.3 146.0,404.6 144.5,404.5 144.3,404.1 144.9,403.0ZM150.5,381.2 150.5,379.7 152.6,380.2 151.5,381.1ZM144.4,409.3 146.0,410.2 146.0,410.9 145.4,411.5 145.0,411.7 144.3,411.5 142.9,410.1 143.0,409.9 143.4,409.6ZM111.5,397.3 113.1,396.8 112.0,396.0 111.3,397.3ZM150.2,381.3 148.8,382.0 147.0,379.9 149.4,379.1 150.3,379.6ZM139.1,432.0 139.4,430.0 140.3,429.6 140.3,429.6 141.2,431.1 141.3,431.9 140.8,432.6 139.7,433.3 139.4,433.3ZM144.5,417.8 144.6,417.9 144.9,418.8 143.0,419.2 142.2,418.8ZM186.5,421.9 186.3,423.7 183.7,421.4 183.9,421.1ZM141.9,439.4 142.1,438.0 141.3,437.8 140.4,439.2 141.5,439.8ZM119.3,432.4 117.9,433.0 117.4,433.0 116.8,432.5 117.9,430.5 118.5,430.6ZM142.6,396.5 142.3,396.7 141.5,396.7 141.1,395.7 142.7,394.7 142.6,396.5ZM162.7,386.2 162.7,384.6 163.1,383.6 164.1,383.1 164.3,383.3 164.5,383.3 164.4,386.9 162.7,386.2ZM119.3,408.5 118.6,409.1 119.2,409.7 120.2,409.1ZM112.0,403.3 111.0,402.7 110.0,402.9 110.2,404.4 110.6,404.7 112.1,403.8ZM185.7,439.8 185.8,439.0 184.4,438.1 184.0,438.7 183.7,439.1 184.2,439.7 185.0,440.3ZM158.2,385.8 158.3,385.8 158.4,386.2 158.1,387.7 157.3,387.8 156.9,386.7ZM126.9,441.6 126.9,441.5 124.3,441.2 125.2,443.0 125.8,443.2 126.9,441.9ZM120.2,407.0 121.5,408.0 123.2,406.1 123.1,406.0 121.4,406.0ZM129.1,430.3 128.4,428.7 127.9,430.8 129.0,430.4ZM137.6,431.5 136.8,430.5 138.5,430.2 138.3,431.8ZM118.8,414.6 119.0,413.9 118.6,412.4 118.6,412.4 117.1,413.3 117.1,413.7 117.5,414.6ZM162.4,401.8 163.1,402.6 161.5,404.1 161.0,403.5ZM123.4,418.1 124.0,419.0 124.2,419.1 127.4,417.9 127.6,417.7 126.5,415.9 125.8,415.0 124.5,416.0 123.4,418.0ZM169.5,385.6 169.6,386.6 170.5,386.7 170.7,386.4 169.8,385.6ZM148.2,426.9 147.7,425.7 147.2,427.3ZM159.1,433.5 159.5,432.6 159.5,432.6 159.0,432.1 158.3,432.4 158.0,432.8 158.1,432.9ZM109.3,413.0 110.6,412.3 110.6,412.2 110.6,412.2 109.4,411.7ZM108.6,403.4 107.7,402.7 106.8,403.1 107.5,404.8 107.5,404.8 108.7,404.3ZM131.4,408.9 130.8,408.2 130.8,407.9 131.3,407.6ZM162.9,441.9 163.0,442.5 163.0,442.5 163.3,442.5 163.9,441.6 162.9,441.7ZM132.7,387.6 132.4,387.1 130.7,387.4 130.3,388.8 132.0,388.8ZM188.3,382.3 188.1,381.6 187.4,381.4 187.8,383.1ZM187.6,398.1 187.4,398.4 186.7,398.3 186.6,397.2 187.0,397.3ZM151.6,435.8 151.8,436.3 153.2,437.5 153.3,437.5 154.9,437.0 154.7,433.9ZM117.0,400.5 118.1,402.1 117.7,402.6 117.5,402.8 116.3,401.0ZM148.7,417.2 149.8,416.7 150.2,416.3 149.7,415.9 148.5,415.9 148.2,416.3ZM122.1,409.0 122.8,410.3 123.3,410.3 123.4,410.2 123.8,406.7 123.7,406.7 122.2,408.5ZM135.0,387.9 135.6,387.2 135.6,385.9 135.5,385.8 134.5,385.6 134.0,386.7 134.2,387.0ZM129.3,431.4 128.2,431.8 127.7,432.2 129.6,432.9 129.7,432.8ZM171.4,396.2 170.5,396.8 170.1,396.6 170.3,394.2 171.1,394.7ZM178.9,420.0 178.0,419.6 177.4,420.2 178.4,421.4 179.3,421.3ZM139.0,421.1 139.3,419.9 139.3,419.9 139.7,419.7 140.0,419.9 140.4,422.2 139.1,421.3ZM181.4,407.7 182.1,408.5 183.2,408.5 183.3,408.5 184.1,407.5 184.3,407.1 183.4,405.4 181.7,406.5ZM183.4,389.4 183.5,389.6 184.0,389.8 186.7,389.4 186.7,389.2 184.7,388.3ZM116.6,381.0 115.8,380.7 115.7,380.3 116.0,379.4 116.4,379.2 117.4,379.5 117.4,379.6ZM178.6,412.0 178.3,411.2 177.5,411.6ZM156.8,384.3 158.0,385.1 155.8,386.6 155.0,385.6 155.0,385.4 155.7,384.0ZM109.1,424.5 110.9,425.8 111.1,425.5 109.8,424.3 109.1,424.2ZM146.1,423.5 145.3,422.4 145.3,421.9 146.1,421.2 146.4,421.3 147.1,421.8 147.6,422.3 146.6,423.3ZM185.7,426.2 184.8,426.2 182.4,430.1 183.8,430.7 184.0,430.6 185.9,429.2 186.7,428.4 186.1,427.0ZM109.0,422.7 108.7,421.9 110.5,421.3 111.7,422.3 111.1,422.8 109.9,422.9ZM180.5,386.0 180.8,386.0 181.3,384.2 179.9,383.3 179.8,383.4 178.4,384.4 178.6,384.7ZM171.8,395.8 171.6,394.7 172.5,394.5 172.6,394.7 172.7,395.6ZM171.6,413.6 171.6,413.6 172.3,412.6 173.1,412.6 173.4,412.9 173.2,413.6 172.3,413.8ZM185.0,410.2 184.1,409.3 185.1,408.1 185.8,410.3ZM118.4,390.7 118.8,390.7 119.8,392.1 117.6,393.0 117.2,392.9ZM128.9,443.9 127.8,446.2 126.7,443.9 127.7,442.6ZM122.2,382.0 121.9,382.1 121.7,382.4 121.8,384.5 122.0,384.6 123.7,383.2 123.3,381.9ZM141.9,419.7 142.6,420.0 143.2,421.1 141.8,422.0 141.8,422.0 141.5,419.6 141.8,419.7ZM164.6,388.8 163.8,388.3 162.3,387.7 161.0,389.3 161.7,390.1 163.4,390.3 164.6,388.9ZM116.7,410.2 117.2,410.3 117.8,411.0 117.9,411.5 116.6,412.3 116.1,411.3 116.2,410.5ZM165.7,407.8 166.4,408.3 166.4,408.8 165.3,408.2ZM156.6,440.5 156.5,440.2 156.3,439.9 155.7,439.8 154.6,440.2 154.7,441.5 155.5,442.0 156.4,441.8ZM116.8,394.6 116.3,394.9 116.3,394.9 116.4,395.9 117.3,396.7 118.1,395.8 118.1,395.3 117.3,394.6 117.1,394.6ZM149.1,412.8 149.7,415.3 148.5,415.4 146.9,413.1 147.7,412.3ZM184.9,417.3 183.9,417.5 183.8,417.5 183.7,417.2 185.2,414.9 186.8,414.7 186.9,414.8 187.1,416.0ZM163.1,406.0 164.1,405.6 163.6,407.0ZM173.6,436.5 173.5,435.9 177.0,434.7 177.0,435.1 174.7,436.6ZM131.8,383.1 132.5,383.3 132.8,383.9 129.4,385.0 128.9,384.7 129.2,384.1ZM129.1,402.9 129.2,402.3 127.7,400.5 127.4,403.2 127.4,403.2 128.3,403.3ZM184.8,395.8 184.9,395.2 183.2,394.7 182.7,395.1 182.3,395.6 182.3,395.7 182.4,395.9 182.7,396.2 184.6,395.9ZM113.0,422.0 113.7,422.4 114.7,422.0 114.1,420.6 113.3,420.9ZM181.7,418.0 181.8,418.2 179.9,418.6 179.5,418.7 178.5,418.3 178.6,417.4 181.6,417.8ZM169.7,396.6 166.9,395.8 167.0,395.1 169.2,392.9 169.2,392.9 169.9,394.2ZM182.1,382.5 180.9,381.9 181.5,380.6 183.2,380.8 183.0,382.1 182.6,382.5ZM131.8,389.5 131.7,390.4 131.6,390.4 130.8,389.3 130.8,389.2 131.8,389.2ZM112.9,412.6 114.7,411.9 115.3,413.1 115.3,413.5 113.4,413.5 112.9,412.7ZM188.4,444.0 188.0,443.3 187.7,443.7 188.2,444.2ZM146.9,385.5 147.6,384.1 147.4,383.6 145.2,384.2 145.4,384.7ZM172.4,384.9 172.5,385.9 173.8,386.0 175.0,384.1 174.9,383.9ZM153.7,383.0 153.9,381.2 153.9,381.2 153.0,381.5 152.3,382.1 152.2,383.4 153.2,383.9ZM144.1,396.3 143.2,396.6 143.3,394.6 143.3,394.6 143.9,394.5 144.4,395.2 144.2,396.1ZM142.2,390.9 142.1,391.1 142.2,391.7 142.9,392.4 143.4,392.4 143.5,392.2 143.6,391.8 142.7,390.7ZM151.8,440.1 151.8,440.2 152.0,441.7 151.3,442.4 150.6,442.7 149.8,442.3 150.7,441.0ZM186.5,399.1 187.2,399.3 187.6,400.4 185.4,401.5 185.2,401.6 184.8,400.7 185.4,400.0ZM175.8,414.2 175.9,413.3 176.5,413.2 177.8,413.9 178.0,414.6 177.3,415.4 175.9,414.6ZM116.7,381.1 117.7,380.4 117.5,379.5 116.6,381.1ZM187.6,409.8 187.9,408.1 189.2,407.9 189.9,410.2ZM144.4,440.9 143.4,441.1 143.0,441.4 143.1,442.1 144.2,442.7 144.5,442.4ZM157.2,413.4 156.1,410.1 155.6,409.2 154.1,412.8 154.4,413.7 155.4,414.2ZM129.5,428.0 131.1,429.9 129.8,430.0 129.1,428.4 129.0,428.2ZM128.2,409.9 127.4,408.8 126.9,408.8 126.7,409.5 127.4,411.2 127.7,411.1 128.2,409.9ZM117.8,390.3 116.6,392.8 116.1,392.8 116.1,390.2 117.6,390.1ZM117.2,389.1 116.5,387.2 116.5,387.2 116.5,387.2 116.0,387.5 115.4,388.2 115.4,388.2 115.8,388.9 116.2,389.1ZM114.9,417.6 112.8,417.1 112.6,417.8 114.0,418.5ZM127.4,401.0 127.1,402.7 126.5,401.8 127.4,401.0ZM108.4,426.9 108.8,429.2 108.9,429.2 110.4,429.0 110.8,428.6 110.7,427.3ZM135.1,418.8 135.2,418.2 134.8,417.3 134.8,417.3 134.4,417.2 133.7,417.7 134.0,418.8 134.1,418.9ZM184.0,441.8 183.0,441.0 182.2,442.2 183.4,442.9 183.8,442.2ZM129.1,399.4 129.6,399.1 130.2,399.1 130.3,399.2 129.9,401.2 129.8,401.3 128.8,400.1 128.8,400.1 128.8,399.8ZM182.2,386.6 182.1,386.2 182.5,385.0 182.9,385.0 183.3,385.6 182.7,386.5ZM141.6,404.7 140.8,406.2 140.8,406.4 141.6,406.8 142.8,406.4 143.1,406.2 143.3,405.4 143.0,405.0ZM163.3,429.2 162.5,429.7 162.3,430.2 162.5,430.7 162.7,430.8 163.1,430.9 163.4,429.6ZM181.1,422.7 181.6,422.7 181.7,423.5 180.1,424.7 179.8,424.3 180.6,422.8ZM170.3,413.3 169.3,413.5 169.2,413.5 169.2,412.8 170.1,411.7 170.3,413.3 170.3,413.3ZM168.0,418.8 167.0,419.3 166.6,420.1 168.5,420.6ZM176.5,387.5 177.3,388.9 177.3,389.0 177.3,389.2 175.9,390.0 175.7,390.1 174.8,389.6 174.7,387.4ZM174.5,430.1 176.5,432.7 173.8,432.1 173.2,431.4 173.8,430.7ZM178.4,379.6 179.9,378.3 180.0,379.9 179.6,380.9 179.5,380.9ZM153.1,412.4 151.3,411.6 152.4,408.2 154.2,408.1 154.5,408.1 154.6,408.1 154.6,408.3 154.7,408.8ZM115.7,390.2 115.1,389.9 114.4,391.6 115.1,393.1 115.7,392.8ZM124.5,436.5 124.5,436.5 127.0,436.5 127.0,436.3 126.3,434.6ZM162.6,404.6 162.1,404.6 162.0,404.3 163.2,403.2 164.1,403.7 164.1,404.0 163.5,404.3ZM161.5,394.2 161.5,392.8 161.6,391.9 163.0,392.1 163.1,392.4 161.6,394.3ZM163.0,418.4 163.2,416.2 163.5,416.4 164.9,418.3 164.4,419.2 164.4,419.3ZM170.8,413.3 170.7,411.6 170.7,411.5 171.6,412.1ZM171.2,403.3 169.8,403.7 169.7,401.8 170.4,401.5 170.7,401.9ZM109.4,394.4 108.8,396.8 109.1,397.2 109.2,397.2 111.2,394.3 111.1,394.2ZM180.4,386.6 180.6,386.7 180.7,387.1 180.7,388.0 178.7,388.5 178.7,388.4 179.2,386.8ZM172.2,383.7 172.3,383.0 173.3,382.3 174.3,383.9 172.5,384.6ZM176.1,411.6 175.4,411.7 175.1,411.2 175.1,409.8 176.8,409.9 176.6,411.2ZM174.6,429.8 176.8,432.8 177.2,432.9 179.0,431.1 178.5,430.2 174.9,429.5ZM159.3,435.7 159.5,434.9 161.1,434.8 162.3,435.8 162.3,436.1 162.1,436.7 161.4,436.6ZM157.4,426.3 158.3,427.9 158.9,428.2 160.0,427.8 160.3,425.7 159.5,425.5ZM182.1,419.2 182.1,419.2 180.2,419.7 181.1,421.3 181.8,421.2 182.1,420.7 182.2,420.4ZM112.1,391.2 113.6,392.0 114.3,393.5 114.3,393.6 112.1,393.6 111.9,393.5 111.8,393.3 111.6,392.4ZM130.2,427.3 131.7,427.0 133.2,428.2 133.4,428.9 133.2,429.1 132.0,429.6 131.7,429.5 130.1,427.4ZM139.9,388.6 138.7,388.7 138.7,388.2 138.9,388.0 139.4,387.9 139.6,388.0 139.9,388.3ZM188.6,440.3 188.7,439.3 189.4,438.8 190.1,439.2 190.2,439.4 189.5,440.4 189.2,440.6 188.9,440.5ZM167.7,437.9 167.6,437.5 167.3,436.9 166.3,437.3 166.6,438.7ZM167.1,431.0 165.2,430.7 165.2,430.3 166.2,430.2 166.8,430.5ZM146.2,389.4 146.3,389.5 144.5,391.3 143.2,389.9 143.6,389.4ZM167.1,431.3 165.1,430.9 164.8,431.7 165.2,432.4 166.5,432.2 167.2,431.3ZM122.1,417.0 123.2,415.2 121.8,413.5 120.5,414.4 120.2,415.2ZM178.1,402.7 178.6,402.1 180.9,401.6 181.3,402.0 181.6,402.8 181.6,403.0 180.1,403.9 178.6,403.1 178.3,402.9ZM136.9,385.6 136.3,385.4 136.3,387.4 137.3,387.5ZM116.9,405.9 116.8,406.6 117.0,407.9 117.6,408.0 118.4,407.4 118.7,406.9 117.9,405.3 117.2,405.5ZM154.6,444.7 153.3,444.8 152.6,443.6 153.4,442.7 154.6,443.5ZM177.9,400.9 181.2,400.3 180.4,398.0 180.0,397.6 178.0,400.4ZM187.5,382.9 187.4,383.2 187.2,383.4 186.4,382.7 187.0,381.7 187.2,381.8ZM110.1,420.0 108.5,420.5 108.1,420.2 109.4,418.5 110.7,418.7 110.6,419.3ZM174.8,408.4 175.1,409.1 176.8,409.1 177.5,408.7 177.6,408.5 177.3,408.3 175.4,408.2ZM153.6,386.8 152.3,387.6 152.5,391.9 153.0,391.8 155.1,389.6 155.1,389.5 154.4,387.8ZM176.4,392.0 176.5,391.7 176.7,391.6 179.0,393.4 179.6,394.9 179.6,395.0 177.6,394.9 177.0,393.8ZM111.9,415.8 109.2,414.9 109.2,414.5 109.5,414.2 111.6,413.1 112.2,414.1 112.0,415.5ZM157.0,383.8 158.3,383.5 158.3,382.0 156.3,380.6 155.9,383.4ZM169.4,405.6 170.9,406.1 169.5,404.6 169.3,404.8ZM175.0,398.5 173.5,398.5 173.3,399.0 174.4,399.5ZM166.1,384.5 166.2,384.7 165.6,387.1 164.8,386.7 164.9,383.7 165.7,384.1ZM151.4,383.8 151.5,381.8 150.5,381.9 149.2,382.5 149.3,383.1 149.5,383.7ZM162.3,441.5 160.9,442.3 160.9,441.4 161.3,441.0 161.8,440.7 162.5,441.3ZM145.8,388.0 143.7,388.0 143.5,387.4 144.4,386.5 145.7,387.2ZM130.0,408.1 129.8,409.0 129.1,409.2 128.2,408.1 128.8,407.7 130.0,407.7ZM109.7,423.7 111.2,423.5 111.9,425.5 111.8,425.6ZM125.9,396.7 126.0,398.0 127.0,398.2 127.4,397.8 126.3,396.7ZM111.6,397.8 113.3,397.3 113.9,397.2 113.3,399.0ZM189.1,397.1 188.0,398.0 187.1,397.0 188.9,396.7ZM113.6,401.7 114.3,401.5 114.4,400.9 113.7,400.2 112.8,401.3ZM135.1,390.2 136.6,391.1 136.6,391.1 136.5,392.0 135.0,392.4 134.1,392.0 133.8,391.7ZM165.1,410.5 166.3,410.1 166.5,409.8 166.3,409.4 164.8,408.7 164.5,408.8 164.2,409.4 164.7,410.5ZM114.7,437.5 112.9,436.3 111.6,438.4 112.4,439.2ZM133.8,424.3 133.4,424.4 133.1,425.6 134.1,426.4 134.7,425.0 134.7,424.9ZM130.9,394.7 130.3,393.7 128.8,393.9 128.8,394.9 129.5,397.1 130.5,397.2ZM178.5,412.2 178.8,412.5 178.4,413.2 176.7,412.3 177.2,411.9 177.4,411.8ZM135.3,410.9 136.8,412.4 135.2,414.5 134.6,414.5 134.0,412.9ZM180.9,416.2 180.7,416.1 179.6,416.1 178.9,416.8 178.9,417.0 181.4,417.4ZM143.5,385.7 143.3,385.3 142.8,384.6 142.7,384.6 142.3,384.9 142.0,385.6 142.1,386.0 142.3,386.4 142.7,386.6ZM130.8,402.9 130.9,402.5 131.0,402.3 132.6,401.6 132.8,402.5 131.2,403.2ZM157.6,418.7 157.8,419.3 158.7,419.4 158.6,417.9 158.6,417.9ZM119.8,407.7 119.6,408.1 120.5,408.7 120.9,408.6 120.9,408.3 120.1,407.7ZM110.8,420.8 112.2,422.1 112.4,422.0 112.7,420.7 111.6,419.8ZM128.8,422.7 129.5,422.1 130.5,422.0 130.7,422.1 131.3,423.0 129.6,423.8ZM108.1,409.5 108.7,408.8 107.4,408.1 107.0,408.7ZM118.0,399.2 120.2,399.2 121.1,400.2 121.1,400.7 119.1,401.8 117.8,399.7ZM179.3,435.5 179.3,435.6 181.8,437.0 182.3,436.3 182.2,434.3 181.1,433.8 180.7,433.7 179.3,435.0 179.3,435.2ZM159.1,436.8 160.7,436.7 159.5,436.2ZM121.0,409.6 121.6,410.7 121.4,410.8 119.7,411.0 119.6,410.9 119.5,410.4 120.6,409.7ZM134.1,421.2 133.4,419.9 133.2,419.7 131.7,421.2 132.5,422.3 132.8,422.5 133.5,422.4ZM137.4,431.8 137.7,433.5 138.0,433.6 138.5,433.4 138.3,432.1ZM139.3,435.6 139.6,435.7 140.4,437.1 139.3,438.9 138.5,438.8 138.2,438.7 138.0,438.5 138.7,435.8ZM171.3,427.4 172.0,429.0 171.6,429.5 171.3,429.4 171.0,428.1ZM145.9,395.9 145.2,395.6 145.0,396.3 145.6,396.6ZM185.3,403.6 184.9,403.7 184.9,403.9 186.1,406.2 187.7,406.8 189.1,406.6 189.8,405.9 189.3,404.8ZM127.8,421.6 127.8,421.6 128.4,421.0 127.6,419.3 125.2,420.1 126.1,421.0 127.2,421.5ZM145.8,419.8 145.4,419.3 142.9,419.7 143.7,421.0 144.5,420.9ZM145.5,397.1 145.4,396.9 144.9,396.7 144.9,396.8 145.5,398.0 145.5,398.0 145.5,398.0ZM162.2,396.2 162.5,396.3 164.4,395.9 165.0,395.2 165.2,394.6 163.8,392.7 161.9,395.1 162.1,396.1ZM148.2,418.9 148.9,417.6 149.7,417.2 148.9,419.4ZM149.1,440.7 150.2,440.4 151.3,439.5 150.1,438.5 148.9,440.2ZM175.1,398.4 173.5,398.5 173.8,397.0 175.6,397.2 175.6,397.7ZM120.4,442.4 118.1,445.0 116.5,443.1 118.3,440.8 119.6,440.5 120.6,440.6ZM129.5,414.8 129.5,414.9 129.8,413.1 128.3,412.8 128.0,412.9 127.5,413.5ZM108.6,391.5 108.0,391.6 107.8,392.8 108.8,393.3 109.1,392.2ZM132.2,392.4 131.8,392.5 130.9,393.3 131.5,394.4 132.9,395.0 133.1,392.9 132.8,392.5ZM111.2,383.6 111.2,384.9 111.0,385.4 110.8,385.4 109.4,384.6 109.3,384.5 109.3,384.2ZM118.9,395.9 120.5,396.8 121.4,394.7 121.3,394.6 118.9,395.2ZM111.3,389.8 111.6,389.1 109.7,388.9 109.5,389.8ZM180.9,438.2 181.4,438.0 181.8,437.3 179.0,435.8 179.1,436.6ZM170.3,428.2 170.6,430.3 169.1,430.5 169.1,430.4 168.7,429.7 168.8,427.8Z" fill="#efe6f1"/>
</g>
<path filter="url(#sb2)" d="M119,412 C119,401 128,397 137,398.5 L141,400.5 C152,398 164,399 171,406 C175,411 179,417 182,426 C171,430.5 155,429.5 145,429 C134,428 123,423 119,412Z" fill="#9060a8" opacity="0.42"/>
<path filter="url(#sb2)" d="M138,426.5 C150,428 165,428.5 179,426" fill="none" stroke="#7a4a98" stroke-width="1.4" opacity="0.7"/>
<path filter="url(#sb2)" d="M124,412 C124,405 130,402.5 137,403.5 L141,405.5 C150,403.5 162,404.5 167,409.5 C171,414 174,419 176.5,424 C168,425.5 155,425 145,424 C137,423 128,420 124,412Z" fill="#f7f2f7"/>
<path filter="url(#sb)" d="M139,404 C139.5,410 140,415 140.5,421" stroke="#d8c6e0" stroke-width="1.3" fill="none"/>
<path filter="url(#sb)" d="M131,407 C133,410 134,414 133,418" stroke="#e6d8ea" stroke-width="1" fill="none"/>
<ellipse filter="url(#sb2)" cx="155.5" cy="390" rx="3" ry="3.5" fill="#f4eef6"/>
<ellipse filter="url(#sb2)" cx="170" cy="389" rx="2" ry="2" fill="#f0e8f2"/>
<rect x="161.6" y="424.6" width="25" height="15.5" rx="2" fill="#fff" opacity="0.42" filter="url(#sb2)"/>
<text x="183.8" y="435.0" font-size="7.5" text-anchor="end" fill="#1a1a1a" style="stroke-width:0.1px">50 μm</text>
<line x1="171.6" y1="437.6" x2="181.3" y2="437.6" stroke="#8a8a8a" stroke-width="0.8"/>
</g>
<clipPath id="c5"><rect x="190.7" y="382.5" width="78.3" height="59.1"/></clipPath>
<g clip-path="url(#c5)">
<rect x="190.7" y="382.5" width="78.3" height="59.1" filter="url(#m5)"/>
<g filter="url(#sb)"><path d="M258.9,432.3 257.6,432.3 254.8,436.9 258.4,438.2 259.9,434.2ZM229.3,395.8 229.6,395.9 228.3,393.1 226.8,393.6 226.8,394.1ZM220.5,432.6 219.8,433.0 217.4,433.0 217.3,431.3 219.2,430.9 220.5,432.4ZM206.9,434.5 206.9,434.4 209.3,433.1 210.1,433.7 210.9,436.0 210.5,436.3 207.0,434.6ZM247.6,406.0 248.0,404.4 249.4,403.6 251.9,406.8 249.1,407.5ZM231.3,425.2 232.1,424.2 233.6,424.6 234.5,425.3 234.5,426.1 233.8,426.8 232.6,426.7ZM200.5,417.4 199.6,414.2 200.4,413.3 202.2,413.5 203.4,414.4 203.5,414.6 202.9,416.7ZM256.0,394.6 255.4,394.9 255.5,396.7 255.5,396.9 258.9,396.9 259.5,394.9ZM256.2,423.5 259.1,426.0 259.2,426.6 258.7,427.6 256.9,427.1 255.2,425.4ZM193.3,434.5 191.7,433.6 191.8,431.1 191.9,430.9 193.9,431.6 193.5,434.1ZM257.7,408.8 259.2,407.7 259.0,407.3 257.1,408.2ZM193.6,394.6 192.0,393.8 190.5,390.5 190.6,388.4 193.0,387.1 195.4,388.2 196.1,391.0ZM241.5,396.5 242.7,396.9 243.2,399.3 241.5,397.3 241.4,396.7ZM268.4,417.5 270.2,416.2 272.2,417.5 272.3,418.2 270.5,420.1 270.0,420.4 269.1,420.3ZM215.8,442.2 218.3,442.5 218.3,442.5 218.1,443.0 216.9,443.5 215.3,442.8ZM265.9,412.8 266.9,416.3 267.1,416.4 269.4,414.8 269.8,413.1 269.0,411.1 268.8,410.9 268.2,410.9 266.1,412.4ZM244.4,425.9 242.3,425.2 242.5,426.2 243.2,428.0 243.2,428.0 244.6,426.3 244.6,426.1ZM239.1,396.8 237.4,397.6 238.2,398.6 239.8,398.4 239.8,398.1 239.3,397.0ZM236.0,378.6 235.2,379.8 236.1,383.1 239.3,383.5 239.6,382.0 239.5,380.7 236.2,378.7ZM211.8,389.5 212.5,387.8 212.9,388.1 213.9,389.3 212.1,391.1ZM228.1,384.9 229.1,385.1 229.7,385.8 230.3,387.1 229.6,388.3 229.5,388.3 227.5,385.2ZM202.0,438.9 202.2,439.4 203.2,439.9 204.8,435.9 202.9,436.8ZM215.5,441.9 215.8,440.6 213.4,438.0 212.7,438.2 212.1,438.6 211.3,441.4 211.5,442.4 211.5,442.4 213.7,443.1 214.3,443.1 215.2,442.4ZM240.1,398.4 241.3,400.3 243.0,399.8 243.0,399.8 241.2,397.5 240.1,398.2ZM220.4,405.5 220.9,404.6 220.8,404.3 218.9,402.1 216.7,405.0 217.1,405.8ZM188.8,409.7 190.2,409.4 191.3,407.5 191.6,406.0 191.6,405.5 191.6,405.5 190.8,404.6 185.1,408.7 185.1,408.7ZM253.0,406.2 250.5,403.0 251.6,401.9 253.1,401.8 253.1,401.8 253.6,405.7ZM245.6,438.6 246.2,438.4 247.2,439.4 244.2,441.5 243.1,441.1 244.4,439.2ZM226.1,435.5 225.4,437.4 223.7,436.5 223.2,434.5ZM224.1,428.0 224.8,426.9 224.8,426.9 229.6,425.7 227.5,428.8 225.3,428.8ZM221.4,380.9 220.0,382.7 222.5,385.0 222.7,385.0 223.0,384.9 223.2,384.7 223.6,382.9 223.5,382.6 223.3,382.3 221.8,380.8ZM253.0,392.2 248.1,393.3 247.6,394.0 255.0,397.1 255.0,394.8ZM228.1,434.1 228.6,434.3 230.3,434.1 229.7,430.9 229.1,430.8 227.3,432.5ZM217.9,393.1 215.6,392.5 213.5,394.7 214.3,396.5 218.1,396.0 219.1,395.6 219.4,395.0 219.4,394.6ZM208.3,407.1 208.9,406.3 207.4,403.6 207.3,403.7 206.4,405.1 208.1,407.1ZM262.6,420.0 267.4,421.0 267.4,420.9 266.6,417.7 266.4,417.6 266.3,417.6 262.6,419.3 262.6,419.9ZM209.5,409.6 208.6,408.5 208.4,408.5 207.5,409.2 206.8,409.9 207.1,410.6 208.7,412.6 209.6,411.0ZM225.3,387.2 224.1,386.0 224.2,385.8 227.5,385.1 229.5,388.5 229.3,388.7 229.0,388.6ZM219.1,396.6 219.7,398.0 219.0,399.6 218.8,399.8 218.3,399.6 218.4,396.9ZM259.1,398.5 258.6,400.5 257.2,400.6 255.6,400.5 254.8,400.2 254.7,400.1 255.8,397.9 258.7,397.9ZM239.7,398.7 240.7,400.3 239.1,401.4 238.5,398.8ZM222.1,410.6 222.2,410.7 221.4,411.8 219.0,412.6 217.6,411.8 217.2,411.2 220.8,409.5ZM258.6,440.9 255.4,442.0 254.0,443.6 253.4,446.0 258.4,444.1 258.7,443.7 258.9,441.7ZM225.6,379.2 225.0,379.2 224.4,381.5 224.6,381.8 225.9,379.3ZM216.9,443.5 217.1,443.8 217.9,443.9 218.0,443.1ZM265.0,380.6 263.2,378.9 261.4,379.8 261.1,380.5 261.0,381.1 264.9,380.8ZM200.5,444.5 200.4,444.2 202.1,443.4 203.2,443.4 203.5,444.4 203.5,444.4 201.7,445.1ZM238.6,404.6 239.2,404.3 241.2,407.9 241.2,407.9 239.9,407.8 238.0,406.8 237.6,406.0ZM253.5,436.5 252.7,435.3 254.2,432.2 257.3,432.7 254.9,436.6ZM228.3,412.6 229.1,412.2 231.0,409.2 230.8,406.9 227.4,408.5 227.5,412.1ZM190.7,400.6 190.9,402.3 195.7,402.3 196.5,401.8 196.5,401.6 195.3,399.4 193.8,398.2 191.9,399.4ZM241.7,385.9 241.9,386.6 241.9,387.4 237.9,388.3 237.4,386.9 239.8,384.8ZM242.6,383.2 240.3,382.1 240.0,383.5 240.2,384.1 242.1,385.1 242.8,383.9ZM228.3,440.7 226.8,441.8 224.9,440.8 226.2,439.3 227.5,439.5 228.0,439.9ZM241.6,424.9 241.2,424.9 239.9,426.0 239.6,426.9 240.1,428.0 242.1,426.2 241.9,425.2ZM197.7,435.4 196.7,434.6 196.1,434.9 195.0,435.9 195.1,436.7 197.6,435.7ZM192.4,419.9 189.0,419.4 188.6,419.7 188.6,419.7 189.5,422.2 191.9,422.3 193.0,421.1 192.9,420.2ZM266.2,442.2 267.3,443.4 268.5,443.1 268.5,440.6 268.2,440.5 266.3,441.2ZM263.4,408.9 264.3,406.5 265.6,407.4 266.8,409.4 264.1,409.2ZM246.6,433.1 246.5,433.2 247.0,433.6 247.8,433.5 248.1,432.1ZM197.9,442.5 198.0,442.6 198.3,443.7 196.4,445.3 196.2,444.5 196.3,442.5ZM268.3,407.4 268.6,409.7 268.1,409.7 267.2,409.2 266.0,407.1ZM255.7,408.6 254.3,409.4 253.9,407.5 254.0,407.4 254.5,406.9 255.8,407.0 255.9,407.9ZM208.1,425.7 208.5,427.3 210.7,427.9 211.0,426.3 210.3,425.7ZM190.9,433.6 189.7,435.7 188.5,434.0 189.3,432.8 190.9,431.6ZM270.2,380.0 268.8,380.6 270.1,384.4 271.4,385.0 272.1,381.8 271.2,380.2ZM262.3,397.7 264.1,397.9 262.1,394.5 261.9,394.5ZM193.2,434.8 191.5,433.8 189.9,436.6 190.0,436.8 191.5,436.6 193.2,434.9ZM245.9,414.5 241.5,415.8 241.4,413.5 242.4,412.4 244.5,413.2ZM218.8,377.9 219.3,378.9 217.8,382.1 215.8,379.4 217.9,378.1ZM272.5,425.9 271.2,428.2 270.1,428.1 269.6,427.7 269.2,426.1 272.6,425.1ZM252.4,386.2 249.0,385.0 249.6,382.5 252.0,381.9 253.1,383.5ZM231.8,406.3 231.8,406.3 231.7,406.4 231.9,409.1 233.1,410.4 235.8,408.9 236.2,408.1 236.4,407.3 235.8,406.1 232.2,406.1ZM229.7,382.5 228.6,382.3 228.7,382.0 230.1,380.1 230.1,380.1ZM195.3,395.7 195.3,397.2 196.4,398.1 199.6,396.6 199.0,395.4ZM221.9,391.9 221.5,392.7 219.7,394.3 218.3,392.8 219.6,390.8 221.6,391.2ZM204.6,418.6 205.8,415.2 203.8,414.7 203.2,416.8ZM264.3,405.0 267.7,404.9 268.1,405.1 269.0,405.9 268.6,407.0 265.9,406.8 264.3,405.7ZM200.2,397.3 196.5,399.0 197.5,400.8 199.8,399.8 200.4,397.4ZM205.8,419.2 205.2,418.9 205.1,418.5 206.1,415.6 208.2,415.3 208.7,415.9 208.6,416.8 207.9,418.5ZM256.3,418.6 257.0,415.8 253.0,414.8 253.9,417.3ZM201.1,397.5 201.1,397.5 200.4,400.0 201.3,400.5 202.6,399.5 202.4,399.3ZM220.5,407.3 220.2,406.4 217.5,406.6 216.9,408.3 216.9,410.2 217.0,410.2 220.3,408.7ZM233.9,424.1 234.9,425.0 235.5,423.9 234.6,422.9ZM248.1,422.5 248.2,422.2 249.5,421.0 251.0,421.5 251.0,422.0 250.1,423.9 249.4,424.1 249.2,424.0ZM260.4,403.4 258.9,401.3 257.2,401.3 258.2,405.0ZM221.0,380.4 219.3,382.4 218.2,382.3 218.0,381.8 219.3,379.2ZM190.9,430.2 190.6,429.4 190.3,428.7 188.2,427.4 186.9,427.8 187.8,431.3 188.6,432.0 190.8,430.4ZM255.6,394.2 255.1,394.6 253.3,392.3 253.6,391.7 257.0,392.1 256.9,393.0ZM212.3,409.2 209.9,409.4 210.1,411.2 213.3,410.3ZM249.2,439.7 250.9,439.5 252.2,437.9 252.3,437.2 251.7,436.3 250.7,436.2 248.6,439.0 249.0,439.5ZM195.5,383.7 193.7,383.8 193.8,384.4 196.1,384.5ZM269.4,429.0 268.5,431.9 268.4,432.0 267.8,432.3 266.6,432.1 266.3,431.4 266.4,429.5 268.9,428.6ZM247.5,429.8 244.9,430.4 243.8,429.2 243.5,428.8 245.4,426.6 248.4,429.5ZM243.6,399.4 243.0,396.8 244.2,394.3 244.3,394.1 246.7,394.7 246.7,395.4 243.8,399.5 243.6,399.4ZM223.7,391.5 225.1,389.9 225.4,390.9 225.3,391.9 224.8,391.9ZM260.1,431.8 263.2,431.4 264.8,431.9 265.0,432.7 265.0,432.7 261.9,433.8 260.7,433.6 260.0,432.2ZM256.8,391.9 257.9,389.7 257.9,389.7 255.4,389.4 254.8,389.5 254.2,391.5ZM237.1,394.9 239.1,395.1 239.6,394.5 239.7,393.1 238.8,392.3 238.2,392.0 236.8,394.2ZM256.6,428.0 254.3,430.9 254.5,431.4 257.3,431.8 258.3,431.7 258.5,431.2 258.7,429.4 258.4,428.4ZM247.4,430.5 245.3,431.0 245.2,431.9 245.6,432.8 246.3,432.9 246.4,432.8ZM192.6,417.1 192.6,419.5 193.0,419.8 193.1,419.7 193.7,418.2 193.5,416.9ZM196.3,445.9 196.3,446.0 194.4,446.4 193.2,445.0 194.1,443.4 196.0,444.7ZM270.9,406.0 270.9,406.0 269.8,406.3 269.4,407.3 269.7,409.4 269.9,409.6 271.5,408.5ZM259.2,378.2 261.3,379.7 261.0,380.5 259.4,379.8ZM258.9,381.8 258.1,383.1 258.8,383.8 260.7,382.3 260.5,381.7 259.2,381.6ZM237.4,395.2 238.9,395.4 238.8,396.4 237.4,397.0 237.3,397.0ZM196.7,408.1 197.9,407.9 198.7,405.8 198.7,405.6 197.5,404.4 195.9,405.8 195.9,407.0ZM219.6,419.9 217.0,419.9 216.5,418.1 217.3,417.8 219.3,417.7 219.4,417.7ZM236.4,420.3 233.7,420.7 234.8,421.7 236.1,421.7 236.5,420.4ZM229.2,395.9 226.7,394.2 226.2,396.0ZM197.9,441.4 196.2,441.4 195.2,441.0 194.9,440.7 195.3,439.1 197.8,438.6ZM203.2,407.8 200.3,406.3 199.4,408.6 200.2,409.8 203.5,408.7ZM257.2,419.9 260.2,417.4 259.9,415.8 259.4,415.1 257.5,415.6 256.6,419.0ZM268.6,433.5 270.1,436.0 270.1,436.0 271.3,434.9 271.4,433.9 269.2,433.2ZM231.2,384.0 230.4,385.4 230.8,386.4 231.0,386.3 232.3,385.6 231.6,384.0ZM237.2,407.9 237.0,408.6 237.7,411.0 238.6,410.7 239.3,409.0ZM263.3,413.0 263.8,415.4 260.5,415.4 260.0,414.7 260.4,412.3 261.1,411.7ZM247.8,434.0 248.8,434.9 247.3,435.4 247.1,434.0ZM227.2,434.9 227.9,434.5 228.6,434.8 228.0,439.0 226.0,438.6 225.5,437.8 226.4,435.4ZM265.9,387.3 265.3,386.0 266.3,386.1 267.7,388.2ZM269.2,437.4 266.6,438.2 268.4,439.7 268.7,439.8 269.9,438.6 269.3,437.4ZM264.3,399.2 263.9,399.1 262.3,399.0 262.1,399.0 261.5,402.5 262.9,402.9 264.4,399.3ZM208.2,386.8 210.0,385.5 208.7,383.7 206.4,385.6 208.1,386.8ZM219.2,437.1 219.6,438.8 218.6,438.8 216.0,436.8ZM211.3,384.3 212.2,384.6 213.4,383.4 213.0,380.0 212.9,379.9 210.1,380.6 209.4,381.0 210.1,382.8ZM241.5,429.8 241.5,432.5 240.7,433.4 240.3,433.6 238.1,432.9 240.0,429.5ZM266.6,381.0 268.7,380.8 269.8,384.3 268.3,383.9ZM218.2,383.2 219.2,383.3 222.1,385.9 219.3,386.8 217.7,383.7ZM266.4,433.9 267.6,434.1 269.0,436.6 266.3,437.5 265.8,437.5 266.4,433.9ZM233.5,446.8 231.8,450.3 229.8,446.5 229.6,446.1 230.8,443.4 233.1,444.1ZM232.6,434.7 230.8,434.0 230.3,430.8 231.2,430.2 235.1,433.7 234.3,434.5 233.4,434.8ZM230.8,405.0 230.8,405.0 226.8,402.6 227.2,401.9 228.3,401.2 229.4,401.2ZM238.9,438.8 238.6,440.0 238.0,440.1 236.7,439.4 235.7,436.0 236.5,435.2 236.8,435.1ZM189.4,384.8 191.9,386.0 192.0,386.6 190.6,387.3 189.9,387.1 188.8,385.9ZM247.6,388.0 248.4,389.4 252.5,387.3 252.3,386.7 248.8,385.4 248.1,385.9ZM230.1,383.3 229.4,384.8 230.0,385.5 231.0,383.7ZM247.5,430.5 246.4,432.9 248.0,431.9 248.5,431.2 248.5,430.3 248.3,430.2ZM243.7,384.5 243.1,385.5 243.3,386.1 246.0,385.0 245.1,384.0ZM249.1,440.6 251.0,440.5 252.8,443.3 252.3,445.7 251.3,447.2 249.8,445.6 249.3,444.9ZM199.1,390.2 199.7,387.8 200.7,387.5 203.5,391.2 202.6,391.4ZM240.7,436.2 240.7,437.8 241.7,439.1 242.2,437.4ZM249.3,408.4 252.1,407.7 252.7,407.7 253.1,409.7 252.8,411.3 251.8,412.5 250.5,412.4ZM226.0,432.5 226.7,432.8 227.5,434.4 226.9,434.7 224.4,433.3ZM238.5,428.8 238.5,428.7 238.0,427.6 235.6,427.4 234.8,428.0 236.5,432.2 236.7,432.2ZM265.5,395.7 265.2,398.7 265.4,398.9 266.6,399.1 268.2,397.9 268.2,396.8 267.3,395.1ZM226.2,379.3 227.0,379.4 226.3,381.6 224.8,382.4 224.7,382.1ZM210.7,428.1 208.5,427.5 208.4,428.3 210.6,428.4 210.6,428.4ZM220.7,420.2 218.7,423.3 217.2,420.7 217.3,420.0 219.6,420.0ZM194.6,436.8 194.5,435.9 193.4,435.1 191.8,436.9 194.3,437.8ZM219.7,437.0 220.5,433.7 217.0,433.7 214.6,435.2 214.2,436.0 215.0,436.4ZM226.4,403.4 226.1,403.5 225.3,404.8 226.1,406.8 226.9,407.2 230.1,405.8 230.2,405.7ZM261.0,382.6 261.9,383.3 259.5,385.2 258.9,384.2ZM246.3,413.7 247.3,414.2 249.2,413.1 247.9,408.7 246.2,407.0 245.9,407.1 245.0,412.5ZM192.9,383.6 192.9,383.5 190.4,381.2 189.6,381.4 188.7,384.4 192.9,386.2 193.0,384.5ZM249.0,430.9 250.7,435.2 249.6,435.1 247.9,433.7 248.3,431.8ZM225.2,395.5 224.8,396.3 224.8,396.3 224.7,396.3 224.2,396.2 223.8,395.7 223.6,394.9 224.7,393.3 225.2,393.3 225.7,393.7 225.6,394.1ZM232.4,440.2 234.2,441.3 234.5,441.0 236.0,439.7 234.8,435.7 233.8,436.0ZM248.4,379.0 250.8,377.1 252.1,379.4 251.6,380.9 249.4,381.4 248.7,381.0ZM251.8,422.5 253.7,424.8 252.9,425.3 251.1,424.2ZM265.3,412.5 263.6,412.6 261.6,411.4 262.2,410.2 262.9,409.6 263.6,409.9 265.5,412.1ZM233.0,386.4 231.3,387.4 233.7,388.9 233.7,386.5ZM201.5,397.1 204.1,395.8 204.4,396.0 204.5,396.2 202.9,398.9ZM200.8,381.5 196.8,379.0 195.9,380.0 196.0,380.6 196.4,381.2 198.8,382.6ZM250.4,424.4 253.2,426.2 251.8,429.5 249.3,429.6 249.2,428.3 249.3,424.7ZM266.3,391.6 263.9,393.2 263.3,393.0 263.4,391.5 264.3,390.0 265.1,390.1 266.9,390.7 266.9,390.7ZM251.3,420.4 251.6,420.2 252.4,417.9 251.6,415.6 251.5,415.5 250.2,415.4 248.5,416.3 248.5,416.5 249.9,420.0ZM193.9,440.6 193.2,440.6 193.0,440.6 192.7,440.5 190.1,437.7 190.2,437.6 191.7,437.4 194.0,438.3 194.3,438.8ZM218.1,389.5 218.0,388.3 215.3,389.1 215.9,391.0ZM199.4,442.2 200.6,441.7 201.8,442.8 200.2,443.7 199.7,443.2ZM206.7,402.9 203.5,402.7 202.5,403.3 202.3,403.7 204.9,405.2 204.9,405.1 205.6,404.7ZM231.8,405.8 236.1,405.8 237.8,403.5 235.6,400.6 232.6,402.1ZM244.5,380.9 243.2,381.2 243.1,383.1 243.3,383.9 245.0,383.3 245.5,381.8ZM222.4,416.5 222.5,416.1 222.9,415.9 226.4,419.5 225.7,420.5 224.5,421.0 224.1,421.0 223.1,420.3ZM240.4,421.4 240.1,421.2 239.7,420.9 239.5,420.5 240.4,418.1 240.6,418.0 240.9,418.3 241.7,420.4ZM207.9,423.5 208.9,419.9 210.3,421.2ZM241.2,434.9 244.0,435.4 243.4,436.6 243.0,437.0 242.6,436.9 241.1,435.7 240.8,435.1ZM204.5,395.5 209.8,393.6 210.8,394.2 208.7,396.5 206.0,397.5 204.8,395.8ZM225.1,402.9 224.3,404.2 221.7,404.3 221.6,404.0 222.2,402.9 224.2,402.1ZM267.0,389.8 268.5,389.2 267.8,388.4 265.8,387.4 265.4,389.2ZM208.1,423.6 210.5,421.4 211.1,421.7 210.5,424.8 207.9,424.7 207.5,424.5ZM213.7,422.2 212.0,425.5 212.5,425.5 213.4,424.7 214.2,422.8 214.0,422.3ZM230.0,382.5 230.0,382.4 230.4,380.3 231.5,380.1 233.3,380.0 233.0,380.5ZM196.2,408.5 195.4,407.4 192.7,406.4 192.5,407.7 195.9,408.8ZM231.7,387.8 231.5,387.9 231.0,388.7 233.3,390.4 233.8,390.0 233.5,389.0ZM206.7,397.7 208.6,397.0 210.0,400.3 208.1,400.7 206.7,398.9ZM220.6,419.8 220.5,418.6 219.4,418.0 219.6,419.6 220.6,419.8ZM259.8,428.0 260.1,428.9 262.2,428.6 262.7,428.2 261.5,426.9 261.5,426.9 260.2,427.1ZM254.1,397.0 253.0,399.4 251.4,399.5 248.8,395.4 248.7,394.7 248.8,394.6 254.1,396.9ZM229.5,426.3 227.9,428.7 229.3,430.0 229.8,430.1 230.8,429.5 231.6,427.8 230.0,425.9 229.9,425.9ZM266.4,392.2 264.4,393.5 265.4,394.5 266.3,393.6ZM229.7,440.2 229.4,439.3 232.5,436.3 233.1,436.3 232.0,439.9 230.3,440.6ZM243.0,437.3 242.4,437.2 241.7,439.6 242.3,441.5 242.5,441.4 244.1,439.0ZM265.1,385.2 264.5,385.0 264.2,383.6 265.4,381.2 265.5,381.1 265.9,381.1 266.2,381.2 267.9,384.2 266.4,385.3ZM256.7,384.3 255.6,387.5 257.9,387.8 258.5,387.0 258.2,385.7 257.8,384.9 257.2,384.3ZM192.4,405.2 192.4,405.3 195.6,405.5 197.6,403.8 196.7,402.1 195.9,402.6ZM228.6,381.8 228.5,379.8 229.8,380.2ZM210.6,389.0 208.3,389.9 208.8,387.7 210.3,386.6 211.2,386.9 211.4,387.2ZM198.6,382.6 196.5,381.4 195.8,383.4 196.6,384.5 197.0,384.8 198.4,383.1ZM215.7,408.1 212.2,405.9 213.4,403.4 216.0,405.4 216.3,406.2ZM249.2,420.4 247.5,416.3 246.4,417.8 246.4,420.5 247.6,421.7ZM229.5,400.6 228.2,400.6 227.7,398.3 230.4,397.7 231.2,398.6ZM241.9,388.3 238.3,389.1 238.0,390.0 238.7,391.2 239.3,391.5 242.1,389.2 242.1,388.5ZM200.7,382.1 199.1,382.9 199.0,383.3 200.1,385.1 201.1,385.7 202.2,385.0 201.8,381.6ZM243.4,387.2 243.5,387.4 246.6,387.5 247.0,385.8 246.2,385.4 243.3,386.5ZM206.5,402.4 203.7,402.2 204.0,400.1 205.7,399.6 207.2,401.6 206.8,402.3ZM236.8,423.3 235.8,423.8 234.7,422.7 234.5,422.0 236.3,422.0 236.9,423.0ZM237.2,419.7 237.1,417.9 238.2,417.0 239.8,417.7 238.8,420.3 237.2,419.7ZM200.6,441.2 202.2,442.8 203.5,442.8 203.9,441.2 203.8,441.1 203.0,440.5 201.8,439.9ZM252.5,406.5 252.0,406.5 249.7,403.6 250.3,403.2 252.7,406.3ZM220.7,418.4 221.8,416.6 221.9,416.2 220.9,416.0 219.6,417.7 219.6,417.7ZM265.7,399.7 264.1,403.6 264.5,404.1 267.4,402.2 267.8,401.4 267.6,401.0 266.6,399.8ZM230.2,395.7 230.8,394.4 229.7,393.2 229.2,393.0 228.8,393.3 229.8,395.4ZM264.3,404.5 267.6,402.3 267.7,404.4 264.3,404.5ZM216.1,429.0 216.1,426.4 216.9,425.3 218.6,424.8 219.8,425.7 220.0,426.1 218.9,428.0ZM218.3,442.0 220.6,441.5 220.0,440.3 219.6,439.9 218.6,440.0 217.6,440.6 218.3,442.0ZM221.1,419.8 222.8,420.3 222.2,416.6 220.9,418.6ZM212.6,419.6 213.8,417.8 210.9,416.2 210.3,416.2 210.1,417.1ZM225.3,383.2 224.9,385.1 227.4,384.6 227.9,384.4 227.9,382.8 226.8,382.5ZM264.5,389.1 263.1,387.5 264.4,385.8 265.0,386.0 265.6,387.4 265.2,389.2ZM237.5,424.3 238.5,425.5 238.2,426.4 235.6,426.2 235.5,425.2 236.0,424.2 236.9,423.7ZM226.8,401.5 225.4,397.6 225.4,397.6 227.5,398.3 228.0,400.7ZM239.7,408.9 238.9,410.9 239.5,411.3 241.6,411.0 241.5,409.1ZM241.8,423.7 241.3,423.6 240.8,422.0 242.2,420.9 243.0,421.0 243.6,421.8 243.6,422.2ZM231.5,405.9 229.6,400.8 231.5,398.4 232.0,398.5 232.6,402.1 231.9,405.8ZM216.2,442.0 216.4,440.8 217.3,440.6 218.0,442.2ZM239.3,383.8 236.0,383.4 235.7,385.5 237.0,386.6 239.5,384.4ZM214.5,422.2 216.7,421.2 218.0,423.5 218.2,424.2 216.7,424.6 216.0,424.2 214.7,422.7ZM240.9,413.8 240.9,415.5 240.4,416.4 240.2,416.4 238.8,415.8 238.6,415.2 240.8,413.8ZM257.5,420.5 261.9,419.8 261.9,419.2 260.4,417.7 257.5,420.1ZM207.4,430.5 205.6,431.1 205.5,433.4 205.9,434.4 209.2,432.6 209.1,431.0ZM217.8,444.0 217.1,443.8 216.3,445.4 217.3,446.7 218.2,445.9ZM238.6,403.0 238.7,402.9 244.4,406.6 241.8,408.9ZM245.8,414.9 241.6,416.1 241.0,417.1 241.4,417.4 244.3,417.7 245.5,417.1 246.7,415.7 246.8,415.4ZM228.9,441.5 227.4,442.7 227.2,444.2 228.7,445.6 229.8,443.0 229.4,441.9ZM226.3,391.0 228.5,389.5 228.7,389.5 228.3,391.8 227.9,392.2 226.7,392.6 226.2,392.1ZM190.2,390.8 187.9,391.4 187.5,394.1 191.4,393.4ZM217.7,401.2 214.7,400.7 214.0,401.6 214.3,402.7 216.5,404.4 218.3,402.0 218.2,401.4ZM219.7,430.6 216.9,431.3 216.2,429.8 219.6,430.5ZM241.3,396.3 242.9,396.8 244.4,393.6 241.3,395.8ZM201.0,435.6 202.5,436.1 204.4,435.2 204.7,435.0 204.7,434.8 204.3,433.8 200.5,433.6 199.7,434.8ZM235.0,411.2 236.8,412.1 236.4,413.8 234.2,413.9 233.7,413.2 234.0,411.7ZM230.4,441.3 230.8,442.8 233.4,443.6 233.8,443.1 233.9,441.6 232.3,440.6ZM245.5,423.0 244.7,422.2 244.7,421.8 246.0,421.1 246.9,422.0 246.9,422.3ZM264.5,381.0 263.4,383.0 262.2,382.8 261.4,382.1 261.1,381.5 261.2,381.3ZM191.2,426.9 189.5,425.9 190.0,423.5 190.0,423.3 191.8,423.4 192.7,424.3 193.0,425.1 192.3,425.9ZM235.0,411.1 237.1,412.1 237.3,411.8 237.5,411.4 236.5,407.9 236.0,408.7ZM214.4,422.9 215.7,424.5 213.7,424.8ZM223.9,428.9 222.3,432.3 222.3,432.6 223.0,433.1 224.1,432.6 225.6,431.9 225.1,429.4 224.2,428.9ZM215.8,411.8 216.2,412.5 215.5,417.1 214.4,417.2 211.1,415.3 215.6,411.8 215.7,411.8ZM211.4,421.1 212.3,420.8 212.6,419.9 209.7,417.0 209.0,419.0 209.3,419.5 210.7,420.8ZM230.0,392.3 232.8,391.5 232.9,391.4 230.1,389.4 230.0,389.5 229.8,389.6 229.4,392.1ZM204.3,405.6 202.4,404.5 201.0,405.5 201.0,405.7 203.5,407.0ZM237.7,424.1 239.8,421.7 239.3,421.3 237.0,423.0 237.0,423.3ZM239.1,412.5 239.3,411.6 238.8,411.2 237.7,411.5 237.6,411.8ZM222.1,441.3 221.3,439.6 223.3,437.0 225.3,437.9 225.7,438.6 224.1,440.6 222.1,441.3ZM263.1,442.3 259.8,441.2 259.5,440.3 259.5,440.2 263.8,438.6 264.4,438.7 264.4,438.8ZM273.2,424.7 273.5,424.2 269.6,421.2 268.1,421.0 268.0,421.2 266.5,423.6 268.7,426.0ZM210.6,394.7 208.9,396.6 210.4,400.6 212.4,400.6 213.2,399.5 213.4,396.9 212.6,395.2 211.6,394.7ZM222.2,391.8 223.0,392.0 225.3,389.5 225.1,387.3 223.6,385.9 223.1,386.1 221.9,391.1ZM205.9,409.3 205.0,409.1 204.3,408.5 204.0,407.6 205.1,405.7 205.1,405.7 206.7,408.5ZM255.0,423.0 255.1,422.6 252.4,421.5 252.1,421.7 252.0,422.2 254.1,424.7 254.1,424.6ZM211.9,426.1 211.8,426.1 211.3,428.1 211.3,428.5 214.0,428.4 213.3,426.6 212.4,426.1ZM219.2,400.5 222.1,400.6 222.4,400.9 221.9,403.0 221.2,404.4 218.9,401.8 218.7,400.8ZM219.9,396.0 220.7,397.6 222.5,397.7 223.5,397.1 223.0,396.5 220.2,395.5ZM240.5,424.0 239.0,425.3 237.9,423.9 239.6,422.0 240.0,422.2ZM241.1,413.1 242.1,412.1 241.7,411.2 239.5,411.6 239.3,412.6 239.4,412.8 240.9,413.1ZM190.9,416.5 189.7,413.4 191.1,414.4 192.0,416.1ZM202.9,398.9 203.1,399.2 203.8,399.4 205.5,398.9 205.6,397.6 204.5,396.3ZM186.9,403.9 185.0,405.4 189.8,403.9 189.7,403.7 187.4,403.7ZM214.0,386.6 216.9,386.4 216.5,384.4 214.8,384.7 213.5,386.0 213.7,386.3ZM256.3,383.7 253.9,383.8 253.2,386.4 253.4,387.0 254.5,388.0 255.1,387.9 256.5,383.8ZM242.8,383.1 240.2,381.9 240.1,380.6 241.1,380.4 242.9,381.2ZM242.3,420.1 241.6,418.1 244.0,418.4 243.0,420.1ZM266.9,392.1 266.7,393.7 267.6,394.1 267.4,391.3ZM242.3,389.5 243.1,392.3 240.2,392.4 239.5,391.8ZM212.2,391.3 212.2,393.0 213.1,393.4 214.7,391.7 214.7,391.3 214.2,389.5 214.1,389.4ZM259.9,431.4 260.1,429.6 262.3,429.3 263.2,430.9ZM220.5,415.8 219.3,417.4 217.9,417.4 219.6,415.3ZM259.2,381.1 260.6,381.2 260.7,381.0 260.7,380.5 259.5,379.9ZM243.7,436.9 245.3,438.1 244.1,438.7 243.2,437.3ZM240.7,413.4 239.3,413.1 238.0,414.6 238.3,415.1ZM208.3,387.2 207.6,390.2 207.3,390.8 204.6,390.7 205.1,387.8 208.2,387.2ZM202.0,403.1 201.8,403.5 199.8,404.9 198.2,403.4 197.3,401.8 197.3,401.6 200.1,400.4 201.2,400.9ZM209.5,431.1 209.6,432.6 210.6,433.3 211.4,431.0 211.0,430.6ZM198.7,383.3 197.3,385.0 197.2,386.4 199.9,385.3ZM257.5,408.7 257.1,408.3 256.5,407.9 256.3,408.8 257.2,409.6ZM193.6,434.8 193.9,434.3 196.0,434.5 194.7,435.7 193.6,434.9ZM187.2,403.4 190.2,403.3 190.1,402.4 189.9,400.9 189.3,400.8 188.5,401.5ZM221.0,415.2 222.2,415.5 222.6,415.2 222.8,415.0 221.6,412.2 218.8,413.0 220.0,414.6ZM204.5,441.4 207.6,441.3 209.6,441.6 209.9,442.8 208.7,444.0 206.5,444.6 204.5,444.2 204.1,442.9ZM235.3,398.6 237.0,398.0 237.1,398.0 237.9,398.9 238.6,401.9 238.4,402.2 238.3,402.3 237.6,402.6 235.9,400.4ZM243.3,400.9 243.5,400.9 246.0,403.7 245.5,405.5 245.2,405.7 244.0,406.0 239.5,403.1 239.7,402.8 241.7,401.4ZM236.7,419.8 236.6,417.7 233.3,417.5 231.9,418.7 232.7,420.2 233.0,420.3ZM206.0,438.3 207.4,440.1 208.9,440.4 209.6,438.2 206.1,436.5ZM194.4,441.7 193.9,443.4 193.2,444.8 191.7,444.5 193.3,441.4 194.1,441.3ZM221.9,412.2 223.0,414.7 225.6,412.9 222.7,410.9ZM192.6,411.6 193.9,415.2 195.1,414.9 195.9,414.1 194.8,411.5ZM214.0,421.4 213.1,420.9 213.3,420.0 214.5,418.3 215.4,418.2 216.0,418.6 216.4,420.0 216.3,420.6 214.2,421.5ZM248.4,381.4 249.3,382.1 248.6,385.1 247.8,385.8 246.6,385.1 245.2,383.5 245.8,381.7ZM189.7,441.5 189.3,440.7 189.0,439.8 189.1,439.3 189.9,438.3 192.2,440.8ZM249.3,430.1 249.5,429.9 251.7,429.8 253.3,431.4 253.5,431.9 252.0,435.0 250.9,434.9 250.7,434.7 249.2,431.1ZM248.5,429.3 245.6,426.4 245.6,426.2 246.9,425.8 248.9,428.1 249.0,429.2 248.8,429.3ZM256.6,421.4 256.7,421.0 256.7,420.5 256.7,420.2 256.1,419.3 253.3,417.8 252.4,420.7 255.8,422.1ZM207.8,386.9 205.4,387.3 205.1,386.2 205.3,386.1 206.3,385.9ZM218.2,443.1 218.1,443.9 218.5,445.9 221.8,444.5 221.4,442.1 221.4,442.0 218.4,442.7ZM204.6,440.6 205.6,438.4 207.3,440.6 204.7,440.7ZM241.9,429.9 242.9,429.8 243.0,429.8 243.2,430.0 242.0,432.4 241.9,432.4ZM194.0,434.2 194.3,431.6 195.4,431.6 196.5,434.1 195.9,434.4ZM223.2,428.3 220.4,426.5 219.4,428.3 219.8,430.3 219.8,430.4 221.3,432.2ZM187.3,397.9 188.7,399.4 189.5,399.7 190.0,399.8 191.1,398.7 187.2,395.4 186.9,395.5 187.0,397.1ZM234.8,397.3 234.7,394.8 236.4,394.7 236.6,395.2 236.6,396.9 235.1,397.5ZM233.8,380.6 234.2,380.0 234.5,379.9 235.3,383.3 235.0,385.4 233.8,385.7 233.0,385.7 232.2,383.6ZM207.8,423.0 208.5,420.2 208.2,419.9 206.3,420.5 206.6,423.5 206.8,423.7 207.3,423.8ZM218.2,396.4 218.0,400.2 214.2,399.5 214.4,396.9ZM220.9,420.4 222.8,420.8 223.8,421.5 220.3,425.0 219.0,424.2 218.9,423.5 220.9,420.4ZM263.8,393.9 265.0,395.1 265.2,395.7 265.0,398.0 264.5,397.9 262.3,394.2 263.1,393.7ZM260.3,435.0 259.2,437.9 259.7,439.3 263.3,438.0 261.6,435.2ZM262.9,428.2 261.5,426.8 264.2,427.3 264.2,427.6ZM190.2,444.0 189.5,443.9 189.5,442.0 192.6,441.1 192.9,441.2ZM189.3,388.5 187.0,390.0 187.9,390.9 189.9,390.4 190.0,388.8ZM263.3,442.6 263.1,446.9 259.2,443.7 259.4,441.2 263.2,442.5ZM206.8,380.9 204.5,379.8 202.7,381.2 202.5,381.5 203.0,384.9 204.4,385.5 204.5,385.4ZM244.6,400.0 247.5,396.1 250.2,400.3 249.0,401.5 248.5,401.9 247.0,402.7ZM253.5,379.8 253.4,379.8 252.9,381.4 254.0,382.9 256.3,382.8 255.9,380.6 253.8,379.8ZM243.8,436.8 244.4,435.5 244.5,435.5 245.9,436.7 245.9,437.8 245.4,438.0ZM270.8,439.2 271.1,439.4 272.4,442.8 271.2,444.0 269.3,443.2 269.3,440.6ZM237.6,440.9 237.2,443.0 234.9,441.3 236.2,440.1ZM257.1,409.9 257.5,411.0 253.8,411.9 254.1,410.0 256.0,409.0ZM244.1,431.8 242.1,432.6 243.4,429.9 244.2,430.8ZM272.5,396.5 272.7,397.1 271.4,398.2 270.7,397.4ZM257.8,404.9 255.2,401.4 257.2,401.4 258.1,404.9 258.0,404.9ZM202.9,400.0 201.8,400.9 202.3,402.5 203.1,401.9 203.4,400.2ZM220.7,398.4 222.3,398.5 221.9,400.1 220.0,400.1ZM252.9,391.3 253.7,388.9 252.6,387.8 248.7,389.8 248.8,392.7 252.6,391.8ZM257.6,408.8 259.2,407.7 261.7,409.8 261.0,411.4 260.1,412.1 257.8,411.3 257.3,409.9ZM223.8,400.7 222.8,400.5 222.6,400.3 223.0,398.7 223.9,398.2 224.4,398.3ZM267.5,391.2 267.6,391.2 269.0,390.7 269.7,390.7 269.5,393.9 268.6,394.3 267.9,394.3 267.8,394.1ZM246.2,433.7 245.7,433.7 245.2,434.9 246.3,435.9 246.9,435.4 246.7,434.1ZM258.6,381.1 257.7,379.7 258.0,378.8 258.9,378.5 259.1,378.7 259.2,379.8 258.9,381.0ZM207.3,430.3 209.3,430.8 211.2,430.1 211.2,428.6 208.1,428.4ZM204.9,395.3 209.3,393.7 207.2,391.6 204.7,391.6 204.5,391.7 204.7,395.1ZM232.2,397.6 233.7,397.3 233.6,394.8 233.2,394.3 231.8,394.9 231.1,396.2 231.3,396.8 231.9,397.5ZM197.3,378.9 197.1,379.2 200.5,381.3 201.6,380.8 201.8,380.5 198.8,378.7 197.6,378.7ZM206.2,385.4 204.8,385.6 207.1,381.0 207.8,381.1 208.7,383.4ZM231.4,418.8 229.1,418.1 228.0,413.5 229.1,412.9 233.5,413.3 234.1,414.1 233.1,417.4ZM269.6,402.6 268.7,404.5 269.4,405.1 270.5,404.8 270.4,402.7ZM197.6,436.1 195.3,436.9 195.1,437.7 195.3,438.2 197.5,437.8 197.5,437.7ZM203.5,439.9 204.9,436.1 205.2,435.9 205.3,436.0 205.2,438.2 204.2,440.5ZM270.9,402.4 271.1,405.1 271.2,405.1 271.6,405.1 271.6,405.1 274.3,401.1 273.0,401.0ZM224.4,433.4 226.8,434.7 226.2,435.1 223.5,434.2 223.3,433.9ZM211.6,428.6 211.6,428.7 211.6,429.8 212.1,430.2 213.3,430.6 214.6,429.4 213.9,428.6ZM200.8,386.1 200.4,387.2 199.6,387.5 197.5,386.8 197.6,386.5 199.9,385.6ZM197.2,390.4 196.8,390.4 196.3,388.5 197.4,387.5 199.3,388.2 198.9,389.8ZM271.2,390.0 270.5,390.4 270.3,393.9 270.8,394.7 272.5,394.9 272.7,394.7 272.6,390.7ZM263.5,431.1 262.3,429.0 263.0,428.4 264.8,427.6 265.9,429.3 265.7,431.9ZM195.8,442.7 195.7,444.4 194.5,443.6 194.9,442.3ZM234.8,410.8 233.9,411.2 233.4,410.3 235.6,409.1ZM258.3,381.4 257.4,383.1 256.8,383.0 256.6,382.9 256.3,380.5 257.3,379.9ZM268.6,432.5 268.4,432.7 271.7,433.7 273.3,432.5 273.3,432.5 272.6,431.0ZM195.6,383.3 196.3,381.4 196.0,380.9 193.1,383.4 193.2,383.5ZM197.0,391.1 199.7,393.4 202.2,391.4 199.1,390.4ZM233.8,411.7 233.5,413.3 229.1,413.0 231.6,408.9 233.0,410.5ZM239.1,412.9 237.8,414.4 237.0,413.7 237.4,412.3 237.6,412.0 239.0,412.7ZM257.8,420.5 261.6,420.0 261.7,420.1 261.6,420.9 257.7,421.0ZM262.2,434.8 263.9,437.7 264.4,437.8 264.9,437.4 265.5,433.7ZM217.2,440.0 218.5,439.3 215.4,436.9 214.8,436.6 213.8,437.4 216.3,440.2ZM213.8,425.1 215.6,424.8 216.3,425.1 215.6,426.0 213.7,426.2 212.9,425.8ZM247.0,425.8 249.0,428.0 249.1,425.0 248.9,424.9ZM254.6,425.4 254.6,425.4 253.1,426.1 251.8,429.4 253.7,431.3 256.8,427.5ZM266.6,394.0 265.7,394.9 265.9,395.5 267.2,395.0 267.7,394.5 267.5,394.4ZM265.1,438.9 265.1,438.8 265.7,438.5 266.1,438.5 268.1,440.2 266.1,440.9ZM257.3,393.0 257.4,392.2 258.6,389.8 258.9,390.4 259.9,393.6 259.8,393.7ZM236.7,433.6 236.6,433.7 236.3,433.9 239.1,439.0 240.4,437.8 240.4,435.4 240.0,434.5ZM262.7,391.5 259.8,390.2 260.8,393.3 261.7,393.3 261.8,393.3 262.6,392.8ZM186.3,417.9 188.0,418.7 188.4,418.4 189.6,416.9 188.5,414.4 188.1,414.6ZM196.2,384.8 196.5,385.0 196.5,386.1 196.4,386.4 195.3,387.4 193.6,386.6 193.5,385.9 193.6,384.7ZM264.2,422.9 265.1,423.2 265.9,422.8 267.0,421.1 262.7,420.2 262.7,421.0 263.0,422.2ZM190.9,416.5 190.0,416.9 188.8,414.2 189.1,412.9 189.7,413.4ZM211.9,408.9 211.3,406.9 210.0,407.2 209.4,408.0 210.2,409.1ZM252.9,437.7 255.1,441.7 253.4,443.7 251.1,440.1ZM270.1,388.3 270.5,385.7 270.4,385.6 269.4,385.1 268.1,384.8 266.9,385.7 268.3,387.8 268.9,388.6 269.5,388.6ZM260.3,423.1 257.9,421.6 258.0,421.3 261.4,421.2 261.7,422.4ZM237.0,423.0 236.3,421.9 236.9,419.9 239.0,420.7 239.4,421.3ZM221.4,433.1 220.4,433.7 219.6,437.0 220.2,439.3 220.9,439.8 223.3,436.7 222.7,434.1 222.5,433.7ZM207.9,407.6 205.9,405.3 205.3,405.6 206.8,408.4ZM219.5,415.0 218.4,413.6 217.0,412.8 216.3,417.1 216.9,417.6 217.5,417.4ZM270.2,397.8 271.0,398.7 271.4,399.4 268.2,400.3 267.1,399.1 268.4,398.1 270.2,397.8ZM269.0,395.0 269.7,394.7 270.1,395.2 269.9,396.9 268.5,397.2 268.6,396.5ZM219.3,430.4 218.9,428.5 216.3,429.4 216.3,429.5 216.6,429.9ZM247.7,440.4 247.4,439.9 247.2,439.8 244.6,441.6 245.4,442.3ZM240.9,396.8 241.0,397.4 240.1,397.9 239.6,397.0ZM256.2,394.4 259.2,394.7 259.6,394.1 257.2,393.4ZM261.6,426.5 264.2,427.1 264.7,424.7 263.7,424.5 261.6,426.5ZM246.2,420.6 246.1,417.2 244.6,417.9 243.2,420.7 244.0,421.7ZM224.4,407.9 221.7,407.5 221.5,408.7 222.7,409.6ZM224.1,402.0 222.1,402.8 222.6,401.3 223.7,401.5ZM218.0,392.7 215.8,392.1 215.9,391.6 218.5,389.7 219.3,390.7ZM259.9,426.6 261.3,426.4 263.7,424.1 262.3,423.3 260.7,424.0 259.9,425.9ZM195.5,411.2 196.5,409.7 196.9,409.4 198.3,409.2 199.2,410.5 199.6,412.7 198.9,413.5 196.7,413.9ZM263.7,389.8 262.3,388.2 260.3,388.4 259.6,389.3 259.6,389.3 259.9,389.9 262.9,391.2ZM190.4,404.0 190.7,404.4 184.9,408.5 181.4,407.6 184.0,406.1ZM200.8,436.0 202.5,436.5 201.5,438.8 200.3,438.3ZM214.1,434.7 213.7,435.3 212.8,436.1 212.0,436.3 211.0,433.5 211.8,431.1 213.1,431.4ZM233.0,421.1 232.7,421.0 232.0,423.6 233.7,424.0 234.4,422.8 234.3,422.2ZM230.0,424.5 230.0,424.5 231.0,423.3 231.7,420.7 231.0,419.5 229.3,419.0 227.5,420.3 226.9,421.2 228.3,423.3ZM238.8,441.1 241.1,441.8 240.3,444.0 238.0,443.1 237.9,443.0 237.9,443.0 238.3,441.2ZM228.9,438.8 228.4,438.4 228.8,435.4 230.3,435.2 231.9,435.9ZM230.0,382.7 233.5,380.4 231.8,383.4 231.2,383.4 230.2,383.0ZM240.3,438.1 239.4,439.0 239.1,440.0 241.5,440.8 241.7,440.7 241.3,439.4ZM224.9,407.6 225.4,407.4 224.5,404.9 221.5,404.9 221.0,405.9 221.3,407.1ZM241.3,395.6 243.8,393.8 244.0,393.6 243.4,393.1 240.1,393.2 240.0,394.5ZM205.8,410.1 204.9,409.9 202.6,413.1 203.7,414.0 206.3,411.0ZM192.5,410.9 192.4,410.8 191.0,409.8 192.1,408.1 195.9,409.3 194.9,410.8ZM225.0,408.4 225.4,408.2 226.3,408.6 226.4,412.0 225.8,412.1 223.3,410.3 223.3,410.2ZM223.5,415.5 223.4,415.7 226.5,418.9 228.4,417.7 227.5,414.1 226.7,413.6 226.1,413.7ZM253.9,437.7 253.8,438.3 255.1,440.8 257.6,439.9 257.6,439.8 257.2,438.6 255.0,437.8ZM223.7,427.1 221.4,425.6 221.2,425.3 224.1,422.4 224.4,422.4 224.5,426.3 224.0,427.1ZM229.3,396.1 229.6,396.2 230.1,396.5 230.2,397.3 227.7,397.9 225.6,397.2 226.1,396.2ZM213.4,422.3 212.5,421.7 211.7,422.0 211.1,424.7 211.9,425.2 212.0,425.2ZM234.0,386.8 235.0,386.6 236.1,387.4 236.5,388.6 236.3,389.5 234.4,390.0 234.0,388.8ZM207.1,425.9 206.5,425.8 205.7,427.0 205.0,428.9 205.8,429.9 207.2,429.4 207.7,428.2 207.7,427.5 207.4,426.1ZM215.6,428.9 215.0,429.0 214.3,428.2 213.7,426.7 215.6,426.6 215.6,428.8ZM260.2,395.2 259.7,397.1 260.2,397.8 261.9,397.9 262.2,397.9 261.7,394.4 260.7,394.4 260.6,394.5ZM262.3,387.0 260.0,387.2 259.6,385.5 262.1,383.4 263.5,383.7 263.7,385.1ZM256.4,423.2 256.5,422.8 257.2,422.0 260.1,423.7 259.4,425.8ZM265.7,411.7 267.4,410.5 266.6,410.1 264.2,409.9ZM191.3,444.4 190.2,444.1 193.0,441.3 193.2,441.3 191.6,444.4ZM245.3,425.5 245.6,423.7 247.5,422.7 248.8,424.6 246.8,425.5 245.5,425.9ZM242.5,441.3 243.9,441.8 245.2,442.8 246.0,444.1 244.9,444.8 241.3,446.0 240.9,444.8 240.9,444.7 242.1,441.5 242.2,441.3ZM246.1,378.5 247.5,379.2 247.8,381.0 246.0,381.2 245.2,380.4 245.5,379.0ZM237.1,443.5 234.4,443.5 234.1,444.0 234.5,446.8 236.2,445.7 236.2,445.7 237.1,443.5ZM257.2,408.1 258.6,407.5 258.0,406.1 257.7,406.1 256.5,406.8 256.6,407.7ZM235.2,432.6 235.0,432.7 231.9,429.9 232.6,428.6 233.8,428.6 235.4,432.4ZM256.5,378.2 257.4,378.6 257.1,379.6 256.1,380.2 253.9,379.3ZM208.0,403.0 208.4,402.3 210.3,401.9 212.0,401.9 212.3,403.2 211.3,405.4 211.0,405.7 209.7,406.0ZM225.7,389.7 225.6,388.3 228.2,389.2 226.1,390.7ZM224.8,426.9 224.8,426.9 224.6,421.4 226.0,420.9 227.9,423.7ZM236.4,393.9 237.7,391.9 236.8,390.6 234.6,391.2 234.0,391.6 234.0,391.7 233.9,393.4 234.5,394.1ZM195.5,407.0 195.5,405.8 193.0,405.6 193.0,406.0ZM257.6,405.3 254.8,401.4 253.7,400.9 254.3,406.0 256.0,406.1ZM237.7,416.3 236.6,417.3 233.5,417.1 234.3,414.4 236.4,414.4 237.2,415.1 237.5,415.6ZM229.7,382.9 229.6,382.9 228.5,382.7 228.3,382.7 228.3,384.5 229.1,384.7 229.8,383.2ZM193.1,394.8 191.7,394.0 187.5,394.8 187.2,395.0 191.5,398.7 193.3,397.5 193.3,395.4ZM191.2,417.3 190.5,417.6 189.3,419.1 192.4,419.6 192.4,416.8 192.2,416.9ZM231.4,394.0 233.0,393.4 233.0,391.8 230.0,392.6ZM248.1,441.0 248.2,444.3 246.3,443.4 245.8,442.6 247.9,440.8ZM212.9,410.9 214.4,411.5 210.9,414.1 210.4,414.2 209.9,413.7 209.8,413.0 210.6,411.6ZM200.4,433.1 204.7,433.4 204.8,431.0 203.8,429.7 199.8,429.3ZM268.2,426.4 266.8,424.9 266.0,425.2 265.5,427.3 265.5,427.5 266.3,428.7 268.6,427.8ZM216.6,431.3 216.7,433.3 214.8,434.4 213.9,431.2 215.2,430.0 215.8,429.9 216.1,430.3ZM221.5,390.6 222.4,387.0 222.2,386.9 219.6,387.8 218.9,388.2 218.9,388.2 219.0,389.4 219.7,390.3ZM222.4,392.1 223.1,392.2 224.7,392.8 223.3,395.0 222.0,392.9ZM259.2,407.2 258.4,405.5 258.5,405.4 260.8,403.8 261.1,403.8 262.9,404.3 263.4,405.0 263.4,405.0 263.4,405.7 262.3,408.8 261.5,409.4 259.3,407.6ZM218.3,387.2 219.0,386.8 217.5,384.0 217.1,384.3 217.4,386.4ZM244.7,412.6 242.7,411.8 242.3,410.9 242.2,409.0 242.2,409.0 244.3,407.2 245.7,406.8ZM198.7,438.6 198.6,438.6 198.7,441.3 198.9,441.4 200.3,440.8 201.2,439.7 201.1,439.3 200.1,438.9ZM192.8,379.2 191.9,379.8 191.1,381.3 193.1,383.1 195.7,380.8 195.5,380.3ZM229.1,425.8 225.2,426.7 227.7,424.1 229.5,425.4ZM215.9,443.2 215.2,443.8 216.4,445.1 217.0,443.8 216.9,443.6ZM263.3,442.6 263.1,446.9 264.1,448.8 267.4,444.1 265.9,442.5ZM271.1,429.0 272.3,430.3 272.2,431.0 268.9,432.2 269.9,428.9ZM244.7,425.1 242.6,424.4 242.3,424.1 244.0,422.8 244.9,423.7ZM246.6,436.6 247.3,436.0 249.4,435.3 250.3,435.4 250.6,435.5 248.0,439.0 247.8,438.9 246.6,437.8Z" fill="#edeaf1"/>
<path d="M201.7,420.6 204.3,423.7 201.2,424.5 201.1,423.9 201.2,421.4ZM196.5,423.3 196.2,425.7 193.6,425.6 193.2,424.1 194.6,422.9ZM193.6,415.8 193.7,415.7 195.5,415.3 197.3,418.4 196.1,420.2 196.1,420.2 195.5,419.8 193.9,417.8ZM190.9,429.3 195.2,427.7 192.5,426.6 190.5,428.3ZM196.8,422.8 197.2,422.7 198.5,421.5 198.4,420.6 196.0,420.0 196.0,420.0 195.7,420.9ZM194.6,423.0 193.3,424.2 191.7,422.6 193.2,421.1 194.5,421.4ZM200.2,418.7 200.5,417.6 199.4,413.7 196.4,414.2 195.3,415.4 197.1,418.5ZM202.0,420.7 200.1,418.5 198.3,420.6 198.3,421.5 199.8,422.1 201.5,421.5 202.0,420.8ZM195.2,427.7 199.0,428.3 199.0,428.1 196.2,425.4 193.6,425.3 192.4,426.6ZM201.4,424.5 201.3,423.9 199.0,423.1 198.5,423.4 199.3,427.0 201.1,425.3ZM194.0,417.7 195.6,419.7 193.2,420.0ZM193.1,420.0 195.6,419.7 196.2,420.1 196.0,421.0 194.5,421.5 193.1,421.3 193.0,420.1ZM196.8,422.5 197.2,422.5 198.7,423.4 199.5,427.0 198.8,428.3 196.0,425.7 196.3,423.3ZM199.2,435.0 200.4,433.3 199.7,428.7 198.8,428.0 195.4,430.9 196.8,434.3 198.4,435.3ZM197.0,422.7 195.9,420.8 194.4,421.4 194.5,423.0 196.5,423.4ZM198.4,428.5 198.4,428.3 198.4,428.1 199.1,426.8 200.9,425.0 205.2,426.4 204.1,429.7 199.3,429.1ZM206.6,424.7 205.1,426.5 200.9,425.2 201.1,424.4 204.3,423.6 206.3,424.3ZM201.7,420.9 205.0,419.6 204.8,418.9 203.1,416.7 200.1,417.5 199.8,418.6 199.8,418.7ZM206.3,424.5 204.2,423.8 201.6,420.7 201.6,420.6 204.9,419.3 205.8,419.7ZM199.1,428.4 199.0,428.2 195.2,427.7 190.9,429.2 191.3,430.3 194.2,431.3 195.7,431.2ZM198.4,420.7 196.0,420.1 197.1,418.2 200.2,418.5 200.2,418.5ZM198.4,421.4 197.1,422.6 198.6,423.5 199.1,423.2 199.8,422.0ZM201.5,421.4 201.3,423.9 199.0,423.1 199.7,421.9Z" fill="#edeaf1"/>
</g>
<path filter="url(#sb2)" d="M211.5,398 C212.5,394.5 222,394 226,396.5 C227.5,404 226.5,412 229,421 C228,424.5 220,424.5 213.5,423.5 C212,415 211,406 211.5,398Z" fill="#9068b0" opacity="0.6"/>
<path filter="url(#sb2)" d="M214.3,400 C215.5,397.5 221.5,397 224,399 C224.5,406 224,413 226,420 C222,421.5 217.5,421.5 216,420.5 C214.8,413 214,406 214.3,400Z" fill="#f6f3f7"/>
<path filter="url(#sb2)" d="M190.7,435 C205,429 222,424 240,422.5 C252,421.5 262,423 269,425" fill="none" stroke="#e9dfee" stroke-width="3.2"/>
<path filter="url(#sb2)" d="M190.7,438 C205,432 222,427 240,425.5 C252,424.5 262,426 269,428" fill="none" stroke="#b898cc" stroke-width="0.8" opacity="0.8"/>
<path filter="url(#sb2)" d="M218,442 C222,436 232,434 242,438 L244,442Z" fill="#c090c8" opacity="0.8"/>
<rect x="242.5" y="424.6" width="25" height="15.5" rx="2" fill="#fff" opacity="0.42" filter="url(#sb2)"/>
<text x="264.7" y="435.0" font-size="7.5" text-anchor="end" fill="#1a1a1a" style="stroke-width:0.1px">50 μm</text>
<line x1="252.5" y1="437.6" x2="262.2" y2="437.6" stroke="#8a8a8a" stroke-width="0.8"/>
</g>
<text x="71.20" y="319.40" font-size="7.5" text-anchor="middle" fill="#161616">Normal</text>
<text x="155.00" y="319.40" font-size="7.5" text-anchor="middle" fill="#161616">OVA</text>
<text x="232.40" y="319.40" font-size="7.5" text-anchor="middle" fill="#161616">OVA + Anth</text>
<text x="29.30" y="351.60" font-size="7.5" text-anchor="middle" fill="#161616" transform="rotate(-90 29.30 351.60)">H&amp;E</text>
<text x="29.30" y="411.80" font-size="7.5" text-anchor="middle" fill="#161616" transform="rotate(-90 29.30 411.80)">PAS</text>
<text x="23.00" y="439.80" font-size="8" text-anchor="start" fill="#000" font-weight="bold">i</text>
<line x1="304.20" y1="314.80" x2="304.20" y2="410.90" stroke="#8a8a8a" stroke-width="1"/>
<line x1="301.20" y1="410.40" x2="304.20" y2="410.40" stroke="#8a8a8a" stroke-width="1"/>
<text x="298.10" y="412.80" font-size="7.5" text-anchor="end" fill="#161616">0</text>
<line x1="301.20" y1="389.38" x2="304.20" y2="389.38" stroke="#8a8a8a" stroke-width="1"/>
<text x="298.10" y="391.77" font-size="7.5" text-anchor="end" fill="#161616">1</text>
<line x1="301.20" y1="368.35" x2="304.20" y2="368.35" stroke="#8a8a8a" stroke-width="1"/>
<text x="298.10" y="370.75" font-size="7.5" text-anchor="end" fill="#161616">2</text>
<line x1="301.20" y1="347.32" x2="304.20" y2="347.32" stroke="#8a8a8a" stroke-width="1"/>
<text x="298.10" y="349.72" font-size="7.5" text-anchor="end" fill="#161616">3</text>
<line x1="301.20" y1="326.30" x2="304.20" y2="326.30" stroke="#8a8a8a" stroke-width="1"/>
<text x="298.10" y="328.70" font-size="7.5" text-anchor="end" fill="#161616">4</text>
<circle cx="310.90" cy="389.38" r="1.65" fill="#000"/>
<circle cx="312.20" cy="389.38" r="1.65" fill="#000"/>
<circle cx="313.50" cy="389.38" r="1.65" fill="#000"/>
<circle cx="314.80" cy="389.38" r="1.65" fill="#000"/>
<circle cx="316.10" cy="389.38" r="1.65" fill="#000"/>
<circle cx="311.10" cy="410.40" r="1.65" fill="#000"/>
<circle cx="312.70" cy="410.40" r="1.65" fill="#000"/>
<circle cx="314.30" cy="410.40" r="1.65" fill="#000"/>
<circle cx="315.90" cy="410.40" r="1.65" fill="#000"/>
<line x1="308.90" y1="400.31" x2="318.10" y2="400.31" stroke="#111" stroke-width="0.9"/>
<line x1="313.50" y1="396.31" x2="313.50" y2="403.67" stroke="#111" stroke-width="0.9"/>
<line x1="311.20" y1="396.31" x2="315.80" y2="396.31" stroke="#111" stroke-width="0.9"/>
<line x1="311.20" y1="403.67" x2="315.80" y2="403.67" stroke="#111" stroke-width="0.9"/>
<line x1="336.20" y1="324.20" x2="336.20" y2="345.64" stroke="#2f5a74" stroke-width="0.9"/>
<line x1="330.20" y1="334.71" x2="342.20" y2="334.71" stroke="#2f5a74" stroke-width="0.9"/>
<line x1="333.20" y1="345.64" x2="339.20" y2="345.64" stroke="#2f5a74" stroke-width="0.9"/>
<circle cx="331.45" cy="326.30" r="1.9" fill="#2f5a74"/>
<circle cx="333.35" cy="326.30" r="1.9" fill="#2f5a74"/>
<circle cx="335.25" cy="326.30" r="1.9" fill="#2f5a74"/>
<circle cx="337.15" cy="326.30" r="1.9" fill="#2f5a74"/>
<circle cx="339.05" cy="326.30" r="1.9" fill="#2f5a74"/>
<circle cx="340.95" cy="326.30" r="1.9" fill="#2f5a74"/>
<circle cx="334.30" cy="347.32" r="1.9" fill="#2f5a74"/>
<circle cx="336.20" cy="347.32" r="1.9" fill="#2f5a74"/>
<circle cx="338.10" cy="347.32" r="1.9" fill="#2f5a74"/>
<line x1="359.40" y1="354.26" x2="359.40" y2="382.44" stroke="#f0b860" stroke-width="0.9"/>
<line x1="356.90" y1="354.26" x2="361.90" y2="354.26" stroke="#f0b860" stroke-width="0.9"/>
<line x1="356.90" y1="382.44" x2="361.90" y2="382.44" stroke="#f0b860" stroke-width="0.9"/>
<circle cx="356.70" cy="368.35" r="1.6" fill="#f0b860"/>
<circle cx="358.50" cy="368.35" r="1.6" fill="#f0b860"/>
<circle cx="360.30" cy="368.35" r="1.6" fill="#f0b860"/>
<circle cx="362.10" cy="368.35" r="1.6" fill="#f0b860"/>
<circle cx="359.40" cy="347.32" r="1.6" fill="#f0b860"/>
<circle cx="359.40" cy="389.38" r="1.6" fill="#f0b860"/>
<line x1="354.90" y1="368.35" x2="363.90" y2="368.35" stroke="#f0b860" stroke-width="1"/>
<text x="335.70" y="321.20" font-size="8.0" text-anchor="middle" fill="#161616" font-family="DejaVu Sans" letter-spacing="-1.0">∗</text>
<text x="359.40" y="342.80" font-size="7.6" text-anchor="middle" fill="#161616" font-weight="bold" font-style="italic" style="stroke-width:0.5px">#</text>
<line x1="303.70" y1="410.40" x2="369.00" y2="410.40" stroke="#8a8a8a" stroke-width="1"/>
<line x1="313.50" y1="410.40" x2="313.50" y2="412.90" stroke="#8a8a8a" stroke-width="1"/>
<line x1="336.20" y1="410.40" x2="336.20" y2="412.90" stroke="#8a8a8a" stroke-width="1"/>
<line x1="359.40" y1="410.40" x2="359.40" y2="412.90" stroke="#8a8a8a" stroke-width="1"/>
<text x="317.30" y="420.20" font-size="7.5" text-anchor="end" fill="#161616" transform="rotate(-45 317.30 420.20)">Normal</text>
<text x="340.00" y="420.20" font-size="7.5" text-anchor="end" fill="#161616" transform="rotate(-45 340.00 420.20)">OVA</text>
<text x="363.20" y="420.20" font-size="7.5" text-anchor="end" fill="#161616" transform="rotate(-45 363.20 420.20)">OVA + Anth</text>
<text x="289.80" y="362.00" font-size="7.5" text-anchor="middle" fill="#161616" transform="rotate(-90 289.80 362.00)">Inflammation score</text>
<text x="283.60" y="445.60" font-size="8" text-anchor="start" fill="#000" font-weight="bold">j</text>
<line x1="418.00" y1="314.30" x2="418.00" y2="411.00" stroke="#8a8a8a" stroke-width="1"/>
<line x1="415.00" y1="410.50" x2="418.00" y2="410.50" stroke="#8a8a8a" stroke-width="1"/>
<text x="411.90" y="412.90" font-size="7.5" text-anchor="end" fill="#161616">0</text>
<line x1="415.00" y1="389.68" x2="418.00" y2="389.68" stroke="#8a8a8a" stroke-width="1"/>
<text x="411.90" y="392.07" font-size="7.5" text-anchor="end" fill="#161616">5</text>
<line x1="415.00" y1="368.85" x2="418.00" y2="368.85" stroke="#8a8a8a" stroke-width="1"/>
<text x="411.90" y="371.25" font-size="7.5" text-anchor="end" fill="#161616">10</text>
<line x1="415.00" y1="348.02" x2="418.00" y2="348.02" stroke="#8a8a8a" stroke-width="1"/>
<text x="411.90" y="350.42" font-size="7.5" text-anchor="end" fill="#161616">15</text>
<line x1="415.00" y1="327.20" x2="418.00" y2="327.20" stroke="#8a8a8a" stroke-width="1"/>
<text x="411.90" y="329.60" font-size="7.5" text-anchor="end" fill="#161616">20</text>
<circle cx="426.1" cy="402.59" r="1.9" fill="#000"/>
<circle cx="425.3" cy="406.75" r="1.9" fill="#000"/>
<circle cx="428.8" cy="406.75" r="1.9" fill="#000"/>
<line x1="422.50" y1="408.00" x2="431.50" y2="408.00" stroke="#111" stroke-width="1"/>
<line x1="444.80" y1="341.78" x2="454.00" y2="341.78" stroke="#6d8ba0" stroke-width="1"/>
<line x1="449.20" y1="335.53" x2="449.20" y2="348.02" stroke="#6d8ba0" stroke-width="1"/>
<rect x="447.55" y="317.64" width="3.30" height="3.30" fill="#23495f"/>
<rect x="446.45" y="321.38" width="3.30" height="3.30" fill="#23495f"/>
<rect x="448.35" y="325.55" width="3.30" height="3.30" fill="#23495f"/>
<rect x="447.15" y="336.38" width="3.30" height="3.30" fill="#23495f"/>
<rect x="448.55" y="341.38" width="3.30" height="3.30" fill="#23495f"/>
<rect x="446.65" y="346.38" width="3.30" height="3.30" fill="#23495f"/>
<rect x="444.45" y="350.54" width="3.30" height="3.30" fill="#23495f"/>
<rect x="446.85" y="350.54" width="3.30" height="3.30" fill="#23495f"/>
<rect x="449.05" y="354.71" width="3.30" height="3.30" fill="#23495f"/>
<rect x="451.15" y="354.71" width="3.30" height="3.30" fill="#23495f"/>
<line x1="466.50" y1="381.76" x2="477.00" y2="381.76" stroke="#eeae52" stroke-width="1"/>
<line x1="471.90" y1="373.43" x2="471.90" y2="389.68" stroke="#eeae52" stroke-width="1"/>
<path d="M468.60,354.11 L472.60,354.11 L470.60,350.71Z" fill="#eeae52"/>
<path d="M471.90,358.27 L475.90,358.27 L473.90,354.87Z" fill="#eeae52"/>
<path d="M470.20,374.93 L474.20,374.93 L472.20,371.53Z" fill="#eeae52"/>
<path d="M467.50,379.51 L471.50,379.51 L469.50,376.11Z" fill="#eeae52"/>
<path d="M473.20,379.51 L477.20,379.51 L475.20,376.11Z" fill="#eeae52"/>
<path d="M467.50,387.43 L471.50,387.43 L469.50,384.03Z" fill="#eeae52"/>
<path d="M470.20,387.43 L474.20,387.43 L472.20,384.03Z" fill="#eeae52"/>
<path d="M473.20,392.01 L477.20,392.01 L475.20,388.61Z" fill="#eeae52"/>
<path d="M468.60,396.17 L472.60,396.17 L470.60,392.77Z" fill="#eeae52"/>
<path d="M471.40,399.92 L475.40,399.92 L473.40,396.52Z" fill="#eeae52"/>
<text x="448.70" y="315.20" font-size="8.0" text-anchor="middle" fill="#161616" font-family="DejaVu Sans" letter-spacing="-1.0">∗</text>
<text x="471.50" y="348.10" font-size="7.6" text-anchor="middle" fill="#161616" font-weight="bold" font-style="italic" style="stroke-width:0.5px">#</text>
<line x1="417.50" y1="410.50" x2="482.20" y2="410.50" stroke="#8a8a8a" stroke-width="1"/>
<line x1="427.00" y1="410.50" x2="427.00" y2="413.00" stroke="#8a8a8a" stroke-width="1"/>
<line x1="449.20" y1="410.50" x2="449.20" y2="413.00" stroke="#8a8a8a" stroke-width="1"/>
<line x1="471.90" y1="410.50" x2="471.90" y2="413.00" stroke="#8a8a8a" stroke-width="1"/>
<text x="430.80" y="420.30" font-size="7.5" text-anchor="end" fill="#161616" transform="rotate(-45 430.80 420.30)">Normal</text>
<text x="453.00" y="420.30" font-size="7.5" text-anchor="end" fill="#161616" transform="rotate(-45 453.00 420.30)">OVA</text>
<text x="475.70" y="420.30" font-size="7.5" text-anchor="end" fill="#161616" transform="rotate(-45 475.70 420.30)">OVA + Anth</text>
<text x="389.20" y="362.00" font-size="7.5" text-anchor="middle" fill="#161616" transform="rotate(-90 389.20 362.00)">Mucus secreting</text>
<text x="396.40" y="362.00" font-size="7.5" text-anchor="middle" fill="#161616" transform="rotate(-90 396.40 362.00)">cells/100 μm</text>
<text x="383.60" y="447.60" font-size="8" text-anchor="start" fill="#000" font-weight="bold">k</text>
</svg>
</body></html>
